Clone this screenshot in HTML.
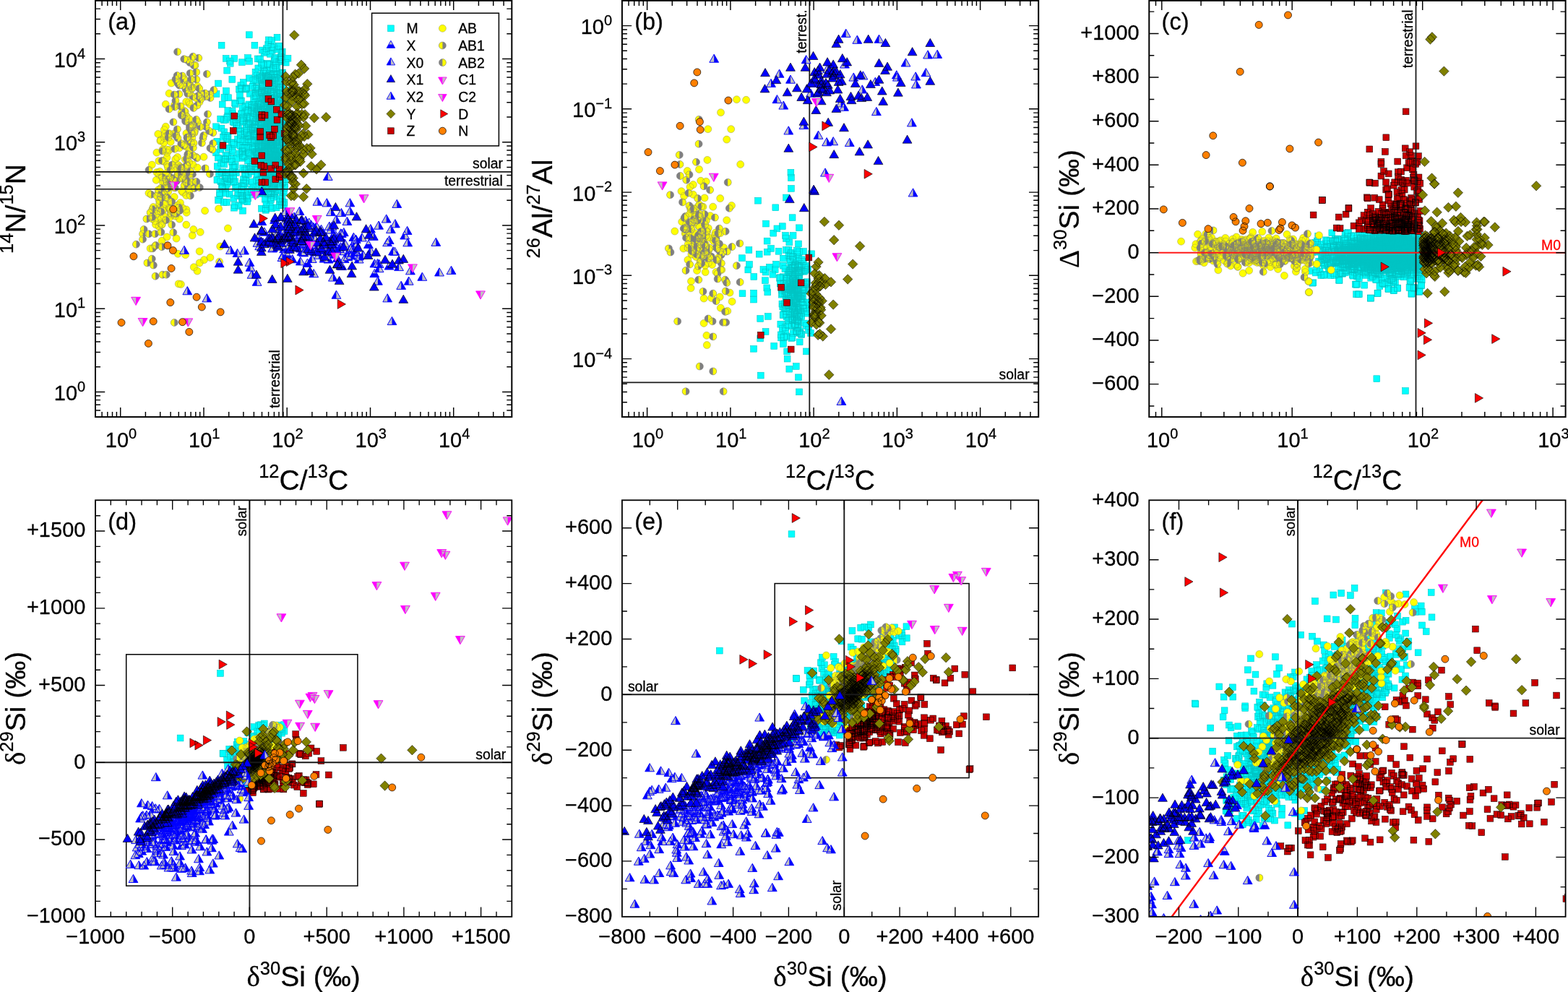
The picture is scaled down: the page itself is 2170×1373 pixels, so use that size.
<!DOCTYPE html>
<html lang="en"><head><meta charset="utf-8"><title>Presolar SiC grain isotopic compositions</title>
<style>html,body{margin:0;padding:0;background:#fff;overflow:hidden}svg{display:block}text{font-family:'Liberation Sans', Arial, Helvetica, sans-serif;stroke:#000;stroke-width:.28px}text.r{fill:#f00;stroke:#f00}polyline{fill:none;stroke:none}.fm{marker:url(#fm)}.sm{marker:url(#sm)}.fz{marker:url(#fz)}.sz{marker:url(#sz)}.fy{marker:url(#fy)}.sy{marker:url(#sy)}.fx1{marker:url(#fx1)}.sx1{marker:url(#sx1)}.fx{marker:url(#fx)}.ox{marker:url(#ox)}.sx{marker:url(#sx)}.fx0{marker:url(#fx0)}.ox0{marker:url(#ox0)}.sx0{marker:url(#sx0)}.fx2{marker:url(#fx2)}.ox2{marker:url(#ox2)}.sx2{marker:url(#sx2)}.fc1{marker:url(#fc1)}.oc1{marker:url(#oc1)}.sc1{marker:url(#sc1)}.fc2{marker:url(#fc2)}.oc2{marker:url(#oc2)}.sc2{marker:url(#sc2)}.fd{marker:url(#fd)}.sd{marker:url(#sd)}.fn{marker:url(#fn)}.sn{marker:url(#sn)}.fab{marker:url(#fab)}.sab{marker:url(#sab)}.fab1{marker:url(#fab1)}.oab1{marker:url(#oab1)}.sab1{marker:url(#sab1)}.fab2{marker:url(#fab2)}.oab2{marker:url(#oab2)}.sab2{marker:url(#sab2)}</style></head>
<body>
<svg xmlns="http://www.w3.org/2000/svg" width="2170" height="1373" viewBox="0 0 2170 1373">
<rect width="2170" height="1373" fill="#fff"/>
<defs>
<marker id="fm" markerUnits="userSpaceOnUse" markerWidth="20" markerHeight="20" viewBox="-10 -10 20 20" refX="0" refY="0" overflow="visible"><rect x="-4.4" y="-4.4" width="8.8" height="8.8" fill="#00ffff"/></marker>
<marker id="sm" markerUnits="userSpaceOnUse" markerWidth="20" markerHeight="20" viewBox="-10 -10 20 20" refX="0" refY="0" overflow="visible"><rect x="-4.4" y="-4.4" width="8.8" height="8.8" fill="none" stroke="#00c4c4" stroke-width="0.55"/></marker>
<g id="Lm"><rect x="-4.4" y="-4.4" width="8.8" height="8.8" fill="#00ffff"/><rect x="-4.4" y="-4.4" width="8.8" height="8.8" fill="none" stroke="#00c4c4" stroke-width="0.55"/></g>
<marker id="fz" markerUnits="userSpaceOnUse" markerWidth="20" markerHeight="20" viewBox="-10 -10 20 20" refX="0" refY="0" overflow="visible"><rect x="-4.4" y="-4.4" width="8.8" height="8.8" fill="#c80000"/></marker>
<marker id="sz" markerUnits="userSpaceOnUse" markerWidth="20" markerHeight="20" viewBox="-10 -10 20 20" refX="0" refY="0" overflow="visible"><rect x="-4.4" y="-4.4" width="8.8" height="8.8" fill="none" stroke="#000" stroke-width="0.5"/></marker>
<g id="Lz"><rect x="-4.4" y="-4.4" width="8.8" height="8.8" fill="#c80000"/><rect x="-4.4" y="-4.4" width="8.8" height="8.8" fill="none" stroke="#000" stroke-width="0.5"/></g>
<marker id="fy" markerUnits="userSpaceOnUse" markerWidth="20" markerHeight="20" viewBox="-10 -10 20 20" refX="0" refY="0" overflow="visible"><path d="M0 -6.7 L6.7 0 L0 6.7 L-6.7 0 Z" fill="#808000"/></marker>
<marker id="sy" markerUnits="userSpaceOnUse" markerWidth="20" markerHeight="20" viewBox="-10 -10 20 20" refX="0" refY="0" overflow="visible"><path d="M0 -6.7 L6.7 0 L0 6.7 L-6.7 0 Z" fill="none" stroke="#000" stroke-width="0.55"/></marker>
<g id="Ly"><path d="M0 -6.7 L6.7 0 L0 6.7 L-6.7 0 Z" fill="#808000"/><path d="M0 -6.7 L6.7 0 L0 6.7 L-6.7 0 Z" fill="none" stroke="#000" stroke-width="0.55"/></g>
<marker id="fx1" markerUnits="userSpaceOnUse" markerWidth="20" markerHeight="20" viewBox="-10 -10 20 20" refX="0" refY="0" overflow="visible"><path d="M0 -5.8 L6.4 5.4 H-6.4 Z" fill="#0000ff"/></marker>
<marker id="sx1" markerUnits="userSpaceOnUse" markerWidth="20" markerHeight="20" viewBox="-10 -10 20 20" refX="0" refY="0" overflow="visible"><path d="M0 -5.8 L6.4 5.4 H-6.4 Z" fill="none" stroke="#000" stroke-width="0.65"/></marker>
<g id="Lx1"><path d="M0 -5.8 L6.4 5.4 H-6.4 Z" fill="#0000ff"/><path d="M0 -5.8 L6.4 5.4 H-6.4 Z" fill="none" stroke="#000" stroke-width="0.65"/></g>
<marker id="fx" markerUnits="userSpaceOnUse" markerWidth="20" markerHeight="20" viewBox="-10 -10 20 20" refX="0" refY="0" overflow="visible"><path d="M0 -5.8 L6.4 5.4 H-6.4 Z" fill="#0000ff"/></marker>
<marker id="ox" markerUnits="userSpaceOnUse" markerWidth="20" markerHeight="20" viewBox="-10 -10 20 20" refX="0" refY="0" overflow="visible"><path d="M0 -5.8 L3.3280000000000003 0.02400000000000002 H-3.3280000000000003 Z" fill="#c0c0c0"/></marker>
<marker id="sx" markerUnits="userSpaceOnUse" markerWidth="20" markerHeight="20" viewBox="-10 -10 20 20" refX="0" refY="0" overflow="visible"><path d="M0 -5.8 L6.4 5.4 H-6.4 Z" fill="none" stroke="#0000ff" stroke-width="0.9"/></marker>
<g id="Lx"><path d="M0 -5.8 L6.4 5.4 H-6.4 Z" fill="#0000ff"/><path d="M0 -5.8 L3.3280000000000003 0.02400000000000002 H-3.3280000000000003 Z" fill="#c0c0c0"/><path d="M0 -5.8 L6.4 5.4 H-6.4 Z" fill="none" stroke="#0000ff" stroke-width="0.9"/></g>
<marker id="fx0" markerUnits="userSpaceOnUse" markerWidth="20" markerHeight="20" viewBox="-10 -10 20 20" refX="0" refY="0" overflow="visible"><path d="M0 -5.8 L6.4 5.4 H-6.4 Z" fill="#0000ff"/></marker>
<marker id="ox0" markerUnits="userSpaceOnUse" markerWidth="20" markerHeight="20" viewBox="-10 -10 20 20" refX="0" refY="0" overflow="visible"><path d="M0 -5.8 V5.4 H6.4 Z" fill="#c0c0c0"/></marker>
<marker id="sx0" markerUnits="userSpaceOnUse" markerWidth="20" markerHeight="20" viewBox="-10 -10 20 20" refX="0" refY="0" overflow="visible"><path d="M0 -5.8 L6.4 5.4 H-6.4 Z" fill="none" stroke="#0000ff" stroke-width="0.9"/></marker>
<g id="Lx0"><path d="M0 -5.8 L6.4 5.4 H-6.4 Z" fill="#0000ff"/><path d="M0 -5.8 V5.4 H6.4 Z" fill="#c0c0c0"/><path d="M0 -5.8 L6.4 5.4 H-6.4 Z" fill="none" stroke="#0000ff" stroke-width="0.9"/></g>
<marker id="fx2" markerUnits="userSpaceOnUse" markerWidth="20" markerHeight="20" viewBox="-10 -10 20 20" refX="0" refY="0" overflow="visible"><path d="M0 -5.8 L6.4 5.4 H-6.4 Z" fill="#0000ff"/></marker>
<marker id="ox2" markerUnits="userSpaceOnUse" markerWidth="20" markerHeight="20" viewBox="-10 -10 20 20" refX="0" refY="0" overflow="visible"><path d="M0 -5.8 V5.4 H-6.4 Z" fill="#c0c0c0"/></marker>
<marker id="sx2" markerUnits="userSpaceOnUse" markerWidth="20" markerHeight="20" viewBox="-10 -10 20 20" refX="0" refY="0" overflow="visible"><path d="M0 -5.8 L6.4 5.4 H-6.4 Z" fill="none" stroke="#0000ff" stroke-width="0.9"/></marker>
<g id="Lx2"><path d="M0 -5.8 L6.4 5.4 H-6.4 Z" fill="#0000ff"/><path d="M0 -5.8 V5.4 H-6.4 Z" fill="#c0c0c0"/><path d="M0 -5.8 L6.4 5.4 H-6.4 Z" fill="none" stroke="#0000ff" stroke-width="0.9"/></g>
<marker id="fc1" markerUnits="userSpaceOnUse" markerWidth="20" markerHeight="20" viewBox="-10 -10 20 20" refX="0" refY="0" overflow="visible"><path d="M0 5.8 L6.4 -5.4 H-6.4 Z" fill="#ff00ff"/></marker>
<marker id="oc1" markerUnits="userSpaceOnUse" markerWidth="20" markerHeight="20" viewBox="-10 -10 20 20" refX="0" refY="0" overflow="visible"><path d="M0 5.8 V-5.4 H6.4 Z" fill="#c0c0c0"/></marker>
<marker id="sc1" markerUnits="userSpaceOnUse" markerWidth="20" markerHeight="20" viewBox="-10 -10 20 20" refX="0" refY="0" overflow="visible"><path d="M0 5.8 L6.4 -5.4 H-6.4 Z" fill="none" stroke="#ff00ff" stroke-width="0.9"/></marker>
<g id="Lc1"><path d="M0 5.8 L6.4 -5.4 H-6.4 Z" fill="#ff00ff"/><path d="M0 5.8 V-5.4 H6.4 Z" fill="#c0c0c0"/><path d="M0 5.8 L6.4 -5.4 H-6.4 Z" fill="none" stroke="#ff00ff" stroke-width="0.9"/></g>
<marker id="fc2" markerUnits="userSpaceOnUse" markerWidth="20" markerHeight="20" viewBox="-10 -10 20 20" refX="0" refY="0" overflow="visible"><path d="M0 5.8 L6.4 -5.4 H-6.4 Z" fill="#ff00ff"/></marker>
<marker id="oc2" markerUnits="userSpaceOnUse" markerWidth="20" markerHeight="20" viewBox="-10 -10 20 20" refX="0" refY="0" overflow="visible"><path d="M0 5.8 V-5.4 H-6.4 Z" fill="#c0c0c0"/></marker>
<marker id="sc2" markerUnits="userSpaceOnUse" markerWidth="20" markerHeight="20" viewBox="-10 -10 20 20" refX="0" refY="0" overflow="visible"><path d="M0 5.8 L6.4 -5.4 H-6.4 Z" fill="none" stroke="#ff00ff" stroke-width="0.9"/></marker>
<g id="Lc2"><path d="M0 5.8 L6.4 -5.4 H-6.4 Z" fill="#ff00ff"/><path d="M0 5.8 V-5.4 H-6.4 Z" fill="#c0c0c0"/><path d="M0 5.8 L6.4 -5.4 H-6.4 Z" fill="none" stroke="#ff00ff" stroke-width="0.9"/></g>
<marker id="fd" markerUnits="userSpaceOnUse" markerWidth="20" markerHeight="20" viewBox="-10 -10 20 20" refX="0" refY="0" overflow="visible"><path d="M6.0 0 L-5.2 6.4 V-6.4 Z" fill="#ff0000"/></marker>
<marker id="sd" markerUnits="userSpaceOnUse" markerWidth="20" markerHeight="20" viewBox="-10 -10 20 20" refX="0" refY="0" overflow="visible"><path d="M6.0 0 L-5.2 6.4 V-6.4 Z" fill="none" stroke="#000" stroke-width="0.6"/></marker>
<g id="Ld"><path d="M6.0 0 L-5.2 6.4 V-6.4 Z" fill="#ff0000"/><path d="M6.0 0 L-5.2 6.4 V-6.4 Z" fill="none" stroke="#000" stroke-width="0.6"/></g>
<marker id="fn" markerUnits="userSpaceOnUse" markerWidth="20" markerHeight="20" viewBox="-10 -10 20 20" refX="0" refY="0" overflow="visible"><circle r="5.0" fill="#ff8000"/></marker>
<marker id="sn" markerUnits="userSpaceOnUse" markerWidth="20" markerHeight="20" viewBox="-10 -10 20 20" refX="0" refY="0" overflow="visible"><circle r="5.0" fill="none" stroke="#000" stroke-width="0.7"/></marker>
<g id="Ln"><circle r="5.0" fill="#ff8000"/><circle r="5.0" fill="none" stroke="#000" stroke-width="0.7"/></g>
<marker id="fab" markerUnits="userSpaceOnUse" markerWidth="20" markerHeight="20" viewBox="-10 -10 20 20" refX="0" refY="0" overflow="visible"><circle r="5.0" fill="#ffff00"/></marker>
<marker id="sab" markerUnits="userSpaceOnUse" markerWidth="20" markerHeight="20" viewBox="-10 -10 20 20" refX="0" refY="0" overflow="visible"><circle r="5.0" fill="none" stroke="#8a8a55" stroke-width="0.45"/></marker>
<g id="Lab"><circle r="5.0" fill="#ffff00"/><circle r="5.0" fill="none" stroke="#8a8a55" stroke-width="0.45"/></g>
<marker id="fab1" markerUnits="userSpaceOnUse" markerWidth="20" markerHeight="20" viewBox="-10 -10 20 20" refX="0" refY="0" overflow="visible"><circle r="5.0" fill="#808080"/></marker>
<marker id="oab1" markerUnits="userSpaceOnUse" markerWidth="20" markerHeight="20" viewBox="-10 -10 20 20" refX="0" refY="0" overflow="visible"><path d="M0 -5.0 A5.0 5.0 0 0 0 0 5.0 Z" fill="#ffff00"/></marker>
<marker id="sab1" markerUnits="userSpaceOnUse" markerWidth="20" markerHeight="20" viewBox="-10 -10 20 20" refX="0" refY="0" overflow="visible"><circle r="5.0" fill="none" stroke="#808080" stroke-width="0.5"/></marker>
<g id="Lab1"><circle r="5.0" fill="#808080"/><path d="M0 -5.0 A5.0 5.0 0 0 0 0 5.0 Z" fill="#ffff00"/><circle r="5.0" fill="none" stroke="#808080" stroke-width="0.5"/></g>
<marker id="fab2" markerUnits="userSpaceOnUse" markerWidth="20" markerHeight="20" viewBox="-10 -10 20 20" refX="0" refY="0" overflow="visible"><circle r="5.0" fill="#808080"/></marker>
<marker id="oab2" markerUnits="userSpaceOnUse" markerWidth="20" markerHeight="20" viewBox="-10 -10 20 20" refX="0" refY="0" overflow="visible"><path d="M0 -5.0 A5.0 5.0 0 0 1 0 5.0 Z" fill="#ffff00"/></marker>
<marker id="sab2" markerUnits="userSpaceOnUse" markerWidth="20" markerHeight="20" viewBox="-10 -10 20 20" refX="0" refY="0" overflow="visible"><circle r="5.0" fill="none" stroke="#808080" stroke-width="0.5"/></marker>
<g id="Lab2"><circle r="5.0" fill="#808080"/><path d="M0 -5.0 A5.0 5.0 0 0 1 0 5.0 Z" fill="#ffff00"/><circle r="5.0" fill="none" stroke="#808080" stroke-width="0.5"/></g>
</defs>
<g id="panel-a">
<clipPath id="cla"><rect x="132" y="0.9" width="576.3" height="576.2"/></clipPath>
<g clip-path="url(#cla)">
<defs><polyline id="p1" points="347.5,195 368.2,71.2 380.3,237.4 360.2,142.3 373.7,141.1 382,243.1 384.6,185.3 383.7,131.4 338.6,216 377.7,261.2 331,123.5 371,242 382.4,86.9 362,167.6 363.1,69.5 378.9,174.9 375.1,169.9 394,210.6 368,157.9 379.9,175.6 382,114.5 336.3,254.1 369.1,132 367.3,194.9 391.9,228.7 398.4,128.3 371.3,188.2 382.8,181.8 354.4,209.8 355.6,150.8 372.4,157.1 380.3,110.3 378.2,144.4 332.9,192.8 350.5,187.2 309.4,219.9 383.3,195.3 353.8,167.6 368.1,288.7 366.5,137.1 374.1,180.5 356.7,81.4 382.2,195.4 379.6,258.7 375.5,135.5 374.5,181.8 343.5,188.1 373.1,101.9 363.5,258.7 372.1,252.4 305.3,206.7 382.1,149.6 322,231.7 384.7,232 368.7,121.4 355.6,221.2 387.5,82 357.2,234.3 371.4,115.9 369.6,211.1 367,113.7 358.5,189.5 370.8,109.5 367.3,197 362.3,171.8 338.7,235.5 381.3,200.2 377.3,140.9 374.1,246.6 362.8,118.5 369,239.8 380.4,160.3 367.1,243.5 374.5,187.5 334.5,257.9 369.2,183.3 387,275.2 339.4,146.9 366.3,177 385.5,187.7 365.3,141.4 381.1,153 337.2,252.6 373.6,153.9 343,80.1 356.5,164.3 376.3,221.6 367,240.3 385,158.2 380.3,184.3 366.2,152.2 367.9,179.5 393,220.9 356.8,226.9 372.4,196 351.7,213.4 310.2,227.4 377.5,111.3 368.2,219.1 375.8,128.3 379.3,120.3 376.1,117.9 315.2,160.6 378.1,179.2 378.1,265.9 351,136.4 333,186.1 374.4,173.4 362.9,206.5 315,251.1 390.9,216.1 370.8,183.2 325.7,144.2 374.9,196.3 368.5,258.9 374.6,196.6 371.9,175.3 374.3,244.7 310,166.2 391.6,226.7 357.6,211.5 336.2,232.5 367.1,223.4 337.1,248.2 330,177.8 353.8,263.9 344.4,193.2 357.5,155.3 381,221.9 382.6,152.5 392.5,130.9 383.5,93.7 389,172.8 331.4,212.5 305.9,225.5 300.4,249.1 369.1,97.8 368.5,206.6 380.8,247.5 385.6,237.6 338.7,185.4 366,184.9 367.7,102 393.1,283.4 381.1,170.8 324.1,169.5 371,207.5 364,154.6 380,212.4 380.3,174.2 376,175.9 357.3,94.4 370.8,184.9 379.9,171 370.5,88.7 372.9,184.5 386.2,257.8 377.9,190.2 374.1,164.1 367.3,258.1 323.5,274.5 378.3,95.8 374,132.1 383.1,140 353.4,109.7 375.8,227.9 373.6,218.7 318.7,87.8 380,126.5 379.3,206.2 378.8,221.1 355.6,241 335.5,205.2 366.5,128 383.7,178.3 371.4,117.6 393.7,180.3 378.2,202 380.4,231.9 375.5,206.7 384,186.5 389.1,259.5 383.9,137.3 373.6,112.6 339.5,196.5 369.9,177.9 371.5,194.2 380.9,178.2 384.9,189.6 360.7,145.2 371,205.3 333,182.1 378.5,213.3 354.4,185.9 299.5,130 384.5,210 368,195.7 350.5,160.6 364.8,230.3 357.4,202.1 386.2,168.1 367.1,212.5 378.5,127.6 371.5,163 381.5,180.6 378.7,178.5 386.9,240.9 389.4,156.1 383.6,153 312.4,214.9 354.3,177.9 390.6,272.7 354.9,215.6 368.9,233 362.3,153.1 386.9,197.4 383.5,200.4 324.8,284.2 377.9,189.8 356.9,182.6 364.9,130.8 351.8,184.5 371.4,229.9 369.1,151.5 383.9,146.8 384,194.3 371.8,155.1 374.8,175.3 374.3,267.4 341.2,182.7 363.3,128.7 342.3,152.1 382.5,193.5 374.7,149.2 351.6,234.5 361.2,187.4 347.7,215.5 361.6,208.1 359.1,220.7 357.8,204.6 358.3,193.6 360.8,268.2 356,121.7 338.2,181.1 379.9,186.1 375.8,182.4 351.8,187.8 341.5,167.2 396.6,239.3 376.2,143.5 311.5,250.8 382.4,108 311.7,220.3 371.6,197.3 369.3,132.4 387.4,215.9 306.6,238.4 362.2,194.3 336.5,168.7 366.7,117.8 366.9,127.8 361,169.1 381.3,181.3 372.9,188.1 375.1,219.6 352.5,133.3 353.3,230.8 380.1,175.4 378.8,239.3 351,264.9 382.5,195.6 379.5,84.7 385.1,122.4 313,125.8 369.1,218.9 380.2,136.9 359.9,191.7 377.2,255.8 375.7,167.7 368.6,242.6 358.5,253.9 305.2,164.6 377.9,170.8 358.1,169.4 315.3,153 385.9,63.6 340.9,272.3 339.5,123.6 373.7,225.5 377.1,144.5 382.2,214 358,213.1 373.9,202.2 383.6,135.2 367.1,178.7 389,219.5 375.7,141 393.2,229.5 353.1,176 368.7,261.4 343.4,171 357.8,191 376.9,190.8 374.9,166.3 362.8,230.7 379.6,220.6 394.5,248.3 392.3,142.9 380.5,163 371.3,170.9 367.7,162.8 368.5,256.2 348.2,262.2 381.4,216 387.9,278.5 374.6,162.4 375.1,103.9 375.8,108 375.3,126.9 374.3,199.7 340.8,233.3 364,165.2 368.4,112.4 374.9,162.7 321.6,153.9 375.4,164.4 392.6,146 368.8,207.9 367.6,253.8 368.5,225.9 378.9,227.7 377.8,152.2 315.6,187.8 345.1,233.8 361.4,210.3 365.6,195.5 359.9,186.1 376.9,199.6 331.9,132.1 312.5,165.7 381.1,209.6 351.4,156.3 387.9,246.6 312.1,187.7 353.3,202.2 355.5,162.9 375.1,179.8 335.7,270.7 371,143.2 310.5,135 361.3,107.9 378.9,132.1 374.4,145.3 371,106.5 355.9,185.9 385.9,175 369.1,172.3 393.7,260 399,137.4 387.6,119.9 389.7,204.3 379.7,214.3 356.5,145.5 382.8,190.1 314.3,255.1 367.2,250.1 378.9,172.3 346.5,170.5 376.4,225.4 360.7,200.1 373.1,134.5 354.3,230.2 387,129.1 335.5,149.3 379.5,193.3 343.2,204.7 379.7,219.7 377,147.4 356.7,125.6 356.2,147.8 307.5,258.9 383.8,222.8 388.7,231.9 385.8,188.7 375,170 380.4,168 378.1,170.9 351.5,205.6 382.4,137.6 380.2,81.6 371.9,169.6 379.8,156.4 380.5,114.3 383.7,176.7 392.7,161 341.9,161.4 355.6,158.7 312.7,244.8 370.2,195 370.1,174.6 367.8,290.8 373.8,240.9 375.6,221.5 369.7,240.5 380,251.8 385.6,142.5 386.2,124.6 312.4,261.4 386,63.8 385.5,180.3 381,90.7 365.4,209.7 364,218.3 389.2,179.9 308.3,202.7 366.1,224.5 360.2,104.6 374.9,185.4 364.3,102.1 374.9,150.1 373.7,151 382.1,197.1 371.5,139.4 385.4,205.8 393.8,210.9 374.7,174.7 321.7,210.6 347.8,237.6 373.6,253.3 369.1,176.1 376,142.5 381.1,219.7 379,253.9 388.8,209.5 369.4,132.2 382.1,171.4 376.6,69.9 336.8,114 354.2,128.7 337.5,259.2 367.7,231.5 349,145.9 344.5,163.9 385.4,109.4 357.7,174.4 386,217.7 396.9,128 373.8,140.2 307.7,144.5 359.4,196.7 343.4,193 326.9,172.2 380.3,107.7 368.4,283 333.7,265.5 359.9,216.6 381.9,215.2 326.6,161.9 383.9,188.7 368.9,116.8 378,143.3 354.6,267.7 373.5,164.9 374.3,111.2 308.4,238 346.4,230.6 387.3,152.4 369,217.2 375.3,148.5 362.8,116 375.5,136.6 384.6,137.6 375.4,222.7 390.6,133.8 345.7,129.7 371.9,222.1 301.8,218.5 300.3,195.7 374.8,241 372.6,154.7 336,291.7 371,268.5 375.6,236.9 316.8,247.9 363.2,105.8 381,166.3 340.6,123.1 383,213.7 382.5,127.9 390.3,208.6 368.6,223.6 338.5,156.4 373.6,191.4 371,134.5 384.5,168.4 367.3,146 315.9,204.8 391.2,161.9 395.8,175.6 373.8,242.3 343.1,222.5 362.4,201.8 365.6,161.6 377.1,249.9 367.6,206.1 364,152 374,209.6 377,213.5 363.2,235.5 344.4,189.3 354.2,132.4 373.1,143.7 365.7,143.3 335.8,276.2 322.8,252 368.9,171.4 366.4,202.7 366.5,99.9 358.8,164 359.2,209.8 346.9,176.7 372,155.3 371.5,104.4 383.6,210.4 370.6,124.8 366.7,275.7 350,162.7 356.3,233.9 397.9,125.2 366.3,164.6 368.5,189.8 388.4,138.6 392,227.3 366.6,208 386.8,192.9 360.8,171 355.1,121.2 387.8,128.4 347,196.6 362.5,184.6 323.4,231.6 382.5,172.4 374.6,158.5 342.3,279.2 311.3,247.3 393,177.6 374.5,268.3 352.8,185 372.3,224.6 362.5,202.3 348,265.8 364,245 379.1,142.6 367.9,104.8 381.3,191.4 364.3,226.8 348.1,152.9 386.2,138.9 371.7,220.4 371.5,163.1 349.8,204.4 358.1,224.5 361.6,155 386.1,219.3 369.8,224.9 389.3,228.8 364.8,97.7 375.7,149.5 386.3,124.6 377.9,153.2 383.7,156.4 383.1,191.8 369.4,145.1 359.6,161.9 381,208.9 371.1,107.7 383.2,181 332.1,139.5 345.2,212.3 326.9,219.2 315.1,216.3 376.4,218.1 349,148.8 366.8,241.6 317.7,268.6 367.2,138.1 374.3,205.5 376.7,163 363.4,197.3 380.4,189.8 372.8,228.6 351.9,175.3 382.7,172.9 374,168.5 385.9,151.1 390.1,284.1 372.4,162.9 349.2,207.3 375.8,132.2 387.1,168.5 304.1,267.2 393.3,221.8 366.3,129.8 392.7,205.7 374,136.3 367.3,179.2 350.8,145.5 365.9,148.3 380.1,187 384.3,145.6 389.4,73.3 367.5,223.5 327.7,173.7 307.8,260.6 378.9,185.4 369,105.5 389.1,138.9 365.9,155.1 371.9,241.3 390.7,71.5 348.8,251.5 375.5,160.5 375.1,178.9 367.7,159 359.4,160.3 361.7,240.4 379,272.7 379.2,255.4 352.3,176.2 350.2,259.3 383.8,154.9 322.5,168.4 390.3,148.5 318.6,247.9 395.4,152 364.3,220.9 358.9,159.9 383.2,147.2 371.6,243.9 384.2,231.1 353.2,122.9 391,167.3 370.4,221.8 386.5,211.9 367.2,176.1 378.1,130.2 387.2,171.3 370.2,124.9 374.1,127.7 355.5,135.3 369.4,194.9 361.3,204.6 398.5,80.7 375.3,192.5 364,181.6 379.3,208.4 378.1,167.9 370.8,171.7 313.5,238.9 341.2,122.1 372.4,248.3 374.4,153.1 369.3,197.4 389.8,163.8 374.8,227.8 375.8,201.6 382.5,287.4 355.9,220.9 372.1,178.9 343.8,171.8 323,244 370.8,187.8 335,210.2 355.1,249.3 369.7,106.6 383.5,196.2 373.1,200.7 372,202.5 320.6,197.3 360.6,148.3 355.8,111.5 384.6,112.3 373,227.1 369.5,202.1 383.7,224 346.2,187.1 341.5,270.3 358.4,150.9 377,154.9 384.8,236.9 375.9,226.1 386.8,199.5 383.9,250 366.5,187.6 375.3,182.5 341.3,235.3 380.3,183.5 373.8,74.8 366.6,222.7 377.6,179.6 378.5,181.9 373.9,152.2 354.9,157.5 325,142.5 382.9,242.5 356.8,214 369.5,232.3 393.5,280.2 333.3,118.2 310.3,182.4 385.1,147.2 381.8,173.8 361.5,111.2 388.7,101.6 338.7,240 366.7,216.5 326.8,239.2 351.3,187.7 361.9,183.8 368.2,193.8 373,162.8 375.9,165.3 390.4,120.7 361.3,181.4 355.3,154.3 384.5,263.8 376.7,235.6 371.5,164.2 384.6,178.8 361.4,154.9 375.1,276.3 365.1,176.8 334.5,263.3 334.1,157.4 385.5,183.7 380.7,228.4 371,118.5 382.3,124.6 356.9,203.6 372.7,167.8 387.5,164.9 373.9,142.5 394.2,200.5 314.1,247.2 375.5,220.2 377.2,253.8 374.6,182.6 393,143.6 337.3,217.3 369.5,183.6 363.8,255 312.1,267.5 352.7,150.4 306.5,177.5 376,249.3 360.9,150.4 386.2,217.2 361.4,127.6 391.4,186.5 353.3,269.6 366.4,108.9 363.1,248.4 367.2,188.1 384.4,229.2 379.4,188.6 335.6,208.6 385.2,115.8 363.7,120.2 361.6,220.2 373.8,285.5 359.7,164.3 379.2,181.8 368.8,254.4 311.6,244 374.5,196.2 369.5,230.4 354.1,172.2 377.4,224.8 373.7,170.3 360.8,229.1 373.6,186.9 350,227.7 384.7,215.9 360.1,155.3 322.1,238 371.2,61.7 382.6,186.9 390.4,173.9 334.9,122.5 350,217.5 365.3,189.5 358.2,122.4 367.4,211.6 382.4,226.3 382.8,169.8 375.5,193 364.7,173 357.7,172.2 383.3,180.6 372.5,191.8 370.3,147.7 362.4,137.1 367.2,178.6 390.8,100.5 355.4,148 373.4,217.9 375.8,288.5 344,264.9 313.8,279.9 389.6,199.8 349.9,202.3 326,260 374.2,203.1 381,144.9 373.6,209.7 371.5,153.8 384.6,187.4 366.2,208.6 370.3,131.2 365.7,190.5 373,142.3 387.5,105.3 383.3,172.2 375.1,257.1 379.6,206.4 383.5,180.9 367.4,248.2 377.3,167.2 373.7,165.1 384.3,171.9 389.6,82.8 302,277.1 355.5,211.6 383.6,202.3 396.1,200.3 384.2,213.3 365.6,209.6 386.9,241.5 390.6,175.8 342,183.5 365.7,215.3 390.4,222.1 388.1,135.6 321.6,207.6 368.3,174.2 373,257.1 371.3,268 353.4,173.4 384,157.3 374.2,274 371.8,209.2 372.3,198.7 390.9,279.4 362,288.7 384.1,171.6 368,199.8 339.1,254.1 379.8,161.1 363.1,118.8 377.9,215.4 333.1,187.6 379.2,181 355.8,215.2 372.4,189.8 370.1,87.8 325.8,165.9 384,252.7 323.2,246 323.9,199.9 334,139.4 367.2,151.4 373.5,144.9 390.2,224.2 351.8,198.1 343.4,153.7 373.3,233.5 367.2,210.3 360,81.6 359.7,248.4 364.6,108.6 370.2,168.5 371.5,231.9 335.9,164.1 379.2,124.1 372.8,112.2 376.9,152.6 375.4,64.7 362.8,118.2 357.9,153 367.9,250.2 391.1,218.3 368.7,138 374.3,141.6 361,179.9 375.7,221.7 372.6,148.1 369.6,219.5 325.7,229 374.8,156.9 376.5,162.3 373.6,177.2 382.2,193.2 363.9,217.7 378.4,209 388.1,177.1 347,234.3 333.6,271.1 330.6,285.1 370.1,138.6 386.8,173.6 385,216.5 357.3,176.8 380.2,158.2 389.1,216.3 352.9,180.9 358.2,151.4 378.1,102.8 375.4,189.8 390,241.6 323.3,197.6 374.3,113.7 366.5,171.5 391.5,251.8 389.6,162.3 378.2,151.5 353.4,141.9 377.6,200.4 386.8,284 388.7,134.5 371.3,115.1 360.8,225.7 388.5,187.1 337.4,204.2 371.7,156.1 388.6,189.5 386.8,162.4 375.9,217.1 364.2,163.4 381.7,98.3 390.7,253.4 385.5,157 361.1,234.9 368.5,217.7 382.2,227.5 378.4,180.1 374.1,149.3 365.4,163.7 348.7,178.1 337.2,167.4 395.9,157.8 345,84.8 321.7,158.1 380.3,267.8 378.7,117.4 329.2,267.1 369.4,134.6 347.3,230.8 376.4,150.9 329.1,192.4 369.3,154.8 390.1,216.4 392.9,266.5 305.8,200.5 377,224.1 361.4,259.9 390,173.7 387.6,172.2 329.4,271 380.1,238.7 357.6,198.8 371.3,149.6 373.1,89.5 365.5,225.5 385.1,207.2 320.9,223.8 341.7,193.1 379.8,173.7 370.7,233 362.9,125.4 389.6,236.2 309,190 388.3,121.4 369.2,247.8 383,120.7 383.7,68.4 363.9,191.7 335.4,274 374.1,242.2 367.9,227.4 387.7,257.6 381.7,148.7 374.2,186.1 386.3,204.5 376,161.5 311.6,220.7 363.3,188.1 392.9,222.4 355.6,104.8 367.4,152.3 376.8,166.6 343.7,241.1 395.1,132.8 382.5,148.8 375.2,140.2 372.2,120.8 343.8,211 355.9,266.3 391.5,201.2 383.7,166.5 378.3,223.7 374.6,200.3 387.1,134.2 387,139.5 334.8,276 396.6,198.4 364.7,211.2 373,144.9 377.8,258.9 370.8,159.3 364.1,188.6 375.2,177.5 374.1,210.9 354.3,194.2 350.4,111.3 337.6,278.4 354.8,210.3 351.6,148 381.2,79.8 387.9,138.6 375.4,267.6 375.4,199.9 364.5,134 314.2,190.8 372.7,265.6 360,156.7 382.6,187.1 314.3,193.4 332.4,201.8 384.4,187.8 383.5,202.8 353,157.3 376.3,270 362.5,179.3 385.8,248.1 382,145.5 377.5,121.2 379.5,101.8 388.8,172.4 370.8,265.5 383.4,217.4 377.5,260.5 335.8,215.1 369.3,140.2 363.9,136.7 361.7,244.6 371.5,137.2 357.9,164.9 358.1,154.8 363.2,187.5 369.1,232.3 366.6,126.4 340.5,153.7 370,238.1 381.4,246.6 387,221.7 379.3,164.8 384.4,228.9 385.7,176.5 376.4,222.8 358,249.8 336.3,195.5 355.4,177.2 349.6,119.8 393.6,106.6 378.7,203.8 369.7,249.2 383.3,103.7 336.5,167 375,254.7 358.2,140.2 338.6,205 354.3,188.1 324.6,231.3 358.5,194.7 374.1,170 392.1,173.4 365.4,90.3 376.8,156.6 321.3,109.9 384.1,202.4 344.7,108.3 375.9,205.4 394,257.1 370.3,148 381.6,178.6 336.8,162.5 367.3,160.6 350.9,176 372.9,171.2 361.7,143.5 388,188.4 340.6,250.1 389.5,144.8 355.4,267.4 340.1,241.9 390.5,101 368.2,132.8 376.7,145.1 340.6,178.2 376.1,156.1 384.6,185 359.1,107.5 333.5,121.8 359,143.7 314.3,162.8 350.1,181 371,185.6 358.8,128.6 385,169.3 372.7,239.7 353.5,99.8 380.6,265 361.7,127.5 375.9,170.9 374.4,154.7 380.4,175.9 383.6,262.3 344.4,144.4 366.1,185.7 319.8,220.2 371.3,141.6 373.2,212.8 377.7,198.7 360.6,165.9 377.8,189.1 384.9,196 335.5,218.8 388.9,79 371.3,201.5 378.1,94.2 382.2,215 392.4,213.6 374.3,116.9 374.9,186.5 302.9,240.2 384.2,237.3 380.6,155.1 363.7,202.3 367.5,163.2 363.8,186.9 371.1,106.5 375.9,225.1 354,235 378,148.7 386.3,85.4 328.3,257.4 346.6,165.3 367.5,177.6 382.1,222.6 384.3,102.9 369.3,185.3 371.8,233.1 385.4,189.1 361.7,87.4 371.5,141.1 380.6,215.7 379.9,173.1 391.9,197.8 379,171.6 358.3,209.6 364.6,212.7 340.9,172.1 377.6,193.3 380.7,107.4 344.8,48.2 306.6,62.7 352.4,62.7 383.5,51.7 371.8,55.3 376.1,56 379.2,65.5 368.7,67.2 365.5,72.9 312.7,80.9 318,84.5 324.3,80.9 334.9,86.2 302.1,115.5 314.2,97.6 315.9,135.2 395.7,86.6 395.1,135.2 299,175.3 299,211.2 300.7,230.2 305.3,251.3 307,258.1 304.3,270.4 309.5,279.9 325.4,251.3 323.9,287.7 343.3,274.6 398.2,160.5 396.6,228.1"/></defs><use href="#p1" class="fm"/><use href="#p1" class="sm"/>
<defs><polyline id="p2" points="245.6,217.5 241.2,272.6 237.5,296.8 223.2,268.4 242.2,246.9 219.9,241.5 244.1,245.2 225.2,265.7 226.8,268.1 219.1,262.9 240.5,295.4 234.6,252.6 251.4,264.2 227.6,251.2 261.3,254.4 234.2,248.6 234.3,287.4 232.3,231.6 257.7,270.5 249.4,230.8 253,266.3 257,251.6 273.2,232.1 227.1,299.4 230.2,251.1 252.7,245.8 232.7,265.5 230.8,256.5 262.3,264 242.3,299.1 211.3,299.6 245.9,284.2 228.3,269.6 233.3,243.9 205.9,267.3 239.5,259.3 242.4,232.3 249.4,232.2 249.6,236.2 212.1,286.6 228.5,282.2 216.9,238.6 249.5,280.7 226.2,223.3 266.8,227.8 256.3,220.8 248.2,204.8 221.9,195.1 218.8,185.5 232.6,185.7 245.9,241.2 260.9,242.3 221.3,237.4 230.1,239.9 227.5,190.7 216.9,211.2 228.2,185.1 225.2,251.8 234.5,207.4 222.3,193.6 226.8,197.6 246.6,228.4 252.4,232.8 231,218.1 215.5,310.9 224.2,310.6 258.2,294.3 214.4,305.7 225.3,291.7 221.9,309.2 234.9,301.1 210.2,302.7 214.1,289.6 226.7,288.8 220.1,313.7 234.5,289 221.4,288.1 235.7,289.9 223.8,311 273.3,119.2 257.7,140.7 257.9,184.6 265.8,190.8 261.7,141.2 262.8,144.5 264.8,252.5 259.4,194.7 262.6,118.4 271.3,135.6 264.8,184.8 240.9,184.8 251.2,156 252.2,159.2 254.9,153.4 242.8,220.4 264.1,119.1 241.4,145.3 276,141.5 256.9,202.5 266.6,173 261.9,208.2 230.8,207 261.4,224.2 282,217.2 252.7,287.9 243.6,185.2 229.3,144.3 234.1,129.3 237.1,115.1 229.3,175.3 227.2,179.5 236.2,196.4 225,207 231.4,211.2 219.8,222.8 210.3,228.1 231.4,228.1 216.2,249.2 257.8,290 283.6,291.7 302.6,288.9 248.3,303.1 257.8,311.1 267.7,317.5 277.2,321.3 266.2,325.9 315.4,316 244.1,330.1 304.7,341.1 276.2,347.9 246.2,351.3 256.7,352.7 303.6,362.2 290.9,356.5 282.5,359.7 276.2,363.9 268.3,369.8 273,375.1 247.2,392.9 250.4,393.5 214.5,340.7 224,333.3 208.1,343.9 231,328 222.9,302.7 216.6,296.3"/><polyline id="p3" points="246.3,241.8 257.6,248.5 266.5,251.9 271.9,251.5 244.4,250.8 239.7,247.9 269.3,260.5 237.7,279.3 276.4,259.5 259.1,252.5 251.7,247.1 266.5,241.3 257.7,252.8 257.1,241.2 218.9,292.1 242.3,260 222.7,260.5 222.4,272.4 263.4,270.9 220.5,277.3 247.5,287.3 220.8,281.5 232.3,260.5 230.2,248.1 217.1,271.2 231.4,252.9 255.1,256.7 236.1,279.3 230.8,273.2 232.5,274.8 210.9,289.7 223.6,274.1 224.6,245.3 244.1,295.5 236.1,245.5 219.3,267 255.5,244.4 248.6,291.6 229.5,304.7 222.9,293 236.4,294.8 242.4,295.2 209.2,269.3 290.5,240.8 208.1,294.2 202.9,303.1 210.3,300.6 199.1,317.5 206,323.8 222.9,321.3 188.5,338.2 237.7,311.1 211.3,343.9 224,341.7 203.9,363.9 215.1,382.3 230.3,380.2 197.6,323.8 214.5,323.8 197.6,331.2 239.8,321.7 215.5,339.6 210.3,358.2 212.4,367.1 225,380.2 241.3,446.5"/><polyline id="p4" points="245.5,71.8 258.8,83 274.7,80.3 268.3,90.8 286.3,102.4 254.6,108.8 245.1,104.6 295.8,124.6 290.5,130.5 287.4,158 286.3,169 294.7,183.8 294.7,198.5 293.7,207 270,90.4 243,109.6 259.3,190.1 254.6,110.7 262.9,86.8 277.6,130.3 251.2,159.8 267.3,204.4 259.5,117.3 234,151 249.8,147.1 291,135.5 262.2,128.1 245.3,178.9 242.9,139.4 290.9,205.1 256.6,167.9 264.6,110.2 265,109.8 276.6,134.5 283.8,129.1 271.6,99.9 271.8,110 277.2,175.5 266.8,173.7 258.1,160.9 280.9,191.2 254.7,81.7 245.9,191.2 258.9,190.5 256.2,154.7 245.2,112.9 252.9,118.3 260.8,193.8 247.7,130.3 265.9,174.5 266.8,133.4 246.2,115.6 264.1,175.7 272.6,218.8 272.8,145.9 267,78.3 273.4,169.1 259.7,129.8 266.3,176.3 266.5,121.5 269.4,181.4 273.7,132.8 265.5,122.7 271.6,165.5 262.4,173.6 262.4,177.4 259.8,124.9 284.5,133.6 259.9,213.3 264.8,181.3 261.8,164.8 284.9,175.4 256.7,165.3 258.7,228.2 267.4,215.2 238.3,228.1 264.3,197.6 284,232.9 252.2,105.1 281.7,187.6 264.2,175.8 255.9,231.6 257.2,123.9 241.2,131 267.8,149.5 234,184.8 250.6,232.8 255,200.6 268,198 263.4,237.1 250.8,198.7 279.3,197.9 269,183.8 258.4,220.1 265.7,185 243.7,187.7 254.2,201.5 271.6,217.6 259.8,214.7 289.5,181.4 241.7,206.2 206,235.3 258.6,229.3 236.1,235.1 224.9,209.1 233.1,190.3 224.3,222.5 265.2,81.3 263.1,101.4 248.3,118.3 275.7,122.5 277.9,137.3 241.9,147.9 239.8,169"/></defs><use href="#p2" class="fab"/><use href="#p3" class="fab1"/><use href="#p3" class="oab1"/><use href="#p4" class="fab2"/><use href="#p4" class="oab2"/><use href="#p2" class="sab"/><use href="#p3" class="sab1"/><use href="#p4" class="sab2"/>
<defs><polyline id="p5" points="371.8,115.3 371.4,136.9 375.4,140.5 382.8,151.7 389.4,158 362.3,158.8 366.6,159.5 362.3,162.6 324.3,160.5 383.5,165.8 379.9,178.7 322.8,181 360.2,182.1 360.2,189.5 372.9,186.9 378.2,187.6 375,190.1 393.6,184.8 308.5,201.3 362.3,215.4 352.4,223 381.3,228.5 361.3,228.7 365.5,230.2 375,233.4 386.6,234.4 364.4,238.7 386.6,240.8 386.6,245 381.3,248.2 362.3,252.4 367.2,252.4"/></defs><use href="#p5" class="fz"/><use href="#p5" class="sz"/>
<defs><polyline id="p6" points="404.9,159.3 395.5,238.5 403,171.9 403.1,127.7 411.8,156.8 414.4,201.2 413.9,192.9 413.3,101.5 407.5,197.9 404.1,113.4 401.8,159.7 400.6,157.5 404.1,132.8 413.3,138.2 396.2,113.2 395.3,105.7 410.2,158 403.7,243.5 410.4,170 397.5,163.5 417.9,144.3 405.7,246.6 426.4,186.3 410.4,124.7 397.6,236.2 405.9,228.8 404.6,126.5 406.7,117.3 404.9,164.5 410.5,219 416.8,187.6 395,207.5 408.6,195.7 399.6,227.8 398.5,159 410,162.9 417.6,157.9 406.3,261.2 405.6,192.4 411.7,165.3 398.1,210.2 410.2,200.1 414,126.2 411.4,204.3 398.6,239.1 405,185.8 404.5,124.1 403.8,160.3 415.6,135.1 399.8,195.7 409.4,211.9 403.1,179.6 397.4,177.8 404.1,139.8 402.7,166 402.6,178.3 403.6,172.1 424.8,205.2 419.3,206.7 408.6,102.7 394.4,240.6 411.1,147.3 402.8,222.3 400.8,206.2 402.5,245.7 395.3,221.2 408.9,254.7 409.6,205.1 399.2,155.3 419.4,185 397.8,185.1 411.3,197.1 412.4,130.3 413.9,173.7 415.6,223.8 403,271 401.9,169.4 396.9,192.2 399.5,192.6 398.3,187.5 405.6,186.8 416.9,89.7 409.6,179.3 401.3,232.3 400.8,242.1 400.3,191.5 404.9,126.6 401.8,217.2 395.1,135.1 405.4,252.2 405.2,167.4 400.7,171.9 420.1,162.3 406.4,188.4 414.9,220.4 393.9,145.5 401,176.1 399,237.3 408,177.2 407,271.1 408.8,175.1 406.4,179.2 398.8,174.5 405.2,184.6 397.9,147.1 395.2,217.8 402.5,115.5 405.6,127 417.5,127.6 421.9,123.2 407.5,175.3 396.5,193.2 400.7,198.6 401.4,161.2 405.6,106.9 398.9,129.5 396.8,126.2 408.8,228.4 409.7,135.5 402.9,215.5 420.6,129.9 399,158.6 408.4,228.2 408.6,162.2 408.6,167.8 407.3,48.6 421.1,95 425.3,116.2 422.1,132 421.1,143.6 434.8,163.3 451.3,162.2 422.1,158.4 423.2,174.3 421.1,189 429.5,204.9 431.6,213.3 420,213.3 430.6,230.2 444.3,228.1 438,234.4 420,239.7 424.2,261.3 420,272.5"/></defs><use href="#p6" class="fy"/><path d="M391.4 0.9V577.1" stroke="#1a1a1a" stroke-width="1.8"/><path d="M132 237.8H708.3" stroke="#1a1a1a" stroke-width="1.8"/><path d="M132 261.8H708.3" stroke="#1a1a1a" stroke-width="1.5"/><use href="#p6" class="sy"/>
<defs><polyline id="p7" points="405.1,316.4 471.4,328.6 466.8,357.1 393.2,344.3 461.9,324.4 463,351.9 395.1,322 464.6,325.6 419.2,337.4 427.4,334.1 421.9,331.7 380.1,304 509.9,338.1 422.3,326.4 388.2,325.5 399.1,326.5 362.3,306.2 382.5,315.5 370.7,330.5 427.7,307.7 401.3,308.1 365.9,320.8 444.6,317.1 391.8,352.6 398.4,353.4 414.5,316.3 420.2,349.5 447.3,346.2 538.5,367.7 546.4,347.9 481.9,349.6 488.4,349.2 469.1,344.1 429.4,343.8 425.4,364 473.2,368.2 518.3,378.3 356.9,328.7 454.6,358.7 303.6,364.3"/><polyline id="p8" points="471.8,347.4 385.2,334.1 416.1,343.6 477.2,336.6 392.9,318.4 413.9,317 434.5,328.3 462.7,331.4 485.3,343.3 401.3,320.2 438,312.8 425.1,336.5 388.7,299.9 492.3,336.2 420.5,328.6 408.8,324.5 402.8,334.1 459.4,313.2 387.4,326.7 398.6,304.9 430.8,311 429.6,329.8 544,347.6 364,335.3 431.7,358.1 560.2,325.6 418.4,319.9 439.6,341.3 489.4,328 412.9,321.4 496.7,358.6 518.4,364.5 419.9,331.6 381,316 516.2,326 500.9,328.6 436.2,331.1 512.9,347 502.6,352.6 417.4,332.5 471.4,341.5 417.5,348.2 491.9,348 443.6,319.3 448.6,357.7 457.5,340.4 434.2,378.4 415.8,361.5 552,369.2 524.6,365 524.6,371.3 584.3,382.9 608,376.6 565.7,388.8 465.4,407.9 453.8,244 328.5,350.2 355.6,389.9 346.5,369.8"/><polyline id="p9" points="492.7,331.1 421.3,317.4 423.6,324.1 424.8,342.7 415,324.8 391.1,321 395.1,326.3 461.3,349.2 481.4,355.3 430.1,335 400.9,338.8 422.9,336.4 436.3,348.5 461.3,334.3 416.1,324.1 443.2,318.5 407.1,325.6 493.5,339 471.6,322.6 377.1,343.6 455.4,334.1 418.2,330.2 390.5,356.1 393.1,319.4 423,305.1 395.2,293.1 403.1,308.8 434,314.1 395.9,330.4 430.1,315.2 414.5,292 392.6,309.4 480.4,306.1 388.6,328 476.6,358.2 564.2,335.5 455.8,312.9 475.8,321.3 441.1,352.9 546.9,309.5 449,332.1 415,326.5 373.8,331.6 497,354.6 488.2,344.7 435.6,347.9 378,342.4 460.9,383.7 409.3,330 540.9,317.2 472.8,323.1 421.4,334.1 356.5,335.9 516.8,327 359.2,340.3 522.5,364.3 427.3,337.6 536.1,335.3 457.8,317.8 485.9,353.5 486.1,342.9 465.2,303.7 452.6,341.2 464.1,344.3 463.5,328.3 492.3,330.9 427.3,339 460.3,337.6 404.6,358.4 457.3,335.9 407.1,299.8 427.2,331 384.3,322.5 534.7,302.7 524.1,311.8 512.9,316.4 563.6,319.1 603.3,335 538.7,332.2 567.9,374.5 624.5,374.1 522.9,388.8 555.2,395 536.2,412.5 542.5,444.2 458,293.2 472.4,294.2 484.4,292.1 439.4,278.8 452.3,280.5 484.4,280.5 549.3,282 255,346 259.3,402.4 286.3,412.5 319,346 338,346.6 345.4,362.9 348.6,379.8"/><polyline id="p10" points="421.4,315.2 455.1,347.9 365.7,337.4 352.5,328.6 405,335.1 417.9,303.9 416.7,318.7 444.5,320.9 389.6,331.9 407.9,310 459.5,347 389.5,335.9 411.1,342.7 376.2,327.8 417.6,333.2 418.9,315.7 407,341.4 422.1,326 434.6,321.3 449,354.9 418.4,329.5 426.4,312.5 399.9,316.3 398.5,326.8 383.3,338.6 451,327.7 395.1,327 442.7,320.9 447.9,334.5 470.4,328.5 376.5,336.6 462.2,311.4 384.7,340.9 399.5,326.4 426.4,344.4 456.5,334.3 372.9,328.8 388.6,299.8 417.3,333.2 394.5,329 361.8,342.4 462.2,329.9 418.9,327.5 459.1,337.8 443.4,329.3 377.8,328.8 430.4,347.4 510.8,324.8 495.7,342.6 401.3,321.8 399.7,309.7 438.6,348 438.7,335.4 475.5,341.4 437.8,318.7 405.3,332.3 459.5,333.1 444.4,343.1 361.6,333.8 402.3,328.1 408.4,320.1 361.8,348 362,318.3 412.4,316.6 426.4,327.3 385.1,329.4 402,306.4 401.4,313.4 399.2,303.1 385,326.2 388.2,313.2 402,297.3 376.9,316.6 372.4,334.1 383,330.6 362.3,318.9 351.3,309.5 380.7,300.8 397.2,300.8 416.5,304.8 401.4,312.8 381.3,310.2 421.9,320 392.1,329.5 467,365.6 533,359 543,364.9 520.3,349 400.9,345 410,303.3 466.7,365.1 448.7,338 456.5,372.9 506.6,316.5 509.5,353.1 558.3,358 552,359.7 517.8,396.7 469.6,388.2 486.5,378.3 487.2,367.7 471.3,367.7 558.3,414 428.9,374.9 420,375.5 493.5,299.5 464.4,286.2 310.6,337.5 329.6,361.8 329.6,372.8 354.9,379.8 376.7,386.1 397.8,385 362.3,264.4"/></defs><use href="#p7" class="fx"/><use href="#p7" class="ox"/><use href="#p8" class="fx0"/><use href="#p8" class="ox0"/><use href="#p9" class="fx2"/><use href="#p9" class="ox2"/><use href="#p10" class="fx1"/><use href="#p7" class="sx"/><use href="#p8" class="sx0"/><use href="#p9" class="sx2"/><use href="#p10" class="sx1"/>
<defs><polyline id="p11" points="353.3,270.8 260.3,446.3 438.7,303.9 429.8,340 464.4,355.5 571,371.3 665,408.3 503.6,275.1 401.4,293.2"/><polyline id="p12" points="240.9,257.3 188.1,416.7 197.6,445.9"/></defs><use href="#p11" class="fc1"/><use href="#p11" class="oc1"/><use href="#p12" class="fc2"/><use href="#p12" class="oc2"/><use href="#p11" class="sc1"/><use href="#p12" class="sc2"/>
<defs><polyline id="p13" points="364.4,302.3 394,364.3 401.4,362.2 414.1,401.5 472.4,421"/></defs><use href="#p13" class="fd"/><use href="#p13" class="sd"/>
<defs><polyline id="p14" points="239.8,289.6 232,339.8 239.4,346.6 184.9,354.8 237.1,371.5 272.1,411.2 235.8,418.6 279.3,425 305.1,431.9 168,446.5 212.2,444.8 252.5,445.7 261.8,459.4 205.4,475.4"/></defs><use href="#p14" class="fn"/><use href="#p14" class="sn"/>
</g>
<path d="M166.7 577.1v-13.2M166.7 0.9v13.2M282 577.1v-13.2M282 0.9v13.2M397.2 577.1v-13.2M397.2 0.9v13.2M512.5 577.1v-13.2M512.5 0.9v13.2M627.7 577.1v-13.2M627.7 0.9v13.2M141.1 577.1v-7M141.1 0.9v7M148.8 577.1v-7M148.8 0.9v7M155.5 577.1v-7M155.5 0.9v7M161.4 577.1v-7M161.4 0.9v7M201.4 577.1v-7M201.4 0.9v7M221.7 577.1v-7M221.7 0.9v7M236.1 577.1v-7M236.1 0.9v7M247.3 577.1v-7M247.3 0.9v7M256.4 577.1v-7M256.4 0.9v7M264.1 577.1v-7M264.1 0.9v7M270.8 577.1v-7M270.8 0.9v7M276.7 577.1v-7M276.7 0.9v7M316.7 577.1v-7M316.7 0.9v7M336.9 577.1v-7M336.9 0.9v7M351.4 577.1v-7M351.4 0.9v7M362.5 577.1v-7M362.5 0.9v7M371.6 577.1v-7M371.6 0.9v7M379.4 577.1v-7M379.4 0.9v7M386 577.1v-7M386 0.9v7M391.9 577.1v-7M391.9 0.9v7M431.9 577.1v-7M431.9 0.9v7M452.2 577.1v-7M452.2 0.9v7M466.6 577.1v-7M466.6 0.9v7M477.8 577.1v-7M477.8 0.9v7M486.9 577.1v-7M486.9 0.9v7M494.6 577.1v-7M494.6 0.9v7M501.3 577.1v-7M501.3 0.9v7M507.2 577.1v-7M507.2 0.9v7M547.2 577.1v-7M547.2 0.9v7M567.5 577.1v-7M567.5 0.9v7M581.9 577.1v-7M581.9 0.9v7M593 577.1v-7M593 0.9v7M602.2 577.1v-7M602.2 0.9v7M609.9 577.1v-7M609.9 0.9v7M616.6 577.1v-7M616.6 0.9v7M622.5 577.1v-7M622.5 0.9v7M662.4 577.1v-7M662.4 0.9v7M682.7 577.1v-7M682.7 0.9v7M697.1 577.1v-7M697.1 0.9v7M132 542.4h13.2M708.3 542.4h-13.2M132 427.2h13.2M708.3 427.2h-13.2M132 311.9h13.2M708.3 311.9h-13.2M132 196.7h13.2M708.3 196.7h-13.2M132 81.4h13.2M708.3 81.4h-13.2M132 568h7M708.3 568h-7M132 560.3h7M708.3 560.3h-7M132 553.6h7M708.3 553.6h-7M132 547.7h7M708.3 547.7h-7M132 507.7h7M708.3 507.7h-7M132 487.4h7M708.3 487.4h-7M132 473h7M708.3 473h-7M132 461.9h7M708.3 461.9h-7M132 452.7h7M708.3 452.7h-7M132 445h7M708.3 445h-7M132 438.3h7M708.3 438.3h-7M132 432.4h7M708.3 432.4h-7M132 392.5h7M708.3 392.5h-7M132 372.2h7M708.3 372.2h-7M132 357.8h7M708.3 357.8h-7M132 346.6h7M708.3 346.6h-7M132 337.5h7M708.3 337.5h-7M132 329.8h7M708.3 329.8h-7M132 323.1h7M708.3 323.1h-7M132 317.2h7M708.3 317.2h-7M132 277.2h7M708.3 277.2h-7M132 256.9h7M708.3 256.9h-7M132 242.5h7M708.3 242.5h-7M132 231.4h7M708.3 231.4h-7M132 222.3h7M708.3 222.3h-7M132 214.5h7M708.3 214.5h-7M132 207.9h7M708.3 207.9h-7M132 202h7M708.3 202h-7M132 162h7M708.3 162h-7M132 141.7h7M708.3 141.7h-7M132 127.3h7M708.3 127.3h-7M132 116.1h7M708.3 116.1h-7M132 107h7M708.3 107h-7M132 99.3h7M708.3 99.3h-7M132 92.6h7M708.3 92.6h-7M132 86.7h7M708.3 86.7h-7M132 46.8h7M708.3 46.8h-7M132 26.5h7M708.3 26.5h-7M132 12.1h7M708.3 12.1h-7" stroke="#000" stroke-width="1.45" fill="none"/>
<rect x="132" y="0.9" width="576.3" height="576.2" fill="none" stroke="#000" stroke-width="2.0"/>
<text x="145.8" y="619.4" text-anchor="start" font-size="29">10<tspan font-size="20" dy="-12.3">0</tspan></text>
<text x="261.1" y="619.4" text-anchor="start" font-size="29">10<tspan font-size="20" dy="-12.3">1</tspan></text>
<text x="376.3" y="619.4" text-anchor="start" font-size="29">10<tspan font-size="20" dy="-12.3">2</tspan></text>
<text x="491.6" y="619.4" text-anchor="start" font-size="29">10<tspan font-size="20" dy="-12.3">3</tspan></text>
<text x="606.9" y="619.4" text-anchor="start" font-size="29">10<tspan font-size="20" dy="-12.3">4</tspan></text>
<text x="74.8" y="553.8" text-anchor="start" font-size="29">10<tspan font-size="20" dy="-12.3">0</tspan></text>
<text x="74.8" y="438.6" text-anchor="start" font-size="29">10<tspan font-size="20" dy="-12.3">1</tspan></text>
<text x="74.8" y="323.3" text-anchor="start" font-size="29">10<tspan font-size="20" dy="-12.3">2</tspan></text>
<text x="74.8" y="208.1" text-anchor="start" font-size="29">10<tspan font-size="20" dy="-12.3">3</tspan></text>
<text x="74.8" y="92.8" text-anchor="start" font-size="29">10<tspan font-size="20" dy="-12.3">4</tspan></text>
<text x="696" y="233.2" text-anchor="end" font-size="19.4">solar</text><text x="695.7" y="256.9" text-anchor="end" font-size="19.4">terrestrial</text><text x="386.9" y="565.1" text-anchor="start" font-size="19.4" transform="rotate(-90 386.9 565.1)">terrestrial</text><text x="149.3" y="41.4" font-size="32.5">(a)</text>
<text x="420.1" y="677.5" text-anchor="middle" font-size="39"><tspan font-size="25.5" dy="-16.6">12</tspan><tspan dy="16.6">C/</tspan><tspan font-size="25.5" dy="-16.6">13</tspan><tspan dy="16.6">C</tspan></text><text x="34.7" y="289" text-anchor="middle" font-size="39" transform="rotate(-90 34.7 289)"><tspan font-size="25.5" dy="-16.6">14</tspan><tspan dy="16.6">N/</tspan><tspan font-size="25.5" dy="-16.6">15</tspan><tspan dy="16.6">N</tspan></text>
<rect x="514.6" y="18.2" width="175.8" height="183.7" fill="#fff" stroke="#000" stroke-width="1.5"/><use href="#Lm" transform="translate(540.9 39.3) scale(1.0)"/><text x="562.6" y="46.4" font-size="19.4">M</text><use href="#Lx" transform="translate(540.9 61.5) scale(0.9)"/><text x="562.6" y="70.1" font-size="19.4">X</text><use href="#Lx0" transform="translate(540.9 85.1) scale(0.9)"/><text x="562.6" y="93.7" font-size="19.4">X0</text><use href="#Lx1" transform="translate(540.9 108.8) scale(0.9)"/><text x="562.6" y="117.4" font-size="19.4">X1</text><use href="#Lx2" transform="translate(540.9 132.4) scale(0.9)"/><text x="562.6" y="141" font-size="19.4">X2</text><use href="#Ly" transform="translate(540.9 157.6) scale(0.9)"/><text x="562.6" y="164.7" font-size="19.4">Y</text><use href="#Lz" transform="translate(540.9 181.2) scale(1.0)"/><text x="562.6" y="188.3" font-size="19.4">Z</text><use href="#Lab" transform="translate(612.4 39.3) scale(1.0)"/><text x="634.2" y="46.4" font-size="19.4">AB</text><use href="#Lab1" transform="translate(612.4 63) scale(1.0)"/><text x="634.2" y="70.1" font-size="19.4">AB1</text><use href="#Lab2" transform="translate(612.4 86.6) scale(1.0)"/><text x="634.2" y="93.7" font-size="19.4">AB2</text><use href="#Lc1" transform="translate(612.4 111.8) scale(0.9)"/><text x="634.2" y="117.4" font-size="19.4">C1</text><use href="#Lc2" transform="translate(612.4 135.4) scale(0.9)"/><text x="634.2" y="141" font-size="19.4">C2</text><use href="#Ld" transform="translate(614.4 157.6) scale(0.9)"/><text x="634.2" y="164.7" font-size="19.4">D</text><use href="#Ln" transform="translate(612.4 181.2) scale(1.0)"/><text x="634.2" y="188.3" font-size="19.4">N</text>
</g>
<g id="panel-b">
<clipPath id="clb"><rect x="860.9" y="0.9" width="576.3" height="576.2"/></clipPath>
<g clip-path="url(#clb)">
<defs><polyline id="p15" points="1102.2,428.9 1094.1,358.8 1101.4,388.6 1105,357.9 1114.4,401.9 1103,383.1 1109.3,413.8 1089.4,404.9 1105.8,391.2 1099.4,402.1 1092.2,400.5 1105.5,437.6 1100.1,365.7 1109,410 1096.6,382.4 1090.4,396.4 1091.8,450.5 1094.7,349.9 1099.2,410.3 1085,466.2 1108.3,418.8 1083,406 1102.9,458.5 1111.1,375.5 1110.7,418.3 1089.8,403.9 1114.6,373.8 1105.6,380.2 1087.5,416.4 1116.4,433.7 1098.6,412.7 1103.5,351.7 1083.8,383.2 1088,405.9 1081.8,407.7 1113.9,447.5 1097.2,402.9 1100.9,379.6 1100.2,366.7 1097.4,370 1094.6,419.7 1108.3,412.7 1101,388.6 1099,403.5 1087.2,458.4 1105.8,439.1 1074,365.8 1097.1,382.4 1096.4,404.6 1086.9,426.4 1101.2,418 1106.2,437.1 1096.7,399.3 1106,368.8 1097.2,371 1110.2,396.5 1094.5,398.2 1094.1,373.7 1098.1,391.9 1105,374.5 1100.2,442 1091.5,354.1 1109.8,393.7 1087.9,399.8 1098.7,407.3 1105,385.9 1104.5,422.8 1104,410.7 1094.1,382.8 1100,384.8 1112.4,399.8 1094.8,371.1 1089.9,449 1097.9,359.2 1109.7,406.7 1100.8,414 1088.5,388.9 1103.1,443.4 1072.7,373.2 1080.7,463.4 1099.6,428.7 1096.3,441.5 1116.3,431.1 1094.9,380.8 1093,431.7 1100,450.1 1086.1,420.4 1110.9,418.5 1101.8,400 1111.2,401.3 1094,407.6 1092.5,401.2 1113.5,370.2 1103.8,443.8 1090.9,443.6 1105.3,430.2 1088.1,385.7 1079.7,392.5 1098.3,385.9 1105.3,361.6 1093.3,439.8 1096.9,442.9 1102,417.5 1104.5,447.9 1098.5,429.5 1088.5,438.5 1112.1,426.5 1094.7,436.9 1105.3,409.5 1101.1,388.6 1090.3,379.8 1098.3,397 1096.7,355.3 1110.2,401.2 1087.6,417.7 1096.5,394.2 1093.3,361.7 1102.6,443.6 1105.1,411.8 1112.1,394.4 1115.9,451.2 1101.1,367 1096.3,376.4 1099.6,419.1 1096.7,443.1 1105.3,395.2 1082.4,420.6 1100.4,400.6 1112.8,397 1087.9,408.3 1109.3,433 1090.8,416.1 1099.2,370.6 1094,397.2 1112,390.7 1104,367.9 1113.1,375.7 1106,384.8 1102.5,390.7 1089.3,384.6 1105.3,409.3 1084,357.7 1094.1,401.3 1100.4,432 1098.9,438.2 1095.3,398.4 1091.5,345.9 1091.6,419.3 1079.1,384.7 1103.9,408.5 1102.8,442.4 1096,368.2 1098.3,387 1103.6,413.5 1097.7,355.7 1082.8,454.8 1094.3,405 1079.8,384.2 1101.5,390.7 1086.9,395.7 1109.3,374.4 1101.1,447.9 1115.4,426.9 1088,421.9 1084.2,435.7 1107.5,375.9 1099.6,385.4 1100.4,374.7 1092.1,393.4 1096.9,424.3 1096.1,397.3 1083.2,424.5 1100.6,394.1 1117.9,418.4 1099.8,416.4 1106.6,460.4 1111.2,421.9 1107.4,460.9 1109.7,390.7 1086.4,372 1096.7,400 1104,402.1 1109.2,438.1 1094.3,351.6 1098.3,405.8 1084.9,398 1106.7,473.3 1100.7,393.3 1103.8,373.9 1104.1,431.6 1097.1,394.9 1095.8,451.4 1103.4,399 1097.1,372 1104.8,400.1 1097,427.4 1113.8,392.6 1102.1,416.3 1107.5,413.4 1085,467.2 1088.4,404.8 1103.5,412.4 1062.3,404.4 1094.7,434.8 1100.3,401.6 1111.3,409.3 1077.6,347.8 1102.3,419.3 1107.1,364.8 1104.4,404.3 1105.7,370.2 1105.9,348.8 1095,420.7 1085,393 1103.6,452.7 1101.7,435.9 1100.2,449.8 1097.8,423.9 1093.2,374.8 1109.5,368 1099.4,394 1105.3,391.9 1080.3,448.7 1115.7,393.3 1106.7,409.7 1118,372.5 1111.7,361.9 1105.9,410.8 1099.4,407.3 1116.2,367.8 1061.6,333.6 1107.7,407.3 1099.6,396.4 1088.4,465.4 1103.1,391.5 1106,457.7 1105.2,427.4 1103.8,369.5 1082,401.3 1092.4,416.9 1099.7,425.2 1103,437.8 1104.6,445.1 1099.6,369 1099.4,435.2 1106.9,373.9 1106,377.9 1097.6,388.1 1111.7,401.4 1103,413.9 1104.3,454.6 1097.7,461.2 1111.4,422.9 1097.1,415.4 1103.2,406.5 1104.8,406.2 1106.3,380.7 1083.7,367.7 1103.1,393.1 1119,457 1088.5,430.9 1096.3,401.2 1083.6,435.9 1098.2,418.4 1091.7,376.5 1093.6,402.2 1086,405.9 1090.8,408 1096.4,422.5 1095.1,392.8 1099.9,381.2 1103.9,433.4 1104.4,425.2 1092.3,377.6 1111.9,348 1099.1,395.5 1098,385.9 1099.7,439.4 1116.9,390.2 1088.3,406.2 1099.4,399.4 1107,426.2 1093.2,422.5 1101.6,457.9 1100.1,433 1085.3,426.9 1087,453.1 1086.7,402.8 1091.2,426.6 1093.1,391.2 1098.3,418.5 1102.1,428.7 1089.2,391.4 1088,434.5 1099.6,426 1095.3,468 1099.8,431 1105.1,386 1109.6,359.2 1108.8,462.3 1094.4,238.7 1094.9,246.1 1094.9,260.9 1088.1,273.5 1049,277.7 1073.3,287.3 1096.6,301.2 1060,309.6 1082.8,313.2 1075.4,316.4 1106.1,315.3 1070.2,322.7 1087.1,325.9 1097.6,325.9 1088.1,330.1 1092.3,335.4 1105,337.5 1036.4,346 1067,343.9 1061.7,348.7 1050.7,351.7 1026.9,357.2 1037,366 1035.3,373.4 1064.9,369.8 1056.4,373 1059.6,376.6 1069.5,379.8 1043.3,382.9 1059,388.2 1061.3,398.4 1027.5,406.2 1043.1,405.7 1043.1,414.6 1052.2,441 1062.8,437.9 1059.6,459 1052.2,468.5 1043.1,482.8 1071.2,479 1081.1,467.4 1083.9,475.9 1089.2,486.4 1089.6,496.6 1092.3,510.7 1101.8,507.1 1052.8,519.6 1105,522.3 1106.1,542.4 1116,486.4 1121.9,461.1 1123,351.3 1088.1,346 1102.9,347 1109.2,463.2 1096.6,467.4 1102.9,459"/></defs><use href="#p15" class="fm"/><use href="#p15" class="sm"/>
<defs><polyline id="p16" points="948.1,323.2 965.2,328.9 949.4,317.7 979.5,350.7 985.6,366.5 945.8,344 949.6,322.5 990.9,376.5 963.2,355.5 976.3,349.6 976.8,338.6 973.2,330.8 1001.6,342.7 956,287.7 990.1,322.1 949.8,310.3 996.9,322.8 957.7,345.6 973.3,346.4 989.4,325.5 981.1,329 970.2,338.8 957.8,341.9 952.2,338 988.4,330 987.2,333.6 974.2,305.9 970.9,330.5 963.8,345.5 954.8,332.3 964.9,305.1 961.2,305.1 967.2,328.1 961.5,349.4 933.8,320.1 961.3,307.9 966.7,312.8 956.9,352 954.2,320.8 980.3,315.8 998.8,373.5 981,346 994.1,356.8 960.9,333 976.1,367.6 973.5,335.4 994.8,359 965.1,347 970.2,327.3 951.5,315.2 968.2,313.9 961.6,322.7 982.9,298.7 965.8,326.8 978.6,321 943.7,307 954.6,296.1 961.8,297.6 966.3,285.9 963.2,297.7 961.3,300.3 958.9,290.7 1019.5,137.7 1032.6,138.3 997.5,155.7 979.8,178.7 1011.7,178.7 1005.7,193.1 978.9,221.4 1024.7,227.5 967.5,234.4 951.2,236.6 969.8,250.3 977.2,251.3 959.3,255.6 955,258.7 943,264.7 959.3,269.3 946.6,271.4 975.1,273.9 996.7,274.6 986.7,286.2 1012.5,284.5 967.7,283 973,286.2 956.5,389.3 956.1,398.8 974.1,413.1 984.6,412.5 996.2,411 1013.1,417.4 1010,405.1 997.3,426.2 974.1,447.4 977.9,464.3 978.3,477.6 1006.8,430.5 1005.7,304.8 951.9,359.7 968.8,362.9 980.4,363.9 964.6,374.5 976.2,376.6 1004.7,389.3"/><polyline id="p17" points="978.7,352.4 952.1,343.3 961.9,337.5 974.7,337.6 1004.2,320.3 968.5,329.3 970,361 955.6,329.8 991,330.2 972.5,324.4 948.9,318 970.6,364.8 998.1,353 973,355.3 984.2,354.9 965.6,304.9 966.4,368.3 995.5,337.4 955.8,289.8 975.1,296.5 967.1,199.2 940.3,214.4 963.5,224.3 954,241.8 949.8,249.2 974.1,257.7 927.6,269.7 965.6,274.6 954,284.7 967.3,165.4 925.5,343.9 1019.5,367.7 949.1,374.5 993.1,378.7 1003.6,387.2 973,403.4 1004.3,403 937.7,444.8 986.1,444.8 1004.7,446.3 968.4,507.1 949.1,541.8 928,349.1"/><polyline id="p18" points="970.5,353.3 954.6,366 966.3,328.4 977.2,305.5 990.5,333 964.9,342.6 1000,349.3 982.2,343.5 991,342.4 977.5,319.8 946.2,316.3 963.2,331.8 1006.2,348.1 966.6,334.8 995.9,347.6 991.7,359.9 998.3,364.4 973.1,353.9 976,351.6 993.8,323 966.7,325.3 1012.9,341.6 970.4,320.4 965.1,339.3 949.5,329.3 971,325.6 995.4,316.3 975.5,311.1 997.2,373.2 982,356.7 979.5,357.5 957.5,347.8 957.5,307.8 975.2,348.7 948.6,315.5 975.9,341.1 968.1,329.5 964.4,352.3 992.6,344.3 956.8,317.2 977,326.5 954.1,307.2 968.2,299.3 948.9,317.1 959,306.5 960.2,303.8 966.9,299.2 956,311.4 967.8,296 989.4,301.1 970.7,285.9 960,288.7 948.5,299.4 947,301.6 968.6,299.8 940.9,227.5 941.3,243.5 1007.2,252.4 982.5,263 952.9,267.2 944.5,279.9 1009.3,288.3 1023.7,336.9 1024.1,390.5 966.7,387.2 993.1,386.1 1005.7,391.4 986.7,406.2 991,416.7 1003.6,431.5 980,441 1000.5,446.3 986.7,465.9 986.7,513.9 1001.1,541.8"/></defs><use href="#p16" class="fab"/><use href="#p17" class="fab1"/><use href="#p17" class="oab1"/><use href="#p18" class="fab2"/><use href="#p18" class="oab2"/><use href="#p16" class="sab"/><use href="#p17" class="sab1"/><use href="#p18" class="sab2"/>
<defs><polyline id="p19" points="1119.4,356.5 1108.6,391.4 1081.1,397.7 1089,418.8 1052.8,463.8 1094.7,483.5"/></defs><use href="#p19" class="fz"/><use href="#p19" class="sz"/>
<defs><polyline id="p20" points="1132.9,416.4 1134.1,390.1 1128.5,425 1135.5,425.6 1134.3,446.7 1137.7,416.6 1132.1,463.8 1129,430.9 1128,438.9 1125.6,425 1130.4,420.5 1136.7,390.9 1136.1,428.8 1134.7,396.4 1126.5,435.2 1141.4,385.1 1129.9,394.8 1132.6,385.6 1125.4,418.3 1132.9,419 1123.1,446.6 1129.8,449.2 1130.3,414.6 1130.8,427.4 1124.4,403.7 1127.5,378.6 1126.1,413.6 1127.7,397.8 1129.1,406.9 1128.8,391.6 1129.1,435.3 1142.4,393.9 1134.3,412.4 1127.5,435.8 1138.8,465.5 1128.2,414.2 1129.5,369.1 1127.3,438.4 1128.8,401.3 1134.8,395.9 1122.6,406.5 1133.8,381 1140.9,306.9 1132.5,362.9 1134.6,462.1 1147.3,518.7 1132.5,445.2 1136.7,436.8 1161,311.8 1154.2,332.2 1190.1,340.7 1180.2,365.6 1173.2,386.5 1150,390.3 1153.2,421.6 1150,455.4"/></defs><use href="#p20" class="fy"/><path d="M1120.3 0.9V577.1" stroke="#1a1a1a" stroke-width="1.8"/><path d="M860.9 529.3H1437.2" stroke="#1a1a1a" stroke-width="1.7"/><use href="#p20" class="sy"/>
<defs><polyline id="p21" points="1115.6,82.4 1094,109.8 1075.4,137.3 1132.5,186.9 1170.7,46 1216.5,53.9 1253.5,86.6 1281.4,100.3 1240.8,103.5 1194.4,104.6 1153.2,195.4"/><polyline id="p22" points="988.2,80.9 1078.6,101.8 1067,115.1 1084.3,145.7 1091.3,180.6 1112.4,173.2 1145.1,95 1127.2,115.1 1121.9,128.8 1144.1,196.4 1142,238.7 1186.3,54.9 1284.1,75.6 1297.2,75 1241.9,106.7 1267.2,105.6 1267.9,116.6 1169,88.7 1181.3,106.7 1211.3,113 1193.3,123.6 1163.7,142.6 1168,147.9 1212.9,154.2 1261.9,169.6 1175.8,197.1 1263.6,266.6 1164.4,555.1"/><polyline id="p23" points="1059,100.3 1094,92.9 1114.5,92.9 1125.5,77.1 1074.4,110.3 1058.5,122.5 1089.6,127.4 1102.9,121.4 1116.6,122.5 1109.2,134.1 1117.7,138.3 1112.4,167.9 1091.3,204.9 1092.8,275.2 1112.8,287.3 1126.1,261.9 1129.3,152.1 1134.6,92.9 1145.1,85.5 1127.2,99.3 1128.2,109.8 1136.7,110.9 1143,114.1 1138.8,123.6 1132.5,126.7 1148.3,124.6 1136.7,139.4 1146.2,169 1127.2,264 1160.6,53.9 1157.4,60.2 1201.7,53.9 1225.4,59.1 1287.3,59.1 1262.6,71.4 1165.8,80.3 1172.2,85.5 1153.2,88.7 1216.5,87 1228.1,91.9 1225,97.2 1162.7,102.4 1152.1,107.7 1164.8,111.9 1160.6,113 1190.8,103.5 1183.8,115.1 1216.5,109.8 1204.9,116.2 1220.8,125.7 1242.9,127.8 1246.7,114.1 1287.3,111.9 1159.5,123.6 1177.5,133.1 1192.2,135.2 1200.3,134.1 1188,132 1162.7,136.2 1178.5,138.3 1222.2,140 1157.4,150 1168,176.4 1255.6,192.8 1201.1,199.6 1189.5,209.5 1154.2,213.3 1215.5,222.2 1136.4,121.7 1127,108 1151.7,100.2 1122.4,114.7 1147.7,96.4 1144,127.4 1132,97.4 1153.4,104 1145.8,116.9 1157.4,98.3 1153.5,97.9 1131.3,128.8 1133.1,102.8 1136.3,116.4 1144.5,101.9 1137.2,115.7"/></defs><use href="#p21" class="fx0"/><use href="#p21" class="ox0"/><use href="#p22" class="fx2"/><use href="#p22" class="ox2"/><use href="#p23" class="fx1"/><use href="#p21" class="sx0"/><use href="#p22" class="sx2"/><use href="#p23" class="sx1"/>
<defs><polyline id="p24" points="1129.9,141.9 1158.4,356.1 1147.3,246.7"/><polyline id="p25" points="987.8,245.6 916.6,257.3"/></defs><use href="#p24" class="fc1"/><use href="#p24" class="oc1"/><use href="#p25" class="fc2"/><use href="#p25" class="oc2"/><use href="#p24" class="sc1"/><use href="#p25" class="sc2"/>
<defs><polyline id="p26" points="1143,174.3 1125.1,203.4 1201.3,240.8"/></defs><use href="#p26" class="fd"/><use href="#p26" class="sd"/>
<defs><polyline id="p27" points="964.8,99.9 960.7,114.9 1007.9,139 941.1,174.3 968.4,168.6 969.2,179.5 897,210.6 933.9,228.1 913.4,236.6"/></defs><use href="#p27" class="fn"/><use href="#p27" class="sn"/>
</g>
<path d="M895.6 577.1v-13.2M895.6 0.9v13.2M1010.9 577.1v-13.2M1010.9 0.9v13.2M1126.1 577.1v-13.2M1126.1 0.9v13.2M1241.4 577.1v-13.2M1241.4 0.9v13.2M1356.6 577.1v-13.2M1356.6 0.9v13.2M870 577.1v-7M870 0.9v7M877.7 577.1v-7M877.7 0.9v7M884.4 577.1v-7M884.4 0.9v7M890.3 577.1v-7M890.3 0.9v7M930.3 577.1v-7M930.3 0.9v7M950.6 577.1v-7M950.6 0.9v7M965 577.1v-7M965 0.9v7M976.2 577.1v-7M976.2 0.9v7M985.3 577.1v-7M985.3 0.9v7M993 577.1v-7M993 0.9v7M999.7 577.1v-7M999.7 0.9v7M1005.6 577.1v-7M1005.6 0.9v7M1045.6 577.1v-7M1045.6 0.9v7M1065.8 577.1v-7M1065.8 0.9v7M1080.3 577.1v-7M1080.3 0.9v7M1091.4 577.1v-7M1091.4 0.9v7M1100.5 577.1v-7M1100.5 0.9v7M1108.3 577.1v-7M1108.3 0.9v7M1114.9 577.1v-7M1114.9 0.9v7M1120.8 577.1v-7M1120.8 0.9v7M1160.8 577.1v-7M1160.8 0.9v7M1181.1 577.1v-7M1181.1 0.9v7M1195.5 577.1v-7M1195.5 0.9v7M1206.7 577.1v-7M1206.7 0.9v7M1215.8 577.1v-7M1215.8 0.9v7M1223.5 577.1v-7M1223.5 0.9v7M1230.2 577.1v-7M1230.2 0.9v7M1236.1 577.1v-7M1236.1 0.9v7M1276.1 577.1v-7M1276.1 0.9v7M1296.4 577.1v-7M1296.4 0.9v7M1310.8 577.1v-7M1310.8 0.9v7M1321.9 577.1v-7M1321.9 0.9v7M1331.1 577.1v-7M1331.1 0.9v7M1338.8 577.1v-7M1338.8 0.9v7M1345.5 577.1v-7M1345.5 0.9v7M1351.4 577.1v-7M1351.4 0.9v7M1391.3 577.1v-7M1391.3 0.9v7M1411.6 577.1v-7M1411.6 0.9v7M1426 577.1v-7M1426 0.9v7M860.9 496.6h13.2M1437.2 496.6h-13.2M860.9 381.3h13.2M1437.2 381.3h-13.2M860.9 266.1h13.2M1437.2 266.1h-13.2M860.9 150.8h13.2M1437.2 150.8h-13.2M860.9 35.6h13.2M1437.2 35.6h-13.2M860.9 556.8h7M1437.2 556.8h-7M860.9 542.4h7M1437.2 542.4h-7M860.9 531.2h7M1437.2 531.2h-7M860.9 522.1h7M1437.2 522.1h-7M860.9 514.4h7M1437.2 514.4h-7M860.9 507.7h7M1437.2 507.7h-7M860.9 501.8h7M1437.2 501.8h-7M860.9 461.9h7M1437.2 461.9h-7M860.9 441.6h7M1437.2 441.6h-7M860.9 427.2h7M1437.2 427.2h-7M860.9 416h7M1437.2 416h-7M860.9 406.9h7M1437.2 406.9h-7M860.9 399.2h7M1437.2 399.2h-7M860.9 392.5h7M1437.2 392.5h-7M860.9 386.6h7M1437.2 386.6h-7M860.9 346.6h7M1437.2 346.6h-7M860.9 326.3h7M1437.2 326.3h-7M860.9 311.9h7M1437.2 311.9h-7M860.9 300.8h7M1437.2 300.8h-7M860.9 291.6h7M1437.2 291.6h-7M860.9 283.9h7M1437.2 283.9h-7M860.9 277.2h7M1437.2 277.2h-7M860.9 271.3h7M1437.2 271.3h-7M860.9 231.4h7M1437.2 231.4h-7M860.9 211.1h7M1437.2 211.1h-7M860.9 196.7h7M1437.2 196.7h-7M860.9 185.5h7M1437.2 185.5h-7M860.9 176.4h7M1437.2 176.4h-7M860.9 168.7h7M1437.2 168.7h-7M860.9 162h7M1437.2 162h-7M860.9 156.1h7M1437.2 156.1h-7M860.9 116.1h7M1437.2 116.1h-7M860.9 95.8h7M1437.2 95.8h-7M860.9 81.4h7M1437.2 81.4h-7M860.9 70.3h7M1437.2 70.3h-7M860.9 61.2h7M1437.2 61.2h-7M860.9 53.4h7M1437.2 53.4h-7M860.9 46.8h7M1437.2 46.8h-7M860.9 40.9h7M1437.2 40.9h-7" stroke="#000" stroke-width="1.45" fill="none"/>
<rect x="860.9" y="0.9" width="576.3" height="576.2" fill="none" stroke="#000" stroke-width="2.0"/>
<text x="874.7" y="619.4" text-anchor="start" font-size="29">10<tspan font-size="20" dy="-12.3">0</tspan></text>
<text x="990" y="619.4" text-anchor="start" font-size="29">10<tspan font-size="20" dy="-12.3">1</tspan></text>
<text x="1105.2" y="619.4" text-anchor="start" font-size="29">10<tspan font-size="20" dy="-12.3">2</tspan></text>
<text x="1220.5" y="619.4" text-anchor="start" font-size="29">10<tspan font-size="20" dy="-12.3">3</tspan></text>
<text x="1335.8" y="619.4" text-anchor="start" font-size="29">10<tspan font-size="20" dy="-12.3">4</tspan></text>
<text x="792.1" y="508" text-anchor="start" font-size="29">10<tspan font-size="20" dy="-12.3">−4</tspan></text>
<text x="792.1" y="392.7" text-anchor="start" font-size="29">10<tspan font-size="20" dy="-12.3">−3</tspan></text>
<text x="792.1" y="277.5" text-anchor="start" font-size="29">10<tspan font-size="20" dy="-12.3">−2</tspan></text>
<text x="792.1" y="162.2" text-anchor="start" font-size="29">10<tspan font-size="20" dy="-12.3">−1</tspan></text>
<text x="803.7" y="47" text-anchor="start" font-size="29">10<tspan font-size="20" dy="-12.3">0</tspan></text>
<text x="1424.6" y="524.9" text-anchor="end" font-size="19.4">solar</text><text x="1115.9" y="13.4" text-anchor="end" font-size="19.4" transform="rotate(-90 1115.9 13.4)">terrest.</text><text x="878.2" y="41.4" font-size="32.5">(b)</text>
<text x="1149" y="677.5" text-anchor="middle" font-size="39"><tspan font-size="25.5" dy="-16.6">12</tspan><tspan dy="16.6">C/</tspan><tspan font-size="25.5" dy="-16.6">13</tspan><tspan dy="16.6">C</tspan></text><text x="763.6" y="289" text-anchor="middle" font-size="39" transform="rotate(-90 763.6 289)"><tspan font-size="25.5" dy="-16.6">26</tspan><tspan dy="16.6">Al/</tspan><tspan font-size="25.5" dy="-16.6">27</tspan><tspan dy="16.6">Al</tspan></text>
</g>
<g id="panel-c">
<clipPath id="clc"><rect x="1590.3" y="0.9" width="576.3" height="576.2"/></clipPath>
<g clip-path="url(#clc)">
<defs><polyline id="p28" points="1951.9,320.9 1929.3,349.8 1897.7,348.5 1896.9,364.8 1942.9,346.2 1916.5,340.2 1900.8,345.7 1931.6,344.7 1907.7,348.8 1926.3,366 1950,338.6 1921,353.6 1878.6,356 1874,334.1 1941,352.4 1927.3,349.9 1842.6,364.8 1891.6,362.2 1912.4,353.6 1965.8,350.3 1956.5,362.9 1968.1,357.1 1861.5,336.9 1851.3,330.5 1953.8,366.8 1960,348 1964.1,342.7 1913.2,339.3 1920.6,349.5 1968.2,353.8 1948.8,332.5 1944.4,343.9 1892.7,350.8 1941,355.8 1894.5,350 1947.4,351.7 1968,343.6 1935.3,348.9 1824.2,327 1898.2,361.6 1905.6,362.1 1891,378.8 1870.4,343 1875.2,356.8 1963,339.5 1846.5,346.2 1924.2,353.9 1914.2,363.9 1953.5,352.3 1922.1,351.7 1875.4,362.5 1927.1,342.4 1896.4,355.8 1870.9,348.3 1940.1,349.2 1950.5,398.1 1932.1,348.7 1909.6,337.1 1934.6,347.7 1885.6,362.7 1921.5,352.5 1936.7,339.8 1834.4,353 1910.9,329.2 1911.5,350.8 1943.6,347.4 1940.6,334.7 1855.2,349.5 1915.7,350.2 1948.8,333.9 1877.8,342.8 1928.5,334.7 1892.7,340.9 1929.4,363.3 1945,354.8 1892.1,360.7 1916.1,363.4 1940.1,345.1 1907.1,365.1 1907.7,355.3 1941.4,336.5 1927.2,345.2 1922.8,327.4 1933.2,344.3 1924.9,338.6 1931.7,341 1930,351.9 1878.9,333 1946.4,353.2 1895.8,347.4 1866.8,361.1 1924.2,362 1911.4,344.6 1880.9,345.9 1935.7,362.2 1967.6,337.4 1964.9,337.5 1919.1,339.5 1928.2,360.8 1830.8,352.7 1936.2,329.5 1953.9,338.9 1841.4,364 1937.6,332.7 1958.1,339.8 1913.4,341.2 1948.9,345.4 1901,342.1 1939.5,371.9 1932.7,352.2 1915.9,333 1912.9,346.2 1875.3,346.8 1939.2,341.5 1940,355.1 1968.3,351.4 1907.6,348.7 1956,361.7 1941.5,369.3 1822.1,346.7 1869.7,345.9 1851.3,361.7 1908.3,343.1 1939.4,355.4 1891.9,350.6 1906.6,360.6 1940,347.5 1920.8,349.2 1898.3,358.5 1865.5,367.4 1930.7,357.7 1909.9,348.3 1959.8,339.8 1842.5,348.6 1924.1,337.8 1859.6,371 1916.5,384.7 1865,357.3 1882.7,350.8 1910.5,351.5 1936.8,346.5 1886.2,360.5 1944,324.5 1927.6,350.5 1914.8,349.3 1950.5,333.9 1932.7,337.8 1859.8,361.4 1837.6,368 1928.7,360.1 1943,335 1922.2,356.9 1858.1,359.4 1900.8,347.5 1909.8,341.4 1889.5,358.6 1964,339 1871.5,346.5 1940.6,362.8 1937.6,351.7 1908.6,329.6 1892.6,351.5 1903.4,371.3 1949.2,341.3 1916.5,349.5 1928.9,353.6 1856.3,344.2 1923.9,346.7 1845.2,341.6 1850.4,364 1856.4,378.4 1937.5,355.3 1954.6,339.2 1937.5,343.5 1947.3,343.6 1880.2,355 1925.5,341.2 1914,360.9 1846.5,354.2 1923.2,347.3 1901,330.5 1927.5,337.4 1816,349.4 1890.2,363.9 1911.5,335.6 1943.7,362.1 1943.2,350.3 1961.2,352 1894.1,346.2 1899.7,360.5 1920.2,358.5 1878.5,346.6 1908.2,358.6 1956.7,355.8 1917.9,341.8 1892.8,358.6 1837.3,364.9 1918.6,347.3 1944.2,363 1910.7,349.9 1927.3,356.2 1920.9,361.2 1939.7,341 1874.2,369.1 1932.8,357.7 1902.9,353.4 1965.1,339.5 1907.2,335.6 1967.8,346.2 1958.9,333.9 1879.8,335.9 1905.1,362.3 1951.2,338.7 1886.1,352.5 1943,356.7 1828.8,353.5 1878.5,353.7 1956,372.8 1901.5,342.6 1920.7,347.1 1887.8,355 1921.3,359.1 1937.4,335.9 1946,362.9 1915.8,361.9 1876.4,336.7 1907.7,358.7 1948,346.6 1939.6,368.5 1895.9,345.7 1847.7,330.9 1896.1,347.9 1946.5,345.2 1846.1,360.9 1897.8,345 1962.1,359.4 1870.7,349.1 1902.8,351.1 1955.5,349.5 1922.9,356.1 1890.1,359.1 1926.6,344.9 1965.2,333.1 1870.2,356.7 1961.3,350.6 1937.6,349.2 1830.4,348 1852.5,362.4 1925.7,368.8 1912.1,358.4 1909.4,396 1908.3,358.5 1928.2,342.1 1952.9,337.7 1899.5,368.7 1923,356.8 1949.4,360.9 1960.2,376.5 1916.3,325.4 1922.4,351.2 1957.2,334.2 1963,349.7 1941.2,342.6 1923.7,366.5 1936.9,357.6 1895.5,345.1 1945.5,378.6 1950.9,362.1 1942,355.1 1938.3,356.8 1953.4,344.4 1868.6,336.3 1934.4,348.5 1883.6,348.6 1867.2,347.4 1946.6,373.2 1956.8,366.3 1908.4,361.1 1933.9,330.2 1929.9,343.7 1947.6,340.6 1873.2,350 1947.8,337.8 1935.4,340.5 1926.6,356 1913,353.4 1899.6,338.6 1851.6,350.5 1947.9,351.9 1939.7,334.4 1905.4,350.8 1855.6,349 1962,367 1884,330.4 1890.4,343.1 1948.9,346.6 1917.1,363.9 1934.2,350.2 1904.3,338.9 1871.1,369 1958.7,349.1 1930.7,346.4 1932.4,370 1937.9,344.2 1937.4,333.5 1948,345 1949.6,333.5 1942.3,366.1 1927.4,350.8 1962,353.1 1906,347.4 1967.1,366.9 1942.5,345.1 1941.3,342.1 1858.7,358.3 1897.3,363.1 1945.6,353.3 1833.5,359.2 1955.5,355.3 1944.7,335.6 1945.1,361.3 1963.8,331.4 1852.9,356.4 1919.2,344.4 1870.5,342.4 1866.5,366.3 1878.2,345.7 1931.7,361.2 1966.7,343 1861.8,333.2 1851.7,369.4 1934.5,322.3 1955.2,359.2 1919,335.4 1909.8,351.3 1940.1,366.8 1896.2,343.4 1923.8,367.2 1939.5,349.5 1902.8,361.4 1892.8,355.1 1938.7,368.9 1933.1,350.7 1906.2,359.5 1930.3,357 1909.7,365.9 1963,348.5 1909.8,355.6 1955.8,349.2 1889.7,359.6 1935.7,358.4 1930.5,377.5 1922.9,347.9 1893.7,371.8 1911.5,354.2 1910.9,360 1931.7,351.1 1911.5,385.5 1900.6,361.1 1906,327.6 1871.1,347.3 1947.7,356.3 1928.4,363.6 1962.5,351.5 1897.9,352.3 1936.5,353 1939.9,355.1 1947.3,355.8 1897.2,346.5 1890.2,353.8 1897.8,357.8 1945.3,338 1946,351.3 1936.5,350.7 1885.7,331.8 1878.8,372.9 1905.3,351 1918.9,351 1890.9,363.1 1930.3,338.2 1965.3,344.7 1932.1,356 1865.4,346 1886.2,353.9 1896.1,349.2 1931.3,363.6 1919.3,336 1879.7,363.9 1902.7,353.9 1917.3,347.3 1945.4,355.6 1958.4,342.7 1935.3,347.5 1912.2,351.9 1928.9,347.9 1912.9,368.1 1951.4,388.7 1874.9,344.6 1901.5,335.6 1835.7,356.4 1945,351.1 1917.4,337.5 1897.8,350.5 1905.8,351.3 1905.9,364.9 1861.1,353.1 1965.4,346.7 1931.5,352.6 1884.8,368.9 1941.2,329.2 1900,359.8 1900.9,327.9 1963.6,366.6 1950.8,357.6 1931.2,343 1925.1,361 1917.4,351.8 1894.1,353.9 1916.8,331.2 1934.9,349.4 1931.1,348.9 1925.1,346.7 1858.1,356.4 1883.6,354.6 1885.4,335.5 1966.5,362.2 1926.7,342.6 1939.7,345.1 1958,340.7 1913.2,363.7 1942.5,344 1901.5,349.4 1935.7,339.1 1946.6,336.7 1952,342.4 1925.7,346.3 1934.5,346.5 1915.9,362 1882.4,349.7 1946,357.1 1879.2,363.4 1893,344.1 1935.6,356.9 1905.1,338.7 1877.6,379.8 1946,342.7 1849.8,334.3 1914.6,364.1 1963.2,333.7 1841.2,337.8 1927,356.3 1928.3,348.9 1909.6,345.7 1929.4,336.1 1929.3,370.8 1903.9,353.4 1920.4,344.5 1915,347.4 1936.6,342.5 1907.2,351.5 1935.9,352.8 1934.6,363 1950.3,337.3 1892.6,361.2 1929.5,336.8 1923.4,336.8 1926.6,345.8 1915.8,344.8 1948.1,356.7 1899,351.7 1927.8,374.2 1919.4,353.6 1930.1,333.7 1918,341.8 1960.6,323.9 1934.5,356.9 1919.8,333.3 1958.9,341.8 1943.2,349.7 1942.4,331.4 1944.9,354.9 1886.5,354.1 1891.6,340.4 1928.3,341.9 1918.4,349.5 1931.2,359.2 1880.8,385.1 1965.6,342.5 1929.3,336 1877.6,352 1916.9,345.4 1947.6,374.6 1907,369.7 1887.3,335.2 1915.6,343.1 1940.9,358 1959.4,337.7 1943.4,337.3 1928.7,342.4 1955.1,359.3 1891.8,350.8 1909.2,363.3 1955.9,350.7 1866,351.5 1903,377.1 1945,360.8 1921.8,358.9 1957,344.6 1930.4,349.9 1925.7,340.2 1875.1,344.9 1926.6,338.6 1933.4,365.1 1935.8,367.4 1940.6,345.4 1894.8,362.9 1937.3,336.7 1932.8,339.4 1894.3,339.5 1876,347.7 1915.5,348.1 1896.2,362.3 1890.6,358.6 1955.3,345.8 1928.5,348 1913,345.9 1967.8,344.9 1943.9,380.1 1825,348.7 1861.8,377.4 1926.8,352.8 1926.4,327.9 1841.3,333 1935.4,375.1 1901.6,330.8 1945.1,342 1938.4,356.8 1942.3,355.1 1877.8,364.7 1903.4,333 1928.4,346.1 1935.9,354 1965.6,349.2 1960.7,339.1 1835.3,354.6 1892.5,364.8 1911.3,373 1935.9,350.7 1931.6,347.7 1861,330.2 1954.1,344.2 1924.5,358.5 1928.2,353 1924.6,347.7 1948.6,374.7 1863.7,363.9 1925.5,343.5 1933.2,357.6 1874.2,372.2 1893.4,329.5 1841,366.6 1947.3,363.1 1821.5,345.9 1948,376.3 1941.5,359.3 1920,346 1911.1,331 1880.4,369 1878.6,333.8 1893.4,363.9 1960.7,350.3 1847.5,333.2 1958.4,349.5 1891.5,338.7 1931,351.7 1927.7,322.3 1923.6,387.2 1902.8,339.6 1965.4,337.1 1893.1,356.6 1909.4,360.3 1919.7,344.8 1966.2,360.8 1885.6,357.5 1896.7,363.1 1911.1,341.4 1911,335.7 1854.5,345.4 1924.5,339.4 1939.1,326.8 1923,350.2 1881.5,370.9 1882.3,342.6 1958.7,355.1 1918,345.4 1961.1,351.8 1941.9,339 1923.5,351.7 1948.4,366.3 1890.2,344.9 1951,338 1910.7,345.6 1951.9,363.4 1887.4,370 1933.4,346.5 1885.7,353.6 1947.8,330.3 1916.9,342 1888.3,370 1955.9,351.5 1914.1,357.7 1878.1,353.1 1915,369.6 1885.7,357.2 1949.1,358.4 1951.5,353.9 1932.8,350.8 1883.4,347.3 1849.5,355.8 1884.3,361.8 1934.5,355.3 1951.8,368 1873.1,327.1 1847.8,334.1 1950.6,363.1 1911.1,360.2 1959.3,334.8 1961.1,354.7 1878,347.4 1924.5,346 1931.8,368.3 1872.6,364.1 1899.6,350.9 1916.4,349.8 1924.4,377 1864.7,322.8 1943.6,356 1923.4,346.5 1925.7,350.1 1940.7,357.3 1823.1,333.8 1863.1,356.9 1946.3,345.1 1848.5,362 1906.4,342.5 1922.6,363.3 1966.4,367.8 1918,350.7 1918,351.1 1946.9,364 1911.8,344.1 1927.3,385.3 1909.6,358 1929.3,363.6 1908.5,358.7 1863,356.2 1858.2,370.3 1919.5,349.9 1862.8,343.3 1896.3,340.5 1933.2,354.8 1927.5,345 1935.4,354.2 1912.8,365 1931.3,332.8 1956.5,355 1932,343.7 1848,348.2 1874.7,337.1 1901.8,361.2 1907.2,370.9 1884.2,361.8 1908.8,345.1 1901,349.6 1909.8,356.1 1869.4,353.7 1914.9,359.5 1954.3,350.5 1915.6,348.3 1938.7,340.8 1960.6,353.2 1904.6,351.2 1912.7,357.9 1940.6,352.1 1949,342.8 1876.1,350.1 1948,352.9 1909.4,358.9 1835.6,358 1851.8,343 1893.6,377.5 1925.7,339.5 1921.1,355.3 1907.4,346.6 1875.4,351.4 1945.1,346.7 1927,351.6 1926.9,365.5 1891,355.6 1931,347.9 1946.3,342.3 1945,360.6 1942.1,353.7 1948.7,330.5 1930.6,352.1 1927.5,351.7 1881.2,344.6 1918.2,364.4 1947.2,378.4 1904.1,367.5 1886.6,366.5 1892.5,366.4 1926.4,339.2 1940.9,364.8 1912.6,355 1947.4,340.9 1899.8,349.1 1885.4,338.7 1847.6,362.7 1960.2,342.1 1965.8,363 1922.5,329.9 1938.6,348.2 1848.7,363.5 1861.5,359.7 1928.6,363.7 1922.1,335.3 1942.2,350.9 1832.5,367.2 1933.5,336.9 1929.5,325.2 1842.2,363.3 1907.8,341.8 1887.4,357.5 1884.2,353.7 1889.9,347.8 1885.6,360 1942.3,377.8 1932,350 1883.4,349.2 1896.9,347.5 1895,347.3 1966.2,364.5 1954.1,336.9 1950.6,357.2 1871.3,363.1 1922.9,349 1903.2,353.3 1953.6,342.1 1957.8,338.9 1886.1,364.4 1922.6,350.9 1884.9,351.2 1965.9,372.3 1919.6,345.8 1955.6,335.2 1835.7,346.9 1861.5,346.8 1953.9,347 1906,336.3 1914.7,354.4 1962,358.6 1944.6,361 1900.6,356.6 1906.6,355.9 1900.9,354.2 1933.3,334.4 1953.3,344.1 1884.3,347.5 1957.1,338.2 1864.2,356.2 1964.3,350.8 1919.6,343 1916.8,327.8 1946.2,342.4 1858.3,343.6 1925.1,360.5 1927.1,354.3 1959.7,349.3 1921.8,339 1903.5,377.1 1914.1,340.7 1903.8,334.9 1897.1,360 1956.4,344.5 1940.4,339.3 1909.4,351.7 1947.3,341 1918.1,337.5 1906.7,362.8 1917.4,341.2 1944.5,342.3 1863.1,352 1927.2,342.4 1929.3,347.3 1961,352.3 1896.9,354 1929.9,360.1 1950.7,352.6 1909.3,368.8 1943.5,352.6 1935.9,347.9 1948.7,357.3 1889.5,375.1 1964,341.5 1870.1,362.9 1934.6,352.2 1967.5,363.5 1912.3,339.2 1903.3,328.2 1932.5,363.5 1915.7,353.9 1960.9,360.4 1893.8,338.8 1968.7,365.9 1949.4,354.1 1896.1,356.9 1939.7,361.9 1964.4,345.9 1901.1,363.6 1895.4,343.7 1954.7,350.6 1866.5,341.9 1966.7,366.1 1897.7,357.8 1932.8,348.2 1934.3,361.2 1873.7,366.1 1932.7,351.9 1921.3,343.5 1950.1,358.6 1925.8,332.2 1947.8,335.3 1878.6,360.2 1917.6,341.7 1917,345 1918.4,354.6 1955.7,334.7 1920.3,335.2 1926.8,324.6 1953,347.3 1896.5,349.7 1959.4,356.4 1912.5,352.8 1930.4,351.6 1930.6,349.9 1910.2,358.1 1954,352.8 1936.3,371.4 1853.5,332.5 1917.9,370.9 1814.4,352.4 1914.5,351 1835,332.3 1928.8,341.3 1943.7,362 1863.2,353.8 1929.9,344.1 1928.9,349.9 1909.8,329.9 1908.2,357.3 1887.6,359.2 1959.4,342.3 1926.2,346.9 1822.3,338.9 1899.5,356.6 1916.2,348.9 1930.8,339.7 1907.8,349.6 1941.7,354.2 1879.2,349 1859.7,333.2 1934,348.3 1925.5,343.8 1886,358.3 1931.3,348 1950.5,341.5 1835,359.3 1934,343.7 1843.1,348.4 1925.5,357.5 1918.5,334.5 1891.4,341.6 1819,341.5 1903,351.1 1955.1,363.8 1930.7,351.4 1951.3,341.7 1908.3,352.4 1950.7,351.4 1958,342 1922.1,364.2 1906.3,363.7 1908.6,346.1 1925.4,347.7 1921.1,348.8 1929,357 1934.7,371.8 1901.2,340.1 1966,345.1 1856.8,353.1 1942.5,352.1 1870.2,340.2 1831.2,364.1 1948.5,353.1 1902.1,354.9 1916.4,342.4 1939.6,351.3 1880.4,350.2 1930.2,347.8 1899.9,343.8 1936.4,375 1915.9,373.3 1965.7,356.4 1944.1,348.5 1908.3,355.6 1812,375 1942.2,349.8 1939.9,340.7 1950,357.6 1952,354.6 1900.4,370.7 1872.7,355.9 1961.1,344.9 1911.6,345.1 1949.1,349.8 1946.1,349.9 1902.3,351.2 1904.6,363.9 1901.9,355.4 1951.7,334.3 1875.4,347.2 1920.8,327.7 1891.9,360.4 1870.5,365 1887.7,353.1 1917.2,340 1909.3,356.3 1914.3,339.6 1940.5,343.7 1934.3,347 1911.7,347.4 1927,355.5 1905.8,355.3 1879.2,353.9 1878.2,382.6 1956.3,355.1 1888,330.9 1937.5,357.2 1880.2,361.7 1953.4,348.9 1940.9,356.7 1898.2,369.9 1937.4,327.4 1947.8,377 1863.1,352.5 1904.3,330 1864,347.9 1949.5,328.6 1964.1,376.9 1943.6,367.3 1928.1,351.1 1928.9,327.5 1887.1,342.8 1913.1,345.4 1939.4,333.6 1923.3,353.4 1936.4,337.6 1862.6,352.4 1915.7,361.7 1950,366.2 1908.3,379.2 1961,360.6 1864.5,333.2 1957.6,334.4 1943.3,340.8 1956.9,357.7 1933.7,359.6 1898.3,350.8 1858.4,366.1 1937.3,333.1 1954.5,352.8 1927.7,333.1 1937.5,346 1936.4,355 1912.3,349.8 1856.8,359.8 1933.2,336.8 1940.9,350.5 1906.4,338.5 1869.9,326.7 1890.8,331.6 1946.2,338.2 1962.6,354.1 1890.8,340.3 1903.8,346 1924.7,359.4 1903.7,359.7 1927.4,349.4 1941.3,347 1918.7,335 1916.8,356.1 1946.8,356.4 1921,340.3 1897.2,384.7 1953.6,354.5 1886.4,358.3 1925.8,372.4 1913.7,353.2 1959.2,355.1 1885.4,339.3 1917.1,366 1925.4,356.7 1940.2,353.7 1907,329.7 1891.2,351.2 1943.1,356 1922.7,350 1887.8,334.5 1916.6,327.2 1939.1,340 1936.5,378.5 1813.2,353.6 1955.3,352.8 1961.5,370.4 1830.7,349.4 1953,367.3 1911.5,353.6 1915.1,365.6 1955.5,347.3 1968,342.8 1918.6,354.8 1913.2,346.3 1957,343.4 1945.2,340.8 1934.3,362.6 1916.4,353.8 1919.4,332.6 1960.1,349.1 1900.2,339.3 1925.1,337.4 1941,341.7 1897.3,341.1 1880.2,358.3 1936,359.1 1911.9,369.6 1891.4,356.5 1902.6,351.1 1967.7,387.4 1885.9,357.7 1922,369.4 1920,338.8 1963.2,363.5 1935.7,352.1 1950.2,348.5 1938.5,350.1 1846.9,353.8 1911.7,345.5 1927.6,366 1934.9,327.7 1948.1,340.8 1887.4,348.8 1945.3,346.7 1896.9,346 1856.6,348.3 1920.4,390.8 1904.4,360.5 1921.9,351.8 1906.9,356.1 1951.6,347.9 1941.4,340.4 1846.1,340.5 1901.3,353.7 1915.9,345.4 1912.5,348.8 1921.1,352.5 1901.4,362.7 1908.7,333.4 1923.6,331.6 1899.1,356.8 1850.3,359.9 1942.1,346.6 1907.3,379.2 1910.6,349.9 1872.4,344 1950.6,355.3 1967.1,332 1889.8,360.3 1956.8,354.6 1879.1,348 1949.4,359 1913.4,346.5 1951.2,347 1848.1,332.7 1927.6,363.3 1916.7,362.3 1928.2,355.5 1911.6,344.2 1937.1,353.8 1932.6,350.7 1904.2,354.9 1902.3,358.8 1931,325.1 1907.6,356.5 1926.2,355.8 1896.7,354.8 1903.2,355.9 1954.3,369.4 1962,334.2 1952.1,344.2 1933.3,349.4 1939.6,351.8 1942.1,362.4 1924.4,353.5 1968.1,334.3 1918.2,358.7 1933.9,369.9 1874.1,348.1 1897.8,341.4 1875.1,376.8 1954.9,344.4 1904.4,354.7 1911.2,359.8 1909.3,338.2 1906.4,341.3 1908.7,355.7 1863.1,340.1 1853.1,357.2 1904.6,350.8 1895.5,343.5 1927.4,360.1 1908.9,359.3 1927.9,323.3 1942,336.5 1846,356.1 1887.5,348 1917.8,343.1 1872.8,362.1 1955.3,348.9 1889.6,370 1943.9,360.9 1881.2,356.2 1945.4,356 1884.9,355.5 1962.8,346.8 1927.2,363.1 1898.1,350.8 1921.8,345.4 1915,356.4 1945.2,367 1948.3,345.6 1891,353.3 1945.2,349.4 1903.2,358.8 1928,361.9 1931.5,348.8 1898.9,358.2 1961.3,354.6 1932.8,337 1902.5,348.8 1921.5,361.8 1937.5,367.6 1902.8,341.3 1915,331.7 1918.5,347 1947.1,353.9 1894.5,371.9 1901.8,370.2 1871.1,351.5 1940.2,342.1 1936.6,343.1 1910.6,340.6 1940.2,347.8 1920.8,355.6 1894.3,338.5 1959.2,340.9 1919.5,340.8 1948.4,362.6 1951.8,361.2 1891.9,339.1 1881.8,336.3 1964.1,362.5 1912.8,334 1854.5,342.2 1847.7,364.3 1907.2,371.8 1935.6,353.9 1928.1,342.8 1902.4,350.3 1933.3,356.1 1945.1,358.6 1934.8,344.6 1949.8,349.2 1897.4,359.1 1855.3,365.7 1929.1,358.2 1901.2,338.5 1925,336 1965.1,339.4 1935,343.9 1872.6,365.2 1919.7,349.5 1904,360.5 1927.9,366.6 1931.1,340 1899.3,370.4 1901.4,354.1 1851.4,331.4 1903.2,377 1864.5,339.6 1890.3,338.2 1922,351.8 1925.1,348.2 1859.4,365.1 1960.8,385.7 1936.7,340.5 1843.3,322.3 1904.9,357.3 1900.5,357.3 1952.5,335.5 1922.7,337.1 1881.5,352.3 1886.8,344.1 1914.6,340.6 1858.4,360.9 1891.7,363.8 1901.4,344 1929.3,349.5 1923.8,343.9 1879,360.3 1935.1,334.9 1937.4,356.5 1963.4,342.6 1938.4,363.5 1935.3,349.1 1919.6,347.6 1915,350.6 1950.9,359.5 1862.1,342.9 1934.8,374.8 1925.9,362.5 1930.9,342.2 1901.9,351.6 1873.3,351.9 1940.2,336.5 1940,341.1 1952.5,345.3 1915,366.2 1918.1,332.2 1922.8,338.3 1904.6,348.4 1937.9,340.5 1885.6,322.6 1873.2,346.7 1919.1,359.3 1937,354.5 1916,348.1 1935.2,361.1 1901.5,342.7 1895.5,338.9 1882.6,344.5 1920.9,348 1913.2,339.7 1938.1,382.6 1917.4,348.1 1919.2,348.6 1917,354.1 1926.6,335.9 1955.5,357.1 1909.5,364.1 1902.9,341.9 1843.6,362.7 1875,360.7 1926.1,361.6 1904,366.3 1930.4,356.5 1902.5,346 1942.4,352.3 1918.6,348.3 1916.8,330.8 1942.4,369.4 1942.3,359.6 1896.5,365 1968.2,353.7 1937.2,352.4 1945.2,368.2 1956.9,351.9 1901.3,353.7 1938.3,364.9 1903.7,327.4 1944.9,349.5 1945.4,343.5 1948.4,359.5 1960.5,354.2 1907.7,345 1943.8,339.6 1942.6,365.9 1926,359.3 1950,354 1919.4,344.9 1933,355.4 1932.5,333.1 1909.8,343.8 1913,352.5 1893.6,354.7 1927.6,353.5 1940.2,332.1 1943,347 1858.4,355.3 1961.6,349.2 1952.5,357.2 1906.4,378.1 1869.3,350 1945.3,356.1 1891.6,349.8 1893.3,362 1955.4,369.2 1942.7,383.4 1844.2,359.9 1887,361.1 1926,360.5 1923.3,341.5 1920.2,351.4 1876.7,342 1917.2,340.5 1912.2,346.2 1904.9,355.8 1928.6,391.7 1917.7,348 1923.8,349.3 1904.7,371.4 1924.4,337.3 1905.9,337.7 1915.5,350.4 1829.8,360.1 1820.7,377.5 1933.5,358.6 1872.7,355.4 1912,358.9 1937.4,353.5 1882.3,335 1908.3,351.6 1943.8,330.8 1955,351.7 1948,339.2 1928.1,355.9 1922,366.4 1962,367.1 1930.1,349.6 1828.6,337.6 1941,343.9 1939.2,334.8 1932.9,370.5 1917.8,372.3 1863.3,362.6 1923.7,363.8 1929.1,338.7 1921.9,342.3 1954.3,369.5 1964.3,372.3 1935.6,345.1 1942.7,370.6 1883.3,369.7 1938.6,358.8 1948,342.5 1901.2,347.7 1946.7,354.5 1881.3,345.7 1903.9,353.8 1956.6,354.9 1851,331.3 1944.6,351.2 1928.8,353.7 1909.3,345.6 1903.7,335.2 1944.9,365.7 1920.2,351.9 1928.8,351.1 1913.3,351.6 1936.6,334.9 1920.2,329.2 1938.2,369.3 1915.9,351.3 1879.4,372.9 1923.2,339.5 1926.4,351.8 1954,385.8 1936.4,358.4 1888.8,357.1 1892.6,356.2 1935.5,347.2 1956.9,343.7 1922.4,358.6 1873.4,336.8 1947,365.6 1923.4,338.4 1950.8,359.1 1967.1,330.4 1923.4,345.4 1928.8,370.7 1946,356.8 1957.3,353.7 1924.2,347.6 1901.3,379.7 1864.5,355.1 1956.2,340.1 1869.2,345.6 1923.7,342.6 1910.4,379.6 1925.3,357.6 1869.8,341.9 1952.9,344.8 1925.4,362.9 1929.7,354.5 1885.4,355.9 1918,358.6 1884.9,346 1930.3,343.9 1861,352.8 1928.5,344.5 1951.5,349.2 1916.1,347.3 1942.5,337.4 1960.2,350 1885.7,353.5 1902.2,345.3 1852.4,354.8 1960.3,347.7 1903.2,356.6 1894.8,345.3 1930.5,350.4 1936.5,353 1915.8,347 1920.9,353.5 1907.2,337.4 1929.6,342.7 1916,393.4 1967.1,358.3 1936,353.7 1840.7,373 1905.6,352.9 1935.3,344.7 1879.7,362.7 1956.3,350.7 1900.4,329.2 1900.6,334 1953.9,349.5 1939.4,369.6 1937.1,337.2 1927.6,348.1 1906.6,337 1888,337.7 1952,345.5 1950.9,343.4 1925,326.8 1893.9,346.7 1953.1,345.2 1939.5,346.8 1908.1,351.7 1959.9,363.2 1955.4,346.7 1892.5,357.3 1905.4,343.1 1883.1,347 1961.1,348.2 1900.5,357.9 1891.1,345.8 1828.9,363.6 1909.5,363.1 1914.2,373.6 1964.8,358.9 1924.9,366.2 1876,345.6 1918.1,345.8 1965.7,357.1 1896,357.3 1909.7,342.7 1963.6,361.4 1878,381.6 1912.7,337 1927.5,347.8 1897.9,356.8 1931.8,349.9 1949.8,347 1902.6,345 1861.6,353.6 1925.9,343.6 1940.7,361.6 1832.5,342.7 1940.2,367.5 1912.7,356.7 1953.4,356.1 1863.2,346.4 1921,361.5 1897.6,368.9 1956.8,359.1 1871.1,354.9 1891.2,353.2 1910.9,351.8 1964.6,366.2 1932.2,321.3 1915.6,340.3 1919.1,330.9 1966.3,339.2 1939,371.6 1916.3,358.1 1913.5,344.6 1949.8,350.8 1910,366.3 1880.1,375.1 1889.2,330.5 1962.5,377.5 1942.7,330.1 1945.5,341.9 1836,343.7 1967.1,352.8 1838.4,348.4 1937.2,341 1942.7,369 1925.5,337 1934.7,350.6 1863.3,338.2 1869.9,352.7 1912.1,348.4 1932.9,365.6 1908.4,370.7 1908.5,332.9 1927.4,344.8 1868.6,360 1881.6,347.9 1888,353.1 1941.1,367.7 1895.1,341.6 1918,354.8 1929.5,364.9 1925.1,356.6 1952,340 1953,369.7 1898.4,346.5 1945.9,342.3 1900.2,339 1916.2,358.7 1946.7,348.8 1879.5,357.6 1932.6,360.5 1924.4,327.5 1887.4,344.6 1887.7,368.6 1944.6,364.6 1906.6,359.7 1899.4,353.8 1831.2,355.1 1848.4,363.2 1908.6,340.4 1932.9,374.3 1874.9,360.1 1960,363.7 1888.6,337.7 1875.5,353.5 1926.8,361.5 1937.6,351.2 1915.1,361.8 1872.6,356.1 1956.6,360.1 1864.3,353.8 1939.5,364.4 1899.7,361.1 1919,344.2 1846,341.9 1924.6,342.3 1931,352.4 1952.2,350.3 1965.8,346.6 1930.3,367.5 1917,359.1 1912.3,350.8 1910.8,345.9 1904.4,354.2 1931.5,366.8 1896.8,372.4 1912.2,337.9 1888.2,332.6 1850.5,346.2 1893.7,369 1916,359 1933.6,351.6 1916.1,341.3 1932.6,379.3 1888.9,332.4 1937.8,339.8 1919.7,357.8 1948.3,347.4 1958.4,353.2 1886.9,347.7 1901.2,355.3 1938.6,339.7 1968.3,352.9 1888.9,347.5 1887.3,359.4 1952.3,378.7 1907.8,350.8 1887,366.7 1924.4,342 1914,352.4 1916.6,348.1 1930.4,345 1952.8,357.3 1890,359 1927.4,348.5 1869.2,341.7 1968.6,354.9 1892,351.8 1846.5,344.5 1949.8,350 1904.6,352.2 1870.8,352.6 1952.6,352.9 1919.6,351 1853,340 1952.6,359 1904.2,366.4 1934,341 1959.2,333.3 1924.1,336.3 1896.6,373.2 1878.1,352.1 1884,336.9 1868.1,345.7 1914.6,354 1955.3,331.6 1959.3,355.3 1943.7,336.8 1890.6,330.1 1906.3,333.3 1934.6,326.5 1955.5,344.4 1882.2,355.9 1922.3,340 1957.4,336 1949.4,366.2 1900.8,351.8 1933.3,355.1 1930.6,342.4 1897.6,357.6 1910.3,352.8 1965.7,352.2 1948.7,339 1967.1,336.6 1957.1,368.9 1946.8,354.5 1918.1,374.7 1848.5,347.3 1952.2,353.2 1887.4,376.5 1871.2,337.5 1953.4,352.1 1940.5,346.7 1920.8,358.6 1960.7,359.6 1927.6,352.2 1899,342.6 1957.6,368.4 1928,344.4 1857.6,358.9 1926.6,353.2 1948,350.7 1899.1,381.7 1938.9,362.9 1926.8,360.9 1838.9,370.8 1872.4,361 1928.2,339.4 1929.5,326 1912.3,332.3 1917.1,365.6 1889.1,376.8 1887.1,337.2 1910.5,343.9 1959.6,338.1 1930.2,346.6 1957.4,369.9 1902.7,351 1892.2,336.7 1923.8,339.7 1937.1,344.7 1949.3,366.7 1904.4,359.4 1923.7,346.3 1882.5,348 1922.3,346.9 1900.2,342.8 1961,346.6 1965.9,376.8 1894.4,364.2 1936.2,361.9 1885,350.8 1895.7,350.6 1948.8,361 1960.8,363.6 1945.7,353 1913.7,359.9 1914.9,366.3 1955.4,354.6 1866.9,358.8 1949.6,354.1 1918.3,349.9 1912.8,332.2 1891.2,341.6 1958.8,337.9 1836.2,337.5 1906.3,374.2 1930.2,340.4 1880.4,353.1 1883.3,361.1 1916,354.6 1833.3,365.8 1894.2,361.7 1949.4,366.9 1899.1,343.7 1899.7,337.3 1853,351.7 1915.7,332 1934.9,343.2 1914,359.3 1963.6,339.4 1845.3,362.3 1923.7,347 1945.9,339 1924.1,349.6 1955.8,354.4 1925.4,357.2 1948,348.5 1924,350.6 1889,348.4 1900.6,342 1952,351.3 1857.7,377.9 1860,345.3 1883.3,342.7 1968.2,364.2 1885.3,360.4 1904.8,355.4 1938.9,353.3 1820.2,335.6 1942.4,354.2 1931.6,345.6 1923.4,377.7 1888.6,350.8 1912.2,327.1 1944,354.5 1936.8,352.9 1917,356.8 1892.5,334.1 1928,359.3 1889.2,337.7 1899.9,363.6 1909.1,338 1913.8,340 1892.8,375.8 1934.5,333.2 1960.1,344.6 1922.2,334.3 1881.8,347.7 1923.2,341.9 1911.7,360.1 1904.8,356.3 1908.1,361.6 1903.3,337.9 1933.2,352.9 1939.8,342.1 1905.7,341.3 1960.9,345.8 1929.5,352 1891.7,335.3 1915.5,353.4 1894.7,364.1 1946,352.1 1959.2,338.9 1941.4,347.6 1900.6,359.6 1913.6,353.8 1950.5,355.6 1911.7,350.6 1916.6,353.6 1910.6,350 1960.5,355.7 1915.5,346.6 1959.6,346 1866.1,322.1 1901.2,353.9 1866.1,346.1 1886.6,354 1917.2,346.9 1934.5,344.9 1894.1,340.6 1900.2,349.4 1909.3,349.5 1886.8,360.3 1964.4,323.6 1899.4,360.2 1889.2,340.7 1935.6,348.2 1943.4,341.3 1904.2,339.1 1924,349.5 1916,371.9 1852.3,364.2 1919.4,352 1914.4,356.4 1835.8,352.1 1948.9,340.5 1912.5,337.3 1926.3,379.9 1942.1,340.6 1928.6,361.1 1929,322.8 1932.2,355.7 1921.5,356.5 1922.1,355.2 1954.7,343.4 1913.5,352.3 1932.1,340.1 1855.1,376.7 1912.6,359.9 1932.8,341.1 1940.2,340.5 1899.9,346.3 1929,336.4 1916.9,350.9 1926.8,342.5 1913.7,339.7 1953.9,343.9 1890.2,341.5 1924.5,361.7 1911.9,347.1 1929.2,353.9 1917.4,341.9 1928.2,357.9 1924.4,360.4 1865.1,352.5 1929,340.3 1909.8,363.8 1941.4,350.8 1891.5,338.8 1923.9,362.1 1888.9,343.5 1894.1,342.4 1903.3,358.1 1943.5,351.4 1946.4,366.2 1954.4,357.8 1929.1,355.2 1952.6,357.2 1922.2,361.5 1925.4,346.4 1865.7,356.2 1953.5,369.7 1932.7,356 1938,327.7 1932.7,347.7 1918.3,363 1937,344.6 1967.6,346.4 1899.1,357.1 1853.5,343.4 1945.6,345.8 1920.8,340.1 1952.2,332.2 1938.5,370 1950.4,366.9 1862.2,374.4 1888.2,394.7 1883.4,350.1 1842.6,349.1 1935,343 1852.9,360.9 1958.4,337.4 1919.8,331.9 1920.4,351 1828,363.2 1955.7,364 1882.1,359.3 1943,349.5 1925.7,364.4 1918,357.3 1952.9,355.6 1845.4,354.6 1927.4,351.7 1893.9,359.5 1937.6,359.6 1913.5,370.4 1913.4,343.2 1952.6,367.6 1922.6,340.8 1930.5,344.9 1926.2,358.7 1880.2,361.2 1962.4,350.6 1885.6,345.7 1912.9,347.1 1960.5,351.5 1909.8,360.3 1863.3,360.1 1926.5,344.8 1928.8,354.7 1926.3,339.7 1958.5,361.7 1926,387.8 1929.1,348.5 1927.5,344.5 1920.7,351.6 1917.4,353.5 1904.8,341.1 1930.4,363.1 1895,346.6 1965.9,356.6 1937.4,349.6 1919.4,342.9 1900.2,342.3 1889.6,366.3 1872.9,369.4 1930.2,347.1 1927.3,354.7 1944.5,347.8 1933.7,346.7 1885.9,349.5 1882.6,337.5 1952.6,374.3 1934.6,371 1935.7,341.1 1930.5,351.2 1940.6,348.6 1952.2,389.8 1932,357.6 1931.9,343.9 1937.2,333.5 1906.3,324.9 1941.2,322.5 1947.6,371.8 1911.5,352.9 1852.4,347.4 1932.3,345.2 1927,346.9 1933.1,378.7 1924.2,356.7 1905.6,366.6 1892.6,342.4 1931.8,344.7 1885.4,359.4 1887.1,343.4 1918.6,351.3 1922.1,346 1900.4,348.2 1846.9,348.7 1888.9,348.3 1955.2,367.7 1935.3,380.1 1961.7,328.8 1918.7,356.5 1958.2,370.1 1958.2,328.2 1915.6,347.1 1946.4,351.4 1911.1,320.8 1958.2,341.9 1960.2,348 1943.7,356 1893.2,345.4 1866.6,363.8 1892.6,350 1928.9,338 1912.9,358.2 1845.7,343.1 1894.3,355.3 1954.3,350.3 1897,328.2 1832,381 1927.3,371.2 1886.8,361.5 1966.8,348.3 1958,349 1865.3,328.1 1955.6,372.3 1960.8,359.7 1926.3,345 1934.3,335.3 1953.1,357.7 1902,349.4 1925.8,353.4 1927.4,343.2 1830.7,345.6 1890.7,358.3 1889.7,347.9 1905.7,357 1911.5,350.5 1931.5,360.9 1881.4,344.4 1826.5,347.3 1869.2,361 1897.2,354.3 1909.3,351.4 1876.8,347.2 1916.3,357.7 1936.7,361.2 1948.3,355 1868.7,349.3 1875.4,364.3 1898,352 1953.4,340.4 1964.8,332 1883.7,347.1 1945.3,343 1894.2,351.3 1923.2,343.3 1920.2,343.3 1953.6,355.6 1893.2,353.7 1948.5,343.4 1942.3,358.5 1940.9,363.4 1825.2,361.7 1917.5,370.7 1896.9,348.8 1937.8,362.9 1894.7,356.8 1898.8,352.3 1928.1,346.7 1944.5,362.3 1922.9,352.5 1932.2,342.5 1922.6,365.3 1928.2,349.9 1950.6,354 1964,355.1 1913.5,340.2 1911.6,358.8 1958.3,351.1 1895.8,363.6 1962.4,380 1930.6,345.2 1862.7,368.7 1952.6,333.5 1894.9,355 1931.1,358.1 1876,354.2 1916.1,374 1883.9,370.5 1956.5,334.4 1928.6,339.7 1944.9,348.7 1898.4,353.9 1882,357.4 1875,361.5 1859.2,361.1 1899,337.7 1871.7,380.6 1887.9,341.8 1878.7,353.5 1880.7,339.9 1968.1,353.7 1900.2,329.4 1935.3,362.9 1863.6,355 1923.1,360.8 1920,338.3 1932.2,359.2 1903.7,336.8 1961,362.3 1891.1,354.1 1926.8,351.6 1923,351.7 1912,333.9 1877.6,344.4 1916.1,362.6 1943.8,341.8 1874.8,359.6 1889.6,346.9 1946,369.8 1873.6,364.5 1938.1,346.3 1948.2,362.7 1926.6,377.6 1933.6,335.4 1934.2,373.8 1931.4,358.3 1873.5,365.5 1906.3,341.7 1949,346.4 1912.5,337.5 1933.5,344.3 1874.6,337.9 1941,346.5 1935.3,369.8 1905.3,350.1 1922,364.5 1930.3,342.8 1902.9,341.8 1910.7,351 1892.9,343.5 1928.7,351.8 1943.6,341.7 1933,346 1926.7,370.6 1911.2,363.5 1962.4,382.3 1911.1,349.8 1878.2,378.3 1955.4,354.7 1850.5,360.8 1926.4,346.5 1925.4,338.5 1941.5,331.1 1909.3,352.2 1894.1,342.6 1895.7,360.2 1903.8,357.3 1930.3,355.4 1920,355.7 1960.9,359.1 1924.9,351.8 1924.7,339.7 1952.1,339.3 1959.2,350.6 1886.9,352.8 1945.4,356.1 1950.8,357.5 1937.8,369.9 1908.5,351.2 1903.5,353.7 1898.4,368.5 1929.8,349.6 1957.3,359.8 1933.8,352.4 1928.7,346 1836.7,333.4 1956.7,361.9 1929.9,349.6 1954.9,358.7 1939.5,347.8 1931.5,338.1 1930.3,367.9 1925.9,357.5 1924.3,355.1 1902.9,365.6 1958.3,359.5 1893.4,347.3 1934.4,364.2 1918,343.7 1944.3,359.7 1875.6,348 1841.7,357.3 1863.3,375.4 1914.5,343.1 1897.8,369.2 1900.9,354.4 1939.9,376.2 1966.7,354.9 1912,342.5 1908.1,347.4 1938.6,343.5 1901.1,350.9 1951.7,388.5 1926.2,349.8 1945.8,328 1930.4,362.2 1931.3,349.7 1930.1,333.2 1958.9,365 1895.6,353.3 1895.5,353.3 1900.2,368.9 1964.5,341.9 1832.8,357.5 1909.2,342.5 1923.7,356.3 1930.6,354.7 1954.9,361.3 1891.5,341.2 1911.3,369.3 1966,339 1877.9,330.1 1922.2,370.2 1904.5,341.4 1879.6,351.4 1931.6,349.9 1862.9,355.8 1911.8,343.2 1949,353.9 1897.1,356.9 1907.2,344.6 1945.2,360.8 1926.9,356 1960.5,356.1 1942.1,366.9 1920.5,336.4 1895.3,361.9 1936.9,343.5 1921.9,352.6 1963.8,385.6 1865.5,341.6 1958.3,352.1 1935.5,342.5 1938,345.3 1916.4,354.2 1948.8,348.4 1867.1,360.7 1864.1,365.5 1908.5,348.3 1952.9,356.9 1916.5,330.2 1858.1,378.8 1952.9,371.3 1966,346.4 1892.2,336.4 1831.7,360 1927.9,358.1 1966,337.3 1936.9,342.3 1958.1,343.1 1959.3,351.8 1911.8,338 1926.7,345.6 1928.3,353.8 1945,372.5 1925.7,337.9 1937.4,361.7 1912.3,356 1947.4,342.7 1928,361 1867.2,353.2 1946.7,346.3 1931.8,351.6 1920.9,353.1 1888.8,351 1889.8,348.5 1926.1,356.6 1873.2,357.9 1882.3,343.7 1961.8,347.3 1930.8,347.6 1951.6,367.9 1959,335.4 1937.7,326.3 1947.3,337.3 1947,359.5 1938.1,346.7 1927.1,352.1 1902.3,370.4 1946.9,350.3 1944.2,342.7 1935.8,349.8 1913.7,339 1860.6,356.8 1937.2,341.6 1896.4,354.9 1962.8,364.9 1945,326.9 1950.4,342.5 1903.9,355.4 1888.7,339.1 1958.3,360 1929.8,345.2 1937.9,345.7 1925.6,355.3 1860.7,369.9 1905.9,371.7 1882.6,343.4 1901.2,343.3 1917.4,367 1912.4,361.6 1926.7,340.3 1950,345.9 1941.4,352.5 1960.5,364.5 1925.3,332.4 1894.7,352.2 1909,352.4 1920.6,346.2 1934.6,371 1922.1,345.2 1882.8,325.6 1918.4,349.5 1924.9,357.6 1921.3,347.1 1869.8,334.1 1967,333 1931.6,342 1936.3,378.9 1886.4,365.6 1867.7,349.2 1939.7,323.2 1909.6,344.6 1954.6,366 1921.8,362.3 1900.8,357.2 1909.7,342.5 1937.4,344.4 1933.2,358.2 1957.1,348.7 1942.5,336.9 1939.5,353.8 1821.1,347.6 1956.5,345.3 1947.9,356.9 1855.8,347.9 1917.2,328.5 1918.5,340.1 1905.4,325.6 1873.1,369.4 1908.1,344.9 1957.3,326.5 1916.9,358.5 1930.9,353.8 1904.8,347.6 1921.3,372.8 1935.7,339.7 1904.2,351.1 1907.6,356.8 1935.6,351.5 1959.4,377.3 1952.8,354.5 1932.3,351.3 1913.1,360.7 1917.8,330.4 1881.3,351.4 1910.9,348.5 1905.6,342.8 1921.7,345.4 1937.5,347.5 1902.3,346.7 1917.8,334.1 1923.3,352.4 1966.9,345 1914.4,360.9 1895.1,348.8 1895.3,332.5 1862.1,360.9 1933.6,345.6 1952.1,358.9 1936,355.8 1863.9,346.2 1911.6,358.8 1847.1,380.9 1908.8,346.3 1914.4,374.2 1942.2,351.1 1937.9,352.6 1872,341.2 1924.3,354.8 1868.8,373.1 1867.8,370.8 1926.2,356.5 1903.2,378.8 1934.3,361.7 1929.4,327.5 1872.6,381.7 1852.9,355.3 1939.5,345 1957.9,345.9 1826.6,376.1 1942.1,351.2 1915.7,343.8 1959.9,362.4 1940.7,346.1 1952.1,348.3 1966.7,334 1915.6,349.2 1950.4,359.8 1908.6,374.5 1915.8,356.5 1925.4,385.8 1909.4,337.5 1915.4,367.2 1917.1,373.9 1869.3,349.8 1896.4,374.1 1922.7,358.5 1893.7,344 1913.9,352.9 1860.6,341.9 1872,360.4 1903.2,373.1 1878.9,369.2 1885.8,351.6 1967.5,339.1 1942.1,356.9 1878.4,355.3 1907.1,349.5 1928.7,361.7 1928.1,356.1 1912.9,362.7 1884.2,359 1947.3,345.6 1916.4,343.1 1832.8,353 1909.1,337.3 1898,339.1 1936.3,361.1 1967.1,366.4 1835.8,341.3 1912.2,345.2 1925.8,339.5 1900.7,348.7 1946.1,337.7 1896.6,339.7 1927.2,332.7 1916.7,355.7 1881.5,351.9 1952.8,365 1917.9,348.3 1942.6,352.1 1944.4,358.8 1932.9,358.2 1860.3,354.4 1932.5,339.4 1940.6,375.1 1916.6,351.7 1923,325.9 1926,343.4 1935.7,360.1 1966.8,373.1 1934.6,354.4 1947.2,362.4 1880.3,358.5 1870,353.7 1960.7,335.3 1858.8,340.3 1966.1,357.2 1927.1,363.1 1866,366.6 1939.7,353.9 1874.4,372.7 1925.9,353.5 1918.7,360 1913.6,371.7 1907.3,338 1947,342.9 1921.9,361.7 1944.6,334 1888.2,352.6 1932.7,344.4 1922.9,343.3 1862.2,365.3 1872.7,343.6 1920.2,357.8 1917,333 1923.6,338.2 1926.5,345.5 1941.7,329.8 1932.2,330.4 1916.1,350.2 1936.8,351.2 1941.6,347 1929.7,361.1 1962.6,343.3 1923.9,354 1897.1,335.7 1851.7,348.1 1924.2,355.9 1935.1,337 1885,362.4 1932.8,360 1871.2,358.2 1892.8,366.2 1887.3,349.1 1918,349.4 1941.7,350.2 1891.3,367.1 1947.5,346.4 1887.8,366 1939,352.1 1875.7,365.9 1877.4,359.8 1909.4,341.9 1908,341.6 1919.5,356.3 1926.6,362.8 1844.7,334.2 1903.3,344.2 1921.8,367.9 1934.3,332.5 1951.8,360.2 1953,345.2 1914,354.8 1962.8,361.8 1940,358.2 1923.9,345 1938.3,368 1959.9,355.2 1924.1,350.3 1936.6,368.4 1907.6,350.8 1935.9,340 1903.5,340.3 1903.9,362.8 1907.2,350.8 1944.9,354 1959.4,358.8 1903.8,366.8 1959.7,348.6 1886.1,364.4 1963.3,345.3 1902.7,357.8 1947.1,341.6 1934.7,344 1940.7,347.7 1944.7,364.7 1849,354.4 1958.2,347.8 1954.9,362 1892.4,370.4 1919.3,352.7 1907.7,351.6 1961.3,349.9 1891.5,371.6 1932.9,355.4 1853,357.4 1873.5,371.8 1952.5,350.3 1916.5,364.3 1917.9,367.7 1933.5,351.2 1947.7,347.8 1935.3,356.8 1885.6,348.4 1931.2,354.6 1933.8,341.1 1866.8,347.4 1904.6,358.1 1914.7,352.9 1961.2,329.5 1926.9,356.4 1817.6,338.8 1934.8,337.4 1919.1,355.9 1962.8,339 1895.6,346.7 1935.6,337.8 1840.4,373.7 1968.7,363.2 1921.6,332.9 1876.8,360.4 1936,350.5 1901.9,352 1899.9,349.8 1960.1,357.1 1929.7,355.2 1928.8,360.9 1938.3,349.3 1962.1,348.6 1930.4,341.1 1966.4,367.1 1964.9,350.2 1872.4,345.6 1892.7,338.6 1938.4,331.9 1922.7,344.4 1922,350 1901.9,366.4 1951.2,336.5 1924,351.6 1964.8,358.3 1868.7,359.5 1950.8,320.7 1893.1,345.4 1947.7,336.5 1942.9,365.1 1896.9,367.6 1903.1,348.4 1870.3,358.6 1891.3,351.7 1943.2,347.7 1892.3,353.3 1949.8,328.3 1898.1,356.4 1927.2,356.3 1919.7,365.8 1912.7,365.2 1853.9,350.2 1905.4,377.3 1954.6,336 1903.8,350.4 1931.3,347.1 1886.9,339.4 1915.4,349.6 1947.5,353.9 1965.7,366 1863.3,336.9 1855.1,357.3 1854.8,360.3 1954.2,349 1916,348.2 1951.8,340.6 1913.9,359.3 1913.2,361 1934.6,352 1928.3,354.2 1910.8,348.8 1866.6,342.3 1926.3,356.5 1893.9,354.8 1912.8,355.8 1955.1,353.9 1942.6,323.8 1918.3,346.3 1938,349.5 1914.3,354.7 1941.1,334.4 1959.6,363.9 1851.8,346.6 1962.1,355.4 1861.1,340 1929.5,335.6 1893.6,341.5 1871.1,372 1901.9,353.4 1928.2,368.4 1907.8,349.6 1962.5,347.9 1960.9,325 1936.9,351.1 1912.4,355.4 1954.2,362.9 1893.5,372 1870.1,359.3 1895.6,340.7 1915.3,349.5 1967.4,353.2 1952.2,338 1946.4,349 1926.4,346.7 1955.6,337.2 1931.3,347 1888.1,341.8 1919.7,344.9 1946.6,341 1962.2,374.4 1893.7,359.3 1920.7,339.3 1851.2,354.4 1927.9,344.2 1932.9,355.1 1874,352.4 1951.6,351.5 1942.1,352.2 1902.9,359.6 1877.3,345.9 1926.8,346.7 1904,365.9 1962.8,356.9 1930.4,337.5 1945.1,366.4 1943.5,337.9 1945.8,353.6 1945.6,350.8 1903.7,359.9 1890.5,345.8 1914.2,338.9 1943.3,339.3 1956.8,363.5 1939.5,361.7 1895.5,346.3 1922.4,360.8 1876.6,337.9 1910.6,367.4 1932.2,345.8 1838.2,353.9 1868.5,354.5 1906,375.5 1909,360.9 1926.6,364.7 1950.8,332.1 1939.4,347.7 1871.8,358.5 1942.6,353.3 1953,340 1954.4,334.9 1923.9,337.6 1922.5,381.1 1927.8,363.6 1822.1,373.3 1900.6,353.8 1948.5,349.4 1910.8,363.2 1899.4,348.7 1951.4,350.8 1947.6,330.9 1869.3,375 1929.3,350.1 1911,368.5 1874.5,360.8 1861.5,322.6 1925.2,342.2 1914.7,346.3 1897.3,346.1 1926,369.2 1887.9,343.8 1904.8,374 1958.4,356.8 1912.9,354.2 1966.1,347 1928.2,343 1897.9,351.1 1834.3,346.9 1885.3,339.8 1961,364.9 1954.8,343.7 1930.8,355.5 1886.5,357.5 1879.6,344.3 1908.4,380.5 1966.7,382 1912.9,353.3 1916.8,334.9 1953.9,362 1902.1,348.8 1962.1,359 1925,356.7 1925.1,372.7 1911.8,336.3 1926.1,339 1938,335 1895.6,336.1 1833.7,342.7 1949.8,341.6 1956,344.6 1860.1,344.8 1918.5,351.8 1932.8,347.7 1945.9,329.6 1866.5,336.4 1915,329.7 1951.1,364 1921.5,372.8 1914.7,346.2 1906.5,341 1935.2,331.4 1912.4,343.6 1954.1,343.6 1913.3,338.8 1910.6,366.2 1920.9,340.3 1924.8,373 1899.3,349.1 1864.6,359.4 1921.5,357.8 1933,361.7 1961,353.8 1919.9,341 1962.4,359.1 1920.9,343.1 1920,338 1906.6,339.4 1920.7,362.1 1933.8,358.2 1961.1,355.5 1911.2,368.6 1950.9,350.4 1854.7,352.3 1882.7,330.9 1878.9,344.3 1907.7,356 1930.9,390.4 1939.5,337 1927.7,341.1 1902.3,353.8 1926.3,375.9 1897.7,358.4 1905.9,345.3 1917.3,357.1 1850.6,346.9 1917.4,327.4 1923.4,374.5 1947.9,373.3 1916.6,352.8 1907,346.2 1907.7,358.4 1950,351.1 1932.9,352.5 1944.8,346.3 1893,330.7 1966.6,345.7 1955.7,347.1 1886.9,361 1912.6,343.4 1965.6,343.7 1938.9,346.4 1932.5,348.5 1853.2,364 1941.6,341.7 1906.4,335.3 1879.5,341.1 1873.5,353.4 1891.6,353.4 1871.8,373 1951.2,333.3 1913.6,341.6 1854.3,360.1 1931.7,356.1 1883.9,328.9 1821.9,347.4 1928.2,352.4 1884.4,352.6 1928,353.4 1931.7,337.1 1925.7,345.5 1908.8,356.4 1903.7,346.4 1902.5,361.3 1905.8,342 1955.1,369 1918.4,350.2 1887,349.1 1928.4,345.4 1918.9,369.5 1959.3,343.3 1939.3,358.8 1923.2,335 1959.7,335.1 1866.6,346.9 1913.3,337.7 1937.1,358 1948.3,362.1 1941.5,356.6 1877.5,353.5 1946.4,347.2 1900,382.6 1932.1,357.2 1937.4,366.8 1864.9,354.4 1925.7,350 1968.8,360.1 1897.1,356.9 1950.2,328 1927.6,353.9 1925.8,352.4 1896.5,335.3 1856.7,353.8 1953.5,347.3 1845.4,377.8 1927.4,365.2 1951.8,334.5 1859.6,345.7 1926.8,334 1931.3,359.6 1902.2,339.4 1920.2,344.1 1920.4,352.2 1915.2,359.4 1948.6,349.5 1922.6,349.1 1921,348.3 1930.7,338.3 1923,338.4 1968.9,363.6 1953.4,351.6 1899.9,358.7 1966.6,327.2 1933.4,336.9 1922.6,361.1 1896.2,336.1 1930.7,352 1928.5,341.5 1927.4,340.3 1909,354.6 1908.7,350 1956.9,352.4 1947.8,356.6 1890.9,374.2 1882.4,344.1 1908.1,348.3 1855.6,374.6 1902.4,358.1 1902.5,331.7 1913,342.5 1868.2,347 1888.5,326.7 1909.4,357.5 1890.3,349.2 1816.1,337.2 1933,352 1941.3,331.5 1913.6,351.5 1934.2,352.2 1904.8,354.1 1902.3,361.9 1876.5,348 1873.9,346.5 1932.9,328.7 1944.6,330.1 1899.8,367.1 1894.7,352.9 1913.1,347.9 1912,349.3 1920.5,347.3 1939.5,379.2 1907.9,356.5 1882.9,370.6 1935.2,349.3 1860.9,342.2 1906.2,357.9 1939.6,357.7 1914.1,335 1894.8,336.6 1869.7,357.8 1928.8,347.1 1920.6,350.9 1897.5,344.2 1919.7,341.9 1903.1,353.2 1952.5,347.9 1894.5,346.9 1921.5,348.1 1912.9,346.5 1935.5,343.9 1955.3,342.1 1860.2,351.3 1911.1,341.2 1936,356.8 1941.1,349.1 1951.4,356.4 1966.5,348.7 1845.8,340.2 1957.8,351.5 1938.8,352.7 1914,373.5 1954.2,358.6 1945.4,367.8 1920.9,343.5 1967.2,356.3 1950.4,362.2 1960.6,352.5 1850.4,339.4 1923.2,377.9 1944,349 1885.9,330.1 1925.5,342.1 1902.3,361.1 1922.2,358.2 1925,335 1940.2,329.1 1945.4,374 1887.8,343.9 1890.9,359.1 1884.1,344.3 1918.6,338.4 1894.6,366.2 1959.2,349.8 1894.7,341 1965.5,352.8 1909,341.1 1899.5,333.4 1928.2,345.2 1942.3,332.8 1947.5,353 1917.9,336.1 1941.3,345.9 1939.5,363.4 1874.8,341.8 1886.3,363.5 1955.3,347.4 1919.9,340.7 1907.4,344.6 1872.2,358 1942.3,356.5 1910.2,349.2 1966.7,340.2 1907.5,351 1936,356.2 1902.8,364.3 1873.2,326.2 1838.2,349.2 1917.4,366.6 1967.8,355.9 1913,372.4 1922.5,343.2 1937.4,356.8 1908.3,354.1 1915.1,359.3 1947.4,345 1921.3,350.7 1960.7,372.7 1907.9,353 1963.2,361.4 1895.8,340.6 1909.2,347.3 1937.7,367 1956.4,379.1 1934,348.2 1948.1,345.6 1929.5,336.4 1853.1,345.2 1922.8,345.4 1949.1,363.6 1937.7,350.8 1932.5,361.6 1896.1,356.3 1914.3,344.9 1910.7,345.6 1922.3,353 1878,393.5 1880.9,407.3 1896.9,412.4 1906.4,405.9 1913.7,392 1921.7,400 1928.3,388.4 1929,402.2 1934.1,398.6 1953.7,406.6 1964.7,402.9 1966.9,394.9 1956.7,397.8 1904.2,386.9 1889.7,381.1 1817.4,391.3 1853.1,387.6 1853.1,379.6 1875.7,393.5 1877.1,407.3 1828.3,381.1 1841.4,381.1 1832.7,379.6 1905.3,524.2 1945,540.9 1816.4,391.7 1853.6,388 1877.3,393.8 1879.5,407.4 1897,412.8 1906.7,405.9 1913.3,391.7 1921.3,399.7 1928.6,401.8 1934,398.9 1953.3,406.7 1957,398.9 1964.3,404 1966.9,395.3 1928.3,388.7 1904.5,387.3"/></defs><use href="#p28" class="fm"/><use href="#p28" class="sm"/>
<defs><polyline id="p29" points="1718.3,331.6 1717.2,354.7 1741.2,336.2 1738,353.7 1714.3,336 1738.2,351.1 1754.2,347.5 1763.1,336.8 1762.5,344.9 1688.9,339.9 1766.2,330.1 1736.9,354.7 1698.2,356.3 1732.7,343.4 1785.3,350.8 1813.4,356.1 1807.2,355.3 1734.6,359.2 1706.4,350.5 1720.9,338.9 1766.1,366 1758.3,369.5 1738.1,360 1771.6,337 1722.8,341.3 1808.9,351.9 1801.6,333.6 1749.8,351.4 1718.1,357.4 1681.8,334.8 1722.9,338.6 1794.6,364.9 1756.3,352.5 1761.6,341.3 1688.1,341.9 1762.3,345.4 1753.1,350.2 1705.7,337.1 1770.9,353.4 1670.4,349 1755,334.1 1776.7,351.2 1731.6,351.8 1661.3,334.4 1752.5,347 1813.6,349.8 1787.5,353.1 1747.2,335.1 1798.1,340.9 1732.3,354.4 1674.7,335.6 1810.6,346.7 1777.2,337.9 1730.9,328.6 1775.2,358.5 1724.6,331.7 1674.5,332.9 1676.8,329 1806.7,350.2 1750,349 1720.9,347.5 1750.4,337.6 1746.3,337.1 1796.9,339 1769.8,343.3 1727.4,343.9 1781.5,348.1 1739.8,350.9 1785.9,343.1 1758.2,347.7 1734.8,351 1782.7,341.5 1730.9,343.9 1715.7,335.2 1749,368.4 1683.7,344.3 1718.2,342.6 1662.3,332.8 1803.1,353.3 1766.3,342.2 1732.9,342.1 1806.9,331.7 1715.6,357.3 1713,369.2 1668.8,357.3 1795.5,365.3 1677.6,351.6 1712.9,369.2 1787.4,340.5 1762.3,357.8 1703.6,350.5 1736.7,332.2 1803.6,329.3 1812.8,352.6 1753.8,338.4 1727.1,342.6 1751.1,349.3 1730.6,330.1 1759.7,339.3 1696,342.6 1727,351.4 1753,345.5 1706,330.9 1711.1,328.1 1806.2,372.4 1758.9,344.5 1727,340.2 1736.4,361.8 1733.4,354.9 1686.7,334.3 1668.4,350.7 1745.1,339.9 1785.3,342.5 1710.8,366.3 1718.6,340.9 1738.7,346.1 1781.5,351.2 1715.5,356.5 1812.1,338.1 1721.8,351.1 1746.6,345 1801.7,358.7 1785.6,357.6 1733.9,334.5 1778.3,342 1730.3,340.6 1728.4,363.8 1689.1,344.5 1730.1,336.7 1744,356.4 1700.8,360.3 1757.4,338 1774.4,358.2 1699.6,363.2 1703.3,346.7 1706.6,347.5 1745.1,341.7 1735.8,337.3 1787.4,338.3 1662.2,352.8 1701.5,337.5 1791.5,352.5 1784.3,338.8 1791.3,368.2 1702.3,342.9 1764.7,366.2 1787.5,353.3 1726,361 1761.4,332.8 1696,334.3 1711.3,354.7 1735.1,349.4 1683.9,347.5 1775.6,353.1 1757,350.8 1793.3,343.9 1706.7,334.5 1750.5,348.9 1764.5,340.7 1722.9,348.9 1725.8,349.2 1781.2,353.8 1805.5,360.4 1783.1,349.4 1711.3,354.8 1729.3,331.1 1751.4,341.8 1674.5,353.2 1676.9,344.4 1667.4,335 1791.8,338.2 1740,363.5 1728.7,348.6 1764.1,337.3 1707.5,349.3 1729.1,360 1673.3,356.4 1794.6,343.3 1754.4,343.1 1731.3,357.6 1801.7,353.1 1684.9,339.8 1788,356.6 1811.1,343.1 1787.8,351.8 1767.2,345.5 1759.3,352.2 1771.6,361 1797.8,356.4 1742,361.9 1747.7,342.4 1694.5,360.8 1729.5,359.3 1747,349.5 1723.7,350.4 1749,333.2 1706.1,353 1684,350.7 1782.9,357.1 1767.8,349.2 1665.8,342.1 1807.2,355.3 1704.4,343.2 1783.5,356.2 1751.9,342.9 1712.5,351 1711.7,349.1 1755.4,348.6 1738.7,353.8 1785,331.2 1655.5,361.7 1774.1,355.5 1709.7,342 1797,356.6 1674.5,347.5 1729.3,349.2 1768.1,342.8 1781.6,352.2 1750.9,356.2 1813.2,363.8 1680.8,356.5 1703.3,354.1 1743.1,347.9 1753.7,343.1 1739.2,359.2 1683.1,334.3 1699.8,345.8 1738,359.6 1771.2,347.6 1737.9,347 1717.4,349 1760.7,357.9 1777.1,341.9 1795,338 1722.8,347.8 1706.1,342.1 1773.4,339.7 1803.9,348.9 1751.4,342.8 1672.4,329.2 1792.3,352.2 1766.3,339.8 1798,353.9 1790.9,345 1691.7,353.3 1714.3,347.4 1800.6,349.2 1794.3,345.3 1799.7,337.7 1727.7,339.6 1704.8,350.9 1796.4,351.5 1679.8,356.8 1663.2,347.4 1718,344.9 1757.8,345.9 1685.8,341 1662,349.5 1710.1,348.1 1682.9,337.2 1810.5,338.2 1795.4,348.9 1766,336.2 1733.5,351.5 1807.7,350.3 1793.1,358.1 1782.2,356.7 1677.7,336.8 1787.5,352.3 1753.4,362.4 1777.3,357.6 1675.4,341.9 1761.8,334.9 1724.1,341.6 1705.7,335.6 1764.8,357.5 1696.7,352.4 1748.4,342.7 1792.2,353.9 1743.7,336.3 1720.2,343.6 1796.4,350.4 1664.1,330.2 1718.9,333.9 1695.6,342.8 1755.8,329.2 1708.5,338.6 1762.4,352.5 1795.1,341.7 1804.4,356.1 1776.5,336.7 1688.9,332.8 1657.6,361.2 1693.3,338.2 1759.1,336.8 1790,354.5 1757.4,362.7 1733.3,355.3 1785,351.3 1687.7,356.3 1691.7,347 1721.4,333 1729,347 1730.5,344 1673.2,352.7 1739,356.1 1693,349.9 1755.3,349.8 1813.6,344.2 1745.3,339 1738.4,344.7 1781.9,344.2 1740.3,343.2 1734.7,345.3 1756.2,345.7 1720.8,339.7 1715.7,340.8 1767.7,353.5 1725.9,342.9 1673.9,355.9 1653.8,343 1777.8,360.7 1750,346.1 1722.7,356.1 1680.8,359.4 1764.8,354.7 1744.1,348.8 1741.2,348.5 1698.2,343.1 1794.6,371.1 1737.4,356.7 1708.7,354 1722,344.5 1797.3,351.6 1679.1,361.1 1746.8,348.1 1670,349.9 1742.7,341.6 1789.6,331.1 1731.7,346 1699.9,341.6 1811.2,359.5 1750.2,359.5 1800.9,337.9 1687.7,345 1778.1,353.4 1666.3,363.7 1723.5,351.5 1634.6,334.2 1657.6,324.3 1655,337.8 1668.8,323.6 1695.8,329.4 1685.9,373.8 1703.1,368 1720.1,378.2 1728.6,374.5 1777.4,381.5 1781,324.3 1825.4,325.7 1821.8,345.4 1822.2,365.5 1842.2,373.8 1810.9,389.4 1811.6,404.4 1806.5,376.7 1733.7,321.4 1746.8,320.6 1794.8,370.9 1768.6,372.4 1793.4,376 1811.3,404.5 1811,389.5"/><polyline id="p30" points="1757,346.5 1673.2,352.5 1699.7,349.8 1810.8,365 1752.1,336.1 1688,341.8 1735,350 1771.4,365.7 1811.8,358 1667.7,333.8 1802,356.7 1766.9,357 1761.5,339 1727.3,353.1 1678,356.3 1801.5,339.3 1751.5,345.2 1695.5,340.6 1666.4,358.4 1744.6,363.8 1734.7,337.4 1732,357 1700.7,344.8 1766.9,335 1803.6,355.1 1759.7,349.2 1735.3,337.1 1752.5,348.5 1698.5,365 1773.9,352.8 1724,347.6 1766.5,344.8 1786.9,333 1659.4,360 1673.9,358.5 1749.7,365.1"/><polyline id="p31" points="1790.6,340.2 1753.5,348.5 1710.6,346.7 1697.6,355 1766.6,339.6 1750.7,342.8 1735.3,353.4 1805.5,342.9 1732.3,334.4 1787.7,353.3 1779.4,339 1742.9,342.1 1722.7,346.9 1779.3,355.2 1787.3,338 1772.7,336.6 1792.9,351.9 1812.6,338.1 1702.9,347.7 1726.9,347.2 1767.2,347.8 1804.5,348.8 1667.2,349.7 1777.7,349.6 1810.8,349.8 1723.3,363.5 1771.2,352.6 1772.6,341.1 1745.1,355 1800.5,359.8 1660.7,359 1700.1,349.4 1745.8,348.5 1713.9,343.1 1719.3,335.4 1807.1,346.2 1713.7,358.1 1753.7,353.7 1698,344.6 1746,337.4 1729.7,353.3 1741,329.5 1774.8,359.6 1775.1,354.5 1703.6,358.7 1661.1,361.5 1733.9,354.2 1813.7,336.7 1680,354.7 1725.6,348.9 1746.9,363 1717.3,344.5 1752.5,336.7 1808,354.5 1714.3,344.4 1793.8,356.2 1804.4,354.4 1776,336.4 1735.1,342.4 1708.1,339.9 1711.4,337.4 1754.8,351.9 1708.1,342.5 1685,365.8 1677.2,350.9 1752.2,354.1 1723.9,352.5 1785.6,356.9 1697.4,351.8 1705.5,352 1767.3,337.2 1691.2,341 1738.9,332.1 1678.2,337.6 1768.7,354.3 1683.8,361.4 1778.1,361.4 1734.5,343.5 1713.6,359.5 1768.9,354.7 1791.5,361.4 1813.8,354.1 1662.8,337.1 1661,343 1718,335 1711,342.5 1764,343.2 1763.6,349.1 1777.5,348.8 1748.2,376.3 1679,318.9 1759.9,319.5 1809.4,323.6 1805,383.7 1671,324.3"/></defs><use href="#p29" class="fab"/><use href="#p30" class="fab1"/><use href="#p30" class="oab1"/><use href="#p31" class="fab2"/><use href="#p31" class="oab2"/><use href="#p29" class="sab"/><use href="#p30" class="sab1"/><use href="#p31" class="sab2"/>
<defs><polyline id="p32" points="1915.5,315 1919.1,317.6 1946.8,311 1933.3,302.1 1943.4,305.6 1930.9,300.8 1923.4,293.7 1948,306.8 1943.9,318.9 1949.5,225.2 1894.1,306.3 1928.3,300.6 1908.2,305.8 1918.4,317.9 1923.5,312.9 1953.6,291.6 1924.5,282.2 1903.6,301.2 1937.7,284.7 1935.4,318.8 1945.9,320.2 1921.7,240.4 1949.2,288.8 1943.3,276.2 1949.9,297.4 1919.3,312.6 1932.2,319.2 1926.8,311.7 1954.4,319 1943.8,316.8 1951.6,313.6 1954.5,305.8 1931.9,284.5 1949.6,299.1 1947.1,297.6 1936.8,309.3 1931.5,286.3 1963.1,273.5 1956.6,248.5 1910.1,318.7 1944.7,313.2 1944.4,305.7 1945.2,295.2 1942.8,293.6 1943.7,262.5 1943.4,294.9 1936.8,309.1 1894.4,317.9 1939.3,262.9 1909.7,316 1905.8,308.8 1916.5,293.7 1926.3,319.4 1948.6,315.6 1923.6,314.5 1951.6,283.4 1948.8,311.2 1913.8,315.6 1938.3,281.9 1964.2,266.4 1910,317.1 1944,304.6 1946.1,249.7 1922.2,269.1 1918,306.4 1906.1,305.5 1895.4,298.6 1949.5,311.4 1901.7,310.6 1949.2,304.6 1961.4,317 1921.3,301.8 1956.7,250.2 1913.6,311.1 1932,316.7 1928.8,290.6 1954.4,304 1932.2,308.6 1907.7,311.5 1962.9,320.2 1957.3,315.9 1933.3,297.6 1942.4,310.4 1963.2,311.7 1955.3,312.8 1929.6,300.1 1964.2,275.9 1921.3,318.6 1944.8,303.4 1963,304.5 1954.8,302.4 1952.5,295.3 1910.1,301.7 1945.4,303.9 1946.2,300.6 1930.8,303.6 1915.1,315.3 1930.2,293.6 1907.5,292.9 1941,251.5 1928.3,319.7 1965.9,292.1 1945.1,308.9 1956.5,241.7 1948,314.2 1912,301 1923.7,305.2 1892.6,274.5 1933.9,306.6 1926.2,309.7 1960.4,315.6 1918.2,262.5 1896,318 1892.5,314.8 1939,298.3 1945.1,318.4 1917.6,301.4 1921.4,277.5 1900.1,306.2 1939.1,237.5 1947.7,289.8 1938.9,310.1 1959.2,280.7 1909.6,316.8 1900.6,315.1 1933.6,275.3 1939.4,308.6 1933.4,265.8 1937.3,283.1 1941.9,313.6 1924.5,314.8 1955,301 1930.2,252.3 1944.6,294.2 1895.8,318.1 1914.9,309 1952.1,316.5 1949.5,299.3 1961.7,317 1902.2,302.2 1921.6,313.9 1924.3,300.6 1953.7,276.2 1953.8,317.9 1892.5,311.5 1935.7,302.5 1952.2,289.4 1957.6,295.2 1918.6,297.2 1897.1,288.1 1937.9,308.1 1953,282.8 1964.3,311.5 1922.6,315.6 1905.2,317.6 1938.2,318.9 1943.9,308.2 1909.5,308.6 1956.2,299.8 1936.6,308.8 1927.9,316.8 1931,301.5 1957.7,311.6 1926.2,288.7 1921.6,296.2 1962.1,300.4 1933.8,294.4 1934.8,238.2 1943.8,320.2 1935.1,319.4 1956.8,310.5 1906.9,311.5 1947,299.1 1927.2,319.2 1925.4,310.1 1916.2,303.2 1931.2,318.9 1956.3,314.2 1904.3,317.8 1903.1,253.6 1965.1,316.6 1900.1,296.2 1899,318.5 1964.6,305.4 1937.4,316.8 1948.3,317.3 1941.3,309.8 1915.5,318.7 1953.2,274 1935.8,318.5 1918,296.2 1949,315 1965.4,253.8 1922.6,319.4 1908.7,276.2 1906.8,313 1917.4,318.1 1943.4,315.6 1917.6,318.1 1912.2,296.1 1905.7,315.4 1939,314.9 1950.9,278.2 1902.2,273.7 1934,314.6 1914.9,294.6 1946.7,317.4 1938.3,287.3 1947.5,281.5 1939,311.4 1962.2,308.2 1940.5,268.1 1900,309 1891.1,304.7 1904.8,304.3 1900.7,305.3 1904,303.6 1954.2,319.4 1940.2,311.7 1891.8,273.3 1933.1,303.7 1919.2,312.8 1926.4,304.7 1948.1,319 1930,286.5 1960.9,264.5 1913.5,288.8 1938.9,248.7 1945.6,289.1 1902.6,319.3 1931.9,283.4 1931.4,304.3 1939.3,282.6 1958.2,314.6 1921.4,268.7 1931.8,289 1936.3,272.8 1933.7,298.9 1920.8,315.5 1958.6,280.2 1940.3,319.5 1911.4,243.6 1911,306.1 1918.1,252.3 1907.8,304 1934.8,318.2 1902.8,299.5 1945.1,288.2 1935.1,314.7 1933.7,314.5 1911.8,314.9 1900.1,301.7 1932.3,283.2 1927.3,307.9 1913.6,283.4 1945.6,154.4 1918.3,190.3 1895.3,206.4 1916.9,209.9 1944.7,205.3 1959.5,202.3 1950.9,210.2 1945.6,215.4 1953,215.4 1962.9,216.1 1911.4,223.9 1911.4,227.1 1934.2,223.5 1951.9,224.9 1955.1,222.8 1961.4,223.9 1959.3,227.1 1947.1,232.3 1955.1,234.4 1915,237 1935,244.6 1956.1,246.1 1963.5,245.4 1958.3,250.3 1961.4,251.3 1895.3,252.4 1935,252.4 1941.4,253.5 1947.7,253.5 1928.7,256.6 1920.2,261.3 1957.2,258.7 1962.5,263 1829.8,277.1 1866.4,287.7 1829.9,277.1 1817.6,297.5 1866.5,288.6 1862.6,296.6 1852.7,300.5 1849.7,315.5 1854.6,316 1873.5,312.6 1895.5,252.9 1880.9,308.3 1883.8,305.3 1887.5,298.1 1888.2,317 1880.9,317 1892.6,293.7"/></defs><use href="#p32" class="fz"/><use href="#p32" class="sz"/>
<defs><polyline id="p33" points="2034.4,362.9 2011.1,367 1977.5,357.9 1996.9,324.2 1970.9,357.5 2033.2,370.4 1972.9,353.4 1981.5,341.1 1985.2,346.5 1992.9,362.4 1973.4,348.4 1970.7,361 1971.4,363.1 2015.1,346.5 1997.1,323.5 1974.6,345.1 1990.3,328.4 1976,347.9 1979.9,360.3 1976.8,335.6 2000.4,329.7 2003.7,332.5 1973.9,347.9 1989.3,349.6 2042.5,367.6 1996,309 1971.1,354.1 2007.7,351.5 1974.1,356.5 1981,351.2 1970.1,333.9 1975.6,331.2 1991.8,346.4 1973.4,354.6 2034.3,325.2 1972.7,358.2 2017.5,351.2 2002.2,359.4 1981.7,347.9 2043.5,307.7 1972.5,325.6 1983.7,352.8 1982.5,350.8 1999.5,337.1 1971.1,363.5 1972.5,349.2 1993.2,339.5 1970.3,340.1 1971,348.4 1974.9,362.4 1985.3,320.8 1987.9,315.6 2004.2,360.6 2039.9,342.1 1981.6,355.6 2034.7,348.4 1972.2,351.3 1972,329.4 1975.8,340.8 2004.9,361.7 1975.6,337 1979.2,343 1981,334.5 2043.9,350.6 2017.9,374.4 1980.8,330.2 1976.2,339.7 1979.3,330.2 1985.9,359.9 1993.7,353.1 2010.9,337 1985.8,375.4 1983.5,344.4 2013.9,365.2 1974.1,347.4 1991,338.6 1970.6,338.2 1970.9,335.8 1985.9,354.2 2012.1,304.6 1970.2,357.4 1982.7,358.4 1980.6,358.2 1992.1,351.9 1985.9,321.4 1981,356.8 1992.8,319.4 1972.6,344.5 1990.3,331 2015,341.5 1999.7,357.1 1970.9,340.3 1970.3,355.1 1976.2,363.1 1981.1,329.9 1998.8,331.5 1989.9,334.3 1998.4,337.2 1986.1,352.5 1974.1,344 1973.1,350.7 1973.1,334.4 1976.6,361.8 2030.6,326.8 1973.5,337.7 1998,358.4 1972.7,340.7 1977.9,374.4 1997.4,344.5 1971.4,349.6 1974.2,349.4 1979.8,334.1 1976.2,371.4 2043.7,331.4 1979.9,347.5 2010.5,342.4 1978.7,365.2 1979.8,344.1 1971.5,372.6 2022.1,307 1970.3,344 1987.5,337.7 2001.7,350.3 2006.4,326.5 1979.2,352.1 2003.9,343.6 1981.8,336 1984.5,321.6 1998.7,335.7 1970.7,330 1997.9,356.3 2047.1,369.4 1994.7,339.7 1970.2,348.2 1993.2,335.2 1990.8,351.6 1979.8,344.2 2050.4,336.6 1976.9,349.1 1993.3,370.3 2003,368.1 1971.2,349 2044.2,340.9 2029.5,352.9 1971.3,356.1 2015.7,358.5 2049.4,354.9 1981.1,355.7 1991.1,364.2 1993,331.4 1984.4,346.3 1983.2,343.7 1977,333 1972.4,339.9 2006.4,330.7 1977,329.4 1984.3,356.7 1999.3,349.2 1997.2,355.4 2039.1,356.4 1990.7,359.9 1981.4,340.6 2028.5,377.8 2000.3,361.9 1971.6,338 2054.7,329.1 1978.8,342.2 2002.3,338.3 1974.6,360.4 1977.2,356.8 2054.8,307.1 2044.5,317.4 1984.6,380.9 2000.1,356.3 1970.5,339.8 1972.2,351.2 1971.1,363.8 2030.2,350.2 1985.4,329.6 1970.4,331.1 1975,327.3 1972.9,329.3 2001.3,322.6 1973.7,352.2 1977.7,352.1 1970.1,336.7 2007.2,374.9 1990.2,360.1 2003.7,372.5 1990.8,339.1 2003.5,361.3 1989.1,360.4 2010.4,358.9 2004.5,377.6 1974.7,355.8 1987.7,333.1 1975.9,349.3 1972.9,342.7 1995.6,345 1976.9,332.9 1973.9,344.8 1973.1,349.1 2023.6,357 1978,341.9 2059.5,339.1 2018,320 1987.4,312.9 2007.4,353.2 1971.3,342.4 1975,348.9 2019.3,334.1 1972,356.2 1978.1,359.8 2017.9,374.9 1990,329.1 1973.8,364.9 1998.6,349.7 2029.2,343 1997.8,349.4 1980.4,335.8 1976.1,334 2000.7,332.8 2013.6,328.8 1976.8,357.4 1980.4,364.2 1981.8,364.6 1973.4,361.4 2044,312.4 1986.3,337.2 2004.7,345.6 1985.1,254.4 2017.8,266.8 1969,269.7 2126.1,257.3 1971.9,291.5 1988.7,293.7 2004.4,287.1 2014.9,285.7 2053.5,306.8 2068.8,314.5 2021.5,301 2028,307.5 2014.2,307.5 1980.7,306.1 2042.6,317.7 2051.3,338.9 2047.7,330.8 2044,324.3 2036.8,347.6 2022.2,354.9 2027.3,369.4 2025.8,376.7 2045.2,366.5 1985.8,382.8 1975.6,405.9 1999.3,403.7 1974.1,378.2 1979.4,54.5 1981.9,51.3 1998.4,98.6 1971.6,223.9 1981.5,246.5 1985.1,254.5"/></defs><use href="#p33" class="fy"/><path d="M1959.5 0.9V577.1" stroke="#1a1a1a" stroke-width="1.8"/><path d="M1603.3 349.7H2166.6" stroke="#ff1a1a" stroke-width="2"/><use href="#p33" class="sy"/>


<defs><polyline id="p34" points="1916.3,369.3 1994.7,349.6 2085.1,375.8 1976.6,447.3 1967.2,460.8 1975.6,470.3 1967.2,491.4 2046.6,550.9 2069.9,469.1"/></defs><use href="#p34" class="fd"/><use href="#p34" class="sd"/>
<defs><polyline id="p35" points="1782.5,20.9 1742.2,34.4 1716.2,99.3 1678.8,187.8 1669.1,214.6 1719.4,225.2 1784.9,205.9 1824.6,197.1 1757.4,257.9 1610.3,289.9 1636.4,308.4 1672,316.7 1707.1,300.5 1710.1,306.8 1723.8,305.8 1722,313.4 1720.1,319.2 1729,288.5 1757.4,258 1745,309.7 1754.3,308.3 1774.4,307.5 1772,316 1770.1,318.5 1788,311.9 1792.6,315.1"/></defs><use href="#p35" class="fn"/><use href="#p35" class="sn"/>
</g>
<path d="M1607.8 577.1v-13.2M1607.8 0.9v13.2M1788.2 577.1v-13.2M1788.2 0.9v13.2M1968.7 577.1v-13.2M1968.7 0.9v13.2M2149.1 577.1v-13.2M2149.1 0.9v13.2M1599.5 577.1v-7M1599.5 0.9v7M1662.1 577.1v-7M1662.1 0.9v7M1693.9 577.1v-7M1693.9 0.9v7M1716.4 577.1v-7M1716.4 0.9v7M1733.9 577.1v-7M1733.9 0.9v7M1748.2 577.1v-7M1748.2 0.9v7M1760.3 577.1v-7M1760.3 0.9v7M1770.7 577.1v-7M1770.7 0.9v7M1780 577.1v-7M1780 0.9v7M1842.5 577.1v-7M1842.5 0.9v7M1874.3 577.1v-7M1874.3 0.9v7M1896.9 577.1v-7M1896.9 0.9v7M1914.4 577.1v-7M1914.4 0.9v7M1928.6 577.1v-7M1928.6 0.9v7M1940.7 577.1v-7M1940.7 0.9v7M1951.2 577.1v-7M1951.2 0.9v7M1960.4 577.1v-7M1960.4 0.9v7M2023 577.1v-7M2023 0.9v7M2054.8 577.1v-7M2054.8 0.9v7M2077.3 577.1v-7M2077.3 0.9v7M2094.8 577.1v-7M2094.8 0.9v7M2109.1 577.1v-7M2109.1 0.9v7M2121.2 577.1v-7M2121.2 0.9v7M2131.6 577.1v-7M2131.6 0.9v7M2140.9 577.1v-7M2140.9 0.9v7M1590.3 531.6h13.2M2166.6 531.6h-13.2M1590.3 471h13.2M2166.6 471h-13.2M1590.3 410.3h13.2M2166.6 410.3h-13.2M1590.3 349.7h13.2M2166.6 349.7h-13.2M1590.3 289h13.2M2166.6 289h-13.2M1590.3 228.3h13.2M2166.6 228.3h-13.2M1590.3 167.7h13.2M2166.6 167.7h-13.2M1590.3 107h13.2M2166.6 107h-13.2M1590.3 46.4h13.2M2166.6 46.4h-13.2M1590.3 561.9h7M2166.6 561.9h-7M1590.3 501.3h7M2166.6 501.3h-7M1590.3 440.6h7M2166.6 440.6h-7M1590.3 380h7M2166.6 380h-7M1590.3 319.3h7M2166.6 319.3h-7M1590.3 258.7h7M2166.6 258.7h-7M1590.3 198h7M2166.6 198h-7M1590.3 137.4h7M2166.6 137.4h-7M1590.3 76.7h7M2166.6 76.7h-7M1590.3 16.1h7M2166.6 16.1h-7" stroke="#000" stroke-width="1.45" fill="none"/>
<rect x="1590.3" y="0.9" width="576.3" height="576.2" fill="none" stroke="#000" stroke-width="2.0"/>
<text x="1586.9" y="619.4" text-anchor="start" font-size="29">10<tspan font-size="20" dy="-12.3">0</tspan></text>
<text x="1767.3" y="619.4" text-anchor="start" font-size="29">10<tspan font-size="20" dy="-12.3">1</tspan></text>
<text x="1947.8" y="619.4" text-anchor="start" font-size="29">10<tspan font-size="20" dy="-12.3">2</tspan></text>
<text x="2128.2" y="619.4" text-anchor="start" font-size="29">10<tspan font-size="20" dy="-12.3">3</tspan></text>
<text x="1576.7" y="540" text-anchor="end" font-size="29">−600</text>
<text x="1576.7" y="479.4" text-anchor="end" font-size="29">−400</text>
<text x="1576.7" y="418.7" text-anchor="end" font-size="29">−200</text>
<text x="1576.7" y="358.1" text-anchor="end" font-size="29">0</text>
<text x="1576.7" y="297.4" text-anchor="end" font-size="29">+200</text>
<text x="1576.7" y="236.7" text-anchor="end" font-size="29">+400</text>
<text x="1576.7" y="176.1" text-anchor="end" font-size="29">+600</text>
<text x="1576.7" y="115.4" text-anchor="end" font-size="29">+800</text>
<text x="1576.7" y="54.8" text-anchor="end" font-size="29">+1000</text>
<text x="1955" y="13.4" text-anchor="end" font-size="19.4" transform="rotate(-90 1955 13.4)">terrestrial</text><text x="2160" y="345.6" text-anchor="end" font-size="19.4" class="r">M0</text><text x="1607.6" y="41.4" font-size="32.5">(c)</text>
<text x="1878.4" y="677.5" text-anchor="middle" font-size="39"><tspan font-size="25.5" dy="-16.6">12</tspan><tspan dy="16.6">C/</tspan><tspan font-size="25.5" dy="-16.6">13</tspan><tspan dy="16.6">C</tspan></text><text x="1493" y="289" text-anchor="middle" font-size="39" transform="rotate(-90 1493 289)"><tspan font-family="'Liberation Serif', 'DejaVu Serif', serif" dy="0">Δ</tspan><tspan font-size="25.5" dy="-16.6">30</tspan><tspan dy="16.6">Si (‰)</tspan></text>
</g>
<g id="panel-d">
<clipPath id="cld"><rect x="132" y="692.3" width="576.3" height="576.5"/></clipPath>
<g clip-path="url(#cld)">
<defs><polyline id="p36" points="346.9,1049.7 354.6,1052.4 349.5,1045.8 329.3,1063.9 356.7,1050.8 342.2,1051.1 367.3,1031.3 346,1061.5 357.1,1035 345.3,1049.7 361.6,1055.8 361.5,1032.5 360,1046.8 327.5,1062.4 345.4,1054.8 355.9,1029.9 355.1,1055.5 358.6,1032 340.3,1053.2 334.5,1056.6 359.4,1040.9 346.5,1052.5 358.9,1036.4 369.5,1036.3 326.2,1064.4 348.8,1044.5 350.9,1051.1 351.9,1038 328.4,1071.8 381,1016 344.8,1063 336.3,1052 336.3,1065.5 367.9,1045.2 365.2,1043.2 335.5,1058.4 340.9,1064.1 326.9,1054.2 349.5,1052.3 330.6,1084.4 349.7,1041.9 345.6,1055.8 365.3,1046.9 338.8,1051.7 349.4,1054.3 335.8,1048.7 335,1054.6 364.8,1048 365.6,1027.4 365.6,1043.6 348.2,1036.8 370.3,1034.1 362.6,1049.8 349.5,1045.7 375.6,1022.1 359.3,1044.7 350.2,1064.3 340.4,1064.7 384.2,1003.6 350.9,1040.4 337.7,1042.1 352.1,1037.2 372.7,1039.5 341,1053.2 344.6,1067.6 366.8,1039.9 348,1040 339.8,1052 319.1,1045.3 345.7,1049.4 343.6,1076.4 340.7,1070.9 361.7,1036.7 371.9,1030.8 355.4,1058.5 345.3,1059 358.1,1048 359.5,1037.8 343.3,1058.5 356,1042.6 373.5,1031.2 354.9,1034.7 365,1035 349.7,1046.1 351,1056 344.9,1058.9 356.7,1062.9 340,1050.9 323.5,1054.5 354.2,1047.2 370,1027.3 333.2,1061.5 357.1,1047.8 331.6,1052.1 357.1,1038.3 334.3,1072.5 364.6,1033.7 345.4,1069.9 344.4,1048.9 339.6,1062.9 370.5,1032.5 345.3,1044.6 360.8,1037 341.2,1055.2 334.3,1060.1 352.4,1042.3 352.3,1039.6 346,1071 352.7,1045.8 362.1,1042.7 325.9,1077.9 358.6,1039.6 359.5,1040.6 382.5,1030.5 345.2,1052.6 339.9,1055.9 354.6,1042.5 351.2,1046.9 350.5,1060.9 333,1053.6 354.1,1059.7 355.4,1044.3 335.8,1054.6 341.4,1061.1 324.9,1078.9 348.8,1055.1 351.2,1047.8 357.2,1041.2 356.9,1044.2 354.8,1058.3 328.1,1076 339.8,1065.6 367.3,1036.6 346.6,1083.4 365.6,1031.6 346.6,1057.2 355.6,1051.6 340.9,1051.5 345.3,1043.4 352.2,1046.2 367.3,1029.4 361.3,1029.1 359.8,1028.2 338.5,1063.8 349,1057.8 359.4,1046.4 358.9,1046.3 367.4,1027.1 359,1040.1 349.6,1053 356.9,1035.3 355.2,1048 343.8,1060.4 345.2,1052.1 356.8,1050.4 329.5,1069.9 353.4,1033.1 345.3,1050.8 357.5,1039.9 339.3,1071.6 341.6,1063.2 334.9,1052.7 321.3,1073.7 356.8,1051.2 342.6,1067.8 352.5,1047.7 354,1035 342.3,1051 360.8,1046.3 358.8,1037.4 345.3,1062.8 358.1,1029.6 355.8,1059.4 339.3,1069.5 357.5,1043.2 369.3,1031.9 335.7,1056.1 337.9,1054.4 351.6,1041.4 352.5,1039.8 351.3,1044.6 356.8,1041.2 340.5,1052.4 357.1,1039 346.1,1051.5 342.2,1049.8 361.1,1030.3 340.9,1052.3 333.4,1077.9 348.7,1050.6 341.6,1040.6 362.8,1055.4 354.7,1059.4 345.1,1067.3 365.5,1027.4 359,1064.5 335.4,1056.5 337,1056 352.8,1043.4 356.6,1032.6 348.3,1053.5 339.6,1060.2 354,1050 355.1,1046.4 345.8,1052.5 351.5,1052.2 366.6,1034.4 345.7,1041.1 324.6,1072.3 352.4,1042.5 336.3,1068.2 357.7,1054.6 329.7,1059.9 349.3,1057.2 346.1,1067.3 356.3,1048.8 356.6,1051.1 344.1,1061.7 350.6,1052.9 340.5,1064.9 352.7,1053.4 359,1032.7 369.2,1041 360.1,1043.3 333.3,1060.2 365.1,1044.8 343.2,1058.5 338.1,1056.4 343.7,1059.3 340.4,1056.7 337.5,1065.2 338.8,1073.3 344.1,1062.7 351,1045.7 376.2,1032.5 350.1,1057.6 339.7,1063.5 345.2,1055.2 342.7,1033.3 362.2,1050.5 343.6,1065.2 364.5,1035.9 361.1,1031.6 327.4,1079.6 357.8,1043.9 330.6,1071.3 345.3,1058.6 334.3,1050.2 362.1,1041.4 353.8,1038.3 337.5,1041.6 332.4,1071.9 372.4,1014.8 341.5,1060.9 363.9,1048.7 347.3,1054 350.8,1054.8 362,1053 344.8,1054.2 326.5,1069 319.8,1077.6 368.4,1043 371.9,1038.8 368.7,1027.5 360.7,1031.2 354.9,1048.2 350.1,1050.7 354.1,1073.7 329.1,1061 357.9,1042.6 344.7,1049.5 343.3,1042.9 348.5,1050.4 338.5,1047.9 333.5,1052.5 348.6,1048.6 351.5,1048 352.4,1055.3 347.3,1045.5 345.4,1059.1 377,1028 323.6,1063.4 355.5,1030.2 380,1028.7 363.2,1041.8 356.7,1045.4 327.5,1066.4 336.7,1057.8 348.3,1045.5 329.3,1063.9 355.3,1047.3 366,1033.3 375.3,1031.9 363.4,1033 338.3,1072.2 356.7,1038.1 342.8,1048.1 355.2,1055.7 361,1041.8 363.4,1036.5 358.5,1048.9 345.9,1049.3 343.8,1061.3 363.2,1032.2 344.9,1058.4 342.6,1050.4 365.9,1033.2 353.7,1049.4 362.1,1043.7 355.6,1046.9 334.2,1058.8 355.1,1038.6 330.4,1071.8 343.3,1060.7 342.3,1057.2 347.3,1066.7 352.3,1038.6 354.1,1039.7 346.2,1051.9 340.2,1073.1 361.6,1043.4 323.6,1058.3 357.3,1048.6 365.5,1052.5 335.1,1064.2 347.6,1069.1 361.9,1029.9 367.3,1019.7 331.8,1064.4 340.4,1060.8 340.2,1058.4 353.4,1051.6 337.3,1069.7 348.7,1065.3 340.9,1059.3 350.4,1031.3 355.9,1054.7 346,1053.3 321,1081.2 358.4,1045.6 343.2,1056.2 337.6,1054.7 355,1038.3 343.1,1063.9 341.4,1061.5 321.4,1070.1 338.8,1054.4 329.8,1065.2 344.2,1049.3 365,1034 356.5,1052 360.3,1028.6 354.8,1043.8 341.5,1064.2 348.9,1057.8 332.8,1063.6 376.7,1030.7 345.7,1044.9 369.1,1031.4 365.7,1040.9 365.1,1044.5 319.6,1081.4 367,1031.5 354.4,1045.3 338.8,1064.7 342.5,1041.8 339.3,1046.1 318.8,1070.3 349.1,1059.1 355.7,1035.5 383.1,1023.2 358.5,1038.2 334,1065.1 340.1,1068 376.5,1026.2 354.4,1043.4 367.2,1031.5 329.6,1087.1 342.8,1058.8 361.9,1042.4 347,1073.5 370.3,1019.1 347,1050.1 341.2,1051.2 335,1061.5 362,1039.6 348.5,1045.1 354.7,1043.3 345.1,1070.6 362.4,1041.1 367.5,1034 359.5,1044 356.1,1059.7 341,1070.9 354,1040.5 346.1,1055.3 348.1,1056.8 349.3,1048.7 362.6,1031.3 390,1014.7 332.4,1069.5 358.9,1044.7 347.9,1049.7 344,1049.3 363.8,1029.3 349.1,1059.8 325,1069.3 362,1043.9 354.8,1048.8 352.9,1047.2 325.1,1054.2 340.1,1051.9 357.4,1051 351,1050.8 347.3,1043.3 358.3,1041.7 331.5,1046.3 361.5,1047.1 360.7,1041.2 347.1,1062.6 328.9,1063.7 351.1,1044.2 361.3,1044.8 354.5,1049.6 354,1059.1 359,1046.5 353.2,1061.2 365,1032.5 345.2,1041.9 320.7,1056.2 334,1083.9 328.8,1052.7 347.6,1046.2 362.1,1042.9 338.3,1047.6 358.3,1033.3 347.9,1039.9 367.1,1039 341.1,1053.1 334.2,1057.6 352.9,1044.9 343.2,1048.8 382.9,1034.2 356,1056.8 366.7,1032.9 330.9,1062.3 342.3,1066.7 344.7,1050.7 368.2,1026.1 332.8,1055.9 349.3,1044.2 361.1,1057.4 332.3,1069.7 343.5,1057.7 322.4,1076.5 342.9,1061.2 346.3,1048.2 348.3,1058.8 346.8,1037 337.2,1075.4 345.4,1047.8 344.9,1064.8 346.4,1058.3 354.4,1054.3 350.9,1049.7 340.3,1054.2 344.7,1064.2 370.3,1036 336.1,1062.6 344.8,1064.4 347.5,1064.9 340.3,1065.5 358.6,1030.9 344.5,1077.5 357.1,1047.1 355.4,1041.3 347.8,1049.3 358.6,1039.2 376.8,1038.8 336.5,1061.9 351.6,1063.6 343.1,1051.4 362.1,1036.1 352.1,1048.8 326.9,1075 358.6,1041.4 343.1,1074.2 353.8,1049.6 342.5,1060.9 358.7,1047.1 327.6,1075.6 353.9,1056.4 349.8,1045.9 336.9,1066.3 328.9,1060.9 358.7,1045.8 325.7,1086.3 355.5,1041.7 359.6,1053.5 346.5,1060.6 341.9,1043.9 338.1,1059.5 363.2,1043.7 347.8,1081.3 350.6,1042.1 356.3,1031.2 360,1052.8 350.4,1044.1 338.3,1048.1 351.2,1071.6 353.9,1046.1 339.9,1068 357.9,1044.6 349.9,1050.4 333.6,1059.4 335,1065.8 350.7,1032.8 356.3,1055.7 346.1,1061.7 364.4,1038.1 360.9,1029.8 347.1,1062.1 347.4,1044.1 357.7,1030.7 334.9,1067.3 349.7,1033.5 353.3,1058 352.9,1052.8 359.8,1051.9 350.9,1062 365.2,1035.6 349.7,1048.9 355.4,1053 354.8,1043.8 351.7,1036.3 355.4,1060.8 360.2,1047.1 357.4,1035.5 368.6,1036.5 344.6,1054 349.6,1037 340.9,1067.2 380.1,1037.3 342.3,1051.7 336.6,1044.5 341,1059.1 366.2,1056.5 339.2,1051.2 346.8,1046.3 360.4,1048.7 342.7,1069.4 364.2,1056.4 369.2,1031.5 335.8,1065.6 343,1069.4 345.5,1058 336.9,1051.7 357.1,1046.7 338.7,1066.6 341.4,1065.7 362.5,1042.8 341.7,1054.6 332.8,1046.8 348.1,1042 355.8,1052.9 362.3,1033.4 352.6,1060.7 320.4,1066.6 343.1,1058.9 352.6,1040.1 359.8,1025.8 329.8,1071.5 323.5,1079.2 329.2,1053.4 353.4,1046.6 357.2,1055.2 344.8,1057.2 344.6,1049.3 337.9,1046.2 360.5,1043.3 350.5,1039.7 330.4,1071.9 355.5,1052.9 324.6,1057.9 354.7,1039.6 338.3,1073.3 346.7,1046.3 359.1,1049.1 355.7,1037.7 336.8,1065.1 353.4,1038.2 354.3,1039.4 359.5,1049.3 346.3,1055 337.8,1059.6 346.1,1056.7 343.2,1065.6 342.4,1052.6 356.5,1066.7 343.8,1066.5 364.5,1034 353.5,1055.3 361.3,1045.6 360,1041.5 337.2,1072.7 355.1,1039 359.4,1039.1 376.5,1037.3 339,1074.5 360.4,1046.3 354.6,1061.9 359.6,1045.4 365.6,1035.6 351.4,1051.9 362.1,1023.5 352.8,1062.3 356.7,1040.3 341.9,1049.9 366.8,1029.5 350.5,1053.7 358.1,1048.1 370.2,1024.7 348.3,1050.5 350.4,1044.6 353.3,1050.3 324.3,1061.4 348.3,1047.5 352.4,1057.5 344,1053.4 356.2,1042.7 333.4,1084.1 343.9,1054.5 350.6,1060.2 328.1,1061.7 357.3,1042.4 353.8,1039.5 343.2,1064.7 348.3,1050 330.7,1063.3 350.5,1059.4 348.7,1062.8 335.6,1059 338.9,1069.3 353.8,1062.5 343,1061.7 364.1,1043.1 347.7,1054.4 354.7,1040.4 329.2,1061.3 357.3,1042.1 332,1074.2 359.8,1041.4 340.4,1041.8 330.7,1068.8 359.2,1028.9 346.5,1064 380.9,1028.7 343.9,1060 348.7,1044.5 330.8,1067.8 381.8,1020.5 343.7,1045.2 352,1050.9 328.9,1059.4 326.7,1070.1 356.7,1057.6 348.9,1049.9 345.2,1048.3 346.6,1058.7 373.8,1047.5 352.4,1041 359.8,1044.7 342.8,1040 340.1,1051.3 346,1055.9 349.7,1043.6 349,1051.6 358.8,1050.6 364.2,1029.1 336.8,1063.9 353.7,1039.5 360.5,1050.5 350.8,1058.3 348.8,1067.2 356.4,1049.3 359.9,1051.7 366.9,1040.9 347.5,1046.6 357.8,1035.6 336.8,1065.8 367.6,1028.9 370.3,1032 342,1055.8 335.2,1060.1 355.6,1033.8 363.2,1043.1 371.4,1037.4 366.6,1034.8 369.4,1039.2 351.7,1055.9 365.3,1039.1 349.3,1052.1 331.7,1042.3 333.6,1069.4 357.4,1030.6 358,1043.3 356.7,1054.7 344.5,1045 364.3,1053.9 365.3,1037.9 356.8,1043.9 339.8,1080.4 358.8,1042.7 363.3,1041.7 359,1038.6 360.2,1039.2 351,1038.9 346.2,1058.7 351.5,1039.8 359.8,1031.5 354.8,1053.1 353.4,1055.6 358.5,1056.5 334.3,1065.3 337.1,1084.8 346.6,1068.8 342.7,1057.5 340.7,1057.2 336.7,1071.8 341.5,1045.8 354.9,1033.5 355.1,1053.6 336.8,1065 348.3,1054 387.6,1010 378,1036.5 341.6,1047.5 364.5,1046.8 364.2,1047.2 338.7,1059.7 356,1039.4 332.9,1073 353.2,1038.4 353.2,1043.7 360.5,1055.5 351.3,1036.4 342.3,1063.7 344,1074.6 338.8,1064.5 368.4,1044.1 320.3,1061.5 336.8,1071.8 344.9,1057.2 352.9,1052.9 337,1060.6 354.3,1038.8 354,1051.6 356.6,1048.7 338.4,1063.2 361.4,1020.1 343.5,1076 352.3,1058.7 349.1,1059.7 348.5,1040.1 347.7,1069.9 349,1058.4 365.5,1034.8 341.9,1059.8 350.6,1041.9 351.4,1046.8 357.5,1043.2 348.7,1034.2 351,1065.4 349.6,1042.7 360,1044.3 351.8,1055.7 333.7,1057.6 353.7,1048.7 369.6,1031.7 367.6,1035.3 352.8,1049.7 368.4,1039 350.2,1038.9 349.2,1073 353.6,1053.1 333.4,1076 339.6,1057.7 340.3,1054 358.2,1041.9 341.1,1069.9 355,1052.5 352.9,1046.7 350.9,1052.3 366.1,1042.8 349.2,1052.1 350.7,1051.5 351.2,1051.1 363.5,1040.8 339.9,1055.6 343.1,1069.5 371.2,1023.3 350.2,1069.2 341.3,1054.3 347.4,1057.5 347.8,1057.2 343.9,1061.4 366,1038.4 355.5,1046.6 350.1,1052.2 357.3,1035.2 341.6,1068.3 331,1044.2 357.8,1041.3 340.9,1057.4 367.9,1032 340.3,1062 346.6,1051.9 352.4,1056.7 331.2,1058.4 343,1062.9 350.3,1052.9 347.8,1045.5 371.4,1018.8 346.7,1053.4 336.1,1045.9 353.7,1035.4 372.6,1022.4 345.3,1052.3 356.9,1063.5 350,1046.2 351.6,1037 332.3,1065.5 319.7,1071.9 341.6,1057.7 393.3,1003 348.6,1047.2 351.5,1043.6 333.1,1043.5 361.1,1048.7 354.8,1065.4 365.8,1001.4 361,1003.2 358.2,1003.9 364.3,1004.1 351.6,1006.1 355.9,1012.4 359.1,1012.7 343.3,1014.3 350.6,1018.7 352.4,1020.5 366,1014.7 328.6,1026.7 337.4,1026.1 327.5,1030.8 338.7,1030.1 330.3,1032.4 337.9,1032.3 328.3,1035.3 317.2,1036.8 322,1037 329.7,1038.4 332.8,1039.6 318.9,1040.5 322.2,1040.5 308.7,1043 326.5,1043.8 358.6,1022.4 360.9,1022.4 363.2,1022.3 355,1023.8 355.3,1026.2 358.8,1025.7 389.7,1007.8 387.4,1008.7 389.9,1009.9 393.5,1011.9 379.3,1007.1 375.4,1010.3 381.2,1011.4 380.4,1014.5 380.6,1018.2 384.1,1017.6 385.1,1020.5 385,1022.4 381.5,1023.2 383.4,1026.5 318.6,1047.6 314.1,1051.6 324,1051 314.9,1060 306,1091.9 341.9,1086.5 335.3,1082.2 339.7,1082.8 344.3,1082.2 326.5,1044.5 305,931.9 249.6,1021.5 308.5,1042.8"/></defs><use href="#p36" class="fm"/><use href="#p36" class="sm"/>
<defs><polyline id="p37" points="360.7,1020.6 341.9,1051.3 357.6,1028.8 352,1047.8 366.5,1028.3 353.9,1048 356.7,1039.7 351.6,1043.3 340.4,1051.1 360.5,1044.8 368,1018.5 361.5,1037.4 348.6,1045 346.8,1049.3 354.5,1044.4 356.6,1039.6 344.2,1046 349.5,1042.4 356.8,1041.3 363.5,1029.7 354.4,1040.6 362.3,1025.5 346.5,1045.1 349.2,1043.1 352.6,1039.2 352.1,1041 358.5,1028.9 352,1037 355,1032.9 351.9,1043.4 361.5,1044.5 343.9,1053.6 371.4,1021.8 375.3,1021.1 357,1031.6 353.6,1033.7 377.3,1021.7 345,1051.6 351.1,1045.8 351.2,1051.9 341.1,1058.3 375.3,1033.4 366.3,1032.1 355.1,1041.8 358.1,1033.4 366.2,1029.4 357.2,1027 358.9,1031.1 363.9,1036.1 359.6,1055.5 366.4,1020.9 357.5,1030.6 357.2,1035.3 351.3,1044.8 367.5,1018.8 354.3,1036.7 334.2,1065.8 367,1028.3 360.7,1018.9 358.2,1040.1 358.3,1032.7 338.6,1058.3 354.8,1040.7 340.5,1059.6 340.9,1048.9 369.1,1031.4 344.6,1065.8 357.2,1035 367.1,1028.7 357.1,1035.6 373.7,1017.9 357.3,1042 369,1017.5 343,1055 363.8,1028.6 363.5,1033.1 357.6,1031.7 350.9,1034.4 360.1,1038 347.6,1054.5 365.5,1022.9 356.9,1035.2 339.5,1064.8 359.9,1035.7 353.1,1038.2 356.8,1036.3 346.8,1063.8 353.9,1035 365.9,1024.8 364.8,1029.7 352.6,1044.7 356.8,1041.7 356.3,1056.4 333,1069.6 348.2,1050.8 367,1022.7 350.7,1041.2 351.5,1044.7 346.6,1045.4 379.4,1022.5 350,1045.3 371.6,1016.6 365.5,1027.2 338.5,1066.3 357.5,1031 348.5,1055.9 349,1037.1 370.8,1033.8 364.1,1026.8 337.4,1060.7 362.8,1029.7 356.8,1037.2 338.9,1059.7 356.5,1034 366.1,1027.2 358.6,1034.3 348.5,1039.3 363.5,1033.3 350.9,1039.8 347.4,1050.3 350.8,1038.4 331.6,1025.1 351.9,1023.1 356.1,1022.3 365.1,1020.8 366.5,1021.8 345.9,1031.3 335.2,1034.9 341.2,1034.2 343,1034.9 338.9,1040.7 340.5,1042.7 362.1,1026.2 361,1029 382,1004.1 378.8,1006.1 387,1006.5 383.8,1007.2 378.4,1009.9 380.5,1031 337.5,1044.7 327.2,1070.9 337.1,1077.9 346.6,1081.3 329.8,1075.9 334.2,1056"/><polyline id="p38" points="345.5,1052.3 363.3,1027.2 341.5,1040.8 336.8,1054.2 353.7,1045.4 357.8,1041.2 353.3,1042 352.7,1052.6 350.3,1044.4 366.1,1031.1 360.7,1035.2 347.2,1049.3 347.4,1051.2 366,1029.1 378.8,1004.3 353.8,1036.1 360.3,1034.5 345.8,1044.5 336,1061.2 351.9,1046.5 344.2,1055.5 376.5,1007.1 375.7,1012.8 386,1028.7"/><polyline id="p39" points="368.4,1025.7 354.6,1034.4 363.4,1026.2 356.2,1044 358.9,1037.9 355.1,1036.5 333.5,1065.8 377.5,1003.3 346.5,1055 362.2,1034 362.5,1033 370.9,1025.4 336.2,1062.6 351.1,1042.1 362.7,1039.6 366.9,1032.2 368.7,1016.5 361.5,1027.9 355.9,1048.3 363.8,1029.1 340,1056.2 350.8,1046.6 349.4,1052.5 363.5,1034.8 366.4,1024 357.2,1044.2 348.6,1051.1 367.7,1026 362.3,1032.6 343.7,1056.6 374.2,1019.1 350.1,1044.9 335.6,1064.5 364,1021.8 352.2,1054.1 344.4,1047 350.1,1053.6 357.8,1031.2 361.5,1025.3 353.6,1053.1 346.9,1046.2 361.1,1031.5 359.8,1030.3 352.4,1042.7 366.8,1028.3 364.5,1032.3 343.9,1053.8 359.1,1038.6 369.1,1015 354.1,1042.1 373.5,1012 370.8,1014.2 335.1,1047.2 327.8,1050.2 331.6,1105.4 352.5,1073.3 337.9,1071.8"/></defs><use href="#p37" class="fab"/><use href="#p38" class="fab1"/><use href="#p38" class="oab1"/><use href="#p39" class="fab2"/><use href="#p39" class="oab2"/><use href="#p37" class="sab"/><use href="#p38" class="sab1"/><use href="#p39" class="sab2"/>
<defs><polyline id="p40" points="379.9,1068.8 342.4,1094.7 359.1,1081.7 398.7,1082.4 377.5,1079.9 356.4,1084.1 359.7,1087.9 367.6,1070.2 364.8,1084.1 380.5,1048.3 381.5,1073.6 379.6,1085.5 369.2,1072.2 397.3,1080.1 358.9,1087.1 365.7,1081.2 423.6,1079.3 411.9,1074.9 374.7,1074.2 362.8,1076.1 422.1,1083.3 354.9,1081.4 391.8,1080.1 393.9,1051.7 339.3,1094 376.7,1084.3 364.4,1068.7 362.7,1071.9 425.7,1086.1 411.3,1089.1 367.5,1068 387,1091.8 420.3,1079.4 343.1,1094.7 360.9,1073.7 366.6,1070 426.5,1083.8 351,1090.8 361.6,1078.6 383.4,1075.6 360.2,1083.3 360.3,1077.3 380.6,1085.3 437.5,1071.9 357.9,1083.6 388.5,1040 355.7,1085.1 383.5,1058.2 367.8,1061.6 366.7,1069.1 364.4,1073.1 357.7,1075 369.7,1076.5 355.1,1078.1 356.2,1082.4 373.8,1077.1 391.8,1062.8 367.1,1080.7 420.7,1079.4 367.7,1082.3 363.3,1079.8 370.2,1061.6 351.2,1088.5 365.1,1075.5 400.4,1079.1 348.4,1085.1 361.4,1070.6 386.3,1074.2 391.8,1083.3 360.8,1077.2 380.5,1087.3 401.2,1062.7 378.1,1050.4 399.9,1077.6 376.1,1066.9 364.6,1092.5 369.6,1091.2 350.1,1082.9 373.5,1085.4 353.8,1079.7 363,1074.9 393.8,1084.2 362.3,1077.6 404.8,1083 402.5,1077.9 400.1,1063.9 365.2,1077.4 399.5,1076.8 395.9,1075.7 349.6,1093.7 406.8,1086.6 378.6,1072.8 356.2,1082.2 377.5,1070.4 367.8,1073.9 424.6,1083.1 374.9,1074.1 374.8,1069.5 416.8,1082.6 351,1087.2 358.8,1073.2 370.7,1076.8 392.3,1034.4 367.2,1065.5 362.4,1079.8 372.4,1078.8 379.1,1073.5 363,1086 378.5,1080.8 370.5,1080.3 349,1084 369.9,1071.1 366.4,1078.1 371.5,1092.6 363,1072.5 388.5,1035.5 393.6,1047.9 371.2,1082.1 375.3,1068.4 358.3,1073.1 366.2,1079.2 397.2,1059.8 391.8,1046.6 433.8,1085.3 360.6,1088.8 413.8,1073.7 358.1,1078.2 366.9,1073.6 409.2,1016.1 409.8,1023.8 430.5,1035.4 438.2,1039.9 427.2,1042.7 414,1042.7 416.2,1043.8 400.2,1043.2 386.7,1035.3 388.5,1036.5 385.3,1037.5 383.1,1039.9 380.8,1041.6 383.8,1041.7 376.7,1044 395.7,1045.8 422.8,1046.4 416.2,1044.2 404.5,1057.4 385.7,1062.3 390.3,1066.3 395.5,1067.6 419.8,1097.9 441.7,1112.9 374.9,1091.7 392.4,1092.4 351.4,1080.3 347.9,1085.5 351.4,1085.3 352.3,1087.7 351.7,1090.2 349.5,1091.8 349,1093.6 350,1097.1 365,1092 474.9,1034.8 444.4,1053 404.3,1057.4 454.8,1072.5 442.3,1112.4"/></defs><use href="#p40" class="fz"/><use href="#p40" class="sz"/>
<defs><polyline id="p41" points="369,1040.2 349.2,1048.1 361.2,1046.1 357.2,1055.7 351,1047.4 352,1051.8 333.5,1068.3 362.2,1043.8 344.3,1055.6 343.6,1054.3 362,1051.5 355,1053.5 351,1052.7 362.2,1042 353.9,1051 365.4,1023.1 343.3,1061 346.2,1058.8 351.4,1042.4 351.2,1054.2 351.5,1055.8 369.6,1044.2 346.5,1059.4 357.7,1049.6 346.9,1054.7 360.1,1040.1 345.5,1053.5 359.7,1040.9 350.6,1054.4 344.5,1055 352,1059.5 350.2,1064.1 384,1051.2 342,1058.6 353.6,1054 342.6,1054.7 350.6,1055.7 362.6,1045.3 348.7,1057.5 347.4,1057.3 360.7,1045.7 344.7,1060.1 347.6,1051.6 353.7,1050.4 352.7,1057.4 343.8,1061.1 349.3,1051.5 368.7,1026.5 340.9,1066.9 341.4,1069.1 361,1049.9 360.7,1039.2 351.8,1053.8 360.7,1047.5 423.8,1026.9 350.1,1041.5 359.5,1044.5 362,1046.7 336.2,1077 358.1,1049.5 345.8,1052.1 359.1,1026.3 353.1,1043.8 362.8,1037.3 359.4,1049.9 353.9,1048.6 354.2,1050.4 348.8,1043.4 355.7,1045.8 349.4,1060.2 357.8,1052 343.1,1063.1 356.3,1052.8 351.5,1063.9 356,1055 353,1052.9 352.1,1052.5 344.7,1062.8 334.3,1063.9 348.8,1054.4 325.4,1074.6 353.3,1045.9 347.5,1063.1 332.6,1072.5 333.5,1074.3 361.9,1035.5 340.9,1064.5 358.8,1051.7 351.1,1048 354,1048.9 353.8,1059.4 375.2,1021.2 356.2,1044 371.1,1031 353.4,1057.8 352,1058.9 357,1046 362,1041.7 349.6,1056.7 354.2,1057.2 353.4,1049.4 350,1057.9 353,1062.3 351.6,1076.8 356.4,1062.6 352.4,1056.1 351.6,1059 355.4,1061.5 356.1,1055.7 357.6,1061.8 339.1,1066.3 346.6,1052.6 353,1042.1 345.1,1063.8 351.9,1045.1 345.7,1055 361.8,1054.1 350.1,1050.7 346.5,1064.7 351.4,1060.2 368,1032.2 337.4,1067.8 351.1,1052.4 342.7,1067.1 359.6,1048.4 340.6,1065.5 363,1043.4 357.3,1048.5 368.9,1047.9 359.6,1040.6 358.6,1052.8 349,1051.3 351.4,1046.3 353.5,1058.4 354.7,1052.1 350.1,1054.8 340.6,1062.4 353.3,1055.5 356.9,1052.6 374.4,1043.6 349.9,1038.2 349.7,1058.7 356.3,1048.8 355.4,1050.5 361.8,1046.6 359.8,1050.7 360.1,1020.8 341.6,1057.7 353.1,1044.4 355.7,1055.9 369,1035.5 345.5,1055.8 324.4,1072.5 361.4,1050.9 354.8,1043 344.5,1064.7 343.3,1061.5 365.2,1041.5 352.7,1062.1 355.1,1052.3 356.1,1048.8 347.6,1044.8 346.3,1066.5 345.6,1043.9 346.5,1075.6 344.8,1053.2 355.6,1053.9 354.6,1050.8 352,1062 358.8,1040.7 341.6,1012.5 364.3,1009 363.9,1017.5 320.8,1038.7 343.2,1041.6 333.5,1044 344.3,1043.8 407.6,1027.9 394.2,1029.7 392.8,1036.2 405.8,1038.2 425.8,1038 390.8,1043.8 384.5,1034.7 386.4,1037 382.3,1024 383,1025.4 379,1012.8 377.1,1015.5 390.8,1044.5 399.4,1045.6 395.5,1081.7 418.3,1080.1 379.5,1088.5 380.2,1090.9 394.8,1089.6 372.5,1077.6 371.1,1063.9 370.2,1065 326,1058.2 328.4,1058.8 330.9,1075.1 318.3,1071 329.8,1062.5 355.6,1074.3 360.5,1072.9 365.1,1069.9 358.3,1066.9 342.4,1072.4 527.5,1049.7 570.4,1038.2 532.6,1087.5"/></defs><use href="#p41" class="fy"/><use href="#p41" class="sy"/>
<path d="M345.4 692.3V1268.8" stroke="#1a1a1a" stroke-width="1.9"/><path d="M132 1055.3H708.3" stroke="#1a1a1a" stroke-width="1.9"/><rect x="174.7" y="905.8" width="320.2" height="320.3" fill="none" stroke="#000" stroke-width="1.5"/>
<defs><polyline id="p42" points="259.4,1131.7 329.7,1087.5 280,1109.4 295.2,1161.1 319.2,1095.8 276.3,1108.2 264.8,1127 258.9,1143.2 225.7,1141.3 227.7,1145.9 333.6,1086.4 209.6,1150.9 297.9,1127.3"/><polyline id="p43" points="195.9,1111.4 204.5,1113.8 210.6,1115.2 212.9,1119.6 195.9,1129.6 197.7,1128.4 202.9,1127.8 208.2,1126.7 194.1,1132.5 215.3,1118.5 220.5,1119 251,1170.3 262.1,1122.3 263.9,1120.3 316.8,1150.7 249.2,1125.5 271.5,1113.5 260.6,1127.8 285.7,1123 205.6,1168 270.6,1127.3 256.2,1127.3 366.5,1044.5"/><polyline id="p44" points="318.9,1100.6 286.7,1120 253.8,1123.8 274.4,1142.5 262.5,1129.6 293,1114.8 213.7,1146.7 184.5,1216.1 260.2,1121 308.2,1093.7 274.6,1145.1 241.5,1146.7 279.4,1128.6 255.2,1159.3 232.7,1133.8 268.7,1155.5 295.1,1095.9 315.3,1104.4 267.2,1135.9 240.4,1178.1 252.4,1134.3 327.5,1106.2 247.7,1136.8 273.8,1118.2 234.7,1141.1 281.7,1119.3 238.3,1130.9 265,1125.1 281.5,1108.3 268.2,1143.5 235.7,1133.3 268,1116.6 261.4,1126.4 274.5,1128.9 270.2,1164.9 203.2,1174.1 321.7,1142 251.2,1146.1 236.5,1137.8 239.9,1154.9 334.4,1092 231.9,1146.2 288.3,1099.8 315.5,1084.5 215.3,1153.9 252.4,1128.9 265.4,1131.4 265.7,1144.5 197.7,1162.3 249,1184.6 262.1,1126 278.5,1116.2 203.3,1192.4 309.4,1124.4 259.2,1142.4 253.2,1128.8 274.6,1129.9 209.1,1154.9 287.9,1105.5 229.5,1171.9 210.8,1155.6 271.4,1162 247.7,1135.5 264.1,1139.7 217.1,1180.6 236.3,1148.9 285.2,1161.5 236.1,1159.9 293.3,1162.8 242.1,1141.2 217.3,1170.3 285.3,1161.5 222.3,1166.7 257.1,1121.5 265.7,1121.1 206.3,1154.9 232.9,1138.7 237.3,1191.4 270.1,1131 259.4,1154.6 339.7,1069 323.6,1079.3 269.7,1134.1 329.7,1087.1 224.3,1153.8 216.9,1176.6 221,1146.3 252.8,1160.5 229.1,1136 237.9,1139.3 241.2,1149.3 310.6,1120.3 193.3,1167.8 212.6,1146.1 305.3,1101.7 226.1,1148.4 308.3,1090.8 268.9,1125.6 271.9,1127.8 251.3,1134 187.4,1183.3 286.5,1112.2 244.5,1134.8 226.2,1156.1 225.9,1161.2 219.6,1148.9 264.2,1128.6 318,1085.2 286.6,1122.3 258.7,1136.2 248,1147.7 252.6,1131.7 239.5,1169.7 290.5,1108.7 258.7,1134.9 233.2,1145.5 286.9,1120.5 223.5,1144.1 269.4,1127 297.3,1119.7 250.2,1125.2 277.2,1171.3 298.2,1127.7 249.4,1123.5 303.5,1094.5 216.5,1174.3 228.8,1143.9 258.9,1126.9 227.4,1147.9 283,1141.1 320.5,1088.6 261.3,1120.6 226.1,1141.3 234.9,1162.2 254.6,1163.9 235.5,1132.7 245.8,1134.7 287,1131.3 311.4,1128.5 230.5,1149.3 211.3,1148.7 253.6,1133.6 275.4,1107.7 302.5,1093.7 277.9,1125.2 286.4,1178.6 232,1151.3 274.6,1129.9 212.3,1191.4 280.5,1139.4 313.8,1090.7 313.3,1100 316.4,1116.9 258.4,1141.3 330,1086.6 245.5,1149.2 277,1110.5 287.4,1100.5 252.3,1144.7 248.7,1130.8 258.2,1118.6 266.6,1125.4 211.8,1167.9 226,1182.6 281.3,1106.3 266.2,1163.2 192.2,1197.2 321.7,1085 239.5,1134.3 238.3,1151.3 228.3,1151.8 205.1,1164.8 250.5,1127.7 258.3,1135.7 211.9,1186.5 318,1084.5 260.3,1119.2 229.8,1139.5 239.4,1142 289,1136.6 271.8,1114.2 285.6,1126.8 263.3,1130.5 313.7,1091.4 321.4,1101 243,1135.3 303.3,1100.5 219.8,1142.8 299.1,1095.1 260,1117.9 272.4,1124.8 305.2,1104.5 308.2,1114.7 239.5,1132.5 229.3,1160.6 232.4,1143.5 230.9,1165.2 228,1160.6 250.9,1140.2 241.1,1136.9 274.9,1188.4 214.1,1148.3 312.5,1091 294,1106.6 254.2,1125.8 314.1,1118.8 341,1072.9 253.7,1128.3 252.8,1201.3 222,1149.6 223.7,1197.6 196.2,1177.7 265.5,1175.6 242.5,1162.6 310.5,1093.1 270,1115.8 225.8,1151.4 256.5,1200.6 224.1,1179.8 264.3,1122.7 265.5,1117.2 298.6,1111.6 289.4,1100.5 250.9,1134.7 268.1,1114.2 264.9,1120.4 274.8,1134.8 239.3,1154.5 207.1,1149.5 303,1096.7 221,1152.8 280,1147 246.5,1136.3 196.6,1170.8 234.5,1133.2 227.3,1192.7 253.5,1130.1 302.5,1092 240.6,1196.7 270.1,1152.6 260.7,1128.1 265.3,1133.6 189.6,1172.5 292.3,1113.1 230.6,1144.6 242.8,1135.8 258.8,1122.3 188,1162.2 249.5,1127.9 285.1,1107.2 291.6,1108.2 249.4,1147.8 292.8,1111.9 241.4,1145.1 267.3,1139.4 258.7,1129.7 222.8,1172.1 282.6,1118.7 240.2,1149.2 252.5,1133.8 287.1,1109.2 233.3,1137.3 336.1,1096.3 279,1106.8 274,1119.3 299.1,1096.6 213.8,1165 288.9,1106.7 293.2,1117.6 251.1,1156.3 290.5,1100.7 264.6,1121.6 243.9,1153.5 260.4,1162.5 266,1117.7 225.8,1167.2 255.3,1125.8 294.9,1095.8 324.4,1086.2 258.1,1131.4 255.8,1168.5 258,1142 251.8,1126.7 227.3,1162.1 219.6,1143.8 236.5,1134.8 254.7,1159.2 290.2,1203.5 310.2,1088.8 301.3,1106.8 245,1137.2 250.9,1201.9 262.6,1125.3 261.9,1138.1 256.5,1145 266.1,1129.2 278.2,1116.2 343.8,1081.6 282,1128.8 241.8,1141.2 258.6,1118.5 229.7,1144.7 237.6,1137.6 210,1156.9 227.5,1141.2 293.8,1160.6 297.4,1128.7 285.2,1107.7 278.8,1112 264.4,1130.1 255,1133 245.8,1147.2 234.3,1146.4 227.8,1161.7 199.2,1197.6 276.6,1120 223.2,1140.5 281,1108 252.6,1155.5 225.3,1161.6 234.8,1141.4 215.8,1075.3 280.4,1072.7 231.7,1100.5 180.6,1195.9 191.8,1181.2 214.4,1192.4 227.6,1196.3 233.4,1200.6 238.1,1200.4 240.5,1200.6 243.8,1213.7 249.3,1193.9 265.1,1204.7 265.7,1208 276.3,1200.2 276,1205.3 292.9,1173.3 303.3,1183.6 294.8,1194.7 328.7,1167.5 332.6,1173 326.5,1124.7 337.6,1133.7 335.3,1174.2 344.1,1114.9 344.1,1103.2 337.6,1093.8 315.7,1064 307.4,1070.1"/><polyline id="p45" points="320.6,1078.6 276.9,1103.5 209.4,1151.2 230.3,1126.1 301.4,1082.2 280.6,1086.1 293.3,1087.8 289.5,1094.1 274,1113.3 227.8,1129.8 213.8,1133.9 274.6,1106.2 284.4,1085.6 286,1090.1 318.2,1066.1 281.9,1098.2 290.1,1090.8 309.8,1075.4 253.2,1107.8 254.3,1105.2 278.1,1096.5 318.4,1075.5 219.1,1134.6 275.4,1101.3 285.5,1097.8 277.2,1103 300.1,1083.7 204,1141.4 314.4,1071.8 242.9,1116.4 252.2,1109.4 307.4,1083.3 289.4,1099.3 265.3,1112.7 224.9,1133.3 233.3,1123.3 256.1,1107.2 280.9,1092.5 288.1,1088.8 242.2,1126.3 211.4,1136.3 272.3,1102 291.6,1093.9 247.9,1112.9 281.6,1102.1 303.2,1091.7 232.7,1131 244.5,1124.6 286.3,1098.1 261,1107.2 221,1140.1 244.9,1126.8 295.3,1093.6 231.1,1124.3 257.1,1107 247.2,1124.1 315,1072 246.7,1117.4 256.4,1107.7 250.2,1108.7 252.5,1114.3 249.6,1120.6 299.3,1081.7 285.5,1095.8 307.2,1076.4 229,1126.6 232.4,1125.3 229.2,1126.2 272.1,1100.1 243.7,1109.1 290.3,1079.9 310.3,1082.5 323.9,1068.2 321.9,1067.1 299.1,1092 254.8,1117.2 288.7,1100.5 256.5,1108.2 255.7,1114.7 231,1129 227.6,1138.4 292.8,1091 318.1,1074.3 240.1,1114.9 233.2,1124.4 291.8,1084.5 255.2,1110.1 261.5,1112.7 310.2,1080.4 288.4,1091.9 304.9,1080.2 303.2,1085 296,1083.8 279.7,1104.6 228.3,1133.1 261.2,1109.2 281.7,1099 245.9,1122.1 256,1117.8 267.2,1109.3 272.8,1093.1 286.6,1104.4 259.7,1115 266.5,1102.3 224.4,1125.6 279.8,1100.9 252.5,1117.3 222.2,1129 231.7,1138.3 220.7,1130.4 323,1080.2 241.2,1118.4 233.2,1119.7 291.4,1093.7 255.1,1101.7 299.3,1087.5 232.1,1119.9 281.8,1105.4 311.8,1073.9 296.2,1088.5 221.9,1131.4 321.8,1068.6 286.2,1094 267.1,1112.6 289.7,1093.2 284.1,1100.5 218.3,1141.1 278.4,1089.7 252.1,1125.7 207.2,1139.2 313.6,1079.7 230.4,1127.1 283.1,1094 297.5,1087.5 206.9,1148.2 273.4,1109.9 293.8,1098.3 262.9,1106.8 246.4,1106.5 249.8,1116.5 249.6,1114.6 251.8,1121.8 320.8,1077.1 257.7,1102.8 273,1100.1 270,1102.8 278.2,1095.6 213.8,1139.4 261.7,1106.1 230.1,1126.9 214.1,1141.6 263,1108.9 312.7,1074.9 294.6,1089.7 231.3,1130.3 254.3,1108.4 271.1,1100.4 211.3,1144.4 237.6,1125.6 280.9,1097.1 253.9,1113.9 319.5,1070.6 302.7,1083.5 273.9,1101 206,1149.7 274.3,1103.2 231.2,1125 200.3,1143 320.7,1082 259.7,1113.5 259.8,1107.5 253.6,1113.2 268,1108.6 287.1,1096.3 285.3,1093.7 228,1128.9 301,1086 289.3,1089.1 253.7,1106.8 280.1,1101.6 301.4,1078.9 257.8,1114.2 301,1084.4 279.3,1096.2 307.6,1079.2 263.5,1107.5 239.3,1123.1 281.4,1091 310.6,1082.8 271.3,1105.3 256.8,1105.9 271.4,1101.7 286.1,1101.6 285.1,1092.1 263.8,1114.2 208.4,1140.6 290.4,1085.8 307.4,1085.7 176.5,1160.1 191.6,1150.7 194.7,1151.9 193.6,1160.7 194.7,1164.2 202.4,1156 204.1,1158.9 204.7,1140.8 208.8,1137.8 212.9,1146 342.1,1055.7 336,1059.7 332.9,1064.2 326,1066.6 330.6,1071.3"/></defs><use href="#p42" class="fx"/><use href="#p42" class="ox"/><use href="#p43" class="fx0"/><use href="#p43" class="ox0"/><use href="#p44" class="fx2"/><use href="#p44" class="ox2"/><use href="#p45" class="fx1"/><use href="#p42" class="sx"/><use href="#p43" class="sx0"/><use href="#p44" class="sx2"/><use href="#p45" class="sx1"/>
<defs><polyline id="p46" points="397.5,1001.6 415.1,1005.6 429.4,965.6 432.5,963.8 435.4,967.9 618.5,713.2 611.2,766 616.4,768.6 560,783.6 521.4,811 602.7,825.6 560.9,843.8 636.9,886 523.5,975.1"/><polyline id="p47" points="414.9,974.6 425.8,988.8 436.2,1006.6 454.6,961.1 702.6,721.3 389.4,855.2"/></defs><use href="#p46" class="fc1"/><use href="#p46" class="oc1"/><use href="#p47" class="fc2"/><use href="#p47" class="oc2"/><use href="#p46" class="sc1"/><use href="#p47" class="sc2"/>
<defs><polyline id="p48" points="318.5,990.4 306.3,999.1 318.9,1003.1 349.5,1028.9 350.5,1033.9 357.7,1042.4 308.3,919.6 286.6,1024.6 268.1,1028.3 275.1,1031.5"/></defs><use href="#p48" class="fd"/><use href="#p48" class="sd"/>
<defs><polyline id="p49" points="398.3,1026.9 412.1,1025.7 387.2,1041.7 380.3,1042.8 378.8,1048.6 381.7,1051.2 372.4,1052.6 392.7,1053.1 377.1,1056 372.4,1057.6 374.3,1060.1 371.6,1061.4 366.7,1059.2 373.1,1067.2 395.9,1077.5 434.7,1074.3 413.5,1119.2 360.9,1069.8 348.4,1086.8 366.5,1059.2 401.2,1127.5 375.4,1135.7 453.8,1148.4 361.5,1164 582.8,1048.2 542.7,1089.9"/></defs><use href="#p49" class="fn"/><use href="#p49" class="sn"/>
</g>
<path d="M238.7 1268.8v-13.2M238.7 692.3v13.2M345.4 1268.8v-13.2M345.4 692.3v13.2M452.2 1268.8v-13.2M452.2 692.3v13.2M558.9 1268.8v-13.2M558.9 692.3v13.2M665.6 1268.8v-13.2M665.6 692.3v13.2M153.3 1268.8v-7M153.3 692.3v7M174.7 1268.8v-7M174.7 692.3v7M196 1268.8v-7M196 692.3v7M217.4 1268.8v-7M217.4 692.3v7M260.1 1268.8v-7M260.1 692.3v7M281.4 1268.8v-7M281.4 692.3v7M302.8 1268.8v-7M302.8 692.3v7M324.1 1268.8v-7M324.1 692.3v7M366.8 1268.8v-7M366.8 692.3v7M388.1 1268.8v-7M388.1 692.3v7M409.5 1268.8v-7M409.5 692.3v7M430.8 1268.8v-7M430.8 692.3v7M473.5 1268.8v-7M473.5 692.3v7M494.9 1268.8v-7M494.9 692.3v7M516.2 1268.8v-7M516.2 692.3v7M537.5 1268.8v-7M537.5 692.3v7M580.2 1268.8v-7M580.2 692.3v7M601.6 1268.8v-7M601.6 692.3v7M622.9 1268.8v-7M622.9 692.3v7M644.3 1268.8v-7M644.3 692.3v7M687 1268.8v-7M687 692.3v7M132 1162h13.2M708.3 1162h-13.2M132 1055.3h13.2M708.3 1055.3h-13.2M132 948.5h13.2M708.3 948.5h-13.2M132 841.8h13.2M708.3 841.8h-13.2M132 735h13.2M708.3 735h-13.2M132 1247.4h7M708.3 1247.4h-7M132 1226.1h7M708.3 1226.1h-7M132 1204.7h7M708.3 1204.7h-7M132 1183.4h7M708.3 1183.4h-7M132 1140.7h7M708.3 1140.7h-7M132 1119.3h7M708.3 1119.3h-7M132 1098h7M708.3 1098h-7M132 1076.6h7M708.3 1076.6h-7M132 1033.9h7M708.3 1033.9h-7M132 1012.6h7M708.3 1012.6h-7M132 991.2h7M708.3 991.2h-7M132 969.9h7M708.3 969.9h-7M132 927.2h7M708.3 927.2h-7M132 905.8h7M708.3 905.8h-7M132 884.5h7M708.3 884.5h-7M132 863.1h7M708.3 863.1h-7M132 820.4h7M708.3 820.4h-7M132 799.1h7M708.3 799.1h-7M132 777.7h7M708.3 777.7h-7M132 756.4h7M708.3 756.4h-7M132 713.7h7M708.3 713.7h-7" stroke="#000" stroke-width="1.35" fill="none"/>
<rect x="132" y="692.3" width="576.3" height="576.5" fill="none" stroke="#000" stroke-width="1.8"/>
<text x="132" y="1305.6" text-anchor="middle" font-size="29">−1000</text>
<text x="238.7" y="1305.6" text-anchor="middle" font-size="29">−500</text>
<text x="345.4" y="1305.6" text-anchor="middle" font-size="29">0</text>
<text x="452.2" y="1305.6" text-anchor="middle" font-size="29">+500</text>
<text x="558.9" y="1305.6" text-anchor="middle" font-size="29">+1000</text>
<text x="665.6" y="1305.6" text-anchor="middle" font-size="29">+1500</text>
<text x="118.4" y="1277.2" text-anchor="end" font-size="29">−1000</text>
<text x="118.4" y="1170.4" text-anchor="end" font-size="29">−500</text>
<text x="118.4" y="1063.7" text-anchor="end" font-size="29">0</text>
<text x="118.4" y="956.9" text-anchor="end" font-size="29">+500</text>
<text x="118.4" y="850.2" text-anchor="end" font-size="29">+1000</text>
<text x="118.4" y="743.4" text-anchor="end" font-size="29">+1500</text>
<text x="341" y="700.3" text-anchor="end" font-size="19.4" transform="rotate(-90 341 700.3)">solar</text><text x="700.3" y="1050.7" text-anchor="end" font-size="19.4">solar</text><text x="149.3" y="732.8" font-size="32.5">(d)</text>
<text x="420.1" y="1365.3" text-anchor="middle" font-size="39"><tspan font-family="'Liberation Serif', 'DejaVu Serif', serif" dy="0">δ</tspan><tspan font-size="25.5" dy="-16.6">30</tspan><tspan dy="16.6">Si (‰)</tspan></text><text x="34.7" y="980.5" text-anchor="middle" font-size="39" transform="rotate(-90 34.7 980.5)"><tspan font-family="'Liberation Serif', 'DejaVu Serif', serif" dy="0">δ</tspan><tspan font-size="25.5" dy="-16.6">29</tspan><tspan dy="16.6">Si (‰)</tspan></text>
</g>
<g id="panel-e">
<clipPath id="cle"><rect x="860.9" y="692.3" width="576.3" height="576.5"/></clipPath>
<g clip-path="url(#cle)">
<defs><polyline id="p50" points="1170.9,951.2 1184.7,956.1 1175.6,944.3 1139.2,976.8 1188.4,953.3 1162.4,953.8 1207.7,918.1 1169.3,972.6 1189.2,924.8 1168.1,951.3 1197.4,962.2 1197.2,920.4 1194.5,946 1136,974.1 1168.1,960.5 1187.1,915.6 1185.6,961.8 1192,919.4 1159,957.5 1148.5,963.6 1193.3,935.4 1170.2,956.2 1192.4,927.3 1211.6,927.2 1133.7,977.8 1174.3,941.9 1178.1,953.9 1179.8,930.2 1137.6,991.1 1232.3,890.6 1167,975.3 1151.9,955.4 1151.8,979.7 1208.7,943.1 1203.7,939.6 1150.4,966.9 1160,977.2 1135,959.3 1175.5,955.9 1141.5,1013.7 1176,937.2 1168.6,962.3 1204.1,946.2 1156.3,954.9 1175.4,959.6 1151,949.6 1149.5,960.2 1203.1,948.2 1204.6,911.1 1204.5,940.4 1173.2,928 1213,923.2 1199.1,951.4 1175.5,944.2 1222.6,901.5 1193.3,942.3 1176.9,977.6 1159.1,978.3 1238,868.3 1178.1,934.6 1154.3,937.6 1180.2,928.7 1217.3,932.9 1160.3,957.6 1166.8,983.5 1206.8,933.7 1172.9,933.9 1158.1,955.4 1120.9,943.4 1168.7,950.8 1164.9,999.4 1159.7,989.4 1197.5,927.9 1215.8,917.2 1186.2,967.1 1168,968.1 1191.1,948.2 1193.6,929.8 1164.3,967.1 1187.3,938.4 1218.7,918 1185.4,924.3 1203.5,924.9 1176,944.8 1178.2,962.6 1167.3,967.9 1188.4,975 1158.5,953.5 1128.8,959.9 1184,946.8 1212.4,911 1146.1,972.4 1189.3,947.9 1143.4,955.6 1189.3,930.7 1148.3,992.4 1202.8,922.5 1168.2,987.7 1166.4,949.9 1157.7,975 1213.4,920.2 1168,942.1 1195.8,928.4 1160.6,961.1 1148.3,970.1 1180.8,938 1180.6,933.1 1169.3,989.6 1181.3,944.3 1198.2,938.7 1133.1,1002.1 1191.9,933.2 1193.5,935 1235,916.8 1167.8,956.5 1158.3,962.5 1184.7,938.3 1178.7,946.2 1177.4,971.4 1145.9,958.3 1183.8,969.3 1186.2,941.5 1150.9,960.2 1161,971.8 1131.3,1003.8 1174.3,960.9 1178.6,947.9 1189.5,936 1188.8,941.5 1185.2,966.7 1137.1,998.7 1158.2,980 1207.5,927.7 1170.3,1012 1204.6,918.8 1170.3,964.9 1186.5,954.7 1160,954.6 1167.9,939.9 1180.4,945 1207.6,914.8 1196.8,914.1 1194.1,912.6 1155.8,976.6 1174.7,965.9 1193.3,945.3 1192.5,945.1 1207.8,910.6 1192.6,934 1175.8,957.3 1188.8,925.4 1185.8,948.2 1165.4,970.5 1167.9,955.6 1188.7,952.5 1139.6,987.6 1182.6,921.4 1168,953.2 1190,933.7 1157.2,990.6 1161.3,975.6 1149.3,956.7 1124.8,994.5 1188.6,953.9 1163.1,983.9 1180.9,947.8 1183.7,924.8 1162.5,953.7 1195.9,945.1 1192.4,929.2 1168,974.9 1191,915.1 1186.8,968.7 1157.2,986.9 1190,939.6 1211.1,919.2 1150.7,962.9 1154.6,959.7 1179.3,936.4 1180.9,933.5 1178.9,942.2 1188.8,935.9 1159.3,956.1 1189.2,932.1 1169.4,954.6 1162.4,951.4 1196.4,916.3 1160.1,956 1146.6,1002 1174.1,953 1161.3,934.8 1199.5,961.5 1184.9,968.8 1167.6,982.9 1204.3,911.2 1192.6,977.9 1150.2,963.4 1153.1,962.7 1181.5,939.9 1188.4,920.6 1173.4,958.1 1157.7,970.3 1183.6,951.9 1185.6,945.4 1168.9,956.4 1179.2,955.9 1206.3,923.8 1168.8,935.9 1130.7,991.9 1180.7,938.4 1151.8,984.6 1190.4,960.1 1139.9,969.6 1175.2,964.7 1169.5,983 1187.8,949.6 1188.4,953.8 1165.8,972.9 1177.6,957 1159.3,978.6 1181.4,957.9 1192.7,920.7 1210.9,935.7 1194.6,939.8 1146.3,970.2 1203.7,942.5 1164.2,967.1 1155.1,963.3 1165.1,968.6 1159.1,963.9 1153.9,979.2 1156.3,993.8 1165.8,974.7 1178.2,944.2 1223.5,920.4 1176.7,965.6 1157.9,976.2 1167.8,961.1 1163.4,921.8 1198.4,952.6 1164.9,979.2 1202.5,926.4 1196.4,918.8 1135.8,1005.1 1190.5,940.8 1141.6,990.2 1168,967.3 1148.1,952.3 1198.3,936.3 1183.4,930.8 1153.9,936.6 1144.8,991.3 1216.8,888.4 1161.2,971.4 1201.5,949.4 1171.7,959 1177.9,960.5 1198,957.3 1167.1,959.5 1134.1,986 1122.1,1001.6 1209.6,939.3 1215.9,931.7 1210,911.3 1195.7,918 1185.3,948.7 1176.6,953.1 1183.9,994.5 1138.8,971.7 1190.7,938.5 1167,951 1164.5,939 1173.7,952.6 1155.7,948.1 1146.7,956.3 1173.9,949.4 1179.1,948.3 1180.8,961.5 1171.5,943.8 1168.2,968.2 1225.1,912.2 1129,976 1186.4,916.2 1230.5,913.5 1200.3,937 1188.6,943.6 1136,981.3 1152.5,965.9 1173.3,943.8 1139.1,976.8 1186,947 1205.3,921.8 1222,919.3 1200.6,921.2 1155.4,991.8 1188.5,930.5 1163.4,948.4 1185.8,962.1 1196.3,937.1 1200.6,927.5 1191.8,949.9 1169,950.6 1165.2,972.1 1200.2,919.8 1167.2,967 1163.2,952.5 1205.2,921.6 1183.2,950.7 1198.2,940.5 1186.6,946.2 1148.1,967.7 1185.7,931.3 1141.2,991.1 1164.3,971 1162.6,964.7 1171.6,981.9 1180.5,931.2 1183.8,933.3 1169.6,955.2 1158.8,993.4 1197.4,940 1129,966.8 1189.6,949.3 1204.3,956.3 1149.6,977.5 1172.2,986.3 1197.8,915.6 1207.6,897.2 1143.8,977.7 1159.1,971.3 1158.8,967 1182.6,954.8 1153.6,987.4 1174.1,979.3 1160.1,968.6 1177.2,918.1 1187.1,960.3 1169.2,957.7 1124.2,1008 1191.6,943.9 1164.2,963.1 1154.1,960.3 1185.4,930.8 1164.1,976.9 1161,972.6 1124.9,988.1 1156.3,959.7 1140.1,979.2 1166,950.5 1203.5,923 1188.2,955.4 1195.1,913.3 1185.1,940.6 1161.2,977.3 1174.5,965.8 1145.6,976.4 1224.5,917.1 1168.7,942.6 1210.8,918.4 1204.7,935.4 1203.7,941.9 1121.8,1008.3 1207.1,918.5 1184.5,943.3 1156.3,978.3 1162.9,937.1 1157.3,944.8 1120.4,988.4 1174.9,968.2 1186.8,925.8 1236.1,903.6 1191.8,930.5 1147.6,979 1158.6,984.2 1224.1,909 1184.3,940 1207.5,918.5 1139.8,1018.7 1163.4,967.7 1197.9,938.1 1171.1,994.2 1213,896.3 1171.1,952 1160.5,954 1149.5,972.6 1198,933 1173.8,943 1184.9,939.8 1167.6,988.9 1198.9,935.7 1207.9,923 1193.5,941 1187.5,969.3 1160.3,989.5 1183.7,934.8 1169.5,961.4 1173,964.1 1175.1,949.5 1199.2,918.1 1248.5,888.4 1144.7,986.9 1192.4,942.4 1172.7,951.3 1165.7,950.6 1201.4,914.6 1174.9,969.5 1131.5,986.7 1198,940.9 1185.1,949.6 1181.7,946.8 1131.6,959.4 1158.7,955.2 1189.7,953.6 1178.3,953.3 1171.6,939.8 1191.3,936.8 1143.1,945.1 1197.1,946.6 1195.7,936 1171.2,974.5 1138.4,976.4 1178.4,941.3 1196.7,942.5 1184.6,951.1 1183.7,968.2 1192.6,945.5 1182.3,972 1203.4,920.3 1167.8,937.3 1123.7,962.9 1147.6,1012.9 1138.3,956.6 1172.1,945 1198.2,939.1 1155.4,947.5 1191.3,921.7 1172.7,933.7 1207.3,932 1160.4,957.4 1148,965.6 1181.6,942.6 1164.3,949.7 1235.6,923.5 1187.3,964 1206.6,921 1142.1,974 1162.5,981.9 1166.8,953.2 1209.3,908.8 1145.5,962.4 1175.1,941.5 1196.4,965.2 1144.6,987.2 1164.8,965.7 1126.7,999.4 1163.8,972 1169.8,948.5 1173.5,967.7 1170.7,928.5 1153.5,997.6 1168.2,947.8 1167.3,978.5 1170,966.8 1184.3,959.6 1178,951.2 1159.1,959.4 1166.8,977.3 1213,926.6 1151.4,974.5 1167.1,977.8 1172,978.7 1159,979.8 1191.9,917.5 1166.5,1001.3 1189.2,946.5 1186.2,936.2 1172.5,950.6 1192,932.5 1224.7,931.6 1152.1,973.3 1179.3,976.4 1164.1,954.3 1198.2,926.9 1180.2,949.7 1135,996.9 1192,936.4 1164,995.3 1183.4,951 1162.9,971.5 1192.2,946.6 1136.1,997.9 1183.4,963.3 1176,944.5 1152.8,981.1 1138.5,971.4 1192.1,944.3 1132.7,1017.1 1186.4,936.9 1193.8,958.1 1170.1,970.9 1161.9,940.9 1155.1,969 1200.2,940.4 1172.5,1008.1 1177.5,937.6 1187.9,918 1194.4,956.8 1177.2,941.3 1155.4,948.5 1178.6,990.7 1183.5,944.8 1158.3,984.2 1190.6,942.1 1176.3,952.6 1146.9,968.7 1149.4,980.3 1177.8,920.8 1187.9,962 1169.5,972.8 1202.4,930.4 1196.1,915.5 1171.2,973.7 1171.7,941.1 1190.3,917.1 1149.3,983 1176,922.2 1182.4,966.2 1181.7,956.9 1194.2,955.3 1178.1,973.5 1203.9,925.9 1175.9,949.8 1186.3,957.2 1185.2,940.7 1179.5,927.1 1186.2,971.3 1194.7,946.6 1189.8,925.8 1210,927.4 1166.8,959 1175.7,928.5 1160.1,982.7 1230.6,928.9 1162.7,954.9 1152.4,941.9 1160.3,968.2 1205.7,963.6 1157.1,953.9 1170.6,945.2 1195.2,949.5 1163.4,986.7 1202,963.4 1211,918.5 1150.9,980 1163.8,986.7 1168.4,966.3 1152.9,955 1189.3,945.8 1156.1,981.7 1160.9,980 1198.9,938.9 1161.5,960.1 1145.5,946.1 1173,937.4 1186.9,957 1198.7,921.9 1181.2,971 1123.2,981.7 1164.1,967.9 1181.1,934 1194.1,908.3 1140.1,990.5 1128.7,1004.3 1139,957.9 1182.6,945.6 1189.5,961.2 1167.2,964.8 1166.8,950.6 1154.7,944.9 1195.3,939.8 1177.4,933.2 1141.2,991.2 1186.4,957.1 1130.8,966.1 1184.9,933.1 1155.5,993.7 1170.5,945.1 1192.9,950.2 1186.7,929.7 1152.6,979 1182.6,930.6 1184.2,932.8 1193.6,950.5 1169.8,960.8 1154.5,969.1 1169.4,963.8 1164.3,980 1162.7,956.4 1188.2,981.9 1165.3,981.6 1202.6,922.9 1182.8,961.3 1196.8,944 1194.4,936.6 1153.5,992.8 1185.7,932.1 1193.3,932.2 1224.2,929 1156.6,995.9 1195.1,945.1 1184.8,973.3 1193.7,943.5 1204.6,926 1179,955.3 1198.3,904.2 1181.5,973.9 1188.6,934.3 1161.9,951.6 1206.6,915 1177.3,958.5 1191,948.4 1212.8,906.3 1173.4,952.8 1177.2,942.1 1182.3,952.5 1130.2,972.4 1173.4,947.3 1180.7,965.3 1165.7,957.9 1187.6,938.7 1146.5,1013.2 1165.5,959.9 1177.5,970.3 1137.1,972.9 1189.5,938.1 1183.3,933 1164.3,978.3 1173.4,951.9 1141.8,975.8 1177.3,968.8 1174.1,974.9 1150.5,968 1156.5,986.5 1183.3,974.4 1163.8,972.9 1201.9,939.4 1172.3,959.7 1184.9,934.6 1138.9,972.1 1189.7,937.5 1144,995.3 1194.1,936.4 1159.2,937.1 1141.7,985.7 1193,913.8 1170.1,977 1232,913.4 1165.6,969.8 1174.2,941.9 1141.9,983.9 1233.8,898.8 1165,943.3 1180,953.4 1138.5,968.8 1134.6,988 1188.6,965.5 1174.5,951.6 1167.8,948.7 1170.4,967.5 1219.3,947.4 1180.7,935.6 1194.2,942.2 1163.6,933.8 1158.7,954.2 1169.2,962.4 1175.9,940.2 1174.7,954.7 1192.3,953 1202,914.2 1152.8,976.8 1183.2,932.9 1195.3,952.8 1177.8,966.8 1174.3,982.9 1188,950.6 1194.3,954.9 1206.9,935.5 1172,945.7 1190.4,926 1152.7,980.3 1208.1,913.9 1212.9,919.5 1162.1,962.2 1149.9,970.1 1186.5,922.6 1200.2,939.4 1214.9,929.1 1206.3,924.5 1211.4,932.3 1179.5,962.5 1203.9,932.1 1175.2,955.6 1143.5,938 1146.9,986.8 1189.7,916.8 1190.9,939.7 1188.5,960.3 1166.6,942.9 1202.3,958.9 1204.1,930 1188.7,940.8 1158,1006.6 1192.2,938.7 1200.4,936.9 1192.7,931.4 1194.9,932.3 1178.3,931.8 1169.7,967.5 1179.1,933.4 1194.1,918.6 1185.2,957.4 1182.6,962 1191.7,963.6 1148.3,979.3 1153.3,1014.5 1170.4,985.7 1163.2,965.4 1159.7,964.8 1152.6,991 1161.1,944.3 1185.2,922.1 1185.6,958.4 1152.8,978.9 1173.4,959 1244.2,879.8 1226.8,927.6 1161.3,947.3 1202.5,946.2 1202.1,946.7 1156.1,969.3 1187.3,932.8 1145.6,993.2 1182.2,930.9 1182.2,940.6 1195.3,961.7 1178.8,927.3 1162.6,976.4 1165.7,996 1156.2,978 1209.5,941.2 1122.9,972.6 1152.7,991.1 1167.3,964.8 1181.7,957.1 1153,970.9 1184.1,931.7 1183.6,954.6 1188.4,949.4 1155.6,975.6 1197,898.1 1164.8,998.7 1180.5,967.6 1174.9,969.3 1173.8,934 1172.3,987.7 1174.7,966.9 1204.4,924.4 1161.8,969.4 1177.5,937.2 1179,946 1189.9,939.6 1174,923.3 1178.2,979.5 1175.7,938.6 1194.5,941.6 1179.7,962.1 1147.1,965.5 1183.2,949.5 1211.7,918.9 1208.1,925.4 1181.5,951.4 1209.6,932 1176.9,931.9 1175.1,993.3 1182.9,957.4 1146.5,998.6 1157.7,965.6 1159,959 1191.3,937.3 1160.5,987.6 1185.5,956.3 1181.7,945.9 1178.1,955.9 1205.4,938.8 1174.9,955.7 1177.8,954.5 1178.6,953.9 1200.8,935.2 1158.3,961.9 1164.1,986.9 1214.6,903.8 1176.8,986.3 1160.7,959.6 1171.9,965.3 1172.5,964.8 1165.4,972.3 1205.3,930.9 1186.4,945.7 1176.6,955.8 1189.5,925.2 1161.3,984.7 1142.2,941.4 1190.5,936.1 1160.1,965.1 1208.7,919.5 1158.9,973.4 1170.3,955.2 1180.7,964 1142.7,966.9 1163.9,975 1177.1,957.1 1172.5,943.7 1215,895.7 1170.6,957.9 1151.5,944.5 1183.1,925.6 1217.2,902.2 1167.9,956 1188.9,976.1 1176.5,945 1179.3,928.4 1144.5,979.7 1121.9,991.3 1161.3,965.7 1254.4,867.2 1174,946.9 1179.1,940.4 1146,940.1 1196.5,949.6 1185,979.6 1157.2,953.4 1167.7,965 1161.7,966.6 1203.5,927.7 1213.3,939.2 1150.6,1013.5 1179.8,941.2 1187.5,946.4 1162.1,932.5 1175.6,963.8 1200.8,928.4 1169.2,953.2 1188.8,980.2 1181.6,959 1157.7,968.2 1136.7,981 1167.8,975.4 1153.4,977.1 1131.8,1000.8 1218.3,928.6 1192.6,929.3 1198.8,930.2 1204.8,930 1174,943.9 1219.2,932.7 1182.8,949.6 1212.2,915.2 1165.3,967 1163.5,985.6 1148.2,1001.2 1188.7,962.9 1159,969.4 1188.4,966.4 1161.5,977.2 1183.2,957.7 1190.4,946.3 1166,962.7 1164.4,970.2 1193.3,930.1 1191.1,935.3 1201.4,912.6 1167,990.3 1162.4,955.7 1146.5,993.1 1158.5,942.1 1184,953 1183.1,930.6 1159.8,994.1 1155,964.3 1195.4,917.7 1172.4,937.8 1143.6,987.8 1202.8,944.9 1158.9,982.9 1132.6,964.1 1215.5,903.4 1155.3,983.6 1135.6,985.6 1190,962.6 1172.3,981.1 1138.3,992.9 1133.6,988.8 1217.5,950.8 1185.1,956.5 1231.8,905.5 1151.4,962.1 1195.6,957.8 1174.2,966.6 1162.1,975.7 1179.8,939.4 1200.3,941.2 1189.7,953.3 1204.6,944.4 1181.6,961.6 1195.9,937.8 1160.9,976.8 1181,932.1 1184.1,954 1234.7,897.8 1164.5,983.5 1227.5,886.8 1212,954.4 1186.2,933.3 1157.3,972.2 1149.6,993.5 1193.1,951 1182.3,984.8 1226,919.5 1178.8,957.8 1201.7,912.1 1195.2,936.7 1150.3,970.9 1182.8,937.7 1182.4,924.5 1162.1,989 1210.5,924.6 1176.7,972.7 1162.3,976.9 1148.3,974 1158,955.8 1186.6,924 1191.9,931.7 1165.6,982.9 1141.8,1010.1 1142.1,980.2 1154.3,1000.3 1161.7,968.5 1154,969.3 1177.5,949.2 1192.5,920.6 1172.7,957.3 1143.7,988.7 1128.8,985.2 1167.5,968.4 1158.3,958.6 1173.8,955.9 1157.6,961.8 1159.4,966.2 1185.2,964.5 1168.6,964.3 1185.1,963 1185.5,953 1170.4,965 1173.8,945.1 1172.9,956.2 1164.8,969.7 1141.9,963 1188.4,921.5 1217.8,924.1 1204.1,928.3 1151.2,993.2 1190.3,934.1 1166.8,955.3 1164.9,967.5 1185,945.7 1142.1,985.9 1228.1,908.5 1192.9,927.4 1164.5,969 1178.6,947.3 1178.5,941 1182.9,944.4 1168.4,960.6 1183.5,964.8 1143.4,986.9 1139.6,960.5 1153,973.9 1181,963.7 1172.7,959.5 1165.3,930.3 1181.9,933.6 1193.9,907.4 1153.6,976.3 1207.3,942.9 1167.3,982.1 1216.4,912.4 1164.1,970.6 1212.2,914.3 1195.7,916.7 1195.9,961.6 1152.2,980.8 1182.7,928.5 1160.3,998.1 1211.8,930.4 1197.4,936 1196.5,948.1 1171.1,934.6 1156.5,971.6 1178,940.4 1188.1,921.4 1196.6,905.8 1154.9,978.9 1174.9,969.1 1182.8,962.6 1190,951.7 1180.7,951.6 1177.9,963.6 1201.9,929.5 1200.8,919.6 1160.5,985.9 1189.6,916.2 1186.5,932.7 1166.2,951.9 1154.5,976.3 1190.6,931.8 1179.7,971.9 1183.1,957.8 1160.5,968.1 1136.5,992.8 1164,962.3 1150.8,999 1198.8,928 1151.8,971 1122.3,990.2 1171.1,942.7 1218.9,927.9 1162.6,960.3 1201.9,908.7 1208.5,919.7 1155.4,980 1193.9,936.3 1164.5,959.2 1166.3,960.4 1176.9,943.9 1151.3,1008.1 1188.1,957.2 1204.3,936.5 1186.6,930.2 1187.1,935.5 1214.3,927.8 1159.5,957 1178.9,966.6 1188.1,958.8 1196.7,908.9 1179.4,942.7 1132.5,993 1155.3,971 1155.3,962 1182.9,947.1 1162.8,948.7 1176.5,939.2 1153.7,947 1166.1,979 1201.4,941 1152.1,1009.8 1177.1,938.3 1165.3,921.6 1159.7,974.1 1210.9,922.1 1200,939.3 1163.3,938.4 1160.5,962.4 1166.9,978.2 1159.8,964.8 1175.8,952.6 1170.7,965.9 1172.7,957 1170.5,965.3 1177.4,956.5 1207.6,924 1222.5,933.1 1218.7,937.2 1157.7,958.8 1205,930 1196,956.2 1144.1,948.2 1189.6,975.5 1178,953.8 1187.5,948.3 1212.8,916.7 1191.2,962.6 1138.6,986 1171.4,950 1186.6,951.7 1171.6,951.4 1178.3,972.5 1158.2,959.5 1134.9,986.5 1147.2,933.3 1171.4,950.1 1156.5,977.8 1155,974.1 1134.3,979.6 1203.1,931.7 1163.4,955.3 1145.9,971.2 1178.4,938.7 1153.5,974.4 1148.5,980.1 1184,952.1 1198.2,953.4 1200.9,944.5 1193.9,932.5 1200.7,944.4 1164.2,960.6 1178.6,936.6 1177.7,942.7 1182.4,941.6 1178.1,948.2 1157.8,980.8 1170.1,981.4 1172.3,942.5 1165.3,956 1190.3,929.4 1181.5,947 1177.5,936.9 1187.2,930.1 1135,963.8 1155.4,961.6 1197.6,932.8 1181.9,936.7 1169.1,964.5 1146.1,997.4 1172.7,983.1 1172,965.6 1173,942.1 1200.3,935.3 1176.8,960.6 1177.5,957.3 1192.8,916.2 1161.6,982.6 1181.6,944.7 1166.9,952 1170,948.3 1182.5,964.2 1206.7,928.8 1227.3,914.4 1198.2,922.7 1200.9,948.1 1208.9,930.4 1161.9,969.7 1195.6,945 1202.7,954.6 1163.8,979.1 1213.9,940.3 1168.8,970.4 1195.5,938.3 1159.7,967.4 1138.1,978.7 1235.8,886.2 1212.9,946.3 1185,931.6 1141.5,1001.6 1179.8,953.8 1205.5,950.9 1136.8,978 1143.3,984.3 1167.9,964.2 1173.8,951.3 1171.8,963.9 1177.5,941.2 1212.9,935.5 1153.2,973.6 1188.4,944.3 1188.1,927.6 1206.3,929.7 1174.6,937.6 1158.9,988.5 1153.4,977.7 1187.4,951 1180.2,978.1 1167.6,951.3 1171.9,936.5 1172.2,952.7 1173.1,970.8 1178.1,954 1196.5,959.7 1176.9,956.1 1189.4,926.1 1160.9,985.6 1170.6,967.3 1170.6,949.4 1174,967 1217.5,923 1145.6,1017.8 1172.4,960 1139.5,1008.3 1158.9,966 1189.1,936.7 1157.2,977.1 1169.8,964.3 1199.5,937.6 1164.1,969.6 1169.9,968.9 1153.1,974.6 1169,969.8 1201.1,934 1188.8,949.9 1182.1,946.2 1194.3,936.7 1156.7,961 1207.7,927.3 1188.1,927.2 1155.5,966.5 1205.9,947.4 1171.6,975.7 1189.4,931.7 1187.3,959.3 1144.2,967.1 1150.7,951.3 1160.4,947.8 1175.4,939.1 1207.8,908.5 1163.9,980.1 1168.9,958.2 1183.5,953.3 1184,965.9 1150.1,976.4 1237.3,908.6 1180.3,928.9 1141.7,999.1 1158.3,973 1161.2,974.4 1171.5,956 1199.7,933.1 1158.7,993.4 1140.1,987.7 1122.7,1008.9 1204.1,929.8 1193.2,940.4 1166,969.1 1195.9,915.2 1194.3,919.7 1185.5,948.6 1133,980.7 1154.6,962.4 1186.4,941.3 1151,973.8 1206.6,943.3 1173.5,941.5 1198.5,917.9 1194.7,963.5 1203.1,916.1 1191.3,942.2 1189.2,947.4 1175.2,964.5 1188,949.2 1212.4,934 1202.8,917.2 1154.3,959 1212,915.7 1152.3,951.8 1193.3,960.1 1159.1,963.7 1166.7,938.4 1154.6,992.7 1181.5,938 1166.3,948.5 1157.2,975 1158.4,953.2 1159,957.6 1189.9,952.1 1166,970.8 1177,942.1 1186.6,951.2 1184.4,939.2 1181.7,927.3 1189.1,910.5 1164.2,981.9 1174.1,973.6 1183.5,958.7 1156.7,993.5 1180,956.7 1166.8,980.3 1176.2,987.9 1175.7,958.7 1175.2,959.4 1203.3,945.7 1177,961.9 1169.1,964.9 1212,939.2 1203.4,934.1 1178.9,961.7 1207.5,898.1 1198.6,923.2 1191.4,929.3 1197.1,942.6 1150.1,981.7 1177.4,949.8 1169.4,974 1150.4,957.8 1160,978.6 1176.3,945 1170.9,955.7 1197.1,924.9 1178.5,948.4 1141.3,972.8 1206.5,927.8 1128.6,998.7 1157.7,998.2 1173.3,953.3 1171.4,947.3 1156,967 1145.8,984.9 1178.6,958.4 1171.4,988.8 1156.7,985.6 1139.1,986.1 1177.8,959.9 1184.7,937.8 1161.9,968 1135,990.5 1148.6,983.1 1178,961.2 1172.2,948.7 1188.6,944.9 1178,942.3 1213.5,917.6 1140.4,982.3 1189.7,939.3 1147.6,981.2 1213.6,920.9 1227.3,893.9 1143.4,986.3 1205.5,933.9 1155.6,990.7 1214.9,915.2 1163.2,947.1 1142.8,1005.9 1183.6,964.5 1174.9,943.2 1147.9,957.8 1213.7,922.7 1167.2,989.6 1201.2,943.5 1196.9,936.5 1172.9,983.7 1181.1,946.6 1178.1,945.8 1175.6,941.9 1166.3,980.3 1195,925 1192.5,945.4 1192.5,955.7 1163.8,979.4 1221.4,926.6 1182.4,969.4 1149.6,949.3 1188,937.9 1193.2,961.1 1162.8,981.6 1177.9,943 1161.7,962.8 1206.5,926.4 1181.2,967.9 1182,937.1 1163.6,979.4 1205.4,944.1 1200.4,936.2 1192.6,952.5 1201.9,920.3 1152.5,990.1 1131.9,965.3 1150.9,943.3 1155.6,992 1163,973.2 1180.5,943.8 1156.9,944.3 1187.5,933.9 1194.6,930.2 1152.2,976.1 1178.8,946 1135.5,963.1 1181.6,934.7 1220.2,922.3 1128.3,974.8 1125.1,954.5 1220.5,903.1 1157.1,978 1169.2,955.8 1167.5,959.2 1159.1,967.2 1205.5,923.5 1184.1,925.1 1170.1,972.9 1189.5,952.3 1195.3,933.3 1187.9,919.8 1179.3,962.6 1207.3,902.4 1204.9,864.4 1196.3,867.6 1191.2,868.8 1202.2,869.1 1179.4,872.9 1187.2,884.2 1192.9,884.7 1164.5,887.5 1177.6,895.5 1180.7,898.7 1205.2,888.3 1137.9,909.8 1153.7,908.8 1135.9,917.2 1156.2,915.9 1140.9,920.2 1154.7,919.9 1137.4,925.3 1117.5,928.1 1126.1,928.5 1139.9,930.9 1145.6,933.2 1120.4,934.7 1126.3,934.7 1102.2,939.3 1134.2,940.6 1191.9,902.1 1196.1,902.1 1200.3,901.9 1185.5,904.6 1186,909 1192.4,908.1 1247.9,875.8 1243.7,877.5 1248.4,879.7 1254.8,883.2 1229.1,874.5 1222.2,880.5 1232.6,882.4 1231.1,887.8 1231.6,894.5 1237.8,893.6 1239.7,898.7 1239.5,902.1 1233.1,903.6 1236.5,909.5 1119.9,947.6 1111.8,954.7 1129.6,953.7 1113.2,969.8 1097.3,1027.3 1161.8,1017.6 1150,1009.9 1157.9,1010.9 1166.3,1009.9 1134.2,941.9 1095.5,739.2 995.8,900.6 1101.8,938.8"/></defs><use href="#p50" class="fm"/><use href="#p50" class="sm"/>
<defs><polyline id="p51" points="1195.6,898.9 1161.8,954.1 1190.1,913.7 1180.1,947.9 1206.2,912.7 1183.5,948.2 1188.6,933.3 1179.4,939.8 1159.3,953.9 1195.4,942.5 1208.9,895.1 1197.1,929.1 1174,942.7 1170.7,950.6 1184.6,941.7 1188.4,933.1 1166,944.6 1175.5,938.1 1188.8,936.1 1200.8,915.3 1184.4,934.9 1198.7,907.8 1170.2,943 1175.1,939.3 1181.2,932.4 1180.3,935.7 1191.8,913.8 1180,928.4 1185.5,921 1179.8,939.9 1197.2,941.9 1165.4,958.3 1214.9,901.1 1222.1,899.8 1189.1,918.6 1183,922.5 1225.6,900.9 1167.4,954.6 1178.4,944.3 1178.6,955.3 1160.4,966.7 1222.1,921.9 1205.9,919.6 1185.7,937 1191,922 1205.6,914.7 1189.5,910.5 1192.4,917.9 1201.4,926.8 1193.7,961.7 1206,899.5 1189.9,916.8 1189.5,925.4 1178.8,942.5 1208,895.7 1184.3,927.9 1148,980.3 1207.1,912.9 1195.7,895.9 1191.2,933.9 1191.4,920.7 1156,966.8 1185.1,935.1 1159.4,969.1 1160.1,949.8 1210.9,918.4 1166.7,980.3 1189.5,924.9 1207.2,913.5 1189.2,925.8 1219.1,894.1 1189.6,937.5 1210.7,893.3 1163.8,960.9 1201.2,913.4 1200.8,921.4 1190.2,918.8 1178,923.8 1194.7,930.3 1172.2,959.9 1204.3,903.1 1188.9,925.2 1157.5,978.4 1194.2,926 1182.1,930.5 1188.8,927.1 1170.8,976.6 1183.4,924.7 1205,906.5 1203,915.3 1181.2,942.3 1188.7,936.9 1187.8,963.3 1145.9,987.1 1173.3,953.3 1207.1,902.7 1177.7,936 1179.2,942.2 1170.3,943.5 1229.4,902.3 1176.5,943.4 1215.4,891.7 1204.4,910.9 1155.8,981.2 1190,917.6 1173.7,962.5 1174.6,928.7 1214,922.6 1201.8,910.1 1153.8,971 1199.6,915.4 1188.7,928.7 1156.4,969.3 1188.1,923 1205.5,910.7 1192,923.6 1173.7,932.5 1200.7,921.8 1178.1,933.4 1171.8,952.3 1177.9,931 1220.7,886.6 1188.8,934.6 1161.8,960.6 1179.5,921.7 1190.1,923.9 1187.8,930 1231,874.9 1200.8,914.1 1192.8,954.8 1169.4,945.1 1211.4,913.1 1197.8,920 1158.3,977.2 1202.1,918.7 1167.6,965.1 1193.9,912.8 1196.5,916.5 1219.9,908.2 1204,908.7 1173.4,946 1205.2,916.4 1205.9,914.4 1185.8,962.3 1187.6,931.5 1183,937.5 1191.4,920.9 1180.6,938.2 1156.2,970.4 1160.9,970.1 1214.3,911.9 1176.6,927.3 1189.9,925.8 1224.1,870.3 1180,934.6 1219.3,889.8 1176.2,965.3 1192.6,936.5 1184.2,930.2 1170.7,960.2 1153.5,983.7 1193.6,958.4 1183.8,945.5 1152.9,968.6 1181.8,932.7 1193.5,944.1 1192.4,929.8 1172.4,948 1203.6,900.6 1209.8,907.6 1198,912.9 1179.4,945.5 1199.9,929.1 1178.8,926.4 1167.8,958.7 1161.5,944.6 1168.8,960.4 1199.5,916.3 1165.9,953.9 1183,965.9 1183.5,935.1 1143.4,907.1 1179.9,903.4 1187.4,901.9 1203.7,899.2 1206.2,901.2 1169,918.2 1149.8,924.6 1160.6,923.3 1163.8,924.6 1156.4,935.2 1159.4,938.6 1198.3,909 1196.3,914 1234.1,869.1 1228.4,872.8 1243.1,873.6 1237.3,874.8 1227.7,879.7 1231.3,917.7 1153.9,942.4 1135.5,989.4 1153.2,1002 1170.4,1008.1 1140.1,998.5 1148,962.6"/><polyline id="p52" points="1168.4,955.9 1200.5,910.8 1161.2,935.2 1152.8,959.5 1183.2,943.5 1190.6,936 1182.5,937.4 1181.3,956.5 1177,941.7 1205.4,917.8 1195.8,925.3 1171.4,950.6 1171.8,954 1205.3,914.2 1228.3,869.6 1183.3,926.9 1195,923.9 1168.8,941.9 1151.3,972 1179.9,945.5 1166,961.7 1207.6,905.1 1170.9,951 1183.2,931.2 1182.5,935.1 1195.9,927.2 1156.2,966.1 1196,908.6 1197.4,924.7 1175.3,950.2 1206.5,915.5 1190.9,928 1224.2,874.5 1222.7,884.9 1241.3,913.5"/><polyline id="p53" points="1209.6,908.1 1184.7,923.8 1200.6,909 1187.7,941 1192.4,930 1185.7,927.6 1146.7,980.3 1226,867.8 1170.2,960.9 1198.4,922.9 1198.9,921.3 1214,907.5 1151.6,974.6 1178.4,937.6 1199.4,933.1 1206.9,919.7 1210.1,891.6 1197.2,912 1187.1,948.7 1201.3,914.2 1158.5,963 1178,945.7 1175.4,956.4 1200.8,924.5 1205.9,905.1 1189.5,941.4 1173.9,953.8 1208.3,908.7 1198.6,920.4 1165.2,963.7 1220,896.2 1176.6,942.7 1150.6,977.9 1201.7,901 1180.5,959.2 1166.3,946.4 1176.7,958.3 1190.6,918.1 1197.2,907.4 1182.9,957.5 1170.9,945 1196.4,918.6 1194.1,916.3 1180.7,938.7 1206.8,912.7 1202.6,920 1165.6,958.6 1192.9,931.4 1210.9,888.9 1183.9,937.7 1203.8,928.2 1173.1,939.4 1213,908.8 1187.9,940.6 1166.9,957.7 1208,912.6 1168,952 1219.8,872.6 1186,928.2 1194.3,924.6 1211.8,908.9 1153.1,969.6 1180.5,942.1 1185.8,935.5 1222.9,889.4 1180.6,936.7 1177.4,936.3 1189.3,921 1184.5,948.7 1200.5,910.6 1168.3,945.6 1216,893.4 1190.5,918.2 1190.7,945.8 1185.3,955.4 1218.8,883.4 1213.9,887.4 1149.7,946.8 1136.5,952.2 1143.4,1051.5 1181,993.8 1154.7,991.1"/></defs><use href="#p51" class="fab"/><use href="#p52" class="fab1"/><use href="#p52" class="oab1"/><use href="#p53" class="fab2"/><use href="#p53" class="oab2"/><use href="#p51" class="sab"/><use href="#p52" class="sab1"/><use href="#p53" class="sab2"/>
<defs><polyline id="p54" points="1230.2,985.6 1162.8,1032.3 1192.9,1008.8 1264.2,1010.2 1226,1005.7 1188,1013.1 1194,1020.1 1208.1,988.2 1203.2,1013.2 1231.3,948.8 1233.1,994.4 1229.7,1015.7 1211.1,991.8 1261.5,1006 1192.5,1018.6 1204.7,1008 1309,1004.6 1287.9,996.7 1220.9,995.4 1199.5,998.8 1306.2,1011.8 1185.3,1008.4 1251.8,1005.9 1255.4,954.8 1157.2,1031 1224.6,1013.6 1202.4,985.5 1199.3,991.3 1312.7,1016.8 1286.9,1022.2 1207.9,984.3 1243,1027.1 1302.9,1004.8 1164.1,1032.2 1196.1,994.5 1206.4,987.8 1314.1,1012.6 1178.2,1025.2 1197.3,1003.3 1236.6,998 1194.7,1011.8 1195,1001 1231.6,1015.4 1334,991.2 1190.6,1012.3 1245.8,933.9 1186.6,1015.1 1236.8,966.7 1208.5,972.7 1206.5,986.2 1202.4,993.5 1190.3,996.8 1211.9,999.5 1185.7,1002.4 1187.6,1010.2 1219.3,1000.6 1251.7,974.8 1207.2,1007 1303.6,1004.8 1208.3,1009.9 1200.3,1005.5 1212.8,972.7 1178.7,1021.1 1203.7,997.8 1267.2,1004.2 1173.6,1015 1196.9,988.9 1241.9,995.3 1251.7,1011.8 1195.9,1000.8 1231.4,1018.9 1268.6,974.6 1227.1,952.5 1266.3,1001.4 1223.5,982.2 1202.7,1028.3 1211.7,1026 1176.6,1011.1 1218.8,1015.6 1183.3,1005.3 1199.9,996.7 1255.3,1013.4 1198.5,1001.6 1275.1,1011.2 1271,1002 1266.6,976.8 1203.8,1001.1 1265.6,1000 1259.2,998.1 1175.7,1030.5 1278.7,1017.8 1228,992.8 1187.6,1009.7 1225.9,988.6 1208.4,994.9 1310.7,1011.4 1221.3,995.2 1221.1,986.9 1296.8,1010.5 1178.3,1018.8 1192.3,993.6 1213.7,1000 1252.6,923.7 1207.4,979.7 1198.8,1005.4 1216.7,1003.6 1228.8,994.1 1199.9,1016.6 1227.7,1007.3 1213.3,1006.4 1174.7,1013.1 1212.4,989.7 1205.9,1002.4 1215.1,1028.5 1199.9,992.4 1245.7,925.7 1255,948.1 1214.6,1009.5 1222,984.9 1191.4,993.4 1205.6,1004.3 1261.4,969.5 1251.7,945.8 1327.3,1015.4 1195.5,1021.6 1291.3,994.4 1191,1002.6 1206.9,994.3 1230.5,1000.5 1228.5,1008.1 1192.5,991.1 1184.4,1031.6 1332,1002.5 1190.5,1002.9 1244.9,982.4 1201.5,1002.2 1191.1,1011.9 1217.9,1012 1219,1004.9 1190.3,1021.6 1187.3,1000.7 1279.2,1008.6 1195.4,1016.3 1238.8,992.4 1299.4,1011 1279.4,974.9 1195.2,1033.8 1195.8,1032.7 1202.1,994.9 1236,984.9 1244.4,998.6 1191.3,994.7 1192.8,1000.8 1235.3,991.3 1299.9,1004.4 1206,1009.4 1215.7,991.4 1261.1,917.4 1195.5,1000 1312.3,1010.1 1200.5,998.5 1203.7,978 1241.8,987.6 1279.1,993.3 1208.9,1003.1 1198.8,998.2 1212.6,985.7 1175.1,1020.5 1210.2,989.6 1303.9,1013.4 1323.7,1003.2 1257,989.6 1218.5,976.3 1227.5,1004.3 1218.9,1007.4 1236.2,1008.7 1303.4,998 1246,1014.2 1186.6,1008.8 1221.5,1005.3 1251.6,1008 1196.3,1021.3 1244.6,990.6 1183.4,1019.8 1208.6,987.1 1179.6,1007.3 1161.6,1034.5 1279.5,1001.1 1205.8,990.5 1196.2,1009.3 1196.8,984.8 1212.3,1010.4 1184.8,1014.2 1207.1,999.7 1196.7,1018.7 1265.7,934.4 1208.1,990.8 1196.4,1011.4 1228.8,983.8 1283,890.8 1284,904.6 1321.3,925.5 1335.3,933.7 1315.4,938.6 1291.7,938.6 1295.7,940.6 1266.8,939.6 1242.4,925.3 1245.7,927.6 1240,929.2 1236,933.7 1231.9,936.6 1237.2,936.9 1224.5,941.1 1258.7,944.3 1307.5,945.3 1295.7,941.4 1274.5,965.2 1240.7,973.9 1249.1,981.1 1258.4,983.5 1302.1,1038 1341.5,1065.1 1221.3,1026.9 1252.8,1028.1 1179.1,1006.4 1172.7,1015.8 1179.1,1015.3 1180.5,1019.7 1179.6,1024.2 1175.6,1027.1 1174.6,1030.3 1176.4,1036.7 1203.5,1027.4 1401.3,924.4 1346.4,957.2 1274.2,965.2 1365,992.3 1342.6,1064.1"/></defs><use href="#p54" class="fz"/><use href="#p54" class="sz"/>
<defs><polyline id="p55" points="1210.6,934.1 1175,948.5 1196.6,944.9 1189.4,962.1 1178.3,947.1 1180,955.1 1146.8,984.7 1198.4,940.7 1166.2,961.9 1165,959.5 1198.1,954.5 1185.4,958.1 1178.2,956.8 1198.4,937.4 1183.4,953.6 1204.2,903.3 1164.4,971.6 1169.6,967.6 1178.9,938.1 1178.6,959.4 1179.2,962.3 1211.7,941.4 1170.2,968.8 1190.4,951.1 1170.9,960.4 1194.6,934 1168.3,958.2 1193.8,935.4 1177.6,959.7 1166.6,960.8 1180,968.9 1176.9,977.2 1237.7,954 1162,967.3 1182.9,959.1 1163.2,960.3 1177.5,962.2 1199.1,943.4 1174.1,965.2 1171.8,964.9 1195.8,944 1167,970 1172.1,954.7 1183.2,952.6 1181.3,965.1 1165.3,971.9 1175.3,954.6 1210.1,909.6 1160,982.2 1161.1,986.2 1196.3,951.6 1195.7,932.4 1179.6,958.6 1195.8,947.4 1309.2,910.2 1176.7,936.5 1193.6,941.9 1198,945.9 1151.6,1000.4 1191.1,951 1168.9,955.6 1192.8,909.1 1182,940.7 1199.5,929 1193.4,951.6 1183.5,949.3 1184,952.6 1174.4,940 1186.7,944.3 1175.4,970.2 1190.5,955.5 1164,975.5 1187.8,956.9 1179.1,976.9 1187.2,960.8 1181.8,957.1 1180.2,956.4 1167,974.9 1148.2,976.8 1174.3,959.7 1132.2,996.1 1182.5,944.4 1172,975.4 1145.1,992.4 1146.7,995.6 1197.9,925.6 1160.1,977.9 1192.3,954.9 1178.5,948.3 1183.6,949.9 1183.3,968.7 1221.8,900.1 1187.7,941 1214.5,917.7 1182.6,965.8 1180.1,967.8 1189,944.6 1198,936.8 1175.7,963.9 1184,964.8 1182.7,950.7 1176.5,966 1181.9,974 1179.3,1000 1187.9,974.6 1180.7,962.9 1179.4,967.9 1186.1,972.6 1187.5,962 1190.2,973 1156.9,981.2 1170.4,956.4 1181.9,937.6 1167.6,976.7 1179.9,943 1168.7,960.8 1197.6,959.2 1176.6,953 1170.2,978.3 1179,970.1 1208.9,919.8 1153.9,983.9 1178.4,956.1 1163.3,982.6 1193.8,948.9 1159.6,979.7 1199.9,939.9 1189.5,949.1 1210.4,948.1 1193.7,934.9 1192,956.9 1174.7,954.2 1178.9,945.2 1182.8,967 1184.9,955.7 1176.6,960.4 1159.5,974.1 1182.4,961.7 1189,956.4 1220.3,940.4 1176.3,930.6 1175.9,967.4 1187.7,949.7 1186.2,952.7 1197.7,945.7 1194.1,953.2 1194.7,899.3 1161.4,965.7 1182.1,941.8 1186.7,962.5 1210.6,925.7 1168.4,962.2 1130.4,992.3 1196.9,953.4 1185.1,939.2 1166.6,978.3 1164.4,972.5 1203.8,936.6 1181.4,973.7 1185.6,956 1187.5,949.7 1172.2,942.5 1169.8,981.5 1168.5,940.8 1170.1,997.8 1167.1,957.6 1186.5,958.9 1184.8,953.3 1180.1,973.5 1192.3,935 1180.3,982.9 1175.6,935.7 1162,978.2 1155.9,973.9 1170.4,932.4 1172.6,975.1 1190.8,928.5 1167.6,965.2 1185.6,960.2 1186.7,989.3 1160.7,962.8 1194.9,940 1191.5,958.2 1186.3,954.6 1185.3,970 1179.3,958 1204.2,948.3 1184.7,943.5 1177.1,974 1205.5,936.3 1174.2,971.8 1204.5,948.8 1174.7,963.4 1200.6,935.4 1183,938 1171.2,959.8 1196.6,937.6 1177.4,983 1192.7,943.3 1216,909.4 1161.4,971.1 1256.4,920.5 1200.6,938.3 1139.9,971.1 1154.9,953.4 1183.8,957.2 1164.1,953.7 1180.4,960.5 1179.8,956 1208.8,943.7 1201,952.1 1171.6,965.1 1163.5,952.6 1217.9,946.1 1201.6,928.2 1182.2,944.7 1189.3,948.3 1212.8,965.6 1174.4,965.9 1188.3,955.9 1204.4,936.8 1185.1,958.5 1183.8,964.2 1154.4,986.3 1169.8,978 1178.5,953.5 1176.5,951.4 1177,970.4 1190.8,936.1 1186.3,965 1158.6,950.6 1167,966.1 1193.4,939.1 1176.1,940.4 1192,932.1 1193.1,940.7 1199.9,935.6 1169.2,968.3 1154.5,967.2 1208,956.1 1194,948.6 1271.2,923.1 1184,970 1199.1,913.1 1182.2,942 1201.8,932.2 1170.3,955.8 1260.9,948.7 1171.1,954.8 1163.1,972.6 1170.7,974.3 1166.5,959.1 1213.2,940.6 1166.4,989.4 1181.6,981.4 1199.3,922.3 1197.1,948.4 1155,956.7 1223,961.7 1208,927.2 1199.3,957.3 1201,947 1177.4,964.8 1176.6,963 1183.2,950 1203,924.1 1194.6,942.3 1173.7,967.3 1217.3,924.1 1160.4,979.2 1182.5,947.8 1173.2,952.6 1172.7,974.4 1170.7,966.7 1161.4,884.4 1202.2,878 1201.5,893.3 1123.9,931.5 1164.3,936.6 1146.8,941.1 1166.3,940.6 1280.2,912 1256,915.2 1253.6,927 1276.9,930.5 1312.9,930.2 1249.8,940.6 1238.5,924.3 1242,928.5 1234.6,905.1 1235.8,907.6 1228.6,884.9 1225.2,889.8 1249.8,941.9 1265.3,943.8 1258.4,1008.9 1299.4,1005.9 1229.6,1021.2 1230.8,1025.4 1257,1023.2 1217,1001.5 1214.4,976.9 1212.9,978.8 1133.2,966.5 1137.7,967.7 1142.1,997.1 1119.4,989.7 1140.1,974.4 1186.5,995.6 1195.3,993.1 1203.7,987.7 1191.4,982.3 1162.8,992.1"/></defs><use href="#p55" class="fy"/><use href="#p55" class="sy"/>
<path d="M1168.3 692.3V1268.8" stroke="#1a1a1a" stroke-width="1.9"/><path d="M860.9 961.3H1437.2" stroke="#1a1a1a" stroke-width="1.9"/><rect x="1072.2" y="807.6" width="268.9" height="269" fill="none" stroke="#000" stroke-width="1.5"/>
<defs><polyline id="p56" points="1013.4,1098.9 1140,1019.4 1050.5,1058.8 1077.8,1151.9 1121,1034.2 1043.8,1056.5 1023.1,1090.4 1012.6,1119.6 952.8,1116.2 956.3,1124.5 1146.9,1017.4 923.7,1133.5 1082.7,1091"/><polyline id="p57" points="899.1,1062.4 914.5,1066.6 925.5,1069.1 929.7,1077.2 899.1,1095.1 902.2,1093 911.7,1091.9 921.3,1089.8 895.9,1100.4 933.9,1075 943.4,1076.1 998.2,1168.3 1018.2,1082 1021.4,1078.3 1116.7,1133 995.1,1087.7 1035.2,1066.1 1015.6,1091.9 1060.7,1083.1 916.6,1164.1 1033.5,1091 1007.5,1091 1206.2,941.9"/><polyline id="p58" points="1120.4,1042.8 1062.5,1077.8 1003.3,1084.7 1040.3,1118.3 1019,1095.2 1073.9,1068.5 931.2,1126 878.5,1250.8 1014.9,1079.7 1101.2,1030.5 1040.7,1123 981.1,1125.9 1049.4,1093.4 1005.8,1148.6 965.3,1102.7 1030.2,1141.6 1077.6,1034.5 1113.9,1049.7 1027.4,1106.5 979.2,1182.4 1000.8,1103.6 1135.9,1053 992.3,1108 1039.3,1074.6 968.8,1115.8 1053.4,1076.5 975.4,1097.4 1023.4,1086.9 1053.1,1056.8 1029.3,1120.2 970.6,1101.7 1028.9,1071.7 1017.1,1089.4 1040.5,1093.9 1032.9,1158.6 912.2,1175.2 1125.6,1117.5 998.6,1124.8 972.1,1109.9 978.3,1140.7 1148.3,1027.5 963.9,1125 1065.4,1041.4 1114.3,1014 934.1,1138.8 1000.7,1093.9 1024.2,1098.3 1024.7,1121.9 902.3,1154 994.7,1194.1 1018.3,1088.7 1047.7,1071 912.4,1208.1 1103.3,1085.7 1013,1118.2 1002.2,1093.7 1040.8,1095.6 922.9,1140.7 1064.6,1051.7 959.5,1171.3 925.8,1141.9 1035,1153.3 992.3,1105.7 1021.8,1113.3 937.2,1187 971.8,1129.8 1059.7,1152.6 971.4,1149.6 1074.4,1154.9 982.2,1115.9 937.5,1168.3 1060,1152.6 946.7,1161.9 1009.3,1080.6 1024.7,1079.8 917.8,1140.7 965.7,1111.5 973.6,1206.4 1032.6,1097.6 1013.4,1140.2 1158,986.1 1129,1004.5 1031.9,1103.2 1139.8,1018.5 950.3,1138.7 936.8,1179.8 944.3,1125.1 1001.5,1150.7 958.9,1106.6 974.7,1112.6 980.5,1130.6 1105.5,1078.3 894.3,1163.9 929.1,1124.8 1095.9,1044.9 953.4,1128.9 1101.3,1025.2 1030.5,1087.9 1035.9,1091.8 998.7,1103 883.8,1191.8 1062.1,1063.9 986.6,1104.5 953.7,1142.8 953.1,1152 941.7,1129.8 1022,1093.2 1118.9,1015.2 1062.3,1081.9 1012,1107 992.9,1127.6 1001.1,1098.9 977.6,1167.2 1069.4,1057.5 1012.1,1104.7 966.2,1123.8 1062.8,1078.8 948.8,1121.3 1031.3,1090.3 1081.6,1077.3 996.8,1087.1 1045.5,1170.1 1083.2,1091.8 995.3,1084.1 1092.8,1031.9 936.2,1175.6 958.4,1120.9 1012.5,1090.2 955.7,1128.1 1055.9,1115.8 1123.4,1021.3 1016.8,1078.9 953.5,1116.2 969.3,1153.8 1004.7,1156.9 970.4,1100.7 988.9,1104.3 1063.1,1098.2 1106.9,1093.1 961.4,1130.5 926.8,1129.5 1002.9,1102.3 1042.2,1055.6 1091,1030.4 1046.6,1087.2 1061.9,1183.3 964,1134.1 1040.8,1095.6 928.6,1206.3 1051.4,1112.8 1111.4,1025.1 1110.4,1041.8 1116,1072.3 1011.6,1116.2 1140.4,1017.6 988.4,1130.4 1045.1,1060.6 1063.7,1042.7 1000.7,1122.3 994.1,1097.3 1011.2,1075.3 1026.4,1087.6 927.7,1164 953.2,1190.6 1052.8,1053.2 1025.7,1155.6 892.4,1216.8 1125.5,1014.8 977.5,1103.5 975.3,1134.3 957.5,1135.1 915.7,1158.4 997.3,1091.8 1011.5,1106.2 928,1197.5 1118.8,1013.9 1015,1076.5 960.1,1113 977.3,1117.5 1066.6,1107.8 1035.8,1067.4 1060.5,1090.1 1020.4,1096.7 1111.1,1026.3 1125.1,1043.6 983.8,1105.3 1092.3,1042.7 942.1,1119 1084.9,1033 1014.4,1074.1 1036.7,1086.5 1095.8,1049.9 1101.2,1068.3 977.6,1100.3 959.3,1150.9 964.7,1120.1 962,1159.2 956.9,1150.9 998,1114.2 980.4,1108.2 1041.3,1201 931.8,1128.7 1109,1025.7 1075.7,1053.7 1004,1088.3 1111.9,1075.7 1160.3,993.1 1003.1,1092.8 1001.5,1224.1 946.1,1131.2 949.2,1217.4 899.5,1181.7 1024.3,1177.9 983,1154.5 1105.4,1029.4 1032.5,1070.2 952.9,1134.4 1008.1,1222.9 949.8,1185.6 1022.2,1082.7 1024.4,1072.9 1084,1062.8 1067.4,1042.7 998.2,1104.2 1029,1067.4 1023.2,1078.6 1041.1,1104.5 977.2,1139.8 919.3,1130.9 1091.9,1035.8 944.2,1136.8 1050.5,1126.4 990.2,1107.2 900.4,1169.3 968.6,1101.6 955.6,1208.7 1002.8,1095.9 1091,1027.4 979.5,1215.9 1032.7,1136.5 1015.8,1092.3 1024,1102.4 887.7,1172.3 1072.6,1065.5 961.5,1122.1 983.5,1106.2 1012.4,1082 884.8,1153.8 995.6,1092 1059.6,1054.8 1071.3,1056.6 995.4,1127.9 1073.5,1063.3 980.9,1123 1027.6,1112.7 1012.1,1095.3 947.6,1171.6 1055.2,1075.5 978.9,1130.4 1001,1102.6 1063.3,1058.4 966.3,1109 1151.5,1035.2 1048.6,1054 1039.7,1076.5 1084.9,1035.8 931.2,1158.8 1066.4,1053.8 1074.2,1073.5 998.4,1143.2 1069.4,1043.1 1022.7,1080.7 985.5,1138.1 1015.2,1154.3 1025.3,1073.7 952.9,1162.8 1006,1088.3 1077.3,1034.3 1130.4,1016.9 1011.1,1098.3 1007,1165.2 1010.9,1117.5 999.7,1089.9 955.6,1153.6 941.8,1120.7 972.2,1104.4 1005,1148.3 1068.8,1228.2 1104.9,1021.7 1088.8,1054 987.4,1108.7 998,1225.3 1019.2,1087.4 1017.8,1110.4 1008.2,1122.7 1025.5,1094.4 1047.2,1071 1165.2,1008.7 1054.1,1093.7 981.8,1116 1011.9,1075.1 960,1122.4 974.1,1109.4 924.5,1144.3 956,1116.1 1075.4,1151 1081.7,1093.6 1059.8,1055.7 1048.3,1063.4 1022.5,1096 1005.5,1101.2 988.8,1126.7 968.3,1125.4 956.5,1152.9 905.1,1217.5 1044.3,1077.9 948.3,1114.7 1052.3,1056.3 1001.1,1141.7 952.1,1152.7 969,1116.4 935,997.3 1051.2,992.7 963.5,1042.7 871.6,1214.4 891.7,1188 932.4,1208.1 956.1,1215.1 966.7,1222.9 975.1,1222.5 979.3,1222.9 985.3,1246.6 995.2,1210.9 1023.7,1230.3 1024.7,1236.2 1043.8,1222.3 1043.3,1231.3 1073.8,1173.7 1092.3,1192.3 1077.1,1212.3 1138.2,1163.3 1145.1,1173.3 1134.2,1086.2 1154.2,1102.5 1150,1175.4 1165.8,1068.7 1165.8,1047.6 1154.2,1030.7 1114.8,977 1099.7,988"/><polyline id="p59" points="1123.5,1003.3 1044.9,1048.1 923.4,1134 960.9,1088.8 1088.9,1009.7 1051.5,1016.8 1074.5,1019.9 1067.6,1031.2 1039.7,1065.7 956.5,1095.4 931.3,1102.8 1040.7,1053 1058.4,1015.9 1061.3,1024 1119.3,980.8 1053.8,1038.6 1068.6,1025.2 1104.1,997.6 1002.2,1055.8 1004.1,1051.3 1047.1,1035.5 1119.5,997.7 940.8,1104.1 1042.2,1044.2 1060.4,1037.8 1045.4,1047.2 1086.6,1012.5 913.6,1116.3 1112.3,991 983.7,1071.3 1000.4,1058.7 1099.8,1011.8 1067.3,1040.5 1024,1064.6 951.3,1101.8 966.4,1083.7 1007.5,1054.8 1052.2,1028.3 1065.1,1021.7 982.3,1089.2 926.9,1107.2 1036.7,1045.5 1071.3,1030.9 992.7,1065.1 1053.3,1045.7 1092.3,1026.9 965.3,1097.7 986.6,1086.1 1061.8,1038.4 1016.3,1054.7 944.3,1114.1 987.3,1090.2 1078,1030.3 962.4,1085.6 1009.2,1054.4 991.4,1085.2 1113.5,991.3 990.5,1073.2 1007.9,1055.6 996.8,1057.5 1001,1067.6 995.7,1078.9 1085.1,1009 1060.4,1034.3 1099.4,999.4 958.7,1089.6 964.7,1087.3 958.9,1089 1036.3,1042.1 985.1,1058.2 1069.1,1005.7 1105.1,1010.3 1129.5,984.6 1125.8,982.6 1084.9,1027.5 1005,1072.8 1066.1,1042.8 1008.2,1056.6 1006.6,1068.3 962.3,1094 956.2,1111 1073.5,1025.6 1119,995.5 978.6,1068.6 966.2,1085.7 1071.7,1014 1005.8,1060 1017.1,1064.8 1104.7,1006.5 1065.6,1027.2 1095.3,1006.2 1092.3,1014.8 1079.3,1012.7 1050,1050 957.4,1101.4 1016.7,1058.4 1053.6,1040.1 989.1,1081.6 1007.2,1073.8 1027.5,1058.6 1037.5,1029.5 1062.3,1049.8 1013.8,1068.8 1026.1,1046 950.5,1088 1050.1,1043.4 1000.9,1073 946.5,1094.1 963.6,1110.7 943.8,1096.5 1127.8,1006.1 980.6,1074.9 966.2,1077.4 1071,1030.5 1005.7,1045 1085.1,1019.3 964.3,1077.6 1053.7,1051.6 1107.8,994.8 1079.7,1021.1 945.8,1098.4 1125.8,985.3 1061.7,1031.1 1027.2,1064.6 1068,1029.7 1057.8,1042.8 939.4,1115.9 1047.6,1023.4 1000.2,1088.1 919.4,1112.4 1110.9,1005.2 961.1,1090.5 1056,1031.1 1081.9,1019.3 918.8,1128.5 1038.6,1059.7 1075.3,1038.7 1019.6,1054.1 989.9,1053.5 996.2,1071.5 995.7,1068 999.6,1081 1123.8,1000.6 1010.2,1046.8 1037.9,1042 1032.4,1046.8 1047.2,1033.9 931.4,1112.8 1017.6,1052.8 960.6,1090.2 931.8,1116.7 1019.8,1057.8 1109.4,996.7 1076.8,1023.3 962.7,1096.3 1004.2,1057 1034.4,1042.5 926.8,1121.8 974.1,1087.8 1052,1036.6 1003.4,1066.9 1121.6,988.9 1091.4,1012.2 1039.5,1043.6 917.2,1131.2 1040.2,1047.7 962.7,1086.8 907.1,1119.3 1123.8,1009.4 1013.9,1066.2 1014.1,1055.4 1002.9,1065.6 1028.9,1057.3 1063.2,1035.2 1060,1030.6 956.8,1093.8 1088.3,1016.6 1067.2,1022.2 1003.1,1054 1050.6,1044.6 1088.9,1003.9 1010.5,1067.3 1088.2,1013.7 1049.2,1034.9 1100.2,1004.4 1020.8,1055.3 977.2,1083.4 1053,1025.6 1105.5,1010.9 1034.7,1051.4 1008.7,1052.4 1035,1044.9 1061.4,1044.7 1059.6,1027.6 1021.3,1067.3 921.6,1114.9 1069.1,1016.3 1099.7,1016 1097.5,1003.5 1027.9,1066.1 1043.3,1049.5 1004.2,1070.7 1036.2,1037.5 1053.8,1053.2 1081.7,1028.8 1057.2,1032.1 1041.2,1037.5 1032.3,1063.2 1097.8,1018.6 944.2,1110.1 1019.2,1060.3 1070.5,1036.7 1098.7,991.1 1060.9,1033.2 1009.4,1062.4 971.7,1073.2 1061,1029.5 1042.5,1051 1044.4,1049 921.6,1128.9 909,1124.2 1069.7,1021.5 1006.9,1066.5 978.5,1081.8 1095.5,1015.2 1031.8,1041.8 1048.4,1036.2 1014.8,1068.5 964.1,1082.9 1017.4,1067.9 1025.3,1050.2 968.7,1085.4 1063.5,1019.3 997.9,1064.8 1024.4,1042.2 1075.8,1014.8 1056,1044.3 1025.3,1038.5 1029.9,1059.4 1126.2,1001.2 1036.9,1046.4 969.9,1079.9 864.2,1150 891.3,1133.1 897,1135.2 894.9,1151.1 897,1157.4 910.7,1142.6 913.9,1147.9 914.9,1115.2 922.3,1109.9 929.7,1124.7 1162.3,962.1 1151.2,969.3 1145.8,977.3 1133.2,981.8 1141.6,990.2"/></defs><use href="#p56" class="fx"/><use href="#p56" class="ox"/><use href="#p57" class="fx0"/><use href="#p57" class="ox0"/><use href="#p58" class="fx2"/><use href="#p58" class="ox2"/><use href="#p59" class="fx1"/><use href="#p56" class="sx"/><use href="#p57" class="sx0"/><use href="#p58" class="sx2"/><use href="#p59" class="sx1"/>
<defs><polyline id="p60" points="1262,864.7 1293.7,871.9 1319.4,799.8 1324.9,796.7 1330.2,804.1"/><polyline id="p61" points="1293.2,816.1 1312.9,841.7 1331.7,873.7 1364.8,791.8"/></defs><use href="#p60" class="fc1"/><use href="#p60" class="oc1"/><use href="#p61" class="fc2"/><use href="#p61" class="oc2"/><use href="#p60" class="sc1"/><use href="#p61" class="sc2"/>
<defs><polyline id="p62" points="1119.7,844.5 1097.7,860.2 1120.4,867.3 1175.6,913.8 1177.4,922.8 1190.4,938.1 1101.4,717 1062.3,906.1 1029,912.8 1041.6,918.5"/></defs><use href="#p62" class="fd"/><use href="#p62" class="sd"/>
<defs><polyline id="p63" points="1263.3,910.2 1288.3,908.1 1243.4,936.9 1230.9,938.9 1228.4,949.3 1233.6,954 1216.8,956.4 1253.3,957.3 1225.2,962.6 1216.8,965.5 1220.3,970 1215.3,972.4 1206.5,968.5 1218.1,982.8 1259,1001.3 1329,995.6 1290.7,1076.4 1196,987.4 1173.6,1018.1 1206.2,968.5 1268.7,1091.3 1222.2,1106.1 1363.3,1128.9 1197.1,1157"/></defs><use href="#p63" class="fn"/><use href="#p63" class="sn"/>
</g>
<path d="M937.7 1268.8v-13.2M937.7 692.3v13.2M1014.6 1268.8v-13.2M1014.6 692.3v13.2M1091.4 1268.8v-13.2M1091.4 692.3v13.2M1168.3 1268.8v-13.2M1168.3 692.3v13.2M1245.1 1268.8v-13.2M1245.1 692.3v13.2M1321.9 1268.8v-13.2M1321.9 692.3v13.2M1398.8 1268.8v-13.2M1398.8 692.3v13.2M899.3 1268.8v-7M899.3 692.3v7M976.2 1268.8v-7M976.2 692.3v7M1053 1268.8v-7M1053 692.3v7M1129.8 1268.8v-7M1129.8 692.3v7M1206.7 1268.8v-7M1206.7 692.3v7M1283.5 1268.8v-7M1283.5 692.3v7M1360.4 1268.8v-7M1360.4 692.3v7M860.9 1191.9h13.2M1437.2 1191.9h-13.2M860.9 1115.1h13.2M1437.2 1115.1h-13.2M860.9 1038.2h13.2M1437.2 1038.2h-13.2M860.9 961.3h13.2M1437.2 961.3h-13.2M860.9 884.5h13.2M1437.2 884.5h-13.2M860.9 807.6h13.2M1437.2 807.6h-13.2M860.9 730.7h13.2M1437.2 730.7h-13.2M860.9 1230.4h7M1437.2 1230.4h-7M860.9 1153.5h7M1437.2 1153.5h-7M860.9 1076.6h7M1437.2 1076.6h-7M860.9 999.8h7M1437.2 999.8h-7M860.9 922.9h7M1437.2 922.9h-7M860.9 846h7M1437.2 846h-7M860.9 769.2h7M1437.2 769.2h-7" stroke="#000" stroke-width="1.35" fill="none"/>
<rect x="860.9" y="692.3" width="576.3" height="576.5" fill="none" stroke="#000" stroke-width="1.8"/>
<text x="860.9" y="1305.6" text-anchor="middle" font-size="29">−800</text>
<text x="937.7" y="1305.6" text-anchor="middle" font-size="29">−600</text>
<text x="1014.6" y="1305.6" text-anchor="middle" font-size="29">−400</text>
<text x="1091.4" y="1305.6" text-anchor="middle" font-size="29">−200</text>
<text x="1168.3" y="1305.6" text-anchor="middle" font-size="29">0</text>
<text x="1245.1" y="1305.6" text-anchor="middle" font-size="29">+200</text>
<text x="1321.9" y="1305.6" text-anchor="middle" font-size="29">+400</text>
<text x="1398.8" y="1305.6" text-anchor="middle" font-size="29">+600</text>
<text x="847.3" y="1277.2" text-anchor="end" font-size="29">−800</text>
<text x="847.3" y="1200.3" text-anchor="end" font-size="29">−600</text>
<text x="847.3" y="1123.5" text-anchor="end" font-size="29">−400</text>
<text x="847.3" y="1046.6" text-anchor="end" font-size="29">−200</text>
<text x="847.3" y="969.7" text-anchor="end" font-size="29">0</text>
<text x="847.3" y="892.9" text-anchor="end" font-size="29">+200</text>
<text x="847.3" y="816" text-anchor="end" font-size="29">+400</text>
<text x="847.3" y="739.1" text-anchor="end" font-size="29">+600</text>
<text x="868.9" y="956.8" text-anchor="start" font-size="19.4">solar</text><text x="1164.1" y="1260.5" text-anchor="start" font-size="19.4" transform="rotate(-90 1164.1 1260.5)">solar</text><text x="878.2" y="732.8" font-size="32.5">(e)</text>
<text x="1149" y="1365.3" text-anchor="middle" font-size="39"><tspan font-family="'Liberation Serif', 'DejaVu Serif', serif" dy="0">δ</tspan><tspan font-size="25.5" dy="-16.6">30</tspan><tspan dy="16.6">Si (‰)</tspan></text><text x="763.6" y="980.5" text-anchor="middle" font-size="39" transform="rotate(-90 763.6 980.5)"><tspan font-family="'Liberation Serif', 'DejaVu Serif', serif" dy="0">δ</tspan><tspan font-size="25.5" dy="-16.6">29</tspan><tspan dy="16.6">Si (‰)</tspan></text>
</g>
<g id="panel-f">
<clipPath id="clf"><rect x="1590.3" y="692.3" width="576.3" height="576.5"/></clipPath>
<g clip-path="url(#clf)">
<defs><polyline id="p64" points="1801.7,1000.1 1831.3,1010.5 1811.8,985.2 1733.9,1054.8 1839.4,1004.5 1783.5,1005.6 1880.6,929.1 1798.3,1045.8 1841,943.4 1795.7,1000.3 1858.6,1023.7 1858.1,933.9 1852.2,988.9 1727,1049.2 1795.8,1020 1836.5,923.8 1833.2,1022.7 1846.9,932 1776.3,1013.6 1753.8,1026.6 1849.9,966.2 1800.3,1010.8 1847.9,948.9 1889,948.6 1722.1,1056.9 1809,980.1 1817.1,1005.8 1820.9,955.1 1730.5,1085.5 1933.4,870.3 1793.5,1051.6 1761,1009 1760.9,1061.2 1882.7,982.7 1872.2,975.1 1757.7,1033.7 1778.4,1055.7 1724.8,1017.4 1811.6,1010.1 1738.7,1134 1812.7,970.1 1796.9,1023.7 1872.8,989.3 1770.5,1008 1811.4,1018.1 1759,996.5 1755.8,1019.3 1870.8,993.7 1874,914 1873.7,976.8 1806.7,950.4 1892,940 1862.1,1000.5 1811.6,984.9 1912.5,893.6 1849.7,981 1814.6,1056.6 1776.5,1058.1 1945.5,822.4 1817.1,964.5 1766.1,970.8 1821.8,951.8 1901.2,960.8 1779.2,1013.8 1792.9,1069.3 1878.7,962.4 1806.1,962.9 1774.4,1009 1694.6,983.3 1797.2,999.1 1788.8,1103.3 1777.8,1082 1858.8,950.1 1898,927.2 1834.7,1034.1 1795.6,1036.2 1845.1,993.5 1850.3,954.3 1787.7,1034.1 1836.9,972.7 1904.2,928.8 1832.8,942.5 1871.7,943.6 1812.7,986.3 1817.4,1024.4 1794.1,1035.7 1839.4,1051 1775.2,1005 1711.7,1018.6 1829.8,990.7 1890.7,914 1748.7,1045.5 1841.2,993 1742.7,1009.4 1841.2,956.1 1753.3,1088.3 1870.1,938.6 1796,1078.2 1792.1,997.2 1773.4,1051 1892.9,933.7 1795.7,980.5 1855.2,951.2 1779.6,1021.3 1753.3,1040.5 1822.9,971.7 1822.5,961.3 1798.4,1082.4 1824,985.1 1860.2,973.3 1720.7,1109.1 1846.7,961.4 1850.2,965.2 1939.2,926.3 1795,1011.3 1774.7,1024.2 1831.3,972.4 1818.5,989.2 1815.7,1043.3 1748.2,1015.2 1829.3,1038.9 1834.5,979.2 1758.8,1019.2 1780.6,1044.1 1716.9,1112.7 1809.1,1020.8 1818.2,993 1841.7,967.4 1840.1,979.2 1832.4,1033.3 1729.4,1101.7 1774.5,1061.6 1880.3,949.7 1800.4,1130.3 1873.9,930.5 1800.6,1029.3 1835.1,1007.6 1778.5,1007.2 1795.5,975.9 1822.2,986.8 1880.4,921.9 1857.3,920.6 1851.5,917.2 1769.5,1054.5 1810,1031.5 1849.9,987.5 1848.1,987 1880.8,913 1848.3,963.2 1812.3,1013 1840.2,944.7 1833.7,993.6 1789.9,1041.3 1795.4,1009.5 1840,1002.7 1734.6,1078 1826.9,936.1 1795.6,1004.4 1842.8,962.4 1772.5,1084.5 1781.2,1052.3 1755.5,1011.7 1703.1,1092.7 1839.8,1005.9 1785.2,1070.1 1823.2,992.7 1829.2,943.4 1783.8,1005.3 1855.3,986.9 1847.7,952.9 1795.5,1050.8 1844.8,922.6 1836,1037.5 1772.5,1076.6 1842.7,975.1 1888,931.4 1758.5,1025 1766.9,1018.2 1819.9,968.2 1823.2,962.2 1818.9,980.7 1840.1,967.3 1777,1010.5 1841,959.1 1798.6,1007.3 1783.6,1000.5 1856.3,925.3 1778.6,1010.4 1749.7,1108.8 1808.7,1003.8 1781.1,964.9 1863,1022.1 1831.8,1037.7 1794.8,1068 1873.5,914.3 1848.3,1057.2 1757.4,1026.3 1763.7,1024.6 1824.5,975.8 1839.3,934.4 1807.1,1014.7 1773.5,1040.8 1829,1001.4 1833.3,987.5 1797.5,1011.1 1819.6,1010 1877.7,941.3 1797.2,967.1 1715.6,1087.3 1822.8,972.5 1760.9,1071.5 1843.5,1019 1735.3,1039.4 1811,1029 1798.8,1068.1 1838,996.6 1839.2,1005.6 1790.9,1046.5 1816.1,1012.4 1776.9,1058.7 1824.3,1014.4 1848.4,934.6 1887.6,966.8 1852.6,975.6 1749.1,1040.6 1872.1,981.4 1787.5,1034 1767.8,1026 1789.4,1037.3 1776.5,1027.2 1765.3,1060 1770.6,1091.4 1790.8,1050.4 1817.4,985 1914.6,934 1814.2,1030.8 1773.8,1053.5 1795.1,1021.3 1785.7,937 1860.6,1003.1 1789,1060 1869.6,947 1856.3,930.5 1726.5,1115.5 1843.7,977.7 1738.9,1083.6 1795.5,1034.4 1753,1002.3 1860.5,968.1 1828.5,956.4 1765.3,968.8 1745.9,1085.9 1900.2,865.4 1780.9,1043.3 1867.4,996.3 1803.4,1016.6 1816.7,1020 1859.9,1013.1 1793.6,1017.7 1723,1074.6 1697.2,1107.9 1884.6,974.5 1898.3,958.3 1885.7,914.5 1854.9,928.8 1832.5,994.6 1814.1,1004.2 1829.6,1092.9 1733,1043.9 1844.1,972.8 1793.3,999.5 1788,973.9 1807.7,1002.9 1769.2,993.3 1749.9,1010.9 1808.2,996.1 1819.4,993.7 1822.9,1022 1803.1,984.1 1796,1036.4 1918,916.4 1712,1053.2 1835,925 1929.5,919.3 1864.8,969.6 1839.7,983.6 1727,1064.5 1762.3,1031.5 1807,984.1 1733.7,1054.8 1834.2,991.1 1875.4,937 1911.2,931.7 1865.5,935.6 1768.5,1087 1839.5,955.6 1785.8,994 1833.7,1023.4 1856.2,969.9 1865.4,949.1 1846.7,997.3 1797.8,998.6 1789.6,1044.8 1864.6,932.7 1793.9,1033.9 1785.2,1002.7 1875.2,936.5 1828,998.9 1860.3,977.1 1835.4,989.2 1752.9,1035.3 1833.5,957.4 1738.1,1085.5 1787.7,1042.5 1783.9,1029 1803.2,1065.7 1822.4,957.2 1829.4,961.7 1799.1,1008.6 1775.9,1090.4 1858.5,976 1711.9,1033.4 1841.8,996 1873.3,1010.9 1756.1,1056.3 1804.5,1075.2 1859.5,923.6 1880.4,884.4 1743.6,1056.8 1776.5,1043 1775.9,1033.9 1826.9,1007.6 1764.8,1077.5 1808.7,1060.2 1778.6,1037.4 1815.3,929.1 1836.4,1019.6 1798.2,1013.9 1701.8,1121.7 1846.1,984.4 1787.4,1025.4 1765.9,1019.4 1832.8,956.3 1787.1,1055 1780.6,1045.8 1703.2,1079 1770.5,1018.2 1735.8,1060.1 1791.2,998.6 1871.6,939.6 1838.9,1009.1 1853.6,918.8 1832.3,977.3 1781,1056 1809.5,1031.3 1747.5,1053.9 1916.7,926.9 1797.1,981.5 1887.3,929.6 1874.2,966.2 1872.1,980 1696.5,1122.3 1879.4,929.9 1830.8,983.1 1770.4,1058.1 1784.7,969.8 1772.6,986.3 1693.5,1079.7 1810.4,1036.5 1835.8,945.5 1941.4,898.1 1846.5,955.7 1751.9,1059.7 1775.5,1070.8 1915.8,909.6 1830.6,976 1880.2,930 1735.2,1144.6 1785.8,1035.3 1859.6,972 1802.3,1092.2 1891.9,882.4 1802.2,1001.8 1779.6,1005.9 1755.9,1045.9 1859.9,961.1 1808,982.5 1831.7,975.6 1794.6,1080.9 1861.7,966.9 1881.1,939.7 1850.2,978.1 1837.3,1038.7 1779,1082 1829.2,964.8 1798.8,1021.8 1806.3,1027.6 1810.8,996.3 1862.3,929.2 1968,865.4 1745.7,1076.4 1847.8,981.1 1805.7,1000.3 1790.6,998.6 1867,921.6 1810.3,1039.3 1717.4,1076 1859.9,977.9 1832.2,996.6 1824.9,990.5 1717.7,1017.6 1775.6,1008.6 1842.1,1005.2 1817.7,1004.6 1803.2,975.5 1845.6,969.3 1742.3,986.9 1857.9,990.1 1855,967.5 1802.4,1050 1732.1,1054 1817.9,978.8 1857.1,981.4 1831.1,999.8 1829.1,1036.4 1848.3,987.8 1826.2,1044.6 1871.4,933.7 1795,970.3 1700.6,1025.1 1751.8,1132.3 1731.9,1011.7 1804.4,986.6 1860.3,974 1768.6,992.1 1845.6,936.8 1805.7,962.5 1879.8,958.8 1779.3,1013.2 1752.8,1030.8 1824.8,981.6 1787.6,996.9 1940.4,940.6 1837,1027.5 1878.2,935.3 1740.1,1049 1783.9,1065.8 1793.1,1004.2 1884,909.2 1747.4,1024 1810.9,979.1 1856.3,1029.9 1745.5,1077.2 1788.6,1031.1 1707.2,1103.4 1786.5,1044.6 1799.4,994.3 1807.3,1035.3 1801.4,951.3 1764.4,1099.4 1796,992.8 1794.1,1058.5 1799.9,1033.5 1830.5,1018 1817.1,1000.1 1776.4,1017.6 1793.1,1056 1892,947.3 1759.9,1049.8 1793.6,1056.9 1804.1,1058.8 1776.3,1061.3 1846.8,927.7 1792.4,1107.5 1841.1,990 1834.5,967.9 1805.2,998.8 1846.9,959.9 1917,958 1761.5,1047.4 1819.8,1054 1787.2,1006.7 1860.4,947.9 1821.7,996.8 1724.8,1097.9 1847,968.3 1787,1094.5 1828.5,999.6 1784.7,1043.4 1847.3,990.1 1727.1,1100 1828.6,1025.9 1812.8,985.7 1763,1064.1 1732.2,1043.3 1847.1,985.3 1719.9,1141.3 1835.1,969.4 1850.8,1014.8 1800.1,1042.2 1782.6,978 1767.9,1038.1 1864.5,976.9 1805.2,1122 1815.9,970.9 1838.2,928.9 1852.2,1012 1815.3,978.7 1768.6,994.2 1818.3,1084.6 1828.9,986.3 1774.7,1070.8 1844,980.4 1813.3,1003.1 1750.3,1037.5 1755.7,1062.3 1816.5,934.9 1838.2,1023.2 1798.8,1046.3 1869.3,955.5 1855.8,923.5 1802.3,1048.2 1803.5,978.5 1843.3,927 1755.5,1068.2 1812.6,937.8 1826.5,1032.2 1824.9,1012.2 1851.7,1008.8 1817.2,1047.8 1872.4,945.8 1812.5,997 1834.7,1012.9 1832.3,977.5 1820.2,948.4 1834.6,1043.2 1852.9,990.1 1842.3,945.6 1885.6,949.1 1792.9,1016.7 1812,951.3 1778.7,1067.6 1929.6,952.3 1784.1,1008 1762.2,980.2 1779,1036.5 1876.4,1026.6 1772.2,1005.8 1801.2,987.1 1853.8,996.3 1785.7,1076 1868.3,1026.2 1887.7,930 1759,1061.7 1786.6,1076 1796.4,1032.4 1763.1,1008.1 1841.2,988.5 1770,1065.3 1780.4,1061.8 1861.9,973.6 1781.6,1019 1747.3,989 1806.3,970.4 1836.2,1012.5 1861.3,937.3 1823.8,1042.5 1699.5,1065.3 1787.1,1035.7 1823.7,963.3 1851.5,908.2 1735.8,1084.2 1711.4,1113.9 1733.5,1014.3 1826.9,988.1 1841.6,1021.4 1793.8,1029.2 1793.1,998.6 1767.1,986.6 1854.1,975.7 1815.7,961.5 1738,1085.7 1835,1012.6 1715.8,1031.9 1831.7,961.3 1768.8,1091 1801,987 1848.9,997.8 1835.6,953.8 1762.6,1059.6 1826.8,955.9 1830.3,960.6 1850.4,998.6 1799.5,1020.6 1766.7,1038.3 1798.5,1027 1787.6,1061.7 1784.3,1011.2 1838.8,1065.8 1789.8,1065.1 1869.7,939.5 1827.2,1021.7 1857.3,984.6 1852.1,968.6 1764.5,1089.1 1833.4,959.1 1849.8,959.4 1915.9,952.4 1771.1,1095.8 1853.6,987 1831.6,1047.3 1850.6,983.6 1874,945.9 1819.2,1008.8 1860.5,899.3 1824.6,1048.6 1839.7,963.9 1782.5,1000.8 1878.4,922.4 1815.6,1015.7 1844.9,994.1 1891.5,903.7 1807.1,1003.4 1815.2,980.5 1826.3,1002.7 1714.6,1045.4 1807.2,991.6 1822.8,1030.2 1790.6,1014.4 1837.6,973.3 1749.5,1132.8 1790.3,1018.6 1816,1040.9 1729.3,1046.4 1841.7,971.9 1828.4,961 1787.6,1058.1 1807.2,1001.4 1739.4,1052.6 1815.5,1037.7 1808.6,1050.7 1758,1036 1770.8,1075.7 1828.3,1049.6 1786.6,1046.6 1868.1,974.8 1804.8,1018.3 1831.7,964.3 1733.3,1044.9 1842,970.8 1744.1,1094.6 1851.4,968.3 1776.7,969.9 1739.1,1074 1849.2,919.9 1800,1055.4 1932.7,919.1 1790.3,1039.9 1808.8,980.1 1739.6,1070.1 1936.5,887.7 1789.2,983 1821.4,1004.7 1732.3,1037.6 1723.9,1078.8 1839.6,1030.7 1809.5,1000.8 1795.1,994.8 1800.7,1035 1905.5,991.8 1822.8,966.6 1851.7,980.8 1786.1,962.7 1775.7,1006.4 1798.1,1024.1 1812.4,976.5 1810,1007.5 1847.6,1003.8 1868.5,920.8 1762.9,1055 1828,960.9 1854.1,1003.5 1816.6,1033.4 1809,1067.9 1838.4,998.7 1851.8,1007.9 1879,966.4 1804.2,988.2 1843.6,945.9 1762.9,1062.3 1881.6,920.2 1891.8,932.1 1782.9,1023.6 1756.7,1040.5 1835.1,938.7 1864.6,974.8 1896.1,952.6 1877.6,942.8 1888.6,959.5 1820.1,1024.2 1872.6,959.2 1810.9,1009.4 1743,971.7 1750.4,1076.2 1842.1,926.4 1844.7,975.4 1839.4,1019.5 1792.6,982.1 1869,1016.5 1872.9,954.5 1839.9,977.8 1774.2,1118.8 1847.5,973.2 1865,969.3 1848.5,957.5 1853.2,959.5 1817.7,958.5 1799.1,1035 1819.4,962 1851.5,930.1 1832.4,1013.3 1826.9,1023.1 1846.4,1026.6 1753.3,1060.2 1764.1,1135.6 1800.7,1073.9 1785.4,1030.3 1777.8,1029.1 1762.5,1085.3 1780.7,985.3 1832.5,937.6 1833.3,1015.4 1762.9,1059.4 1807.2,1016.6 1958.8,847 1921.6,949.5 1781.2,991.6 1869.5,989.2 1868.6,990.4 1770,1038.8 1836.9,960.5 1747.7,1090.1 1826.1,956.5 1825.9,977.2 1854.1,1022.5 1818.7,948.9 1783.9,1054.1 1790.7,1096.1 1770.3,1057.5 1884.6,978.7 1699,1045.8 1762.7,1085.5 1794,1029.2 1824.9,1012.6 1763.4,1042.3 1830.2,958.3 1829,1007.3 1839.3,996.2 1768.9,1052.2 1857.6,886.1 1788.6,1101.8 1822.5,1035.1 1810.3,1038.8 1807.9,963.1 1804.7,1078.2 1810,1033.6 1873.5,942.7 1782.4,1039.1 1815.8,970.1 1819.1,988.9 1842.5,975.1 1808.5,940.3 1817.5,1060.6 1812,973 1852.4,979.4 1820.5,1023.3 1750.7,1030.8 1828,996.5 1889.2,930.7 1881.4,944.8 1824.5,1000.4 1884.7,958.9 1814.6,958.6 1810.7,1090.2 1827.5,1013.4 1749.6,1101.7 1773.4,1031 1776.3,1016.8 1845.5,970.1 1779.4,1078 1833.1,1010.9 1824.9,988.6 1817.3,1010.1 1875.7,973.4 1810.5,1009.6 1816.5,1007.2 1818.3,1005.7 1865.7,965.8 1774.7,1023 1787.2,1076.5 1895.3,898.5 1814.5,1075.2 1780,1018 1803.8,1030.2 1805.1,1029.2 1790,1045.3 1875.4,956.6 1834.9,988.2 1813.9,1009.8 1841.7,944.2 1781.3,1071.8 1740.3,978.9 1843.8,967.8 1778.5,1029.9 1882.8,932.1 1776.2,1047.6 1800.5,1008.5 1822.8,1027.4 1741.3,1033.7 1786.8,1051 1815,1012.6 1805.2,984 1896.2,881 1801.1,1014.5 1760.2,985.6 1827.9,945.1 1901,895.1 1795.4,1010.3 1840.3,1053.4 1813.8,986.7 1819.8,951.2 1745.3,1061.1 1696.9,1085.9 1781.1,1031 1980.7,820 1808.5,990.7 1819.4,976.8 1748.3,976.2 1856.7,996.5 1832,1060.9 1772.3,1004.6 1794.8,1029.6 1782,1032.9 1871.7,949.6 1892.6,974.3 1758.3,1133.5 1820.9,978.6 1837.4,989.7 1782.9,960 1811.9,1027.1 1865.8,951.2 1798.1,1004.4 1840.2,1062.1 1824.8,1016.6 1773.4,1036.4 1728.6,1063.9 1795.2,1051.9 1764.4,1055.5 1718,1106.4 1903.4,951.6 1848.2,953.2 1861.6,955 1874.3,954.7 1808.3,984.5 1905.2,960.3 1827.4,996.6 1890.3,922.9 1789.8,1034 1785.9,1073.8 1753.1,1107.2 1840,1025.1 1776.3,1039 1839.2,1032.7 1781.6,1055.6 1828.2,1014 1843.6,989.5 1791.3,1024.7 1787.9,1040.7 1849.7,954.7 1845.1,966 1867.1,917.2 1793.4,1083.9 1783.6,1009.6 1749.4,1089.8 1775.3,980.6 1829.9,1003.8 1827.9,955.9 1778,1092 1767.7,1028 1854.3,928.2 1805.1,971.3 1743.2,1078.3 1870.2,986.6 1776.1,1067.9 1719.6,1027.7 1897.4,897.6 1768.3,1069.4 1726,1073.7 1842.8,1024.4 1804.8,1064 1731.9,1089.4 1721.8,1080.5 1901.5,999.1 1832.2,1011.4 1932.2,902.1 1760,1023.4 1854.8,1014.2 1808.8,1033 1782.9,1052.6 1820.9,974.7 1864.8,978.6 1842.1,1004.6 1874.1,985.4 1824.8,1022.3 1855.4,971.3 1780.3,1054.9 1823.4,959.2 1830.1,1006.1 1938.5,885.6 1788,1069.3 1923,862 1889.8,1006.8 1834.6,961.6 1772.7,1045 1756.2,1090.7 1849.4,999.6 1826.2,1072 1919.9,932.1 1818.8,1014.2 1867.7,916.3 1853.8,969 1757.7,1042.3 1827.3,971.1 1826.4,942.9 1783,1081.1 1886.6,943.1 1814.3,1046.2 1783.3,1055.1 1753.4,1049 1774.2,1009.8 1835.4,941.8 1846.7,958.2 1790.4,1067.9 1739.5,1126.3 1740.1,1062.2 1766.3,1105.3 1782,1037.2 1765.5,1038.9 1816,995.7 1848.2,934.4 1805.7,1013.1 1743.5,1080.3 1711.5,1073 1794.5,1036.9 1774.8,1016 1808.1,1010.1 1773.3,1022.7 1777,1032.1 1832.4,1028.4 1796.8,1028.1 1832.3,1025.3 1833.2,1003.8 1800.7,1029.7 1807.9,986.9 1806,1010.7 1788.6,1039.7 1739.6,1025.4 1839.3,936.4 1902.3,941.9 1872.9,950.9 1759.5,1089.9 1843.4,963.3 1793.1,1008.7 1788.8,1035 1832,988.2 1740.2,1074.4 1924.3,908.5 1849,949 1788.2,1038.1 1818.3,991.6 1818.1,978.1 1827.6,985.4 1796.3,1020.2 1828.9,1029.1 1742.8,1076.6 1734.8,1019.9 1763.4,1048.6 1823.4,1026.8 1805.7,1017.8 1789.8,955.3 1825.4,962.2 1851.1,906.2 1764.8,1053.8 1879.9,982.2 1794,1066.3 1899.3,916.9 1787.2,1041.5 1890.2,920.9 1854.9,926 1855.4,1022.2 1761.7,1063.4 1827.1,951.4 1779.1,1100.5 1889.4,955.4 1858.6,967.5 1856.7,993.4 1802.3,964.4 1770.8,1043.8 1817,976.9 1838.7,936.2 1856.9,902.7 1767.5,1059.5 1810.4,1038.5 1827.2,1024.5 1842.8,1001 1822.8,1000.9 1816.8,1026.6 1868.3,953.6 1865.8,932.2 1779.6,1074.5 1841.9,925.1 1835.3,960.4 1791.6,1001.5 1766.6,1053.8 1844,958.5 1820.6,1044.5 1827.9,1014.1 1779.4,1036.3 1728,1089.1 1787,1023.8 1758.6,1102.5 1861.7,950.4 1760.8,1042.4 1697.7,1083.6 1802.2,981.8 1904.7,950 1783.9,1019.6 1868.2,909 1882.4,932.5 1768.5,1061.8 1851.1,968.1 1788,1017.1 1791.9,1019.8 1814.7,984.4 1759.7,1121.9 1838.6,1012.8 1873.4,968.5 1835.5,955 1836.5,966.5 1894.8,949.9 1777.3,1012.4 1819,1032.9 1838.7,1016.4 1857,909.3 1820,981.8 1719.4,1089.7 1768.3,1042.4 1768.3,1023.2 1827.5,991.2 1784.5,994.7 1813.7,974.3 1765,991 1791.6,1059.7 1867.1,978.2 1761.5,1125.7 1815.1,972.4 1789.7,936.7 1777.8,1049.2 1887.5,937.7 1864.2,974.4 1785.4,972.5 1779.5,1023.9 1793.2,1057.9 1778,1029.2 1812.2,1002.9 1801.3,1031.5 1805.6,1012.5 1800.9,1030.3 1815.8,1011.4 1880.4,941.6 1912.4,961.2 1904.2,969.9 1773.5,1016.3 1874.8,954.5 1855.5,1010.7 1744.3,993.5 1841.9,1052.1 1817,1005.6 1837.3,993.8 1891.6,926.1 1845.2,1024.4 1732.5,1074.5 1802.8,997.5 1835.3,1001.1 1803.3,1000.5 1817.7,1045.7 1774.5,1017.7 1724.6,1075.6 1750.9,961.7 1802.8,997.6 1771,1056.9 1767.6,1049 1723.4,1060.8 1870.8,958.1 1785.7,1008.8 1748.1,1042.8 1817.8,973.1 1764.4,1049.8 1753.8,1062 1829.9,1002 1860.3,1004.7 1866.1,985.6 1851.1,959.9 1865.6,985.4 1787.5,1020.1 1818.4,968.8 1816.3,981.7 1826.3,979.4 1817.3,993.6 1773.8,1063.5 1800.1,1064.7 1804.8,981.5 1789.9,1010.3 1843.3,953.3 1824.6,991.1 1815.9,969.4 1836.7,954.9 1724.8,1027 1768.6,1022.2 1859,960.6 1825.3,968.9 1798,1028.4 1748.7,1099 1805.6,1068.3 1804.1,1030.9 1806.4,980.4 1864.8,966 1814.4,1020.1 1815.9,1013.1 1848.7,925 1781.9,1067.3 1824.6,986.1 1793.2,1001.8 1799.8,993.7 1826.6,1028 1878.5,952 1922.7,921.3 1860.2,938.8 1866,993.4 1883.1,955.5 1782.5,1039.7 1854.7,986.8 1869.9,1007.2 1786.6,1059.7 1894,976.8 1797.3,1041.1 1854.4,972.3 1777.7,1034.8 1731.5,1058.9 1941,860.7 1891.8,989.6 1831.9,958 1738.9,1108.1 1820.7,1005.7 1875.9,999.3 1728.7,1057.4 1742.6,1070.9 1795.2,1027.9 1808,1000.2 1803.6,1027.2 1815.9,978.6 1891.7,966.4 1763.9,1047.9 1839.3,985.2 1838.6,949.4 1877.5,954 1809.8,970.9 1776.1,1079.9 1764.3,1056.9 1837.2,999.7 1821.8,1057.6 1794.6,1000.1 1803.8,968.4 1804.6,1003.3 1806.6,1042 1817.3,1006 1856.7,1018.2 1814.6,1010.5 1841.5,946.2 1780.3,1073.6 1801.2,1034.5 1801.1,996.1 1808.5,1033.9 1901.7,939.6 1747.7,1142.8 1804.9,1018.8 1734.4,1122.4 1776,1031.6 1840.8,969 1772.3,1055.6 1799.4,1028.2 1863.2,970.8 1787.2,1039.5 1799.7,1038 1763.6,1050.3 1797.7,1039.8 1866.5,963.2 1840.1,997.2 1825.7,989.3 1851.8,969 1771.3,1021.1 1880.5,948.8 1838.6,948.6 1768.8,1032.8 1876.9,991.9 1803.2,1052.4 1841.4,958.3 1836.9,1017.5 1744.6,1034.1 1758.4,1000.3 1779.4,992.7 1811.4,974.1 1880.8,908.4 1786.9,1062 1797.4,1015.1 1828.8,1004.5 1829.9,1031.6 1757.3,1054.1 1944.1,908.6 1822,952.3 1739.1,1102.7 1774.9,1046.7 1780.9,1049.8 1803.1,1010.2 1863.5,961.3 1775.7,1090.4 1735.9,1078.3 1698.5,1123.6 1872.9,954.2 1849.7,976.8 1791.2,1038.3 1855.4,922.8 1852,932.5 1833.1,994.5 1720.5,1063.3 1766.8,1024 1835,978.7 1759.2,1048.5 1878.3,983 1807.4,979.2 1860.9,928.7 1852.8,1026.4 1870.8,924.9 1845.5,980.8 1841,991.9 1810.9,1028.4 1838.4,995.7 1890.8,963.3 1870.1,927.2 1766.2,1016.7 1889.8,923.9 1761.8,1001.3 1849.8,1019 1776.6,1026.7 1792.8,972.5 1766.9,1088.9 1824.5,971.8 1791.9,994.1 1772.4,1051.1 1774.9,1004.3 1776.4,1013.6 1842.4,1002 1791.4,1042 1814.8,980.5 1835.3,1000 1830.7,974.2 1825,948.9 1840.9,912.8 1787.4,1065.9 1808.7,1048 1828.8,1016.1 1771.4,1090.7 1821.2,1011.8 1793,1062.4 1813.2,1078.7 1812.2,1016.2 1811,1017.7 1871.2,988.2 1814.8,1022.9 1797.9,1029.4 1889.8,974.3 1871.5,963.3 1819,1022.5 1880.2,886.2 1861.1,940.1 1845.7,953 1857.8,981.5 1757.3,1065.4 1815.7,997.1 1798.6,1048.9 1757.9,1014.1 1778.5,1058.8 1813.5,986.7 1801.7,1009.6 1857.9,943.6 1818,993.9 1738.4,1046.2 1878.1,949.8 1711.1,1101.7 1773.5,1100.7 1806.9,1004.6 1802.8,991.6 1769.8,1033.9 1747.9,1072.3 1818.4,1015.5 1802.8,1080.6 1771.3,1073.6 1733.6,1074.8 1816.6,1018.6 1831.4,971.3 1782.6,1035.9 1724.8,1084.2 1754,1068.4 1817.1,1021.5 1804.7,994.7 1839.8,986.5 1816.9,981 1893.1,928 1736.5,1066.7 1842,974.5 1751.9,1064.2 1893.4,935.2 1922.6,877.3 1742.8,1075.2 1875.9,962.9 1769.1,1084.7 1896,922.8 1785.3,991.2 1741.5,1117.2 1829,1028.5 1810.4,982.9 1752.6,1014.1 1893.5,939 1793.7,1082.3 1866.7,983.5 1857.6,968.5 1806,1069.6 1823.7,990.2 1817.1,988.5 1811.9,980.2 1791.9,1062.4 1853.4,943.8 1848.1,987.7 1848,1009.7 1786.6,1060.5 1910.1,947.3 1826.5,1038.9 1756.2,995.9 1838.4,971.6 1849.5,1021.2 1784.5,1065.1 1816.8,982.3 1782.1,1025 1878,946.8 1823.8,1035.8 1825.6,969.8 1786.1,1060.4 1875.7,984.8 1865,967.9 1848.3,1002.8 1868.1,933.9 1762.4,1083.4 1718.2,1030.2 1759,983 1769,1087.5 1784.9,1047.2 1822.4,984.1 1771.8,985.1 1837.3,963 1852.6,955 1761.7,1053.4 1818.8,988.9 1725.9,1025.4 1824.8,964.7 1907.4,938 1710.4,1050.5 1703.6,1007.1 1908.1,897 1772.2,1057.4 1798.1,1009.8 1794.6,1017.1 1776.4,1034.3 1875.9,940.7 1830,944.1 1800.1,1046.4 1841.7,1002.3 1854.1,961.7 1838.2,932.7 1819.8,1024.4 1879.7,895.4 1813.6,1000.6 1852.6,959.8 1741.3,1059.3 1777.1,1043.4 1786.9,1011 1790.9,1008.1 1836.2,951 1846.8,1009.9 1801.5,1033.6 1804.2,1045.4 1847.3,1032.5 1893.4,889 1800.2,1044.6 1833,949.8 1757.2,1026.4 1806.4,1074.9 1864.1,920.6 1816.6,1077.5 1932,905.8 1849.2,928 1841.5,955.3 1738.8,1083.9 1757.3,1039.8 1793.3,1057.2 1866.4,990.8 1843.7,973.4 1796.9,1044.7 1807.3,988.8 1825.1,1032.3 1824.6,991.4 1814.5,1042.8 1784.3,1039.1 1865.4,1001.1 1813.4,943.5 1768.1,1048.2 1765,1051.9 1891,899.4 1746.7,1055.5 1842.2,1007.3 1808.2,1021.9 1789,1017.9 1830.8,968.7 1829.8,978.5 1820.7,1001.8 1775.8,1021.1 1855.8,980.2 1790.3,1018 1749,1031.3 1849.6,976 1812.3,986.5 1784.7,1037.5 1793.9,987.7 1809.6,970.3 1706.8,1091.9 1767.9,975.5 1797,1004.6 1822.5,999.8 1845.7,952.5 1831.5,965 1800.2,1014.6 1868,970.5 1748,1066.6 1775.8,1044 1833.2,1063.9 1795.2,1001.8 1861.1,926.6 1761.5,1032.4 1946.8,920.8 1790.4,1070.2 1773.5,1028.6 1803.7,993.5 1733.6,1139.1 1887.4,942.2 1819.9,992.9 1727.3,1036.8 1828.4,1024.8 1794.8,1011.8 1849.6,946.9 1785.4,1008.9 1861.5,972.9 1881.6,970.9 1908.7,923.5 1870.6,944.8 1827,1007.7 1792.9,1073.3 1736.5,1079.6 1808.9,998.1 1825.7,975.6 1829.6,999.1 1881.9,957.6 1867.2,980.6 1860.7,949.7 1823.1,988.8 1788.1,1020.5 1808.7,1048.7 1768.3,1088.3 1828.2,976.9 1791.7,975.1 1793.3,1091 1825.8,1051.7 1792.8,986 1917.9,820.5 1769.1,1083.5 1782.8,1074.1 1816.8,975 1814.3,1009 1842.8,948.7 1824.6,999.6 1731.9,1058.9 1836.3,1059.3 1808.4,976.8 1752.4,1081.3 1820.5,996.3 1808.2,987.9 1823.1,1057 1808.8,1032.5 1812.4,1006.1 1810.5,991.6 1871.9,962.4 1812.3,1097 1782.4,1063.7 1822.7,1003.5 1820.5,987.6 1754.2,1074.6 1777,1069.5 1769.2,1088.7 1813.6,975.5 1815.7,976.4 1842.7,942.3 1776,1017.6 1812.5,963.8 1847,982.3 1854.6,973 1785.5,1060.2 1746.6,1069.3 1860.1,1026.3 1809.3,985.8 1840.2,1004.6 1829.3,954.9 1808.4,1050.1 1807,981.7 1784.8,1028 1866.5,964.4 1866,909.9 1839,905.4 1907.4,932.8 1803.8,978.9 1792.7,949.1 1805.4,995.1 1755.6,1020.7 1815.3,1005.8 1793.1,1013.2 1763.8,1074.7 1819.4,945 1871.8,955.9 1784.6,1058.5 1744.3,1058 1884.8,943.6 1848.1,980.2 1822.3,986.7 1841.3,965.3 1757.4,1076.9 1756.5,991.2 1847.1,969.9 1836.3,986.6 1841.8,943.6 1833.5,1056.1 1903.9,912.7 1745,1072.7 1731,1096.8 1935.2,882.9 1849.6,1068.9 1831.5,962.9 1762.8,1052 1883,964.3 1775.8,1048.8 1814.3,1027 1694.9,1064.4 1768.2,1037.6 1795.2,1030.9 1823.5,992.7 1742.3,1122.6 1945.6,858.7 1803.9,967.7 1831.3,1008.1 1869.6,1013.3 1829.4,1016.2 1858.9,985.6 1846.5,969.7 1770.5,1044.6 1774.2,1042 1909,935.1 1828.4,1056.9 1836.9,1004.3 1821.2,1028.8 1814.7,985.2 1822.6,990.5 1827,1022.6 1866.1,999.1 1843.1,1041.9 1841.4,995.5 1741,991.9 1808.5,1058.7 1725,1043.2 1833.7,983.7 1896,963.5 1781.8,1036.6 1795.4,998.8 1817,1007.7 1815.9,1002.8 1833.4,941.9 1809.1,979.8 1768.3,1027.4 1877.6,972.4 1802.4,1014.6 1821.9,1024.2 1849.1,980.8 1831.6,1019.6 1813.1,1009 1768.1,1012.5 1888.4,935.2 1845.6,1023.1 1714.7,1051.3 1792.6,1048.9 1768.9,1086.7 1826.8,1021.4 1814,1002.3 1898,864.7 1767.2,1074.4 1856.4,1010.8 1854.1,977.2 1871.2,973 1790.4,956.5 1895.3,995.2 1837.3,950.9 1797.2,1074.9 1854,946.2 1732.7,1044.5 1821.8,1026.6 1834.4,997.1 1839.7,958.1 1871.9,949.9 1820.3,951.7 1796.2,975.4 1752.9,1057.1 1918.2,940.6 1876,936 1732.2,1069.9 1840.2,966.3 1862.2,959.2 1829.9,994.5 1818.7,973 1775.9,1008.8 1739.6,1053 1876.5,943.7 1832.2,949.3 1888.1,979.2 1793.2,1028.1 1848.6,995.5 1746.1,1008 1764.9,1055 1730.4,1108 1847.3,984.2 1777.4,1082.3 1763,999.2 1839.4,966.9 1743.5,998.7 1879.4,879 1876.6,980.3 1731.8,1039.9 1807.3,1028 1880.7,949.6 1821.3,1010.2 1789.8,1006.3 1825.6,964.6 1890.3,955.9 1811.2,1019.6 1769.2,1018.2 1788.1,986.3 1820.6,1024.2 1720.8,1128.7 1843,1005.7 1755.1,1064.6 1811,1023.4 1848.3,1011.1 1814.8,1019 1739.7,1111.8 1768.8,978.7 1839.7,1017.3 1814.3,990.9 1773.5,1043.3 1820.1,973.9 1865.6,1020.8 1926.6,920 1777.1,1051.2 1785.9,996.2 1768.7,1055.2 1748.9,1070.8 1913.7,894.2 1850.3,940.7 1801.3,1016.9 1818.2,1082 1839.7,980.5 1768.3,999.5 1801.9,1004 1760.4,1092.2 1852.2,973.7 1846.3,1017.4 1880.3,940.2 1859.1,989.8 1827.8,1019.5 1852.2,972.7 1821.6,1018.5 1774.8,1017.6 1815.6,996.6 1881.9,997.9 1797.5,1036.1 1895,929.5 1842.6,962.1 1901.3,949.5 1821.9,981 1795.9,1043.1 1862.6,995.9 1753.6,1056.6 1927.5,923.4 1794.5,1007.6 1736.2,1095.9 1833.5,1006.3 1837.2,997.3 1800.7,1043.6 1792.5,1008.1 1847.3,1014.2 1910,935.6 1848.8,925.5 1793.8,1008.4 1864.8,927.1 1812.6,1078 1836.4,975 1740.5,1095.6 1810.7,1013.7 1794.5,1044.9 1788.3,1053.2 1841.1,929.3 1856.6,965.4 1876.1,966.6 1752.3,1113.2 1973.7,874.1 1831.9,892.5 1748.9,1096.3 1842.5,967.2 1885.7,913.6 1821.5,987 1721.5,1069.9 1751.1,1044.3 1817.8,1059.5 1788.6,969.1 1767.7,1051.5 1874.3,1000.2 1812.4,1017 1855.6,1020.5 1804.2,1019.3 1788.3,1026.8 1832.4,973.8 1797.8,1059.7 1822.8,928.3 1808.8,1037 1766,1072.3 1858.6,959.6 1771.6,1036.9 1862.2,1010.5 1844.9,958.2 1771.9,1041.7 1750.6,1020.9 1829.5,1008.4 1789.9,1086.7 1839.2,950.3 1819.3,980.7 1809.3,1053.3 1864.3,938.3 1850.5,953.3 1871.8,956 1798.1,1054.5 1790.3,1054.6 1835.2,987.1 1823.6,967.4 1819.5,1020.2 1790.1,1039.5 1775.3,1048.2 1905.5,902.4 1868.4,968.4 1827.7,964.9 1745.4,1065 1887.2,947.5 1749.3,1063.6 1830.3,1058.4 1824,967.4 1781.1,1013 1790.1,1067.4 1856.5,990.7 1832.7,1009 1839,939.4 1765,1056 1857,978.8 1799,958.2 1794.7,1037.4 1777.1,1032.8 1822.8,949.5 1844.2,958.8 1761.9,1066.6 1822.4,1041.8 1774.8,985.9 1792.1,930.4 1714.3,1047.1 1820.5,1022.1 1790,1053.3 1863.3,901.7 1858.7,964.5 1833.9,1001.1 1864.6,944.6 1788.7,1021.8 1843.3,980.7 1801.7,1049.4 1827.3,947 1815.9,1021.8 1763.1,1045.3 1824.1,997.6 1810,956.2 1811.7,1017.2 1763.8,1073.2 1894.5,906 1875,995 1822,1027.1 1778.9,1008.8 1850.9,1015.4 1800.3,1084.8 1819.7,988.9 1794.4,1013.8 1806.3,996.5 1837.9,992.1 1821.7,1021.2 1844.9,979.9 1864.5,999.8 1802.1,981.3 1821.6,1073.2 1864.9,991.2 1800.5,973.8 1803.1,1011.9 1830.6,914.8 1713.2,1092.4 1855.3,1019.7 1796.1,1014.9 1820.5,1060.2 1816.8,995.2 1810.8,1046.7 1812.6,1034.6 1839.9,990 1792.7,1021.5 1829.1,1019.2 1725.3,1118.6 1772.9,1019.2 1726.2,1100.3 1758,1073.1 1777.8,1043.8 1866.9,957.5 1802.8,1028.3 1766.1,1016.2 1823.6,1050.6 1813.4,984 1889,939.7 1857.9,955.1 1811.9,1016.5 1846.7,984.9 1866.2,975 1852.9,966.6 1853,979.6 1843.7,1027.8 1808.7,1015.5 1833.9,991.3 1839.6,1004.3 1890,914.8 1893.6,969.8 1798.8,994.1 1846.2,952.2 1857.7,922.7 1766,1033.4 1802.6,974 1823.9,983.4 1780.7,1042 1875.7,988.6 1867.4,942.9 1815.5,1011.4 1844,919.1 1882.8,994.6 1876.6,1005.3 1790,1004.2 1775.6,1080.9 1862.6,966 1825,991.9 1849.1,949.8 1785.1,987.9 1797.8,1052.3 1875.5,933.5 1779.5,1047.3 1815.4,1008.4 1823.3,945.3 1755.6,1076.2 1840.7,943.3 1770.6,1071.3 1891.6,989.9 1801,1034.1 1823.5,984.4 1848.3,998.2 1874.1,959.9 1808.2,1039 1788.9,1003 1868.5,944.5 1887.5,921.1 1769.5,1065.3 1851.8,1031.7 1760.6,1031 1817.2,1030.3 1827.9,989.6 1899.6,964.7 1807.6,969.2 1748.3,1060.8 1752.3,951.5 1811.6,1012.5 1848.8,1010.2 1878.2,966.9 1836.5,1001.8 1727.8,1135.1 1806.8,1036.4 1758.9,1082.7 1866.7,961.5 1768.6,1088.2 1851.8,1031.3 1793.3,1025.6 1822.1,920.1 1842.8,1007.3 1800,1009.6 1773.3,1018.6 1753.3,946.3 1888.8,933.6 1763.4,1054.3 1845.9,1003 1851.2,1064.9 1800.7,1025.7 1777.8,1086.8 1787.4,978.5 1904.6,848.1 1850.6,947.9 1813.6,1017.1 1778.9,1061.4 1843.2,996.1 1786.3,958.6 1794,1031.1 1797.9,1025.1 1846.1,987.2 1818.9,983.1 1756.3,1057 1746.2,1086.5 1797.5,1053.2 1859.5,913.2 1819.9,958.4 1758.6,1018 1718,1104.1 1830.2,941.5 1755.6,1096.2 1862.3,999.3 1856.8,1009.8 1757.3,1077.1 1838.7,1004.9 1858.5,975 1765.6,1055.6 1900.2,897.6 1807.6,1039.2 1819.4,968.7 1841.7,957.3 1788,1020.6 1773.2,1099.2 1902.6,942.6 1790.9,1034 1866.3,969.3 1749.4,1031.4 1730.7,1046 1828.3,999.1 1804.3,1000.8 1851,1047.5 1751.6,1020.5 1739.6,1098.2 1849.7,992.9 1817.1,1025.4 1819.4,1010 1825.1,952.3 1797.3,1033.4 1822.3,1000.8 1808.3,1084.8 1788.6,981.7 1852.3,990.1 1836.4,964.6 1799.9,1034.2 1776.6,1021.8 1754.4,1064.3 1754.7,1045.8 1869,969.9 1865.4,1028.6 1812.2,1019.6 1800.7,958.9 1765.1,1093.9 1731.7,1110.3 1853.8,979.9 1815.8,1003.8 1898.2,930.6 1829.1,1027.2 1730.2,1029.4 1787.8,1037.5 1767.7,1019.4 1830.9,1016.1 1829.5,1003.4 1875.5,855.8 1851.3,1004.9 1785.8,1042.1 1786.7,1059.3 1846.2,975.1 1802.5,1022.5 1711.5,1133.1 1789.2,1041.2 1819.6,990.8 1810.2,1006.8 1817.8,995.6 1782.3,1003 1807.1,1062.5 1851,964.5 1825.7,941.2 1854.6,970.8 1820.3,999.5 1812.8,983.6 1744.8,1068.3 1879.7,955 1834.3,993.7 1826.4,1046.8 1758.8,1002.8 1892.5,933.7 1855.9,972.8 1820.7,1042.9 1866.6,963.6 1812.4,1048 1865.3,961.6 1869.4,916.2 1839,988 1826.2,1034.1 1795.8,996.4 1900.2,905.7 1755.9,1027.7 1700.9,1003.5 1785.9,1014.6 1748.8,1034.1 1830.8,996.1 1854.3,999.8 1829,993.1 1855.3,1004.2 1785.3,996.7 1822.9,971.8 1879.2,952.4 1821.5,1001.4 1899.8,900.3 1764.1,1038.1 1810.7,1037.2 1805.4,1069.1 1807.4,1068.6 1734.6,1063.1 1879.9,956 1811.5,965.3 1781.7,1040.9 1796.1,1058 1794.6,1005.1 1829.9,1008.9 1825.4,978 1793.6,1052.9 1865.2,959 1812.7,1021.4 1805.3,1008.8 1746.2,1090.4 1793.8,1073.4 1839,993.3 1747.9,1089.9 1921.6,932.8 1819.3,1027.8 1801,973.4 1821.6,995.7 1805.9,978.9 1762.6,1050.9 1834.2,1028.4 1720,1038.9 1794.7,1036.4 1809.8,1026 1882.7,963.4 1787.4,1049.2 1822.4,981.7 1842,1053.3 1758.7,1072.5 1796.5,1035.7 1842.6,955.8 1697.5,1075.2 1848.9,1016.9 1892.9,943.1 1778.1,1081.5 1841.3,978.8 1763.8,1066.7 1873.9,964.9 1909.9,946.3 1815.6,1002.7 1863.9,965.1 1777.1,984.1 1819.5,1002.2 1732.7,1042.2 1791.9,1018.5 1831.2,1017 1736.8,1067.3 1802.1,996.5 1810.8,984.6 1812.8,974.9 1853.4,951.1 1883.9,943.2 1795.8,1050.2 1786.9,1080.6 1767.2,962.4 1791.4,1043.4 1759.7,1038.1 1900.7,926.7 1808.1,991.5 1846.4,967.4 1792.8,1083.6 1875.1,955.3 1804.4,1005.3 1738.3,1052.2 1740.2,1079 1760.2,1068.9 1848.8,1002.7 1796.3,1016.3 1830.7,993.6 1876.7,939.2 1851.5,972.6 1850.8,971 1820.9,1075.8 1827.8,1023.8 1797,1021.1 1758.1,1021 1792.4,1010.2 1752.3,1035.8 1714.5,1032.4 1832.1,1023.5 1811.5,1018.7 1917.1,959.3 1836.8,973.3 1869.4,950.2 1810.6,986.7 1895,940.4 1784.1,1008.9 1811.1,1012.7 1857.9,950.9 1807.1,1043.7 1829.5,1014.3 1800,1034.7 1809.4,1083.2 1823.2,969.5 1806.8,965.1 1865.5,926.6 1831.7,1017.4 1845.9,986.3 1815.8,1087 1797.1,1055.5 1786.5,1095.5 1738.9,1032.3 1900.8,976.4 1913.4,965.3 1820.4,1043.4 1849.8,950.4 1820.6,1017.6 1829.3,1020 1753.8,1034.8 1827.4,1061.8 1833.7,982 1921.3,946.4 1737.1,1056.7 1809.8,989 1866.2,951.3 1807.8,1027.1 1868.2,966.4 1819.5,948.2 1794.1,968.9 1833.5,940.9 1850.1,977.7 1833.7,1013.8 1875,932.3 1803.8,1026.1 1863.9,991.7 1813.7,1053.9 1834.3,1008.5 1854.3,1001.4 1860,989.8 1802.9,1030.6 1876.4,996.2 1810.6,966.3 1753,1020.4 1765.1,1060 1757.5,965.1 1860.6,1045.4 1801.9,1015.5 1762.2,1087.7 1847.2,1017.7 1805.6,966.3 1832.3,977.6 1838.9,979.2 1819.7,1013.8 1742.7,1067.1 1809,1020.8 1802.8,969.2 1834.7,996 1820.2,1035.9 1843.2,1039.5 1850.8,1006.2 1793.1,1029.1 1797.9,952.3 1791.7,1102 1822,986.6 1807.4,982.4 1807.6,955.2 1874.5,922.7 1809.5,1053.1 1712.5,1071.8 1723.6,1113.1 1842,986.9 1804.1,980.1 1882.6,944.2 1899,939.1 1788,1048.8 1896.6,967.4 1789.8,1000.4 1808.8,998.3 1858.9,948.4 1842.2,980.2 1869.7,1016.5 1694,1051.7 1783.3,1048.3 1784.5,1031.7 1829,984.8 1770.5,1018.2 1708.8,1105.9 1724.2,1080 1826.2,1002.1 1880,959.4 1850.9,907.7 1776.3,1019.9 1767.5,1089.1 1862.5,950.2 1786.7,1029 1695.6,1056.5 1787.5,1013.8 1756.4,1072.5 1786.8,1081.4 1834.2,963.6 1781.3,1065.5 1802.2,1040.2 1800.2,1006.8 1829.6,997.7 1862.9,934.9 1826.1,1027.1 1788,1014.9 1827.9,974.3 1853.2,971.2 1870.7,941.7 1843,956.7 1773.3,1028.7 1864.5,951.2 1782.4,1063.5 1780.8,1036.5 1780.6,1046.5 1838.1,1042.4 1797.6,981.3 1807.3,1027.3 1774.4,1034.3 1786.4,1061.9 1828.3,976.8 1819.1,1029.1 1757.3,1029.7 1870.7,974.9 1904.5,946.7 1800.8,1037.6 1866.5,946.1 1793.2,994.5 1814.8,952.2 1804.7,974.9 1755.6,1067.1 1882.8,956.9 1782.1,1041.8 1774.4,1078.9 1793.8,1095.7 1820.7,1024.8 1777.4,1022.2 1849.3,958.4 1748.4,1050.5 1799.3,984.1 1789.9,1001.1 1792.5,1025.8 1819.8,1021.9 1855.2,1005.7 1836,954.9 1880.7,953.9 1719.1,1129 1727.2,1104.1 1826.6,926.8 1777.5,1007.9 1805.6,998.8 1830.3,962 1818.4,1033.9 1821.3,939.6 1863.6,928 1800.4,1018.8 1737.5,1068.3 1737.1,1120.8 1815.3,1030.4 1743.4,1089.7 1780.3,1029.2 1787.6,1032.6 1844.7,1030.7 1837.4,987.1 1882.9,952 1922.8,883 1805.3,1052.2 1801.4,1027.5 1803.5,1000.9 1871.2,897.6 1816.4,935 1844.1,942.7 1843.5,1039.4 1858.7,1025.3 1886.1,985.7 1874.9,895.3 1945,935.4 1791.2,989.8 1802.7,1001.9 1751.3,1055.6 1790.2,989.9 1766.6,1058 1865.9,975.6 1809.2,975.4 1805.8,998.4 1781.9,1056.4 1790.2,1023.7 1783,1033.4 1755,1084.9 1832.9,984.7 1840.7,962.4 1862.4,957.4 1773.3,1050.9 1918.7,955.5 1795.2,1017.3 1725.2,1132.7 1796.2,1009.9 1815.3,1005.2 1791.8,1051.6 1771.9,967.6 1775,988.9 1852.8,974.8 1732.7,1049.7 1788,1022 1828.6,1025.6 1857.7,980.3 1799.4,1054.3 1833.3,989.2 1787.6,1009.2 1795.1,1053.4 1827.1,982.3 1781.8,1049.1 1816.8,1044.7 1809.3,994.7 1782.8,1006.7 1794.4,953.2 1802,1019.4 1876.1,975.8 1807.7,1033.5 1893.1,879.1 1812.5,1021.7 1809.9,991.4 1862.3,975.7 1886.1,955.3 1804.3,974.2 1812.9,946.2 1778.8,1008.1 1901.6,887.1 1757.2,1074.8 1807.3,993 1753.2,998.9 1815.6,1015.4 1806.4,1013.6 1862.3,992.7 1883.8,941.3 1814.7,980.8 1795.4,1028.7 1852.8,939.2 1822.2,960.1 1837,985.6 1744.5,1054.4 1816.8,1078 1808.2,996.7 1800.1,878.7 1843.1,985.6 1793.1,956.6 1814.3,1041.2 1696.2,1080 1780.5,1097.1 1790.5,1046.1 1887.6,931.5 1839.4,966.7 1809.7,1024.8 1710,1049.8 1859.8,972.6 1860.7,964.1 1751.9,1098.6 1842.1,1016.9 1736.5,1067.7 1800.6,998.1 1774.3,1032.8 1845,969.5 1779.4,1013.4 1826.5,973.2 1738,1093.6 1783.5,972.3 1813,972.7 1829.2,969.6 1901.8,862.5 1771,1037.1 1840.2,996.4 1824.3,998.6 1827.1,979.4 1849.5,1004.4 1786.6,1008.7 1869.9,905.4 1814.7,947.4 1837,1049.3 1837.9,983.8 1837.8,990.9 1744.9,977.2 1789.6,1033.2 1870.6,940.8 1747.2,1042.3 1785,1031 1876.5,934 1853.8,972.1 1826,977.8 1730.8,1102.1 1776.9,1059.6 1825.7,993.2 1839.8,955.3 1882.1,938.8 1832.5,1000.9 1849.2,1003.1 1821.1,964.2 1830.3,1068.6 1860.3,955.8 1806.6,1047.6 1834.8,995.6 1746.1,1061.7 1828.6,1013.1 1788.8,1019.6 1811.6,1015.3 1826.2,1023.2 1962.6,903.3 1796,1040.6 1823.5,1021.9 1754.7,1098.9 1751.9,1068.2 1795.4,1037.2 1772.4,1002.2 1793.5,1039.2 1797.4,1032.6 1871,945.5 1776.4,1046.4 1784.1,955.1 1829.4,999.7 1827.2,1000.8 1788.5,981.8 1858.2,999.9 1840.4,1018.5 1810.1,979.6 1816.2,1007.4 1753.9,1067.1 1785.3,1014.3 1774.3,1068.2 1723.5,1111.9 1835.1,1001.2 1775.6,1031.3 1800.8,1020.4 1810.3,987.3 1800.7,1033.3 1801.3,1041.2 1812.7,1001 1863.7,923.4 1797.5,1066.6 1843.1,1024.3 1795.1,1026.1 1801.9,1004.7 1803.8,1024.3 1841.8,1009.2 1839.8,949.8 1833.2,972.4 1840,966.4 1852.5,1022.4 1750.9,990.7 1805.3,973.8 1800.7,951.6 1890.2,934.9 1770.3,1022.4 1888.1,932.8 1829,1002 1899.2,935.6 1921.7,862.7 1855.7,962.2 1776.9,1042.3 1905.8,959.7 1861.5,954.9 1807.9,969 1821.5,1043.8 1858.6,966.9 1819.3,985.6 1822.2,999.1 1843.7,940.2 1836.9,971.3 1795.7,1016.6 1824.7,1013.5 1756.4,1034 1729.2,1065 1867.2,975.2 1831.3,1063.4 1861.4,988.3 1874.4,954.4 1744.7,1113.8 1867.4,998.9 1705.3,1091.5 1864.9,975.5 1794.6,1036.6 1899.8,919 1798.6,1033.6 1836.2,1016.1 1841.4,985.4 1868,995.1 1806.1,1052.6 1892.7,891.2 1874.3,892.2 1843.8,993.7 1843.7,1000.3 1757.5,1048.2 1835.8,985.7 1780.3,1027.8 1739.2,1052.4 1856.1,1002.2 1793.2,973.2 1795.1,1027.4 1818.5,986.7 1900.3,899.5 1810.2,1027.8 1737.1,1074.7 1800.6,1042.8 1808,1009 1815.7,1039.9 1881,997.7 1769,1057.3 1840.3,988.8 1737.8,1070.4 1804.6,1068.6 1796.4,1032.1 1789,1081.2 1824.5,1022.4 1851,972.1 1858.9,949.5 1831.3,938.7 1827.4,989.2 1884,948.3 1781.6,1056.1 1890.2,933.3 1786.7,1054.5 1856.2,1006.4 1828.6,991.8 1797.1,1065.1 1875.8,970.9 1813.6,1009.4 1783.3,1103.2 1765.8,1064.9 1832.5,1027.9 1779,997.3 1849.4,946.7 1821.6,1003.1 1802.4,1006 1837.5,975.2 1759.5,1038.2 1808.4,1039 1780.2,1003.4 1739.1,1067.8 1757.8,1075.7 1799.3,1059 1790.3,1048.9 1824.7,994.8 1830,1023.9 1803.1,1007.1 1807.1,977.3 1866.7,970.5 1802.6,1062.4 1716.4,1040.5 1812.2,991.6 1787.7,1020.1 1820.3,1015.8 1772.2,1024.5 1908,958.4 1782.9,1049.9 1776.3,1094.5 1866.1,983 1737.4,1080 1754.5,1018 1905.9,961.1 1791.2,1064.9 1780.5,1061 1841.2,968.4 1872.4,998.5 1847.6,969.1 1787.4,1052.7 1904.2,939.3 1799.8,973.1 1848.7,999.2 1896.8,917.8 1863.9,984.6 1842.5,985.5 1836.8,967.9 1847.6,1015.9 1756.1,1118.7 1780.5,1050.5 1854,991.7 1849.5,950.1 1864.2,1032.8 1854.1,970.4 1784.1,1003.4 1768.5,1025.9 1840.7,968.5 1765.9,1039.1 1860.9,967.6 1871,973 1747.7,991 1865.8,948.7 1771.1,1078.6 1794.7,999.7 1778.5,958.3 1812.4,987.9 1768.8,1005.1 1740.6,1051 1863,959 1788.5,1024.2 1814.2,1085.5 1778,1029 1816.1,1002.2 1773.1,1004.1 1837.3,1080.2 1857.7,966.3 1889.5,953.3 1884.8,918.9 1780.7,1048.2 1784.6,985.9 1831,1032 1819,998.9 1853.5,946.7 1862.1,906.7 1766.8,1025.9 1816.5,1024.5 1806.9,1056 1782.3,1048.4 1753.6,1046.5 1872.8,902.1 1776.5,1015.1 1826.7,1013.9 1793.2,1034.5 1828.4,1022.9 1790.7,1045 1846.6,1050.9 1819.3,983.6 1784,1067 1803.3,1016.3 1818.7,1014.9 1730.3,1065 1797.4,1059.1 1742.1,1090.2 1842.8,976.6 1807,1077.9 1798.9,1056.5 1861.8,962.4 1727.8,1096.3 1864.6,1002.3 1842.9,976.1 1799,1096.8 1701.9,1117.6 1818.1,994.9 1846.3,942.8 1830.5,942.3 1825.9,1025.3 1796.5,1027.5 1803.4,995.7 1795.9,1010.6 1868.4,1010.3 1801.5,1084.4 1759.7,1077.1 1886.2,964.3 1890.8,965.6 1890.5,910.5 1746,1076.9 1867.3,934.3 1837.6,916.3 1856,1010.4 1914.6,948.2 1770.3,1043.3 1754.5,1088.7 1803.4,1032.5 1771.4,1007.2 1785.1,989.5 1812.9,1033.6 1763.6,982.2 1757,1005.5 1779.5,1049.5 1770.6,1033.2 1894.6,952.4 1759.8,1036.6 1890,995 1787.7,1025 1841.4,977.7 1841.5,949.6 1842.9,954 1851.7,981.6 1846.5,954.6 1875.4,951.5 1785.8,995.7 1790.4,1053.7 1892,992.6 1818.5,991.3 1922.1,950.3 1740,1007.1 1901.1,984.3 1780.6,1024.3 1843.1,957.7 1871.3,924.2 1872.5,990.1 1768.4,994.8 1777.6,1024.9 1764.5,1057.2 1821.2,1042.6 1897.6,953.8 1913.7,913.1 1891.1,895.6 1881.3,940 1834.2,973.1 1809.2,1079.2 1767,1112.7 1774.9,994.3 1854.7,969.5 1778.8,1057.7 1761.5,948.8 1776.6,994.9 1853.8,983.8 1774.7,1025 1843.4,997.9 1787.6,1014.8 1824,993.1 1806.5,1025.4 1805.5,1052.3 1837.3,1015.2 1788.4,1003 1749.5,1108.9 1879,996 1864.8,939 1912.3,904.2 1809.4,1042.1 1878.5,952.5 1852.8,949.5 1727.4,1038.3 1751.7,1082.6 1851.7,982.4 1846.9,962.2 1838.9,1007.6 1876.7,939.5 1807.8,1034.2 1889,939 1841.5,939.8 1817.3,996.5 1732.3,1080.5 1863.8,1014.1 1864.8,924.9 1832.5,989.4 1815.4,1047.2 1711.6,1070.3 1831.6,1002.4 1727.2,1138.6 1751.2,1066.4 1823.1,1007.4 1773.2,1021.5 1874.6,814 1856.2,821 1845.3,823.5 1868.9,824.1 1819.9,832.1 1836.6,856.4 1848.9,857.5 1788,863.6 1816.1,880.7 1822.9,887.5 1875.3,865.3 1731,911.4 1765,909.2 1726.8,927.2 1770.3,924.4 1737.5,933.5 1767.1,932.9 1729.9,944.5 1687.3,950.4 1705.9,951.3 1735.4,956.6 1747.5,961.4 1693.6,964.6 1706.3,964.6 1654.5,974.5 1723.2,977.3 1846.7,894.9 1855.8,894.9 1864.7,894.5 1833,900.2 1834.1,909.7 1847.8,907.6 1966.7,838.5 1957.8,842.1 1967.8,846.7 1981.5,854.3 1926.6,835.7 1911.8,848.4 1934,852.6 1930.8,864.3 1931.9,878.6 1945.2,876.5 1949.2,887.5 1948.8,894.9 1935,898 1942.4,910.7 1692.6,992.3 1675.2,1007.5 1713.3,1005.3 1678.2,1039.8 1644,1163.1 1782.3,1142.2 1757,1125.7 1773.9,1127.9 1791.8,1125.7 1723.2,980 1653.8,973.5"/></defs><use href="#p64" class="fm"/><use href="#p64" class="sm"/>
<defs><polyline id="p65" points="1854.8,887.9 1782.4,1006.3 1842.9,919.6 1821.4,993 1877.4,917.5 1828.7,993.6 1839.7,961.6 1819.9,975.7 1776.9,1005.7 1854.2,981.3 1883.2,879.9 1857.9,952.7 1808.4,981.9 1801.3,998.8 1831.1,979.8 1839.3,961.1 1791.4,985.9 1811.6,971.9 1840,967.6 1865.9,923.1 1830.8,965.1 1861.3,907 1800.4,982.5 1810.8,974.6 1823.9,959.8 1821.8,966.8 1846.5,919.9 1821.3,951.2 1833.1,935.2 1820.9,975.8 1858.1,980.1 1790,1015.3 1896.1,892.7 1911.5,889.9 1840.8,930.2 1827.7,938.5 1919,892.2 1794.4,1007.3 1817.7,985.2 1818.3,1008.8 1779.4,1033.3 1911.4,937.2 1876.7,932.3 1833.5,969.6 1844.8,937.3 1876.1,921.7 1841.5,912.8 1847.8,928.6 1867.2,947.7 1850.5,1022.6 1876.9,889.3 1842.5,926.3 1841.5,944.6 1818.8,981.4 1881.3,881.1 1830.5,950 1752.7,1062.4 1879.3,917.8 1854.9,881.5 1845.2,963 1845.7,934.6 1769.9,1033.5 1832.2,965.6 1777,1038.3 1778.7,997 1887.4,929.7 1792.8,1062.3 1841.6,943.6 1879.6,919.2 1841,945.7 1905,877.7 1841.9,970.6 1887.1,876 1786.6,1020.7 1866.8,919 1865.9,936.2 1843.1,930.6 1817,941.2 1852.8,955.1 1804.5,1018.7 1873.3,896.9 1840.4,944.4 1773.1,1058.3 1851.8,946 1825.8,955.7 1840.1,948.5 1801.5,1054.4 1828.7,943.3 1874.9,904.1 1870.6,923.1 1823.9,981 1839.9,969.4 1837.9,1025.9 1748.2,1077 1806.8,1004.4 1879.3,896 1816.3,967.3 1819.5,980.7 1800.4,983.5 1927.2,895.1 1813.8,983.4 1897.2,872.4 1873.6,913.6 1769.3,1064.4 1842.6,927.9 1807.8,1024.3 1809.7,951.7 1894.1,938.8 1868,912 1765,1042.4 1863.2,923.2 1839.9,951.8 1770.7,1038.9 1838.7,939.6 1875.8,913.2 1846.9,941 1807.8,959.9 1865.7,937 1817.1,961.9 1803.8,1002.5 1816.9,956.7 1908.5,861.6 1840,964.4 1782.3,1020.1 1820.2,936.7 1842.9,941.4 1838.1,954.5 1930.5,836.6 1865.8,920.4 1848.7,1007.8 1798.6,987 1888.5,918.4 1859.5,933.2 1774.8,1055.7 1868.6,930.4 1794.8,1029.7 1851.1,917.6 1856.6,925.7 1906.7,907.9 1872.7,909 1807,988.9 1875.2,925.4 1876.8,921.3 1833.8,1023.9 1837.5,957.7 1827.6,970.7 1845.8,935 1822.5,972.2 1770.3,1041.2 1780.3,1040.5 1894.7,915.9 1814,948.8 1842.6,945.6 1915.7,826.6 1821.4,964.3 1905.5,868.5 1813.1,1030.1 1848.2,968.4 1830.3,955 1801.4,1019.3 1764.4,1069.7 1850.4,1015.4 1829.4,987.8 1763.2,1037.4 1825,960.3 1850.3,984.8 1847.9,954.1 1805,993.1 1871.9,891.5 1885,906.5 1859.9,917.9 1819.9,987.9 1863.8,952.6 1818.8,946.8 1795.2,1016.1 1781.7,986 1797.3,1019.7 1863,925.2 1791,1005.8 1827.7,1031.4 1828.8,965.5 1844.8,962.3 1817.9,958.3 1808.5,1002.8 1802.8,1011.3 1744,1055.8 1818.2,972.7 1857.1,957.8 1833.8,946.1 1765.5,1028.2 1817,981.6 1793,982.3 1895.2,889.3 1859,921.8 1825.4,974.5 1820.9,976.7 1890.5,876 1871.4,918.9 1878.7,878.6 1796.4,979.3 1911.5,928.9 1836.6,967.6 1777.7,1031.7 1917.5,888.3 1828.6,978.4 1849.5,948.6 1843.7,969.2 1821.3,985 1869.6,905.9 1797.4,1024.9 1803.2,1064 1817,980.3 1854.5,946.6 1717.5,1080.9 1830.6,984.7 1823,988.4 1818.1,988.2 1852.3,964 1911.8,945.9 1883.1,906.7 1885.9,903.8 1840.9,961.1 1877,893.5 1803.6,947.3 1862.3,927.7 1872.7,939.1 1855.5,965.6 1871.2,897.4 1839.5,940.1 1802.7,968.5 1795.3,1021.1 1841.9,947.9 1842,963.8 1814.8,1038.6 1833.5,980.2 1804.3,988.9 1802,1002.9 1866.6,928.9 1828.7,953.8 1890.3,871.8 1900,880.9 1742,1041 1823.5,995.8 1879.4,912 1844.9,960.1 1762.3,1043.7 1767.7,1053.6 1808.6,961 1712.7,1058.5 1863.6,955 1829.7,987.2 1816.5,1009.2 1770.6,1038.9 1816.3,960.1 1826.7,989.4 1790.8,1016.9 1863,942.8 1878.4,907.5 1788.5,1035.8 1857,914.8 1828,980.1 1869.9,890.1 1856.2,946.9 1819.2,1015.5 1807.7,990.3 1863.9,897.8 1746.9,1033.6 1791.9,1011.5 1909.9,855.1 1866,915.1 1738.3,1055.8 1857,900.2 1831.9,979.5 1881.6,936.1 1852.6,970.2 1748.4,1019.1 1909.8,860.8 1777,1003.1 1843.5,931.7 1836.6,935.5 1852.8,905 1841.8,983.1 1799.9,968.9 1776,1037.5 1794.6,1027.1 1811.7,999 1833.5,982.2 1787.6,1022.2 1878.5,896.8 1832.9,936.4 1794.4,1025.9 1791.7,984.7 1770.3,1017.7 1800.8,1008.6 1793.7,992 1935.5,835.6 1884.8,897.7 1815.1,993.5 1884.8,883.1 1860.8,938.5 1840.7,976 1796.7,994.6 1742.8,905.4 1821,897.6 1837.2,894.5 1872.1,888.5 1877.4,892.8 1797.7,929.3 1756.6,943 1779.8,940.3 1786.5,943 1770.7,965.6 1777,973 1860.5,909.7 1856.2,920.2 1937.1,824.1 1924.9,831.9 1956.6,833.6 1944.1,836.4 1923.4,846.7 1931.2,928.3 1765.4,981.1 1725.9,1081.8 1763.9,1108.8 1800.7,1121.9 1735.9,1101.4 1752.7,1024.4"/><polyline id="p66" points="1796.3,1010.1 1865.1,913.5 1781.1,965.8 1763,1017.7 1828.2,983.4 1843.9,967.5 1826.6,970.5 1824,1011.4 1814.9,979.6 1875.7,928.4 1855.2,944.5 1802.8,998.8 1803.7,1006 1875.5,920.6 1924.8,825.2 1828.3,947.9 1853.3,941.5 1797.3,980.2 1759.7,1044.7 1821.1,987.7 1791.4,1022.5 1880.5,901.3 1801.8,999.6 1828.1,957.1 1826.5,965.5 1855.4,948.5 1770.2,1032 1855.6,908.7 1858.6,943.2 1811.2,997.9 1878.1,923.4 1844.6,950.4 1899.7,855.5 1826.9,999.7 1927.3,840.8 1790.3,1042.9 1848.2,944.9 1856.5,923.4 1828.7,967 1888.3,875.4 1849.4,947.3 1955.2,847.9 1758.1,1008.2 1847.9,926.7 1887.9,884.3 1875.8,914.3 1808.8,1002.9 1851.8,984.1 1813.2,1008.6 1875.1,929.1 1770.6,1050 1883.5,920.2 1824.5,968.4 1916,835.7 1912.9,857.9 1952.6,919.2"/><polyline id="p67" points="1884.7,907.6 1831.4,941.3 1865.4,909.6 1837.8,978.3 1847.8,954.6 1833.5,949.4 1750,1062.3 1919.9,821.2 1800.4,1020.7 1860.7,939.5 1861.8,935.9 1894.2,906.5 1760.5,1050.1 1817.9,970.9 1862.8,961.1 1878.8,932.6 1885.8,872.2 1858.1,916.1 1836.6,994.7 1866.9,920.7 1775.2,1025.3 1816.9,988.3 1811.5,1011.1 1865.9,942.9 1876.9,901.2 1841.6,979.1 1808.3,1005.5 1881.9,909 1861.2,934.1 1789.6,1026.7 1907,882.2 1814,981.7 1758.3,1057.2 1867.7,892.5 1822.4,1017.1 1792,989.7 1814.2,1015.2 1843.9,929 1858.1,906.2 1827.5,1013.5 1801.7,986.8 1856.5,930.2 1851.5,925.2 1822.9,973.3 1878.7,917.5 1869.6,933.1 1790.3,1016 1848.9,957.5 1887.5,866.5 1829.7,971 1872.3,950.8 1806.4,974.8 1891.9,909.3 1838.1,977.2 1793.2,1014 1881.3,917.3 1795.5,1001.8 1906.6,831.6 1834.2,950.8 1852,943.1 1889.5,909.4 1763.7,1039.4 1822.3,980.5 1833.6,966.4 1913.1,867.6 1822.6,969 1815.6,968.1 1841.2,935.3 1830.8,994.6 1865.2,913 1796.1,988 1898.4,876.3 1843.9,929.2 1844.2,988.4 1832.7,1009.1 1790.1,1008.7 1790.1,1039.9 1852.1,927.6 1832.3,963.8 1865.6,936.1 1846.5,957.4 1770.7,1064 1828,949.9 1888.4,911.3 1792.5,999.4 1841.7,953.2 1779.4,1014.5 1846.9,935.1 1861,927.5 1844.6,976.7 1850.4,932.2 1843.9,949.2 1780.8,991.8 1814.7,966.8 1874.1,903.1 1813.3,994 1877.6,878.5 1851.3,951.7 1818,989.7 1869.9,937.4 1860.5,972.3 1885.4,889.9 1811.8,981.4 1899,873.6 1850.7,922.4 1856.9,921 1822.9,963.7 1791.6,1004 1852.3,925.5 1869.6,916.5 1815.2,996.6 1856.4,913.1 1781.3,1014.9 1850.8,940.8 1782.5,971.1 1817.7,977.4 1862.8,927.6 1870,904.2 1826.1,968.9 1895.4,863.7 1897.1,891.1 1821.4,984.5 1814,965.4 1820.5,990.6 1838.6,970.2 1904.4,854.7 1893.8,863.2 1756.3,990.6 1728,1002.2 1742.8,1214.9 1823.5,1091.3 1767.1,1085.6"/></defs><use href="#p65" class="fab"/><use href="#p66" class="fab1"/><use href="#p66" class="oab1"/><use href="#p67" class="fab2"/><use href="#p67" class="oab2"/><use href="#p65" class="sab"/><use href="#p66" class="sab1"/><use href="#p67" class="sab2"/>
<defs><polyline id="p68" points="1929,1073.8 1784.5,1173.8 1848.9,1123.5 2001.6,1126.4 1919.9,1116.8 1838.3,1132.7 1851.3,1147.6 1881.4,1079.3 1870.9,1133 1931.3,994.8 1935.2,1092.5 1927.8,1138.2 1887.9,1087 1996,1117.3 1848,1144.5 1874.1,1121.8 2097.6,1114.3 2052.5,1097.5 1908.9,1094.7 1863,1102.1 2091.6,1130 1832.7,1122.6 1975.1,1117.3 1982.8,1007.7 1772.4,1171.1 1916.9,1133.7 1869.3,1073.5 1862.7,1085.9 2105.7,1140.5 2050.3,1152.2 1881.1,1070.9 1956.4,1162.7 2084.7,1114.8 1787.2,1173.6 1855.8,1092.8 1877.9,1078.4 2108.7,1131.6 1817.5,1158.6 1858.4,1111.6 1942.7,1100.3 1852.9,1130 1853.4,1106.7 1931.9,1137.7 2151.2,1085.7 1844.1,1130.9 1962.2,962.9 1835.5,1136.9 1943,1033.2 1882.3,1046.1 1878,1075 1869.2,1090.6 1843.3,1097.7 1889.7,1103.6 1833.5,1109.7 1837.5,1126.5 1905.5,1105.8 1975,1050.5 1879.5,1119.7 2086.2,1114.9 1881.9,1125.8 1864.9,1116.4 1891.5,1046 1818.4,1149.8 1872,1099.8 2008.1,1113.6 1807.6,1136.7 1857.6,1080.8 1953.9,1094.6 1975,1129.9 1855.3,1106.3 1931.4,1145.1 2011.2,1050.2 1922.2,1002.8 2006.2,1107.7 1914.5,1066.4 1869.9,1165.2 1889.1,1160.2 1814.1,1128.4 1904.5,1138 1828.3,1115.8 1864,1097.5 1982.7,1133.2 1860.9,1108 2025,1128.5 2016.2,1108.8 2006.9,1054.9 1872.4,1106.9 2004.7,1104.6 1990.9,1100.6 1812.2,1169.9 2032.8,1142.7 1924.1,1089.1 1837.5,1125.4 1919.7,1080.1 1882.2,1093.6 2101.3,1129 1909.8,1094.3 1909.3,1076.6 2071.5,1127.1 1817.6,1144.8 1847.6,1090.8 1893.5,1104.7 1976.8,941.2 1879.9,1061.1 1861.5,1116.2 1899.9,1112.3 1925.8,1091.9 1863.9,1140.2 1923.6,1120.1 1892.7,1118.4 1809.9,1132.6 1890.6,1082.6 1876.8,1109.8 1896.5,1165.6 1864,1088.3 1962,945.5 1982,993.4 1895.5,1125 1911.4,1072.3 1845.7,1090.4 1876.1,1113.9 1995.8,1039.3 1975,988.3 2137,1137.7 1854.4,1150.9 2059.9,1092.7 1844.8,1110.1 1878.9,1092.4 1929.4,1105.6 1925.2,1121.9 1848,1085.5 1830.7,1172.3 2147.1,1109.9 1843.7,1110.8 1960.4,1066.8 1867.3,1109.4 1845.1,1130.2 1902.5,1130.2 1904.9,1115.1 1843.5,1151 1837,1106.1 2033.9,1123 1854.2,1139.6 1947.2,1088.2 2077.2,1128.2 2034.3,1050.8 1853.8,1177 1855.2,1174.7 1868.6,1093.6 1941.4,1072.1 1959.2,1101.6 1845.5,1093.3 1848.8,1106.4 1939.8,1086 2078.3,1114.1 1876.9,1124.7 1897.8,1086.2 1995,927.6 1854.5,1104.7 2104.8,1126.2 1865.2,1101.5 1872,1057.4 1953.6,1078 2033.6,1090.3 1883.2,1111.2 1861.5,1100.8 1891.1,1074 1810.7,1148.5 1885.9,1082.3 2086.8,1133.4 2129.2,1111.4 1986.3,1082.2 1903.7,1053.9 1923.1,1113.9 1904.7,1120.4 1941.6,1123.2 2085.7,1100.3 1962.7,1135.1 1835.5,1123.4 1910.2,1116 1974.7,1121.6 1856.2,1150.3 1959.8,1084.4 1828.6,1147.1 1882.6,1076.9 1820.3,1120.3 1781.8,1178.6 2034.5,1107 1876.5,1084.2 1855.9,1124.6 1857.3,1072 1890.4,1126.8 1831.6,1135 1879.4,1103.9 1857.1,1144.7 2004.9,963.9 1881.5,1084.8 1856.4,1129.1 1925.9,1069.9 2005,1067 1932.9,1107.6 1865,1165.3 2004.3,1123.4 1898.1,1136.4 1825.7,1143.1 1890.8,1123.1 1918.3,1089.1 1891,1129 1886.9,1094.2 1933.8,996.5 1850.3,1152.2 1894.7,1114.8 1836.5,1130.9 1896.4,1114.5 1885,1089.2 1942.8,1073 2127.8,1111.8 1887.1,1124 1871.8,1111.7 1845.3,1120.4 2116.8,1140.2 1970.3,1091.8 1954.8,1009.6 1913.1,1067.3 1972.8,968.2 1889.1,1085.2 1891.5,1090.1 1946,976.6 1924.5,1049.6 1917.9,1083.8 1882.5,1092.9 1940.4,1068.9 1939.8,1072.6 1903.5,1035.3 1823.2,1121.8 1940.4,1070.3 1985.3,996.9 2116.3,1118.1 1851,1085.2 1932.2,1058.1 1949.5,1116.5 2103.5,1128.9 1926.7,1096.9 2035.5,1101.8 1935.2,1084 1796.8,1150 1900.9,1131.2 2067.6,1105.2 1963.8,1076.9 1916.2,1110.7 2058.5,1120.2 1953,1121.2 2062.4,1132.8 2088.5,1113.4 1827.1,1157.5 1896.4,1058 1783.4,1173.8 1864,1163.4 1914.4,1082.4 1888.6,1109.4 2037.4,1143.1 1896.8,1090 1855.6,1167.9 1806.4,1163.1 1835.5,1140 2040,1088.9 2005.9,1118.3 2094.4,1116.7 1883.2,1100.5 1837,1125.5 1838,1187 1839.8,1121.5 1968.6,1086.7 1961.9,1093.6 1936.4,971.5 1891.8,1087.5 1933,1080.7 1844.7,1138.9 1957.5,1127.3 1852.8,1146.5 2127.2,1117.7 1889.8,1128.4 1821.9,1126.7 1858.7,1124.3 2041.9,870.6 2044.2,900.2 2124.1,944.9 2154.1,962.5 2111.4,973 2060.7,973 2069.2,977.3 2007.3,975.1 1955.1,944.5 1962.1,949.4 1949.8,953 1941.4,962.5 1932.5,968.8 1943.9,969.4 1916.7,978.3 1989.9,985.3 2094.5,987.4 2069.2,978.9 2023.7,1030.1 1951.3,1048.6 1969.2,1064.1 1989.3,1069.1 2082.9,1185.9 2167.4,1244 1909.7,1162.3 1977.3,1164.8 1819.3,1118.3 1805.6,1138.4 1819.3,1137.4 1822.4,1146.9 1820.3,1156.4 1811.9,1162.7 1809.8,1169.5 1813.6,1183.2 1871.7,1163.3 2023.1,1030 2169.8,1241.9"/></defs><use href="#p68" class="fz"/><use href="#p68" class="sz"/>
<defs><polyline id="p69" points="1887,963.4 1810.6,994.2 1856.9,986.5 1841.3,1023.3 1817.7,991.2 1821.3,1008.5 1750,1071.8 1860.7,977.6 1791.7,1022.9 1789.1,1017.9 1860,1007 1832.8,1014.8 1817.4,1011.9 1860.8,970.5 1828.6,1005.1 1873.1,897.4 1787.8,1043.8 1799.1,1035.2 1818.9,971.9 1818.4,1017.7 1819.5,1023.8 1889.2,979.1 1800.2,1037.8 1843.6,999.9 1801.7,1019.7 1852.6,963.1 1796.2,1015 1850.9,966.1 1816.2,1018.2 1792.7,1020.6 1821.2,1038 1814.6,1055.7 1945,1006 1782.7,1034.5 1827.5,1016.8 1785.3,1019.5 1816,1023.5 1862.2,983.3 1808.5,1030.1 1803.6,1029.5 1855.1,984.6 1793.3,1040.3 1804.4,1007.4 1828,1003 1824,1029.7 1789.7,1044.4 1811.2,1007.2 1885.8,910.8 1778.5,1066.5 1780.7,1075.1 1856.2,1000.9 1855,959.7 1820.5,1015.9 1855.1,991.9 2098.2,912.2 1814.2,968.5 1850.4,980.2 1859.9,988.7 1760.5,1105.4 1845,999.6 1797.6,1009.4 1848.7,909.9 1825.5,977.6 1863.1,952.5 1850.1,1000.9 1828.8,996 1829.9,1003 1809.2,976.1 1835.7,985.2 1811.5,1040.8 1843.9,1009.3 1787.1,1052.1 1838,1012.2 1819.3,1055.1 1836.7,1020.7 1825.2,1012.6 1821.7,1011.1 1793.4,1050.8 1753.2,1054.8 1809,1018.3 1718.9,1096.3 1826.6,985.5 1804.2,1051.9 1746.5,1088.3 1749.9,1095.2 1859.6,945.3 1778.6,1057.3 1847.7,1008 1818,993.8 1829,997.2 1828.4,1037.4 1910.9,890.5 1837.8,978.2 1895.3,928.2 1826.9,1031.3 1821.6,1035.5 1840.6,985.9 1859.9,969.2 1812,1027.3 1829.9,1029.2 1827,998.9 1813.7,1031.8 1825.3,1049 1819.8,1104.6 1838.2,1050.1 1822.9,1025.1 1819.9,1035.9 1834.4,1045.9 1837.4,1023.2 1843.2,1046.8 1771.8,1064.3 1800.7,1011.2 1825.3,970.9 1794.8,1054.8 1821.2,982.5 1797,1020.6 1859.1,1017.1 1814,1004 1800.2,1058 1819.1,1040.5 1883.2,932.6 1765.3,1070 1817.8,1010.6 1785.5,1067.3 1850.8,995 1777.5,1061.1 1863.9,975.8 1841.7,995.6 1886.4,993.3 1850.7,965 1847,1012.3 1810,1006.4 1819,987.1 1827.3,1033.8 1831.7,1009.6 1814,1019.7 1777.4,1049.1 1826.5,1022.5 1840.5,1011.2 1907.6,976.8 1813.4,955.8 1812.5,1034.8 1837.9,996.8 1834.5,1003.2 1859.3,988.3 1851.6,1004.2 1852.7,888.8 1781.4,1031.1 1825.8,979.8 1835.6,1024.1 1886.9,945.4 1796.5,1023.7 1715.1,1088.2 1857.6,1004.8 1832.2,974.3 1792.5,1058.1 1787.9,1045.6 1872.4,968.7 1824.2,1048.1 1833.2,1010.3 1837.3,996.8 1804.6,981.4 1799.5,1065 1796.7,977.7 1800.1,1099.9 1793.6,1013.7 1835.2,1016.5 1831.5,1004.5 1821.5,1047.8 1847.7,965.4 1821.9,1067.9 1811.8,966.7 1782.7,1057.9 1769.7,1048.6 1800.6,959.7 1805.3,1051.2 1844.3,951.3 1794.7,1030.1 1833.2,1019.3 1835.6,1081.6 1779.9,1024.8 1853.3,976 1845.9,1015.1 1834.7,1007.3 1832.5,1040.4 1819.8,1014.6 1873.2,993.7 1831.4,983.5 1815,1048.9 1875.9,968.1 1808.9,1044.2 1873.8,994.9 1809.9,1026.1 1865.5,966.2 1827.8,971.7 1802.5,1018.5 1856.9,970.8 1815.7,1068.1 1848.4,983 1898.4,910.3 1781.5,1042.6 1985,934.3 1865.5,972.3 1735.4,1042.7 1767.4,1004.7 1829.5,1012.8 1787.1,1005.4 1822.1,1020 1820.8,1010.2 1883,983.9 1866.3,1002 1803.3,1029.8 1785.9,1003 1902.4,989.1 1867.5,950.8 1825.9,986 1841.1,993.9 1891.6,1030.8 1809.3,1031.6 1839,1010 1873.6,969.2 1832.3,1015.6 1829.5,1027.9 1766.5,1075.3 1799.3,1057.5 1818,1005 1813.8,1000.4 1814.9,1041.2 1844.4,967.7 1834.8,1029.5 1775.4,998.8 1793.5,1032 1849.9,974.1 1813,976.9 1847,959.1 1849.3,977.5 1864,966.6 1798.2,1036.7 1766.6,1034.3 1881.3,1010.5 1851.3,994.4 2016.6,939.9 1829.8,1040.4 1862.2,918.4 1826,980.3 1868,959.2 1800.5,1009.8 1994.6,994.7 1802.2,1007.8 1785,1045.8 1801.4,1049.5 1792.3,1016.9 1892.5,977.2 1792.2,1082 1824.8,1064.8 1862.6,938 1857.8,993.9 1767.7,1011.8 1913.5,1022.6 1881.2,948.6 1862.7,1013 1866.3,991 1815.6,1029.1 1813.9,1025.3 1828,997.4 1870.6,942 1852.5,980.9 1807.9,1034.6 1901.1,942 1779.2,1060.1 1826.7,992.8 1806.6,1003 1805.7,1049.6 1801.4,1033.2 1835.1,1006 1810.5,1039.2 1797.3,1041.7 1824.7,1007.6 1845.7,1032.7 1909,890.5 1803.5,1078.3 1813.7,1007.6 1817.2,986.1 1845.1,983.2 1817.5,1023.3 1853.4,1027 1811.9,1096.2 1782.8,1052.1 1891.8,927.1 1817.3,1045.8 1852.1,963 1897.4,989 1865.1,966.3 1876.8,944.2 1766.7,1058.4 1870.3,968.8 1819.9,1006.8 1794.9,1011.7 1788,1086.4 1800.8,1018.2 1835.1,1066.9 1797.1,1059.6 1834.4,1014.3 1797.9,1022.5 1775.2,1062.1 1818.9,1010.6 1813,1036.8 1833.6,1018.9 1819.7,994 1885.7,912 1828.8,980 1819.4,1038 1807,1037.5 1836,1012.1 1831,982.2 1788.3,1021.6 1795.5,1010 1811.6,1066.9 1926.4,917.2 1769.2,1026.8 1841.9,979.1 1824.2,1081.9 1827.8,1029.4 1841.4,983.1 1837.9,1009.2 1811,1050.6 1829.6,1015.4 1810.5,1009.1 1845.1,995.2 1836.5,1020.1 1782.5,1048.9 1888.1,950.6 1788.5,1022.1 1809.5,1090 1884,928.1 1822.5,935.7 1813.6,1055.5 1804.7,967.2 1851.4,1007.4 1816.9,951.7 1817.3,998.4 1807.4,1052.5 1854.8,1027.6 1840.6,994.8 1850,1000.4 1804.6,1035.8 1834.8,1021 1821.7,1018.4 1861.2,1029.2 1769.8,1071 1796.6,1037.1 1841.2,1031.4 1833,1040.2 1821.3,1041.8 1856.6,962.8 1828.1,1043.2 1925.1,919.6 1873.9,1000.5 1786.3,1037.1 1821.2,1023.5 1839.9,1014.5 1851.2,998.2 1839.9,924.4 1842.1,1014 1785,1094.7 1832.2,1005.2 1864.2,968.2 1787.8,1046 1852,1032.2 1851.3,999.7 1895.5,997.4 1822.7,1055 1842.4,1013.9 1804.9,1047.4 1790.3,1047.1 1822.1,1039.3 1821,1030.7 1808.9,952.3 1853.5,990.2 1804.3,1012.2 1781.8,1065.5 1920.2,926.3 1829.8,1007.3 1775.5,1087.2 1807,992.6 1801.1,1077.8 1816.6,979.5 1802.1,1024.8 1789.8,1068.5 1802,1047.8 1800,1048.5 1859.6,1020.2 1833.4,1037.6 1818.2,1030.2 1792.4,1014.6 1802.5,1011 1804.6,1055.6 1844.7,979.2 1892,937.3 1803.2,1027.7 1837.5,1016.4 1850.7,1014.6 1817.8,1008.5 1823.7,1025.4 1775.6,1056.3 1851.2,980.6 1807.9,1000.1 1820.7,991 1798.5,1047.4 1813.6,1047.7 1811.1,1016.3 1790.3,1023 1816.6,1043.6 1837.3,999.8 1840.1,968.4 1792.5,1058.5 1804.4,1056.7 1798.9,1039.3 1836.8,1018.4 1812.6,968.2 1852.1,1017.7 1810.9,1054.2 1792.7,1025.7 1813.3,1036.9 1808.2,1017.2 1880.4,973.3 1780.3,1057.3 1832.5,1025 1764.2,1008.1 1814.4,1009.2 1823.8,1020.7 1817,1012.3 1785.7,1055.4 1856.5,987.6 1883.3,965.3 1811.6,1049.9 1770,1059 1761.6,1009.6 1871.9,966.4 1848.2,1014.7 1816.6,1042.4 1793.5,1055.3 1947,889.5 1819,1025 1926.3,1003.2 1790.6,1050.6 1821.4,1034.2 1801,1023.2 1844.4,1010.2 1842,1012.9 1747.9,1078.7 1781,1034.1 1850.9,906.4 1819.7,1048.1 1832.3,1037.2 1827.3,1001.3 1858.9,952.6 1840.7,1005.4 1837,981.5 1829.7,997.4 1806.6,1009.7 1791.5,1030.6 1806,1003.5 1847.6,1011.7 1850.6,993.1 1814.1,1008.2 1866,985.3 1833.7,992.5 1865.2,991.3 1751.1,1129.2 1829.4,984.7 1760.3,1085.5 1749.6,1074.3 1788.8,1036.1 1799,1000.8 1839.1,1043.4 1847.3,973.6 1871.6,986.8 1805.1,1057.4 1857.7,991.4 1937.3,1006.6 1876.7,916.4 1883.4,920.6 1839.4,1009.6 1839.2,985.7 1834.8,979.8 1884.8,947.7 1857,1017.1 1798.7,1047.1 1776.3,1028.8 1844.7,1031 1859.7,1001.3 1819.3,995.7 1859.2,974.9 1830.7,1058.5 1913,868.1 1864.1,987.5 1770.5,1017.1 1844.3,969.1 1842.3,1017.7 1809.9,1018 1805,1064.3 1782.3,1071.2 1824.3,985.7 1876,941.2 1838,1025.9 1860.8,979.8 1840.4,982.8 1792.2,1068.1 1818.2,967.5 1841.1,983.5 1787.5,1009.8 1864.3,937.2 1792.9,1053.1 1840.3,1035.9 1865.4,966.6 1860.7,969.1 1810.9,1024.1 1904.5,992.5 1868.8,1040.5 1891.9,965.7 1805.9,1027.1 1855.3,987.5 1838.9,1019.7 1793,993.3 1783.1,1049.1 1814.2,981.4 1860.6,1053.4 1779.9,1075.1 1828.7,989.7 1818.9,1000.6 1828.6,979.4 1790.4,1088.2 1827.3,1043.5 1813.4,1043.6 1849.3,1001.2 1750.5,1076.2 1787.9,1027.5 1861.5,973.9 1852.6,1035.3 1774.8,1008.7 1794,1044.6 1861.2,980.4 1764.5,1062.7 1776,1059.3 1754.2,1094.7 1807.8,994.5 1833.4,988.4 1774.2,1052.4 1800.7,1024.2 1816.1,1044.6 1797.7,1024.2 1761.4,1074.1 1840.8,993.2 1841.1,985.9 1780.2,1062.8 1808.5,1038.9 1877.7,958.8 1827.8,985.3 1851.7,990.9 1755.9,1062.7 1943.4,955.5 1867.6,963 1847,926.1 1836.9,966.7 1862.2,1007.4 1856.1,1005.4 1825,1045.2 1898.4,952.3 1828.3,1012.1 1815.5,1024.4 1781.4,1077.4 1842.6,1008.8 1850,947.2 1800.1,1076.8 1816,1023.1 1794.7,1025.2 1782.2,1038.3 1729.8,1085.1 1815.9,1028.3 1816.9,1032.6 1832.7,1015.3 1807.8,1027.8 1738.8,1088.3 1845.2,1013 1904.1,917.7 1801.3,1047.1 1794.9,1055.5 1853.8,985.6 1849,929.5 1796.1,1025 1802.2,1004.8 1824.4,1015.1 1842.6,983.9 1809.3,1104.5 1836.7,1034.9 1787.9,1047.8 1765.2,1088.9 1844.8,963.2 1839.4,1015.1 1874.7,935.6 1857.8,990.3 1834.7,1017.1 1816.9,997.1 1832.5,1028.1 1861.6,1000.7 1836.5,1028.8 1811.8,1014.2 1781.5,856.9 1868.9,843.1 1867.4,875.9 1701,957.8 1787.6,968.8 1750.2,978.3 1791.8,977.3 2036,916 1984,923 1979,948.1 2029,955.7 2106.1,955.1 1970.9,977.3 1946.6,942.4 1954,951.3 1938.2,901.2 1940.9,906.5 1925.5,857.9 1918.1,868.5 1970.9,980 2004.1,984.2 1989.3,1123.6 2077.2,1117.3 1927.6,1150 1930.2,1159.1 1986.4,1154.3 1900.6,1107.8 1894.9,1055 1891.7,1059.2 1721.1,1032.8 1730.6,1035.3 1740.1,1098.3 1691.5,1082.4 1735.9,1049.7 1835.1,1095.1 1854.1,1089.8 1872.1,1078.2 1845.7,1066.6 1784.4,1087.7"/></defs><use href="#p69" class="fy"/><use href="#p69" class="sy"/>
<path d="M1796.1 692.3V1268.8" stroke="#1a1a1a" stroke-width="1.9"/><path d="M1590.3 1021.7H2166.6" stroke="#1a1a1a" stroke-width="1.8"/><path d="M1590.3 1310.8L2166.6 538.3" stroke="#ff0000" stroke-width="2.4"/>
<defs><polyline id="p70" points="1735.6,1146.1 1694.8,1177.9 1750.4,1141.8"/><polyline id="p71" points="1877.4,980"/><polyline id="p72" points="1693.6,1196.4 1594,1251.3 1652.5,1170 1601.9,1178.5 1679.7,1211.2 1726.7,1218.2 1753.4,1163.5 1680.6,1134.5 1774.1,1074.8 1711.9,1114.2 1735.2,1144.3 1661.6,1272.3 1641.1,1200.8 1652.7,1158.7 1690.3,1137.2 1584.2,1227.8 1610.5,1270.2 1634.5,1172.9 1700,1150.2 1630.7,1169.8 1674.2,1158.4 1672.1,1194.2 1684.2,1259.6 1736.5,1142.4 1704.6,1136.2 1690.1,1134.4 1673.6,1161 1703.6,1198 1633.4,1196.2 1617.5,1175.2 1640.9,1211.6 1652.3,1250.9 1669.2,1159.6 1597.7,1219.7 1675.3,1266.9 1779.1,1089.8 1661.5,1167.6 1615.5,1239.1 1632.6,1181.3 1630.6,1163.3 1591.2,1244.8 1588.3,1225.8 1593,1240.3 1760.2,1180.1 1617.5,1181.2 1594.5,1262.1 1584.3,1196.9 1601.2,1178 1715,1140.8 1660.3,1151 1625.9,1220.3 1789.7,1123.1 1790.9,1251.8 1790.9,1206.6 1766,1170.4 1681.6,1055.4 1649.3,1078.8"/><polyline id="p73" points="1700.3,1111.6 1626.1,1125.5 1595.1,1147.2 1691.2,1063.5 1658.6,1099.3 1691.7,1099.7 1621.1,1131.4 1676.3,1085.4 1649.3,1129.9 1588.4,1170.8 1633.4,1162.2 1602.8,1169.5 1678.9,1086 1618,1123.8 1648.7,1103.3 1583.6,1116.8 1660.7,1126.7 1713,1071.5 1705.2,1067.3 1617.5,1163.5 1593.1,1159.4 1690.5,1095 1589.3,1134.6 1660,1118.5 1639.7,1117.9 1633.3,1136.3 1605.5,1131.8 1709.5,1117.7 1587.6,1169.9 1618,1146 1666.5,1093.5 1606.3,1149.8 1705,1073.1 1673.3,1115.8 1611.1,1145.9 1596.9,1187.5 1700.9,1105.9 1670,1097.5 1600,1154.4 1696.1,1080.9 1631.4,1130.6 1700.7,1124.7 1624.8,1140.1 1626.1,1112.9 1624.6,1133.9 1650.3,1114.1 1661.7,1128 1583.7,1139.5 1649.2,1138.9 1644.5,1112.1 1610.5,1166.2 1645.2,1144.4 1586.7,1183.2 1647,1085.5 1585,1150.6 1640.3,1137.2 1598,1136.4 1706,1107.3 1647.3,1095.9 1594.8,1161.2 1609,1103.9 1626.8,1124.4 1693.8,1082.8 1675.4,1114.8 1586.1,1171.1 1634.3,1130.1 1669.6,1110.1 1645.4,1130.3 1611.9,1144.3 1607.2,1144.5 1625.3,1151 1624.2,1124.3 1606.1,1133.1 1682.3,1113 1593.8,1135.2 1610.9,1146.1 1654.7,1105.7 1583.8,1151.3 1675.5,1130.4 1651,1149.9 1594.4,1137.2 1635.5,1113.7 1633.1,1119.4 1648.9,1100.6 1698.3,1114.8 1647.3,1119.3 1639.4,1131 1610.5,1132.9 1585.7,1185.1 1619.4,1127.5 1595.3,1168.7 1654.7,1132.5 1603.1,1136.4 1696.8,1076.5 1583.6,1194.3 1595.7,1128.3 1673.5,1132.4 1585.9,1150.5 1645.3,1096.6 1665.2,1088.3 1644,1099.5 1615.7,1140.6 1584.1,1145.5 1783.4,1023.3 1759.5,1038.7 1747.9,1056 1721.1,1065.5 1739,1083.5"/></defs><use href="#p70" class="fx"/><use href="#p70" class="ox"/><use href="#p71" class="fx0"/><use href="#p71" class="ox0"/><use href="#p72" class="fx2"/><use href="#p72" class="ox2"/><use href="#p73" class="fx1"/><use href="#p70" class="sx"/><use href="#p71" class="sx0"/><use href="#p72" class="sx2"/><use href="#p73" class="sx1"/>
<defs><polyline id="p74" points="1996.9,814.6 2064.9,830"/><polyline id="p75" points="2063.9,710.5 2106.1,765.4 2146.2,834"/></defs><use href="#p74" class="fc1"/><use href="#p74" class="oc1"/><use href="#p75" class="fc2"/><use href="#p75" class="oc2"/><use href="#p74" class="sc1"/><use href="#p75" class="sc2"/>
<defs><polyline id="p76" points="1692.1,771.3 1645,805.1 1693.6,820.3 1811.9,919.8 1815.7,939.2 1843.6,972"/></defs><use href="#p76" class="fd"/><use href="#p76" class="sd"/>
<defs><polyline id="p77" points="1999.9,912.2 2053.3,907.6 1957.2,969.4 1930.4,973.7 1924.9,995.8 1936.1,1006 1900.2,1011.3 1978.3,1013.2 1918.1,1024.4 1900.2,1030.7 1907.6,1040.2 1897,1045.5 1878,1037 1902.9,1067.7 1990.6,1107.4 2140.5,1095.1 2058.6,1268.3 1855.6,1077.6 1807.7,1143.3 1877.4,1037"/></defs><use href="#p77" class="fn"/><use href="#p77" class="sn"/>
</g>
<path d="M1631.5 1268.8v-13.2M1631.5 692.3v13.2M1713.8 1268.8v-13.2M1713.8 692.3v13.2M1796.1 1268.8v-13.2M1796.1 692.3v13.2M1878.4 1268.8v-13.2M1878.4 692.3v13.2M1960.8 1268.8v-13.2M1960.8 692.3v13.2M2043.1 1268.8v-13.2M2043.1 692.3v13.2M2125.4 1268.8v-13.2M2125.4 692.3v13.2M1672.6 1268.8v-7M1672.6 692.3v7M1755 1268.8v-7M1755 692.3v7M1837.3 1268.8v-7M1837.3 692.3v7M1919.6 1268.8v-7M1919.6 692.3v7M2001.9 1268.8v-7M2001.9 692.3v7M2084.3 1268.8v-7M2084.3 692.3v7M1590.3 1186.4h13.2M2166.6 1186.4h-13.2M1590.3 1104.1h13.2M2166.6 1104.1h-13.2M1590.3 1021.7h13.2M2166.6 1021.7h-13.2M1590.3 939.4h13.2M2166.6 939.4h-13.2M1590.3 857h13.2M2166.6 857h-13.2M1590.3 774.7h13.2M2166.6 774.7h-13.2M1590.3 1227.6h7M2166.6 1227.6h-7M1590.3 1145.3h7M2166.6 1145.3h-7M1590.3 1062.9h7M2166.6 1062.9h-7M1590.3 980.5h7M2166.6 980.5h-7M1590.3 898.2h7M2166.6 898.2h-7M1590.3 815.8h7M2166.6 815.8h-7M1590.3 733.5h7M2166.6 733.5h-7" stroke="#000" stroke-width="1.35" fill="none"/>
<rect x="1590.3" y="692.3" width="576.3" height="576.5" fill="none" stroke="#000" stroke-width="1.8"/>
<text x="1631.5" y="1305.6" text-anchor="middle" font-size="29">−200</text>
<text x="1713.8" y="1305.6" text-anchor="middle" font-size="29">−100</text>
<text x="1796.1" y="1305.6" text-anchor="middle" font-size="29">0</text>
<text x="1878.4" y="1305.6" text-anchor="middle" font-size="29">+100</text>
<text x="1960.8" y="1305.6" text-anchor="middle" font-size="29">+200</text>
<text x="2043.1" y="1305.6" text-anchor="middle" font-size="29">+300</text>
<text x="2125.4" y="1305.6" text-anchor="middle" font-size="29">+400</text>
<text x="1576.7" y="1277.2" text-anchor="end" font-size="29">−300</text>
<text x="1576.7" y="1194.8" text-anchor="end" font-size="29">−200</text>
<text x="1576.7" y="1112.5" text-anchor="end" font-size="29">−100</text>
<text x="1576.7" y="1030.1" text-anchor="end" font-size="29">0</text>
<text x="1576.7" y="947.8" text-anchor="end" font-size="29">+100</text>
<text x="1576.7" y="865.4" text-anchor="end" font-size="29">+200</text>
<text x="1576.7" y="783.1" text-anchor="end" font-size="29">+300</text>
<text x="1576.7" y="700.7" text-anchor="end" font-size="29">+400</text>
<text x="1791.8" y="700.3" text-anchor="end" font-size="19.4" transform="rotate(-90 1791.8 700.3)">solar</text><text x="2158.6" y="1017.1" text-anchor="end" font-size="19.4">solar</text><text x="2020" y="757.1" text-anchor="start" font-size="19.4" class="r">M0</text><text x="1607.6" y="732.8" font-size="32.5">(f)</text>
<text x="1878.4" y="1365.3" text-anchor="middle" font-size="39"><tspan font-family="'Liberation Serif', 'DejaVu Serif', serif" dy="0">δ</tspan><tspan font-size="25.5" dy="-16.6">30</tspan><tspan dy="16.6">Si (‰)</tspan></text><text x="1493" y="980.5" text-anchor="middle" font-size="39" transform="rotate(-90 1493 980.5)"><tspan font-family="'Liberation Serif', 'DejaVu Serif', serif" dy="0">δ</tspan><tspan font-size="25.5" dy="-16.6">29</tspan><tspan dy="16.6">Si (‰)</tspan></text>
</g>
</svg>
</body></html>
